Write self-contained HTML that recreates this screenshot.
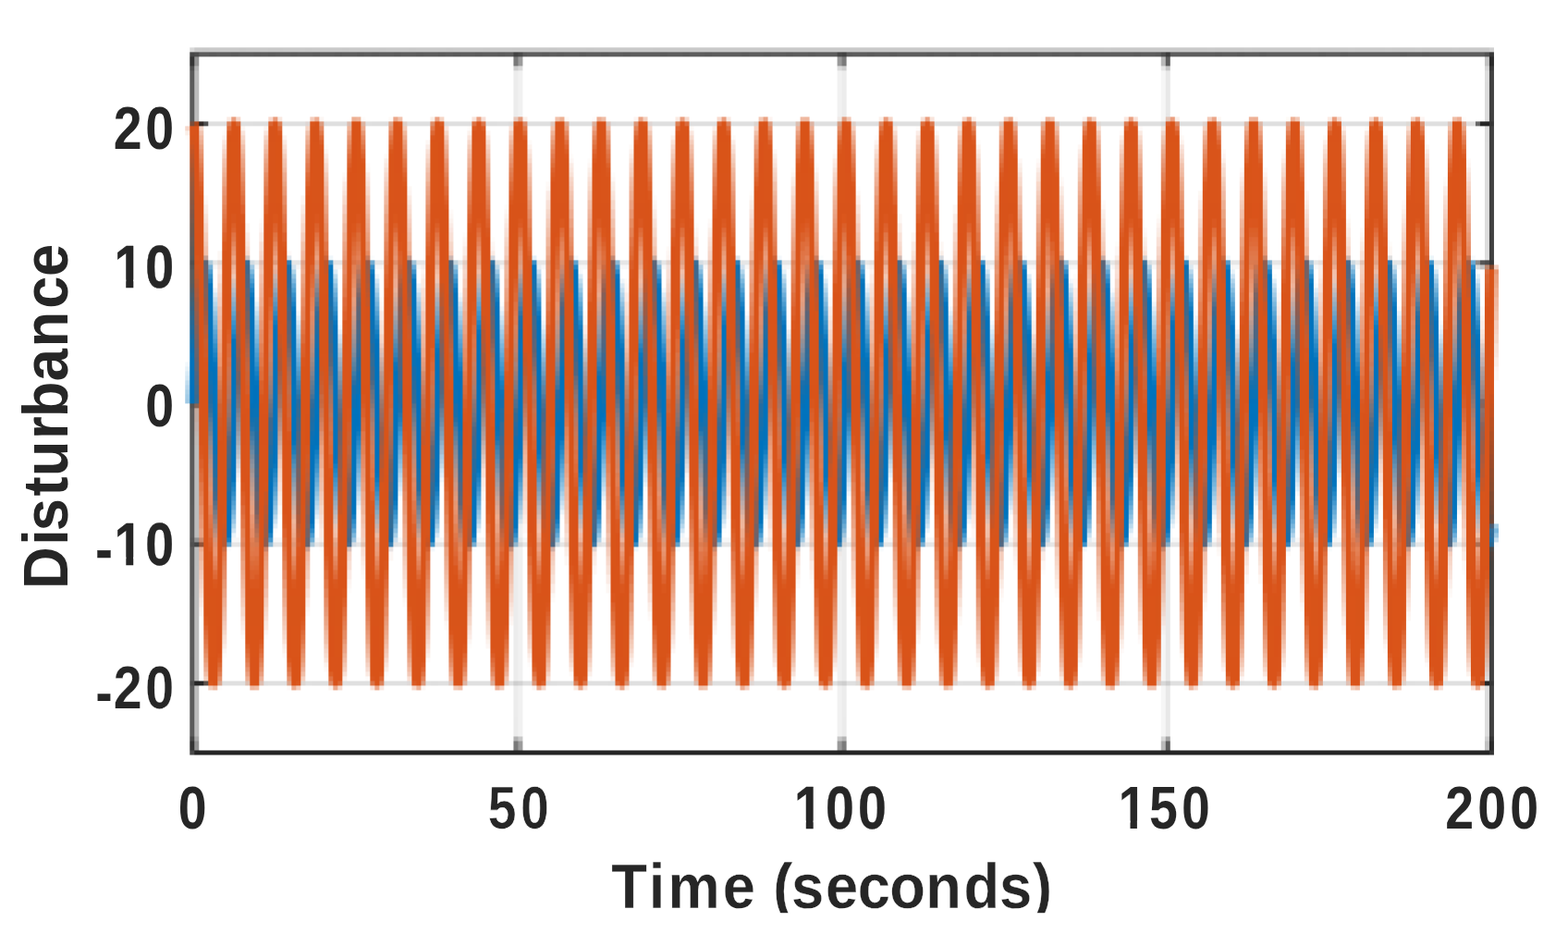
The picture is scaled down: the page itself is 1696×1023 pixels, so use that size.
<!DOCTYPE html>
<html lang="en"><head><meta charset="utf-8"><title>Disturbance vs Time</title>
<style>
html,body{margin:0;padding:0;background:#fff;}
body{width:1696px;height:1023px;overflow:hidden;position:relative;}
svg{position:absolute;left:0;top:0;display:block;}
text{font-family:"Liberation Sans",Arial,Helvetica,sans-serif;font-weight:bold;fill:#262626;stroke:#fff;stroke-linejoin:round;white-space:pre;}
.tk{font-size:64.5px;stroke-width:0px;}
.xl{font-size:68px;stroke-width:.3px;}
.yl{font-size:68px;stroke-width:0px;}
#axes rect,#grid rect{fill:#262626;}
#s1 path{fill:#0073BD;}
#s2 path{fill:#D9541A;}
</style></head><body>
<svg width="1696" height="1023" viewBox="0 0 1696 1023">
<rect x="0" y="0" width="1696" height="1023" fill="#ffffff"/>
<defs>
<linearGradient id="gx" gradientUnits="userSpaceOnUse" x1="0" y1="0" x2="1696" y2="0"><stop offset="0" stop-color="#000" stop-opacity=".162"/><stop offset="1" stop-color="#000" stop-opacity=".993"/></linearGradient>
<linearGradient id="gy" gradientUnits="userSpaceOnUse" x1="0" y1="0" x2="0" y2="1023"><stop offset="0" stop-color="#000" stop-opacity=".356"/><stop offset="1" stop-color="#000" stop-opacity=".4788"/></linearGradient>
<mask id="mx" maskUnits="userSpaceOnUse" maskContentUnits="userSpaceOnUse" x="0" y="0" width="1696" height="1023" style="mask-type:alpha"><rect x="0" y="0" width="1696" height="1023" fill="url(#gx)"/></mask>
<mask id="my" maskUnits="userSpaceOnUse" maskContentUnits="userSpaceOnUse" x="0" y="0" width="1696" height="1023" style="mask-type:alpha"><rect x="0" y="0" width="1696" height="1023" fill="url(#gy)"/></mask>
<g id="plot" transform="translate(0 1) scale(5)">
<rect x="36" y="6" width="294" height="160" fill="#fff"/>
<g id="grid">
<rect x="41" y="11" width="1" height="1" fill-opacity=".082"/>
<rect x="42" y="11" width="1" height="1" fill-opacity=".03"/>
<rect x="41" y="12" width="1" height="150" fill-opacity=".109"/>
<rect x="42" y="12" width="1" height="150" fill-opacity=".041"/>
<rect x="41" y="162" width="1" height="1" fill-opacity=".055"/>
<rect x="42" y="162" width="1" height="1" fill-opacity=".02"/>
<rect x="111" y="11" width="1" height="1" fill-opacity=".066"/>
<rect x="112" y="11" width="1" height="1" fill-opacity=".047"/>
<rect x="111" y="12" width="1" height="150" fill-opacity=".087"/>
<rect x="112" y="12" width="1" height="150" fill-opacity=".063"/>
<rect x="111" y="162" width="1" height="1" fill-opacity=".044"/>
<rect x="112" y="162" width="1" height="1" fill-opacity=".031"/>
<rect x="181" y="11" width="1" height="1" fill-opacity=".049"/>
<rect x="182" y="11" width="1" height="1" fill-opacity=".064"/>
<rect x="181" y="12" width="1" height="150" fill-opacity=".065"/>
<rect x="182" y="12" width="1" height="150" fill-opacity=".085"/>
<rect x="181" y="162" width="1" height="1" fill-opacity=".033"/>
<rect x="182" y="162" width="1" height="1" fill-opacity=".042"/>
<rect x="251" y="11" width="1" height="1" fill-opacity=".032"/>
<rect x="252" y="11" width="1" height="1" fill-opacity=".08"/>
<rect x="251" y="12" width="1" height="150" fill-opacity=".043"/>
<rect x="252" y="12" width="1" height="150" fill-opacity=".107"/>
<rect x="251" y="162" width="1" height="1" fill-opacity=".022"/>
<rect x="252" y="162" width="1" height="1" fill-opacity=".053"/>
<rect x="321" y="11" width="1" height="1" fill-opacity=".016"/>
<rect x="322" y="11" width="1" height="1" fill-opacity=".097"/>
<rect x="321" y="12" width="1" height="150" fill-opacity=".021"/>
<rect x="322" y="12" width="1" height="150" fill-opacity=".129"/>
<rect x="321" y="162" width="1" height="1" fill-opacity=".01"/>
<rect x="322" y="162" width="1" height="1" fill-opacity=".065"/>
<rect x="41" y="147" width="1" height="1" fill-opacity=".034"/>
<rect x="42" y="147" width="280" height="1" fill-opacity=".15"/>
<rect x="322" y="147" width="1" height="1" fill-opacity=".054"/>
<rect x="41" y="116" width="1" height="1" fill-opacity=".009"/>
<rect x="42" y="116" width="280" height="1" fill-opacity=".037"/>
<rect x="322" y="116" width="1" height="1" fill-opacity=".014"/>
<rect x="41" y="117" width="1" height="1" fill-opacity=".026"/>
<rect x="42" y="117" width="280" height="1" fill-opacity=".112"/>
<rect x="322" y="117" width="1" height="1" fill-opacity=".041"/>
<rect x="41" y="86" width="1" height="2" fill-opacity=".017"/>
<rect x="42" y="86" width="280" height="2" fill-opacity=".075"/>
<rect x="322" y="86" width="1" height="2" fill-opacity=".027"/>
<rect x="41" y="56" width="1" height="1" fill-opacity=".026"/>
<rect x="42" y="56" width="280" height="1" fill-opacity=".112"/>
<rect x="322" y="56" width="1" height="1" fill-opacity=".041"/>
<rect x="41" y="57" width="1" height="1" fill-opacity=".009"/>
<rect x="42" y="57" width="280" height="1" fill-opacity=".037"/>
<rect x="322" y="57" width="1" height="1" fill-opacity=".014"/>
<rect x="41" y="26" width="1" height="1" fill-opacity=".034"/>
<rect x="42" y="26" width="280" height="1" fill-opacity=".15"/>
<rect x="322" y="26" width="1" height="1" fill-opacity=".054"/>
</g>
<g id="axes">
<rect x="41" y="11" width="1" height="1" fill-opacity=".182"/>
<rect x="42" y="11" width="1" height="1" fill-opacity=".068"/>
<rect x="41" y="12" width="1" height="150" fill-opacity=".73"/>
<rect x="42" y="12" width="1" height="150" fill-opacity=".27"/>
<rect x="321" y="11" width="1" height="1" fill-opacity=".035"/>
<rect x="322" y="11" width="1" height="1" fill-opacity=".215"/>
<rect x="321" y="12" width="1" height="150" fill-opacity=".14"/>
<rect x="322" y="12" width="1" height="150" fill-opacity=".86"/>
<rect x="41" y="10" width="1" height="1" fill-opacity=".182"/>
<rect x="42" y="10" width="280" height="1" fill-opacity=".25"/>
<rect x="322" y="10" width="1" height="1" fill-opacity=".215"/>
<rect x="41" y="11" width="1" height="1" fill-opacity=".547"/>
<rect x="42" y="11" width="280" height="1" fill-opacity=".75"/>
<rect x="322" y="11" width="1" height="1" fill-opacity=".645"/>
<rect x="41" y="162" width="1" height="1" fill-opacity=".73"/>
<rect x="42" y="162" width="280" height="1"/>
<rect x="322" y="162" width="1" height="1" fill-opacity=".86"/>
<rect x="41" y="11" width="1" height="1" fill-opacity=".547"/>
<rect x="42" y="11" width="1" height="1" fill-opacity=".203"/>
<rect x="41" y="12" width="1" height="2" fill-opacity=".73"/>
<rect x="42" y="12" width="1" height="2" fill-opacity=".27"/>
<rect x="41" y="14" width="1" height="1" fill-opacity=".182"/>
<rect x="42" y="14" width="1" height="1" fill-opacity=".068"/>
<rect x="41" y="159" width="1" height="1" fill-opacity=".365"/>
<rect x="42" y="159" width="1" height="1" fill-opacity=".135"/>
<rect x="41" y="160" width="1" height="2" fill-opacity=".73"/>
<rect x="42" y="160" width="1" height="2" fill-opacity=".27"/>
<rect x="41" y="162" width="1" height="1" fill-opacity=".365"/>
<rect x="42" y="162" width="1" height="1" fill-opacity=".135"/>
<rect x="111" y="11" width="1" height="1" fill-opacity=".437"/>
<rect x="112" y="11" width="1" height="1" fill-opacity=".313"/>
<rect x="111" y="12" width="1" height="2" fill-opacity=".582"/>
<rect x="112" y="12" width="1" height="2" fill-opacity=".418"/>
<rect x="111" y="14" width="1" height="1" fill-opacity=".146"/>
<rect x="112" y="14" width="1" height="1" fill-opacity=".104"/>
<rect x="111" y="159" width="1" height="1" fill-opacity=".291"/>
<rect x="112" y="159" width="1" height="1" fill-opacity=".209"/>
<rect x="111" y="160" width="1" height="2" fill-opacity=".582"/>
<rect x="112" y="160" width="1" height="2" fill-opacity=".418"/>
<rect x="111" y="162" width="1" height="1" fill-opacity=".291"/>
<rect x="112" y="162" width="1" height="1" fill-opacity=".209"/>
<rect x="181" y="11" width="1" height="1" fill-opacity=".326"/>
<rect x="182" y="11" width="1" height="1" fill-opacity=".424"/>
<rect x="181" y="12" width="1" height="2" fill-opacity=".435"/>
<rect x="182" y="12" width="1" height="2" fill-opacity=".565"/>
<rect x="181" y="14" width="1" height="1" fill-opacity=".109"/>
<rect x="182" y="14" width="1" height="1" fill-opacity=".141"/>
<rect x="181" y="159" width="1" height="1" fill-opacity=".217"/>
<rect x="182" y="159" width="1" height="1" fill-opacity=".283"/>
<rect x="181" y="160" width="1" height="2" fill-opacity=".435"/>
<rect x="182" y="160" width="1" height="2" fill-opacity=".565"/>
<rect x="181" y="162" width="1" height="1" fill-opacity=".217"/>
<rect x="182" y="162" width="1" height="1" fill-opacity=".283"/>
<rect x="251" y="11" width="1" height="1" fill-opacity=".216"/>
<rect x="252" y="11" width="1" height="1" fill-opacity=".534"/>
<rect x="251" y="12" width="1" height="2" fill-opacity=".287"/>
<rect x="252" y="12" width="1" height="2" fill-opacity=".713"/>
<rect x="251" y="14" width="1" height="1" fill-opacity=".072"/>
<rect x="252" y="14" width="1" height="1" fill-opacity=".178"/>
<rect x="251" y="159" width="1" height="1" fill-opacity=".144"/>
<rect x="252" y="159" width="1" height="1" fill-opacity=".356"/>
<rect x="251" y="160" width="1" height="2" fill-opacity=".287"/>
<rect x="252" y="160" width="1" height="2" fill-opacity=".713"/>
<rect x="251" y="162" width="1" height="1" fill-opacity=".144"/>
<rect x="252" y="162" width="1" height="1" fill-opacity=".356"/>
<rect x="321" y="11" width="1" height="1" fill-opacity=".105"/>
<rect x="322" y="11" width="1" height="1" fill-opacity=".645"/>
<rect x="321" y="12" width="1" height="2" fill-opacity=".14"/>
<rect x="322" y="12" width="1" height="2" fill-opacity=".86"/>
<rect x="321" y="14" width="1" height="1" fill-opacity=".035"/>
<rect x="322" y="14" width="1" height="1" fill-opacity=".215"/>
<rect x="321" y="159" width="1" height="1" fill-opacity=".07"/>
<rect x="322" y="159" width="1" height="1" fill-opacity=".43"/>
<rect x="321" y="160" width="1" height="2" fill-opacity=".14"/>
<rect x="322" y="160" width="1" height="2" fill-opacity=".86"/>
<rect x="321" y="162" width="1" height="1" fill-opacity=".07"/>
<rect x="322" y="162" width="1" height="1" fill-opacity=".43"/>
<rect x="41" y="147" width="1" height="1" fill-opacity=".23"/>
<rect x="42" y="147" width="2" height="1"/>
<rect x="44" y="147" width="1" height="1" fill-opacity=".77"/>
<rect x="319" y="147" width="1" height="1" fill-opacity=".64"/>
<rect x="320" y="147" width="2" height="1"/>
<rect x="322" y="147" width="1" height="1" fill-opacity=".36"/>
<rect x="41" y="116" width="1" height="1" fill-opacity=".057"/>
<rect x="42" y="116" width="2" height="1" fill-opacity=".25"/>
<rect x="44" y="116" width="1" height="1" fill-opacity=".193"/>
<rect x="41" y="117" width="1" height="1" fill-opacity=".172"/>
<rect x="42" y="117" width="2" height="1" fill-opacity=".75"/>
<rect x="44" y="117" width="1" height="1" fill-opacity=".578"/>
<rect x="319" y="116" width="1" height="1" fill-opacity=".16"/>
<rect x="320" y="116" width="2" height="1" fill-opacity=".25"/>
<rect x="322" y="116" width="1" height="1" fill-opacity=".09"/>
<rect x="319" y="117" width="1" height="1" fill-opacity=".48"/>
<rect x="320" y="117" width="2" height="1" fill-opacity=".75"/>
<rect x="322" y="117" width="1" height="1" fill-opacity=".27"/>
<rect x="41" y="86" width="1" height="2" fill-opacity=".115"/>
<rect x="42" y="86" width="2" height="2" fill-opacity=".5"/>
<rect x="44" y="86" width="1" height="2" fill-opacity=".385"/>
<rect x="319" y="86" width="1" height="2" fill-opacity=".32"/>
<rect x="320" y="86" width="2" height="2" fill-opacity=".5"/>
<rect x="322" y="86" width="1" height="2" fill-opacity=".18"/>
<rect x="41" y="56" width="1" height="1" fill-opacity=".172"/>
<rect x="42" y="56" width="2" height="1" fill-opacity=".75"/>
<rect x="44" y="56" width="1" height="1" fill-opacity=".578"/>
<rect x="41" y="57" width="1" height="1" fill-opacity=".057"/>
<rect x="42" y="57" width="2" height="1" fill-opacity=".25"/>
<rect x="44" y="57" width="1" height="1" fill-opacity=".193"/>
<rect x="319" y="56" width="1" height="1" fill-opacity=".48"/>
<rect x="320" y="56" width="2" height="1" fill-opacity=".75"/>
<rect x="322" y="56" width="1" height="1" fill-opacity=".27"/>
<rect x="319" y="57" width="1" height="1" fill-opacity=".16"/>
<rect x="320" y="57" width="2" height="1" fill-opacity=".25"/>
<rect x="322" y="57" width="1" height="1" fill-opacity=".09"/>
<rect x="41" y="26" width="1" height="1" fill-opacity=".23"/>
<rect x="42" y="26" width="2" height="1"/>
<rect x="44" y="26" width="1" height="1" fill-opacity=".77"/>
<rect x="319" y="26" width="1" height="1" fill-opacity=".64"/>
<rect x="320" y="26" width="2" height="1"/>
<rect x="322" y="26" width="1" height="1" fill-opacity=".36"/>
</g>
<g id="s1">
<path fill-opacity=".016" d="m49 118h1v1h-1zm7-36h1v1h-1zm2-12h1v1h-1zm1 44h1v1h-1zm1-15h1v1h-1zm3 13h1v1h-1zm4-45h1v1h-1zm5-10h1v1h-1zm0 57h1v1h-1zm4-50h1v1h-1zm1 46h1v1h-1zm3-55h1v1h-1zm0 47h1v1h-1zm2-29h1v1h-1zm3 44h1v1h-1zm1-10h1v1h-1zm7-32h1v1h-1zm1 41h1v1h-1zm1-12h1v1h-1zm7 14h1v1h-1zm1-3h1v1h-1zm5-50h1v1h-1zm4 48h1v1h-1zm1-16h1v1h-1zm2 0h1v1h-1zm1 16h1v1h-1zm1-45h1v1h-1zm4 43h1v1h-1zm12-7h1v1h-1zm1 12h1v1h-1zm1-41h1v1h-1zm2 2h1v1h-1zm5 30h1v1h-1zm10-43h1v1h-1zm3 6h1v1h-1zm1-13h1v1h-1zm0 57h1v1h-1zm1-15h1v1h-1zm2-4h1v1h-1zm1 17h1v1h-1zm5 0h1v1h-1zm1-17h1v1h-1zm2 4h1v1h-1zm1-42h1v1h-1zm0 57h1v1h-1zm1-44h1v1h-1zm7-15h1v1h-1zm6 52h1v1h-1zm5-30h1v1h-1zm2-2h1v1h-1zm1 41h1v1h-1zm6-35h1v1h-1zm7-25h1v1h-1zm0 55h1v1h-1zm4-43h1v1h-1zm1 45h1v1h-1zm4 0h1v1h-1zm4-48h1v1h-1zm2 28h1v1h-1zm3-35h1v1h-1zm0 57h1v1h-1zm13-55h1v1h-1zm5 57h1v1h-1zm1-38h1v1h-1zm2-6h1v1h-1zm0 45h1v1h-1zm2-16h1v1h-1zm3 8h1v1h-1zm1-46h1v1h-1zm1 19h1v1h-1zm3-26h1v1h-1zm5 10h1v1h-1zm4 45h1v1h-1zm3-13h1v1h-1zm7-8h1v1h-1zm2-36h1v1h-1zm5 6h1v1h-1zm4 45h1v1h-1zm5-47h1v1h-1zm0 57h1v1h-1zm5-53h1v1h-1zm3 8h1v1h-1zm2 29h1v1h-1zm3-44h1v1h-1zm17 45h1v1h-1zm1-43h1v1h-1zm0 57h1v1h-1zm1-43h1v1h-1zm3 45h1v1h-1z"/>
<path fill-opacity=".031" d="m49 74h1v1h-1zm1-15h1v1h-1zm4 50h1v1h-1zm1-45h1v1h-1zm9 3h1v1h-1zm4 45h1v1h-1zm1-17h1v1h-1zm2 3h1v1h-1zm2-28h1v1h-1zm16 35h1v1h-1zm2-28h1v1h-1zm7 31h1v1h-1zm1 9h1v1h-1zm1-36h1v1h-1zm2-9h1v1h-1zm1-14h1v1h-1zm4-2h1v1h-1zm14 0h1v1h-1zm1 37h1v1h-1zm2 7h1v1h-1zm1-42h1v1h-1zm4 5h1v1h-1zm0 54h1v1h-1zm1-9h1v1h-1zm1-19h1v1h-1zm8 16h1v1h-1zm5-26h1v1h-1zm2 39h1v1h-1zm2-16h1v1h-1zm5-19h1v1h-1zm8-16h1v1h-1zm3 0h1v1h-1zm9-3h1v1h-1zm2 27h1v1h-1zm2 11h1v1h-1zm4-23h1v1h-1zm5 26h1v1h-1zm4 13h1v1h-1zm5-10h1v1h-1zm1-45h1v1h-1zm0 54h1v1h-1zm4-59h1v1h-1zm1 42h1v1h-1zm11-3h1v1h-1zm6-41h1v1h-1zm3-1h1v1h-1zm2 17h1v1h-1zm3 45h1v1h-1zm1-9h1v1h-1zm3-4h1v1h-1zm1 12h1v1h-1zm3-39h1v1h-1zm2 28h1v1h-1zm3 2h1v1h-1zm1-45h1v1h-1zm12 8h1v1h-1zm2 28h1v1h-1zm2-3h1v1h-1zm1 17h1v1h-1zm9 2h1v1h-1zm4-50h1v1h-1zm1 45h1v1h-1zm4-50h1v1h-1zm1 15h1v1h-1zm8-13h1v1h-1zm3 14h1v1h-1zm0 43h1v1h-1zm2-15h1v1h-1zm12 8h1v1h-1zm1-45h1v1h-1zm3 2h1v1h-1zm2 28h1v1h-1zm3-39h1v1h-1zm0 56h1v1h-1zm1-44h1v1h-1zm3-4h1v1h-1zm1-9h1v1h-1zm3-1h1v1h-1z"/>
<path fill-opacity=".047" d="m40 78h1v1h-1zm1-17h1v1h-1zm4 45h1v1h-1zm2-27h1v1h-1zm4 23h1v1h-1zm5-19h1v1h-1zm2-12h1v1h-1zm4 23h1v1h-1zm16-3h1v1h-1zm3 24h1v1h-1zm1-41h1v1h-1zm2 6h1v1h-1zm1-18h1v1h-1zm8 14h1v1h-1zm0 42h1v1h-1zm1-58h1v1h-1zm5 3h1v1h-1zm5 37h1v1h-1zm7-31h1v1h-1zm1-12h1v1h-1zm1 39h1v1h-1zm2 0h1v1h-1zm5-30h1v1h-1zm4-11h1v1h-1zm2 17h1v1h-1zm7 31h1v1h-1zm4-25h1v1h-1zm6-16h1v1h-1zm3 12h1v1h-1zm11 24h1v1h-1zm9-4h1v1h-1zm2-39h1v1h-1zm0 43h1v1h-1zm6 11h1v1h-1zm4-50h1v1h-1zm1 15h1v1h-1zm9 4h1v1h-1zm4 25h1v1h-1zm5-21h1v1h-1zm2-10h1v1h-1zm6-6h1v1h-1zm5 30h1v1h-1zm3-39h1v1h-1zm1 12h1v1h-1zm5 23h1v1h-1zm2 8h1v1h-1zm5-37h1v1h-1zm5-3h1v1h-1zm1 16h1v1h-1zm2 42h1v1h-1zm7-38h1v1h-1zm3 35h1v1h-1zm6-31h1v1h-1zm11-17h1v1h-1zm2 27h1v1h-1zm4-23h1v1h-1zm5 19h1v1h-1zm2 12h1v1h-1zm4-23h1v1h-1zm2 27h1v1h-1zm3-1h1v1h-1zm2-27h1v1h-1zm8 39h1v1h-1zm1-35h1v1h-1zm3-24h1v1h-1zm1 41h1v1h-1zm11-2h1v1h-1zm6 13h1v1h-1zm1-18h1v1h-1zm4-19h1v1h-1zm2 38h1v1h-1z"/>
<path fill-opacity=".062" d="m46 62h1v1h-1zm14 36h1v1h-1zm7-30h1v1h-1zm4-13h1v1h-1zm5 10h1v1h-1zm1-9h1v1h-1zm0 53h1v1h-1zm3-8h1v1h-1zm1-42h1v1h-1zm9 57h1v1h-1zm1-38h1v1h-1zm4 25h1v1h-1zm12 7h1v1h-1zm1-44h1v1h-1zm8-9h1v1h-1zm1 12h1v1h-1zm5 23h1v1h-1zm12-32h1v1h-1zm1 16h1v1h-1zm2 42h1v1h-1zm1-57h1v1h-1zm4 45h1v1h-1zm2-26h1v1h-1zm3-21h1v1h-1zm0 56h1v1h-1zm4-59h1v1h-1zm0 53h1v1h-1zm4-38h1v1h-1zm4 23h1v1h-1zm11-23h1v1h-1zm5 19h1v1h-1zm3 25h1v1h-1zm4-53h1v1h-1zm1 44h1v1h-1zm4-45h1v1h-1zm3 15h1v1h-1zm18-7h1v1h-1zm1-12h1v1h-1zm3 39h1v1h-1zm5-30h1v1h-1zm1 44h1v1h-1zm12-7h1v1h-1zm5 13h1v1h-1zm8-42h1v1h-1zm2 27h1v1h-1zm3-45h1v1h-1zm1 9h1v1h-1zm9 3h1v1h-1zm4 43h1v1h-1zm3-56h1v1h-1zm0 43h1v1h-1zm5 19h1v1h-1zm6-42h1v1h-1zm16 33h1v1h-1zm4-36h1v1h-1zm1 42h1v1h-1zm21-14h1v1h-1z"/>
<path fill-opacity=".078" d="m49 75h1v1h-1zm1 40h1v1h-1zm4-59h1v1h-1zm1 61h1v1h-1zm8-6h1v1h-1zm6-17h1v1h-1zm2 3h1v1h-1zm1 16h1v1h-1zm1-42h1v1h-1zm3 46h1v1h-1zm8 1h1v1h-1zm2-12h1v1h-1zm3-2h1v1h-1zm1-43h1v1h-1zm8 46h1v1h-1zm2-25h1v1h-1zm2-9h1v1h-1zm14 39h1v1h-1zm5-2h1v1h-1zm3-11h1v1h-1zm1 15h1v1h-1zm13 2h1v1h-1zm10-15h1v1h-1zm4-36h1v1h-1zm0 52h1v1h-1zm1-33h1v1h-1zm7 27h1v1h-1zm1-43h1v1h-1zm3 0h1v1h-1zm1 43h1v1h-1zm8-46h1v1h-1zm0 52h1v1h-1zm1-61h1v1h-1zm3 45h1v1h-1zm4-21h1v1h-1zm0 38h1v1h-1zm10-58h1v1h-1zm9 54h1v1h-1zm1-15h1v1h-1zm2-7h1v1h-1zm1 18h1v1h-1zm5 2h1v1h-1zm3-57h1v1h-1zm11 18h1v1h-1zm4 34h1v1h-1zm7-29h1v1h-1zm1-17h1v1h-1zm1 43h1v1h-1zm3 2h1v1h-1zm5-47h1v1h-1zm4 50h1v1h-1zm5 4h1v1h-1zm1-16h1v1h-1zm2-3h1v1h-1zm15-38h1v1h-1zm4 59h1v1h-1zm4-53h1v1h-1zm6 17h1v1h-1zm2-3h1v1h-1zm1-16h1v1h-1zm5 4h1v1h-1zm12 5h1v1h-1zm1-12h1v1h-1zm0 55h1v1h-1zm1-17h1v1h-1zm2-40h1v1h-1zm0 41h1v1h-1zm2-26h1v1h-1zm5 21h1v1h-1z"/>
<path fill-opacity=".094" d="m40 79h1v1h-1zm7 1h1v1h-1zm4 21h1v1h-1zm4-36h1v1h-1zm1 19h1v1h-1zm3-26h1v1h-1zm3 35h1v1h-1zm2-25h1v1h-1zm14 22h1v1h-1zm25 24h1v1h-1zm1-15h1v1h-1zm22-26h1v1h-1zm2 45h1v1h-1zm2-11h1v1h-1zm9-3h1v1h-1zm7-29h1v1h-1zm10 38h1v1h-1zm23-38h1v1h-1zm7 29h1v1h-1zm1 12h1v1h-1zm8-9h1v1h-1zm1-43h1v1h-1zm3 9h1v1h-1zm11 22h1v1h-1zm4-25h1v1h-1zm8 44h1v1h-1zm10-37h1v1h-1zm17 40h1v1h-1zm3-46h1v1h-1zm11 22h1v1h-1zm3-35h1v1h-1zm5 50h1v1h-1zm1-19h1v1h-1zm2 12h1v1h-1zm4-21h1v1h-1zm0 38h1v1h-1zm11-16h1v1h-1zm5-19h1v1h-1zm6 9h1v1h-1zm1 18h1v1h-1zm1-43h1v1h-1zm12-1h1v1h-1z"/>
<path fill-opacity=".109" d="m45 105h1v1h-1zm9 3h1v1h-1zm4-36h1v1h-1zm1 41h1v1h-1zm1-16h1v1h-1zm8 14h1v1h-1zm12-11h1v1h-1zm2-25h1v1h-1zm2 6h1v1h-1zm1-18h1v1h-1zm6 16h1v1h-1zm2-2h1v1h-1zm6-13h1v1h-1zm7 27h1v1h-1zm5-21h1v1h-1zm1 42h1v1h-1zm1-17h1v1h-1zm2-40h1v1h-1zm0 40h1v1h-1zm2-25h1v1h-1zm3-3h1v1h-1zm2 24h1v1h-1zm7-27h1v1h-1zm4 38h1v1h-1zm2-25h1v1h-1zm2 2h1v1h-1zm7 2h1v1h-1zm9 4h1v1h-1zm3-27h1v1h-1zm1 39h1v1h-1zm2-4h1v1h-1zm7 0h1v1h-1zm2 4h1v1h-1zm1-39h1v1h-1zm0 55h1v1h-1zm1-41h1v1h-1zm4 36h1v1h-1zm1-19h1v1h-1zm13-10h1v1h-1zm2-2h1v1h-1zm2 25h1v1h-1zm5-19h1v1h-1zm6 8h1v1h-1zm2-24h1v1h-1zm3 3h1v1h-1zm4 25h1v1h-1zm1 17h1v1h-1zm6-21h1v1h-1zm2 8h1v1h-1zm4 19h1v1h-1zm15-55h1v1h-1zm1 18h1v1h-1zm2-6h1v1h-1zm2 25h1v1h-1zm5-15h1v1h-1zm6-30h1v1h-1zm1 2h1v1h-1zm0 54h1v1h-1zm4-43h1v1h-1zm4 29h1v1h-1zm2-25h1v1h-1zm3-7h1v1h-1zm6 11h1v1h-1zm4 29h1v1h-1zm3-1h1v1h-1zm1 12h1v1h-1zm8-60h1v1h-1zm4 17h1v1h-1zm2 25h1v1h-1zm17 11h1v1h-1zm3-10h1v1h-1zm1-40h1v1h-1zm1 15h1v1h-1zm2 44h1v1h-1z"/>
<path fill-opacity=".125" d="m41 62h1v1h-1zm8 14h1v1h-1zm13-21h1v1h-1zm5 14h1v1h-1zm1-12h1v1h-1zm1 36h1v1h-1zm2 3h1v1h-1zm1-38h1v1h-1zm3 60h1v1h-1zm1-52h1v1h-1zm2 23h1v1h-1zm17 13h1v1h-1zm5-19h1v1h-1zm2-9h1v1h-1zm6-7h1v1h-1zm16 31h1v1h-1zm18 7h1v1h-1zm1-42h1v1h-1zm5 37h1v1h-1zm3 8h1v1h-1zm4-36h1v1h-1zm4-17h1v1h-1zm18 45h1v1h-1zm4-19h1v1h-1zm1-18h1v1h-1zm1 42h1v1h-1zm4-43h1v1h-1zm8-6h1v1h-1zm6 42h1v1h-1zm16-31h1v1h-1zm0 50h1v1h-1zm5-58h1v1h-1zm1 15h1v1h-1zm2 9h1v1h-1zm1-19h1v1h-1zm4 38h1v1h-1zm4-23h1v1h-1zm2 24h1v1h-1zm13-37h1v1h-1zm4-8h1v1h-1zm1 38h1v1h-1zm2-3h1v1h-1zm2-24h1v1h-1zm8 44h1v1h-1zm9-53h1v1h-1zm9 2h1v1h-1zm1 18h1v1h-1zm2-3h1v1h-1zm1 38h1v1h-1zm4-8h1v1h-1zm8-52h1v1h-1zm7 39h1v1h-1zm2 1h1v1h-1zm1 17h1v1h-1zm1-41h1v1h-1zm3 46h1v1h-1zm2-27h1v1h-1zm3 24h1v1h-1z"/>
<path fill-opacity=".141" d="m40 80h1v1h-1zm6-17h1v1h-1zm0 53h1v1h-1zm1-35h1v1h-1zm3-21h1v1h-1zm1 40h1v1h-1zm5-15h1v1h-1zm6 7h1v1h-1zm11-20h1v1h-1zm4 36h1v1h-1zm9-3h1v1h-1zm3-2h1v1h-1zm1-41h1v1h-1zm3 16h1v1h-1zm1-17h1v1h-1zm4-5h1v1h-1zm0 50h1v1h-1zm5-47h1v1h-1zm1 39h1v1h-1zm3 11h1v1h-1zm1 8h1v1h-1zm7-23h1v1h-1zm5 23h1v1h-1zm5-58h1v1h-1zm1 15h1v1h-1zm4-18h1v1h-1zm4 59h1v1h-1zm4-53h1v1h-1zm8 14h1v1h-1zm6-10h1v1h-1zm5 30h1v1h-1zm3-39h1v1h-1zm1 12h1v1h-1zm3 0h1v1h-1zm1-12h1v1h-1zm8 9h1v1h-1zm5-6h1v1h-1zm1 16h1v1h-1zm12 39h1v1h-1zm9-56h1v1h-1zm10 35h1v1h-1zm8 15h1v1h-1zm1-19h1v1h-1zm8-34h1v1h-1zm0 50h1v1h-1zm4-45h1v1h-1zm1 17h1v1h-1zm7 27h1v1h-1zm9 3h1v1h-1zm4-36h1v1h-1zm10 38h1v1h-1zm1-18h1v1h-1zm6 26h1v1h-1zm3-30h1v1h-1zm6-7h1v1h-1zm1-18h1v1h-1zm10 38h1v1h-1zm4-36h1v1h-1zm1 19h1v1h-1zm6 7h1v1h-1zm5-21h1v1h-1zm1 41h1v1h-1zm8-44h1v1h-1z"/>
<path fill-opacity=".156" d="m55 66h1v1h-1zm3 7h1v1h-1zm5-16h1v1h-1zm0 53h1v1h-1zm1-41h1v1h-1zm18 7h1v1h-1zm2 6h1v1h-1zm10 33h1v1h-1zm12-25h1v1h-1zm5-19h1v1h-1zm2 23h1v1h-1zm8 15h1v1h-1zm9-3h1v1h-1zm4-45h1v1h-1zm1 17h1v1h-1zm2 2h1v1h-1zm2 23h1v1h-1zm4 13h1v1h-1zm4-56h1v1h-1zm12 32h1v1h-1zm6 18h1v1h-1zm1-18h1v1h-1zm2 4h1v1h-1zm4 22h1v1h-1zm10-2h1v1h-1zm4-13h1v1h-1zm2-23h1v1h-1zm3-19h1v1h-1zm1 40h1v1h-1zm3 5h1v1h-1zm2-22h1v1h-1zm2-10h1v1h-1zm4-19h1v1h-1zm1 54h1v1h-1zm1 8h1v1h-1zm9-46h1v1h-1zm7 27h1v1h-1zm10 17h1v1h-1zm4-53h1v1h-1zm6 20h1v1h-1zm3 32h1v1h-1zm18-57h1v1h-1zm5 16h1v1h-1zm4 34h1v1h-1zm3-7h1v1h-1zm5 16h1v1h-1zm1-12h1v1h-1zm17 9h1v1h-1zm1-16h1v1h-1zm4-29h1v1h-1zm0 49h1v1h-1zm11 1h1v1h-1zm7-43h1v1h-1z"/>
<path fill-opacity=".172" d="m40 81h1v1h-1zm5 23h1v1h-1zm2-22h1v1h-1zm2-5h1v1h-1zm5 30h1v1h-1zm2-21h1v1h-1zm4 10h1v1h-1zm2-5h1v1h-1zm7 1h1v1h-1zm2 3h1v1h-1zm7-7h1v1h-1zm2 11h1v1h-1zm1-39h1v1h-1zm0 54h1v1h-1zm4 2h1v1h-1zm6-36h1v1h-1zm4 21h1v1h-1zm5-17h1v1h-1zm2-9h1v1h-1zm4-20h1v1h-1zm10 56h1v1h-1zm1-40h1v1h-1zm3-3h1v1h-1zm2 22h1v1h-1zm2 7h1v1h-1zm4-13h1v1h-1zm1-19h1v1h-1zm4 36h1v1h-1zm9 3h1v1h-1zm2-22h1v1h-1zm3 32h1v1h-1zm1-15h1v1h-1zm7-26h1v1h-1zm5 37h1v1h-1zm10-37h1v1h-1zm4 34h1v1h-1zm1-19h1v1h-1zm2 11h1v1h-1zm4-17h1v1h-1zm2 22h1v1h-1zm7-26h1v1h-1zm6-13h1v1h-1zm5 32h1v1h-1zm2-7h1v1h-1zm2-22h1v1h-1zm3 3h1v1h-1zm1 40h1v1h-1zm3-17h1v1h-1zm4 24h1v1h-1zm7-43h1v1h-1zm2 9h1v1h-1zm5 17h1v1h-1zm4-21h1v1h-1zm6-16h1v1h-1zm3 12h1v1h-1zm1-16h1v1h-1zm1 39h1v1h-1zm2-44h1v1h-1zm0 33h1v1h-1zm6 24h1v1h-1zm1-17h1v1h-1zm2-3h1v1h-1zm2-22h1v1h-1zm3-1h1v1h-1zm2 22h1v1h-1zm2 5h1v1h-1zm5-30h1v1h-1zm6 11h1v1h-1zm2 5h1v1h-1zm5 21h1v1h-1zm2-22h1v1h-1zm2-3h1v1h-1zm1-17h1v1h-1zm4 45h1v1h-1zm2-21h1v1h-1zm2-11h1v1h-1zm1-15h1v1h-1zm4 50h1v1h-1zm6-16h1v1h-1zm2 1h1v1h-1zm1-36h1v1h-1zm6 31h1v1h-1zm2 9h1v1h-1z"/>
<path fill-opacity=".188" d="m51 99h1v1h-1zm2-12h1v1h-1zm11 30h1v1h-1zm3-47h1v1h-1zm1 40h1v1h-1zm4 2h1v1h-1zm1-39h1v1h-1zm3-6h1v1h-1zm8 16h1v1h-1zm1-19h1v1h-1zm1 40h1v1h-1zm3-2h1v1h-1zm4-23h1v1h-1zm6-14h1v1h-1zm5 32h1v1h-1zm4-29h1v1h-1zm4 43h1v1h-1zm3-18h1v1h-1zm10 20h1v1h-1zm1-38h1v1h-1zm17-11h1v1h-1zm3 13h1v1h-1zm5 30h1v1h-1zm5 5h1v1h-1zm1-17h1v1h-1zm4-25h1v1h-1zm8 42h1v1h-1zm9 2h1v1h-1zm1-37h1v1h-1zm21 36h1v1h-1zm10-20h1v1h-1zm3-35h1v1h-1zm0 53h1v1h-1zm4-43h1v1h-1zm2 21h1v1h-1zm7-24h1v1h-1zm6 14h1v1h-1zm4 23h1v1h-1zm4 14h1v1h-1zm1-33h1v1h-1zm8-16h1v1h-1zm3 6h1v1h-1zm5 37h1v1h-1zm15-23h1v1h-1zm12-24h1v1h-1zm5 37h1v1h-1zm11-10h1v1h-1zm5-19h1v1h-1zm6 1h1v1h-1zm4 36h1v1h-1z"/>
<path fill-opacity=".203" d="m41 63h1v1h-1zm9 51h1v1h-1zm3-59h1v1h-1zm6 57h1v1h-1zm18-5h1v1h-1zm5-30h1v1h-1zm16 28h1v1h-1zm5 8h1v1h-1zm3-24h1v1h-1zm1 19h1v1h-1zm4-36h1v1h-1zm1-14h1v1h-1zm1 35h1v1h-1zm6 25h1v1h-1zm9-33h1v1h-1zm7-6h1v1h-1zm2 2h1v1h-1zm2 21h1v1h-1zm3-46h1v1h-1zm8-1h1v1h-1zm0 32h1v1h-1zm2-20h1v1h-1zm7 24h1v1h-1zm5-21h1v1h-1zm2 21h1v1h-1zm2 4h1v1h-1zm5-28h1v1h-1zm2 20h1v1h-1zm7-23h1v1h-1zm4 38h1v1h-1zm1-39h1v1h-1zm1 18h1v1h-1zm2-2h1v1h-1zm2 21h1v1h-1zm5-15h1v1h-1zm2-10h1v1h-1zm15-3h1v1h-1zm4 36h1v1h-1zm3-11h1v1h-1zm1 16h1v1h-1zm5-8h1v1h-1zm12-49h1v1h-1zm0 48h1v1h-1zm9 3h1v1h-1zm12 11h1v1h-1zm1-1h1v1h-1zm1-8h1v1h-1zm4-50h1v1h-1zm0 53h1v1h-1zm1-38h1v1h-1zm7 25h1v1h-1zm1 15h1v1h-1zm16-59h1v1h-1zm2 11h1v1h-1zm5 30h1v1h-1zm3-39h1v1h-1zm1 12h1v1h-1zm8 42h1v1h-1zm4-43h1v1h-1zm5-8h1v1h-1zm1 16h1v1h-1z"/>
<path fill-opacity=".219" d="m45 103h1v1h-1zm1-39h1v1h-1zm4-3h1v1h-1zm5 6h1v1h-1zm3 7h1v1h-1zm1-15h1v1h-1zm1 36h1v1h-1zm3 14h1v1h-1zm1-39h1v1h-1zm2 48h1v1h-1zm3-27h1v1h-1zm11 7h1v1h-1zm6-42h1v1h-1zm5 25h1v1h-1zm3-19h1v1h-1zm3-7h1v1h-1zm3 30h1v1h-1zm16-27h1v1h-1zm5-1h1v1h-1zm0 51h1v1h-1zm1-19h1v1h-1zm8 16h1v1h-1zm3-5h1v1h-1zm5-37h1v1h-1zm6 20h1v1h-1zm19 35h1v1h-1zm1-1h1v1h-1zm6-43h1v1h-1zm2 13h1v1h-1zm9-4h1v1h-1zm2-27h1v1h-1zm11-1h1v1h-1zm1 50h1v1h-1zm8-16h1v1h-1zm1-32h1v1h-1zm0 51h1v1h-1zm1-39h1v1h-1zm4-11h1v1h-1zm3 35h1v1h-1zm19-31h1v1h-1zm4 53h1v1h-1zm8-38h1v1h-1zm2 21h1v1h-1zm13 19h1v1h-1zm3-47h1v1h-1zm4 25h1v1h-1zm6 11h1v1h-1zm4-45h1v1h-1zm1 17h1v1h-1zm3-14h1v1h-1zm1 39h1v1h-1zm16-28h1v1h-1zm11 17h1v1h-1zm9-4h1v1h-1zm2 9h1v1h-1zm1 16h1v1h-1zm4 3h1v1h-1z"/>
<path fill-opacity=".234" d="m40 82h1v1h-1zm5-26h1v1h-1zm2 27h1v1h-1zm2-5h1v1h-1zm4 8h1v1h-1zm1 20h1v1h-1zm8-16h1v1h-1zm5-19h1v1h-1zm0 46h1v1h-1zm4-23h1v1h-1zm2-20h1v1h-1zm2 14h1v1h-1zm3-1h1v1h-1zm6-3h1v1h-1zm5 17h1v1h-1zm1-38h1v1h-1zm0 52h1v1h-1zm3-35h1v1h-1zm2 20h1v1h-1zm7-24h1v1h-1zm1-16h1v1h-1zm1 36h1v1h-1zm2-8h1v1h-1zm1-31h1v1h-1zm1 12h1v1h-1zm7 23h1v1h-1zm2-20h1v1h-1zm3-3h1v1h-1zm4 27h1v1h-1zm2-20h1v1h-1zm3-10h1v1h-1zm5-4h1v1h-1zm4 53h1v1h-1zm4-12h1v1h-1zm4-25h1v1h-1zm2 20h1v1h-1zm7-24h1v1h-1zm1-15h1v1h-1zm1 35h1v1h-1zm3 15h1v1h-1zm1 8h1v1h-1zm4-8h1v1h-1zm1-19h1v1h-1zm2 4h1v1h-1zm1-35h1v1h-1zm5 47h1v1h-1zm3-8h1v1h-1zm1-37h1v1h-1zm1 17h1v1h-1zm4 25h1v1h-1zm5-21h1v1h-1zm8-16h1v1h-1zm1 20h1v1h-1zm2-10h1v1h-1zm2 20h1v1h-1zm7-24h1v1h-1zm2 20h1v1h-1zm7-23h1v1h-1zm1-12h1v1h-1zm1 31h1v1h-1zm3-28h1v1h-1zm1 16h1v1h-1zm2 9h1v1h-1zm1 31h1v1h-1zm4-16h1v1h-1zm2-20h1v1h-1zm2 1h1v1h-1zm1-18h1v1h-1zm1 38h1v1h-1zm5-17h1v1h-1zm6 3h1v1h-1zm5-13h1v1h-1zm2 20h1v1h-1zm2-3h1v1h-1zm2-20h1v1h-1zm5 19h1v1h-1zm6-3h1v1h-1zm1-20h1v1h-1zm2 19h1v1h-1zm6-3h1v1h-1zm2-27h1v1h-1zm3 46h1v1h-1zm2-20h1v1h-1zm2-3h1v1h-1zm2 20h1v1h-1zm2-14h1v1h-1zm1 20h1v1h-1zm2-19h1v1h-1zm6 3h1v1h-1zm1 19h1v1h-1zm3 10h1v1h-1zm1-46h1v1h-1zm1-14h1v1h-1zm0 52h1v1h-1zm3-17h1v1h-1zm2-20h1v1h-1z"/>
<path fill-opacity=".25" d="m51 98h1v1h-1zm17 11h1v1h-1zm4-50h1v1h-1zm0 52h1v1h-1zm4-43h1v1h-1zm1 38h1v1h-1zm4-45h1v1h-1zm1 17h1v1h-1zm3-13h1v1h-1zm1 38h1v1h-1zm13-37h1v1h-1zm0 50h1v1h-1zm11 2h1v1h-1zm1-45h1v1h-1zm2 19h1v1h-1zm3 18h1v1h-1zm6-22h1v1h-1zm3-28h1v1h-1zm3 26h1v1h-1zm7-6h1v1h-1zm2 2h1v1h-1zm4-27h1v1h-1zm3 29h1v1h-1zm3-23h1v1h-1zm3 25h1v1h-1zm1 20h1v1h-1zm8-16h1v1h-1zm2-19h1v1h-1zm3 0h1v1h-1zm11 15h1v1h-1zm12 29h1v1h-1zm3-35h1v1h-1zm1-18h1v1h-1zm9-2h1v1h-1zm7 58h1v1h-1zm2-8h1v1h-1zm3-18h1v1h-1zm2-19h1v1h-1zm7 23h1v1h-1zm5-30h1v1h-1zm12-11h1v1h-1zm1 48h1v1h-1zm1-38h1v1h-1zm4-4h1v1h-1zm5 7h1v1h-1zm4-9h1v1h-1zm0 52h1v1h-1zm4-2h1v1h-1zm10-34h1v1h-1zm7 23h1v1h-1zm14-36h1v1h-1zm0 52h1v1h-1zm7 4h1v1h-1zm2-6h1v1h-1zm1-17h1v1h-1zm17-38h1v1h-1zm0 50h1v1h-1zm5-30h1v1h-1z"/>
<path fill-opacity=".266" d="m41 64h1v1h-1zm1-8h1v1h-1zm16 19h1v1h-1zm2 19h1v1h-1zm4-23h1v1h-1zm5 19h1v1h-1zm9-4h1v1h-1zm2 11h1v1h-1zm1 16h1v1h-1zm10-31h1v1h-1zm7 22h1v1h-1zm2-18h1v1h-1zm7 21h1v1h-1zm5 3h1v1h-1zm13 2h1v1h-1zm4 4h1v1h-1zm4-17h1v1h-1zm1 15h1v1h-1zm5-13h1v1h-1zm4-36h1v1h-1zm9 3h1v1h-1zm2 50h1v1h-1zm2-7h1v1h-1zm13 0h1v1h-1zm3-23h1v1h-1zm1-20h1v1h-1zm8 16h1v1h-1zm1-19h1v1h-1zm4 36h1v1h-1zm5 13h1v1h-1zm1-15h1v1h-1zm2-15h1v1h-1zm2 32h1v1h-1zm4-4h1v1h-1zm3-24h1v1h-1zm10 22h1v1h-1zm5-3h1v1h-1zm9-3h1v1h-1zm6 14h1v1h-1zm1-36h1v1h-1zm8 36h1v1h-1zm1-40h1v1h-1zm1 35h1v1h-1zm1-16h1v1h-1zm2-11h1v1h-1zm1 20h1v1h-1zm3 12h1v1h-1zm5-28h1v1h-1zm9 4h1v1h-1zm11-15h1v1h-1zm4 23h1v1h-1zm4-38h1v1h-1zm0 51h1v1h-1zm9-48h1v1h-1zm3 9h1v1h-1zm1-16h1v1h-1zm5 10h1v1h-1zm3 47h1v1h-1zm2-26h1v1h-1zm7-22h1v1h-1zm2 18h1v1h-1zm2 9h1v1h-1z"/>
<path fill-opacity=".281" d="m40 83h1v1h-1zm4-28h1v1h-1zm1 47h1v1h-1zm1-37h1v1h-1zm1 19h1v1h-1zm2-5h1v1h-1zm6-11h1v1h-1zm2 50h1v1h-1zm2-7h1v1h-1zm3-22h1v1h-1zm1 19h1v1h-1zm5-50h1v1h-1zm3 35h1v1h-1zm23 21h1v1h-1zm1-15h1v1h-1zm7-22h1v1h-1zm15-4h1v1h-1zm3-3h1v1h-1zm1 37h1v1h-1zm3-12h1v1h-1zm6 9h1v1h-1zm6 14h1v1h-1zm2-54h1v1h-1zm9 49h1v1h-1zm1-16h1v1h-1zm7-22h1v1h-1zm15 0h1v1h-1zm7 22h1v1h-1zm1 16h1v1h-1zm5-11h1v1h-1zm2-47h1v1h-1zm1 1h1v1h-1zm1 8h1v1h-1zm2 54h1v1h-1zm6-14h1v1h-1zm3 14h1v1h-1zm3-23h1v1h-1zm3 12h1v1h-1zm1-37h1v1h-1zm3 3h1v1h-1zm0 44h1v1h-1zm15-40h1v1h-1zm2 9h1v1h-1zm5 13h1v1h-1zm1 15h1v1h-1zm23-21h1v1h-1zm3-35h1v1h-1zm1 14h1v1h-1zm3-1h1v1h-1zm1 37h1v1h-1zm1-19h1v1h-1zm6-1h1v1h-1zm2 17h1v1h-1zm7-21h1v1h-1zm1-19h1v1h-1zm3-10h1v1h-1zm1 1h1v1h-1zm0 45h1v1h-1zm2-18h1v1h-1zm1 35h1v1h-1zm1-38h1v1h-1zm6 36h1v1h-1zm1-29h1v1h-1zm6 1h1v1h-1zm9 4h1v1h-1zm1 18h1v1h-1z"/>
<path fill-opacity=".297" d="m50 113h1v1h-1zm1-16h1v1h-1zm2-12h1v1h-1zm1 20h1v1h-1zm6-12h1v1h-1zm7-21h1v1h-1zm6 3h1v1h-1zm2 14h1v1h-1zm7-10h1v1h-1zm2 6h1v1h-1zm2 17h1v1h-1zm2-47h1v1h-1zm1 1h1v1h-1zm0 44h1v1h-1zm1-36h1v1h-1zm1 19h1v1h-1zm2-2h1v1h-1zm1-18h1v1h-1zm3 20h1v1h-1zm4 35h1v1h-1zm2-6h1v1h-1zm1-17h1v1h-1zm2-8h1v1h-1zm2-17h1v1h-1zm5 21h1v1h-1zm2 0h1v1h-1zm7-4h1v1h-1zm4-10h1v1h-1zm2 10h1v1h-1zm1-20h1v1h-1zm6 14h1v1h-1zm2 2h1v1h-1zm2-27h1v1h-1zm3 46h1v1h-1zm2-17h1v1h-1zm2-6h1v1h-1zm4 6h1v1h-1zm1 20h1v1h-1zm6-12h1v1h-1zm2-4h1v1h-1zm1-31h1v1h-1zm1 14h1v1h-1zm4-14h1v1h-1zm0 50h1v1h-1zm1-19h1v1h-1zm2 4h1v1h-1zm4-4h1v1h-1zm2 16h1v1h-1zm5-26h1v1h-1zm2 6h1v1h-1zm7-2h1v1h-1zm2-2h1v1h-1zm6-14h1v1h-1zm1 20h1v1h-1zm2-10h1v1h-1zm4 10h1v1h-1zm7 4h1v1h-1zm2 0h1v1h-1zm2-17h1v1h-1zm3-4h1v1h-1zm2 17h1v1h-1zm2 8h1v1h-1zm1 17h1v1h-1zm9-49h1v1h-1zm1 18h1v1h-1zm3-17h1v1h-1zm1 36h1v1h-1zm5-15h1v1h-1zm2-6h1v1h-1zm5-22h1v1h-1zm1 12h1v1h-1zm3 6h1v1h-1zm14 36h1v1h-1zm1-35h1v1h-1zm3-8h1v1h-1zm4 29h1v1h-1zm15 1h1v1h-1zm2-14h1v1h-1zm1 20h1v1h-1zm6-10h1v1h-1zm3 13h1v1h-1zm4-34h1v1h-1zm1 36h1v1h-1zm4-50h1v1h-1zm1 15h1v1h-1zm2 16h1v1h-1zm7-12h1v1h-1z"/>
<path fill-opacity=".312" d="m46 115h1v1h-1zm1-30h1v1h-1zm1 33h1v1h-1zm1-38h1v1h-1zm1-18h1v1h-1zm8 14h1v1h-1zm1-16h1v1h-1zm4-2h1v1h-1zm1 14h1v1h-1zm4 36h1v1h-1zm1-19h1v1h-1zm2 3h1v1h-1zm5-23h1v1h-1zm1-12h1v1h-1zm0 48h1v1h-1zm1-20h1v1h-1zm2 11h1v1h-1zm5-30h1v1h-1zm7 52h1v1h-1zm6-15h1v1h-1zm1-36h1v1h-1zm1 20h1v1h-1zm11-13h1v1h-1zm0 43h1v1h-1zm1-58h1v1h-1zm4 50h1v1h-1zm17-11h1v1h-1zm1-35h1v1h-1zm5 37h1v1h-1zm4 15h1v1h-1zm2 3h1v1h-1zm2-56h1v1h-1zm13 46h1v1h-1zm4-36h1v1h-1zm14-10h1v1h-1zm8 38h1v1h-1zm5-37h1v1h-1zm1 35h1v1h-1zm2-15h1v1h-1zm15 26h1v1h-1zm4-50h1v1h-1zm9 2h1v1h-1zm1 17h1v1h-1zm2 9h1v1h-1zm1-20h1v1h-1zm1 36h1v1h-1zm7-20h1v1h-1zm2-27h1v1h-1zm3 46h1v1h-1zm1-36h1v1h-1zm5 30h1v1h-1zm2-11h1v1h-1zm7 7h1v1h-1zm2-3h1v1h-1zm6-31h1v1h-1zm3 35h1v1h-1zm1-33h1v1h-1zm9 2h1v1h-1zm0 51h1v1h-1zm1-33h1v1h-1zm3 35h1v1h-1zm6-31h1v1h-1zm2-3h1v1h-1zm9-4h1v1h-1zm6-6h1v1h-1zm5 19h1v1h-1zm7-20h1v1h-1zm1 36h1v1h-1zm1-20h1v1h-1zm2 9h1v1h-1zm1-34h1v1h-1zm0 51h1v1h-1z"/>
<path fill-opacity=".328" d="m40 84h1v1h-1zm1-19h1v1h-1zm4 36h1v1h-1zm8-17h1v1h-1zm2 32h1v1h-1zm7-28h1v1h-1zm10 22h1v1h-1zm9-48h1v1h-1zm12 20h1v1h-1zm2 16h1v1h-1zm7-20h1v1h-1zm1-17h1v1h-1zm4 45h1v1h-1zm5 3h1v1h-1zm4-50h1v1h-1zm1 15h1v1h-1zm7 20h1v1h-1zm1-33h1v1h-1zm5 42h1v1h-1zm2-48h1v1h-1zm11 11h1v1h-1zm5 30h1v1h-1zm3-39h1v1h-1zm1 12h1v1h-1zm3 7h1v1h-1zm1-16h1v1h-1zm13 0h1v1h-1zm1 16h1v1h-1zm3-7h1v1h-1zm1-12h1v1h-1zm3 39h1v1h-1zm2-16h1v1h-1zm3-14h1v1h-1zm0 49h1v1h-1zm18-54h1v1h-1zm1 33h1v1h-1zm4-23h1v1h-1zm3 3h1v1h-1zm1-15h1v1h-1zm1 31h1v1h-1zm3 19h1v1h-1zm3-18h1v1h-1zm2 15h1v1h-1zm1-20h1v1h-1zm10-31h1v1h-1zm3 27h1v1h-1zm9 4h1v1h-1zm3-24h1v1h-1zm4 43h1v1h-1zm5 5h1v1h-1zm4-2h1v1h-1zm4-36h1v1h-1zm2 16h1v1h-1zm6 1h1v1h-1zm1 27h1v1h-1zm8-31h1v1h-1zm2 16h1v1h-1zm3-1h1v1h-1zm1-35h1v1h-1zm4-2h1v1h-1zm3 20h1v1h-1zm2-15h1v1h-1zm1 20h1v1h-1zm3 23h1v1h-1zm3-24h1v1h-1zm9 4h1v1h-1z"/>
<path fill-opacity=".344" d="m46 66h1v1h-1zm5 30h1v1h-1zm3-39h1v1h-1zm0 47h1v1h-1zm1-35h1v1h-1zm8 38h1v1h-1zm4-34h1v1h-1zm5-13h1v1h-1zm1 16h1v1h-1zm2 14h1v1h-1zm4-35h1v1h-1zm5 31h1v1h-1zm1 29h1v1h-1zm5-1h1v1h-1zm7-32h1v1h-1zm7 12h1v1h-1zm2-8h1v1h-1zm9 4h1v1h-1zm5-19h1v1h-1zm1 35h1v1h-1zm5-28h1v1h-1zm11 6h1v1h-1zm5 17h1v1h-1zm4-21h1v1h-1zm6 36h1v1h-1zm4-6h1v1h-1zm1-18h1v1h-1zm2-4h1v1h-1zm7 0h1v1h-1zm2 4h1v1h-1zm1 18h1v1h-1zm4 6h1v1h-1zm10-15h1v1h-1zm4-36h1v1h-1zm1 19h1v1h-1zm7 19h1v1h-1zm2-15h1v1h-1zm2-10h1v1h-1zm1 33h1v1h-1zm4-5h1v1h-1zm26-8h1v1h-1zm5 16h1v1h-1zm1-15h1v1h-1zm4 16h1v1h-1zm18-42h1v1h-1zm4 34h1v1h-1zm8-38h1v1h-1zm1-12h1v1h-1zm0 47h1v1h-1zm2-49h1v1h-1zm6 11h1v1h-1zm9 47h1v1h-1zm1-16h1v1h-1zm16-23h1v1h-1zm6 1h1v1h-1zm2 16h1v1h-1zm10 22h1v1h-1z"/>
<path fill-opacity=".359" d="m40 85h1v1h-1zm7 1h1v1h-1zm2-5h1v1h-1zm9-4h1v1h-1zm2 15h1v1h-1zm9-4h1v1h-1zm2 3h1v1h-1zm5-21h1v1h-1zm0 46h1v1h-1zm4-21h1v1h-1zm1 17h1v1h-1zm1-32h1v1h-1zm4 21h1v1h-1zm3-2h1v1h-1zm2-15h1v1h-1zm8-16h1v1h-1zm1 20h1v1h-1zm2-9h1v1h-1zm6-8h1v1h-1zm3 4h1v1h-1zm2 15h1v1h-1zm6 2h1v1h-1zm3-6h1v1h-1zm3 25h1v1h-1zm3-23h1v1h-1zm1-20h1v1h-1zm4 29h1v1h-1zm2-15h1v1h-1zm3-17h1v1h-1zm1 34h1v1h-1zm2-19h1v1h-1zm3 6h1v1h-1zm6-2h1v1h-1zm1 20h1v1h-1zm10-31h1v1h-1zm3 0h1v1h-1zm1 34h1v1h-1zm7-17h1v1h-1zm2 14h1v1h-1zm2-49h1v1h-1zm5 31h1v1h-1zm5 13h1v1h-1zm1 15h1v1h-1zm3-32h1v1h-1zm2 15h1v1h-1zm2-15h1v1h-1zm2-14h1v1h-1zm5 25h1v1h-1zm2-7h1v1h-1zm9 4h1v1h-1zm2-15h1v1h-1zm2 17h1v1h-1zm1-21h1v1h-1zm4 23h1v1h-1zm2-15h1v1h-1zm2 9h1v1h-1zm6-24h1v1h-1zm3 20h1v1h-1zm4-4h1v1h-1zm1 21h1v1h-1zm4-21h1v1h-1zm1 32h1v1h-1zm1-17h1v1h-1zm2-11h1v1h-1zm2-14h1v1h-1zm0 46h1v1h-1zm3-40h1v1h-1zm1-16h1v1h-1zm1 31h1v1h-1zm2-3h1v1h-1zm7-1h1v1h-1zm2 5h1v1h-1zm2-15h1v1h-1zm7 19h1v1h-1zm2-15h1v1h-1zm2 5h1v1h-1zm7-1h1v1h-1zm2-3h1v1h-1zm5 21h1v1h-1zm4-25h1v1h-1zm1-17h1v1h-1zm1 32h1v1h-1zm3-35h1v1h-1zm0 48h1v1h-1zm1-34h1v1h-1zm4-13h1v1h-1zm0 49h1v1h-1zm1-19h1v1h-1zm2 1h1v1h-1zm1 19h1v1h-1zm5-4h1v1h-1zm1-20h1v1h-1zm2 9h1v1h-1zm2-15h1v1h-1z"/>
<path fill-opacity=".375" d="m40 86h1v1h-1zm4-7h1v1h-1zm1 21h1v1h-1zm5-37h1v1h-1zm3 20h1v1h-1zm6 27h1v1h-1zm3-23h1v1h-1zm2-14h1v1h-1zm4 34h1v1h-1zm7-16h1v1h-1zm2 13h1v1h-1zm7-17h1v1h-1zm1-20h1v1h-1zm5-2h1v1h-1zm3 18h1v1h-1zm1-19h1v1h-1zm0 49h1v1h-1zm1-16h1v1h-1zm3 5h1v1h-1zm5 9h1v1h-1zm12-22h1v1h-1zm2-14h1v1h-1zm4-17h1v1h-1zm2-3h1v1h-1zm1 38h1v1h-1zm10-29h1v1h-1zm0 49h1v1h-1zm4 1h1v1h-1zm9-2h1v1h-1zm1-17h1v1h-1zm4-25h1v1h-1zm3 7h1v1h-1zm0 40h1v1h-1zm2-26h1v1h-1zm3 16h1v1h-1zm10-30h1v1h-1zm3-7h1v1h-1zm4 25h1v1h-1zm1 17h1v1h-1zm1-31h1v1h-1zm9 4h1v1h-1zm3 28h1v1h-1zm13-55h1v1h-1zm4 17h1v1h-1zm2 14h1v1h-1zm9-4h1v1h-1zm1-30h1v1h-1zm2 56h1v1h-1zm4-43h1v1h-1zm1 34h1v1h-1zm3-46h1v1h-1zm2 27h1v1h-1zm3-18h1v1h-1zm5 2h1v1h-1zm1 20h1v1h-1zm7 17h1v1h-1zm4 13h1v1h-1zm8-23h1v1h-1zm1-21h1v1h-1zm5 37h1v1h-1zm3-20h1v1h-1zm6-27h1v1h-1zm5 37h1v1h-1zm3-1h1v1h-1zm8-17h1v1h-1zm9 4h1v1h-1zm14-15h1v1h-1zm3-16h1v1h-1z"/>
<path fill-opacity=".391" d="m41 66h1v1h-1zm9 46h1v1h-1zm1-17h1v1h-1zm4-25h1v1h-1zm3 47h1v1h-1zm1-56h1v1h-1zm8 13h1v1h-1zm1-15h1v1h-1zm2-4h1v1h-1zm3 22h1v1h-1zm24 4h1v1h-1zm7 12h1v1h-1zm2-8h1v1h-1zm1-27h1v1h-1zm0 47h1v1h-1zm5 3h1v1h-1zm1-19h1v1h-1zm1-34h1v1h-1zm2 53h1v1h-1zm4-36h1v1h-1zm6 7h1v1h-1zm2 10h1v1h-1zm2 13h1v1h-1zm3-46h1v1h-1zm2 27h1v1h-1zm2 2h1v1h-1zm6-18h1v1h-1zm3 14h1v1h-1zm1-18h1v1h-1zm3 20h1v1h-1zm9 4h1v1h-1zm7 0h1v1h-1zm1-32h1v1h-1zm1 36h1v1h-1zm10-28h1v1h-1zm4 4h1v1h-1zm1 33h1v1h-1zm8-36h1v1h-1zm4 38h1v1h-1zm2-13h1v1h-1zm2-10h1v1h-1zm6-7h1v1h-1zm4 36h1v1h-1zm2-53h1v1h-1zm7 50h1v1h-1zm3-12h1v1h-1zm1-31h1v1h-1zm8 35h1v1h-1zm1 16h1v1h-1zm5-15h1v1h-1zm16-21h1v1h-1zm1 32h1v1h-1zm2-54h1v1h-1zm2 4h1v1h-1zm0 48h1v1h-1zm1-33h1v1h-1zm6-19h1v1h-1zm2 6h1v1h-1zm5 42h1v1h-1zm4 9h1v1h-1zm9-46h1v1h-1zm0 48h1v1h-1zm5-18h1v1h-1zm3-39h1v1h-1zm1 12h1v1h-1zm12 6h1v1h-1zm3-20h1v1h-1zm2 5h1v1h-1zm1 16h1v1h-1zm2 16h1v1h-1zm6-30h1v1h-1zm0 49h1v1h-1zm4 4h1v1h-1z"/>
<path fill-opacity=".406" d="m46 67h1v1h-1zm8 36h1v1h-1zm4-25h1v1h-1zm2 13h1v1h-1zm3 15h1v1h-1zm6-19h1v1h-1zm3 22h1v1h-1zm9-46h1v1h-1zm1 18h1v1h-1zm7 17h1v1h-1zm2-13h1v1h-1zm8 30h1v1h-1zm1-26h1v1h-1zm3-27h1v1h-1zm5 10h1v1h-1zm11 21h1v1h-1zm2 12h1v1h-1zm1-20h1v1h-1zm7-16h1v1h-1zm1-12h1v1h-1zm9 41h1v1h-1zm2-19h1v1h-1zm1 21h1v1h-1zm2-13h1v1h-1zm16-28h1v1h-1zm1 15h1v1h-1zm4-15h1v1h-1zm7 32h1v1h-1zm9-4h1v1h-1zm6-21h1v1h-1zm3 17h1v1h-1zm5-26h1v1h-1zm1 12h1v1h-1zm7 16h1v1h-1zm1 20h1v1h-1zm8-16h1v1h-1zm1 19h1v1h-1zm1-32h1v1h-1zm3-4h1v1h-1zm1-14h1v1h-1zm8 57h1v1h-1zm17-34h1v1h-1zm1-18h1v1h-1zm1 31h1v1h-1zm11-7h1v1h-1zm6 19h1v1h-1zm3-15h1v1h-1zm2-13h1v1h-1zm3-8h1v1h-1zm4 25h1v1h-1zm5-28h1v1h-1zm9-3h1v1h-1zm4 38h1v1h-1zm4-23h1v1h-1zm1 31h1v1h-1zm1-18h1v1h-1zm9-4h1v1h-1zm7 28h1v1h-1zm2-32h1v1h-1zm4-4h1v1h-1z"/>
<path fill-opacity=".422" d="m44 78h1v1h-1zm1 21h1v1h-1zm2-12h1v1h-1zm2-5h1v1h-1zm4 0h1v1h-1zm9 4h1v1h-1zm2-12h1v1h-1zm7 16h1v1h-1zm4 2h1v1h-1zm1-21h1v1h-1zm4 23h1v1h-1zm4-6h1v1h-1zm2 12h1v1h-1zm4-34h1v1h-1zm3 18h1v1h-1zm2 12h1v1h-1zm3-39h1v1h-1zm0 44h1v1h-1zm1-32h1v1h-1zm3 11h1v1h-1zm4 4h1v1h-1zm5-8h1v1h-1zm1-16h1v1h-1zm3 28h1v1h-1zm2-12h1v1h-1zm7 16h1v1h-1zm1-30h1v1h-1zm4 53h1v1h-1zm4-19h1v1h-1zm5-30h1v1h-1zm8 16h1v1h-1zm2 12h1v1h-1zm3 9h1v1h-1zm4-25h1v1h-1zm1 31h1v1h-1zm1-19h1v1h-1zm6 5h1v1h-1zm1-21h1v1h-1zm1 32h1v1h-1zm1-20h1v1h-1zm2 4h1v1h-1zm1-29h1v1h-1zm0 48h1v1h-1zm1-31h1v1h-1zm4 25h1v1h-1zm3-9h1v1h-1zm2-12h1v1h-1zm7 16h1v1h-1zm2-12h1v1h-1zm4 10h1v1h-1zm2-15h1v1h-1zm2 34h1v1h-1zm4-53h1v1h-1zm0 48h1v1h-1zm1-18h1v1h-1zm7-16h1v1h-1zm2 12h1v1h-1zm3-28h1v1h-1zm3 33h1v1h-1zm1 23h1v1h-1zm2-32h1v1h-1zm4-4h1v1h-1zm2 9h1v1h-1zm1-20h1v1h-1zm1-12h1v1h-1zm0 44h1v1h-1zm3-5h1v1h-1zm2-12h1v1h-1zm2 1h1v1h-1zm4-6h1v1h-1zm1 21h1v1h-1zm1-32h1v1h-1zm1 20h1v1h-1zm6-5h1v1h-1zm2-12h1v1h-1zm5 19h1v1h-1zm6 5h1v1h-1zm1-21h1v1h-1zm2 12h1v1h-1zm6 5h1v1h-1zm7-9h1v1h-1zm2 5h1v1h-1zm1 27h1v1h-1zm1-15h1v1h-1zm2-22h1v1h-1zm1 21h1v1h-1zm2-12h1v1h-1zm2-3h1v1h-1zm4-2h1v1h-1zm9 4h1v1h-1zm1 20h1v1h-1zm1-32h1v1h-1zm4 34h1v1h-1zm3-18h1v1h-1zm1 19h1v1h-1zm3-15h1v1h-1zm1-21h1v1h-1zm1-14h1v1h-1zm0 46h1v1h-1zm3-11h1v1h-1z"/>
<path fill-opacity=".438" d="m46 114h1v1h-1zm5-20h1v1h-1zm8 15h1v1h-1zm1-19h1v1h-1zm3-31h1v1h-1zm3 37h1v1h-1zm1-21h1v1h-1zm1 31h1v1h-1zm4-45h1v1h-1zm1 17h1v1h-1zm4 25h1v1h-1zm4 8h1v1h-1zm1-29h1v1h-1zm3-14h1v1h-1zm9-3h1v1h-1zm3 15h1v1h-1zm6 30h1v1h-1zm1-18h1v1h-1zm4 24h1v1h-1zm5-28h1v1h-1zm3-28h1v1h-1zm3 34h1v1h-1zm1-21h1v1h-1zm0 43h1v1h-1zm2-32h1v1h-1zm3 26h1v1h-1zm1-30h1v1h-1zm2 10h1v1h-1zm2 11h1v1h-1zm5-17h1v1h-1zm2 2h1v1h-1zm7 2h1v1h-1zm6-6h1v1h-1zm2-11h1v1h-1zm4-10h1v1h-1zm3 25h1v1h-1zm1 20h1v1h-1zm13-35h1v1h-1zm8 17h1v1h-1zm2 11h1v1h-1zm7-15h1v1h-1zm5 17h1v1h-1zm4-21h1v1h-1zm6-7h1v1h-1zm4-13h1v1h-1zm3 28h1v1h-1zm6 16h1v1h-1zm3-12h1v1h-1zm10-27h1v1h-1zm4 1h1v1h-1zm1 31h1v1h-1zm8 14h1v1h-1zm4-8h1v1h-1zm4-25h1v1h-1zm1-17h1v1h-1zm5 14h1v1h-1zm4-16h1v1h-1zm4 50h1v1h-1zm22 3h1v1h-1zm1-17h1v1h-1zm4-25h1v1h-1zm0 45h1v1h-1zm4-53h1v1h-1zm8 14h1v1h-1zm6 1h1v1h-1z"/>
<path fill-opacity=".453" d="m41 67h1v1h-1zm9-3h1v1h-1zm4 38h1v1h-1zm1-31h1v1h-1zm3 8h1v1h-1zm11 7h1v1h-1zm11 7h1v1h-1zm5 21h1v1h-1zm4-17h1v1h-1zm1 16h1v1h-1zm1-27h1v1h-1zm9 4h1v1h-1zm7 14h1v1h-1zm1-31h1v1h-1zm8 34h1v1h-1zm5-3h1v1h-1zm13-39h1v1h-1zm0 47h1v1h-1zm5-15h1v1h-1zm2-19h1v1h-1zm1 21h1v1h-1zm1-31h1v1h-1zm0 46h1v1h-1zm4-3h1v1h-1zm14-36h1v1h-1zm11 17h1v1h-1zm6-28h1v1h-1zm0 47h1v1h-1zm4-43h1v1h-1zm0 46h1v1h-1zm9-49h1v1h-1zm0 47h1v1h-1zm1-17h1v1h-1zm2-15h1v1h-1zm9 4h1v1h-1zm2 32h1v1h-1zm4-9h1v1h-1zm5-30h1v1h-1zm3-4h1v1h-1zm5 37h1v1h-1zm12-24h1v1h-1zm1 27h1v1h-1zm8-31h1v1h-1zm2 11h1v1h-1zm2-11h1v1h-1zm1-24h1v1h-1zm6 31h1v1h-1zm2-3h1v1h-1zm1 20h1v1h-1zm8-16h1v1h-1zm2-11h1v1h-1zm3-8h1v1h-1zm1 31h1v1h-1zm3-46h1v1h-1zm0 38h1v1h-1zm1-30h1v1h-1zm1 19h1v1h-1zm8-16h1v1h-1zm12 13h1v1h-1zm0 37h1v1h-1zm2-26h1v1h-1zm8-31h1v1h-1zm1 27h1v1h-1zm9-4h1v1h-1zm3-20h1v1h-1zm1 18h1v1h-1z"/>
<path fill-opacity=".469" d="m46 68h1v1h-1zm1 20h1v1h-1zm2-5h1v1h-1zm1 28h1v1h-1zm3-30h1v1h-1zm9 4h1v1h-1zm1 20h1v1h-1zm8-16h1v1h-1zm1 19h1v1h-1zm5-50h1v1h-1zm9 41h1v1h-1zm8 13h1v1h-1zm8-31h1v1h-1zm9-4h1v1h-1zm1 30h1v1h-1zm17-37h1v1h-1zm4 25h1v1h-1zm5 18h1v1h-1zm9-49h1v1h-1zm16 32h1v1h-1zm1-21h1v1h-1zm6 4h1v1h-1zm4 23h1v1h-1zm11-26h1v1h-1zm1 21h1v1h-1zm1-30h1v1h-1zm0 46h1v1h-1zm9-43h1v1h-1zm5 21h1v1h-1zm3 13h1v1h-1zm6-17h1v1h-1zm3 20h1v1h-1zm3-13h1v1h-1zm6-31h1v1h-1zm1 18h1v1h-1zm2 9h1v1h-1zm6 22h1v1h-1zm1-27h1v1h-1zm6-7h1v1h-1zm1 21h1v1h-1zm1 15h1v1h-1zm9-42h1v1h-1zm4 36h1v1h-1zm9-3h1v1h-1zm1-20h1v1h-1zm6 7h1v1h-1zm6 19h1v1h-1zm3-23h1v1h-1zm1-20h1v1h-1zm6 19h1v1h-1zm2-3h1v1h-1zm1-19h1v1h-1zm4 36h1v1h-1zm8-17h1v1h-1zm2 32h1v1h-1zm7-28h1v1h-1zm9 4h1v1h-1zm1 18h1v1h-1z"/>
<path fill-opacity=".484" d="m44 77h1v1h-1zm1 21h1v1h-1zm6-5h1v1h-1zm8-31h1v1h-1zm1 27h1v1h-1zm4-14h1v1h-1zm2 22h1v1h-1zm1-21h1v1h-1zm2 9h1v1h-1zm4-6h1v1h-1zm2 14h1v1h-1zm1-21h1v1h-1zm1 30h1v1h-1zm4-38h1v1h-1zm1 19h1v1h-1zm2 6h1v1h-1zm6-22h1v1h-1zm1 20h1v1h-1zm2-2h1v1h-1zm2 10h1v1h-1zm2-16h1v1h-1zm1 21h1v1h-1zm1-30h1v1h-1zm3 47h1v1h-1zm1-54h1v1h-1zm1 28h1v1h-1zm2-8h1v1h-1zm7 4h1v1h-1zm2 0h1v1h-1zm2-10h1v1h-1zm2 18h1v1h-1zm1-21h1v1h-1zm2 9h1v1h-1zm2 8h1v1h-1zm2-10h1v1h-1zm2 10h1v1h-1zm2 9h1v1h-1zm5-15h1v1h-1zm2 2h1v1h-1zm1-20h1v1h-1zm3 10h1v1h-1zm3 12h1v1h-1zm2-6h1v1h-1zm2 10h1v1h-1zm2-12h1v1h-1zm1-23h1v1h-1zm0 44h1v1h-1zm1-30h1v1h-1zm3 7h1v1h-1zm1 29h1v1h-1zm1-19h1v1h-1zm2-4h1v1h-1zm1 20h1v1h-1zm5 0h1v1h-1zm1-20h1v1h-1zm2 4h1v1h-1zm1 19h1v1h-1zm3-15h1v1h-1zm1-21h1v1h-1zm1-14h1v1h-1zm3-2h1v1h-1zm0 37h1v1h-1zm2-10h1v1h-1zm2 6h1v1h-1zm2 9h1v1h-1zm5-11h1v1h-1zm2-2h1v1h-1zm9-4h1v1h-1zm0 36h1v1h-1zm4-34h1v1h-1zm2-9h1v1h-1zm3 3h1v1h-1zm4 10h1v1h-1zm7-4h1v1h-1zm2 8h1v1h-1zm5-21h1v1h-1zm1 30h1v1h-1zm3-5h1v1h-1zm6 1h1v1h-1zm3-39h1v1h-1zm1 12h1v1h-1zm1 20h1v1h-1zm3-25h1v1h-1zm4 38h1v1h-1zm4-23h1v1h-1zm6-3h1v1h-1zm2 20h1v1h-1zm1-21h1v1h-1zm4 14h1v1h-1zm1-27h1v1h-1zm4 53h1v1h-1zm4-22h1v1h-1zm6 5h1v1h-1zm2-22h1v1h-1zm1 21h1v1h-1zm1 16h1v1h-1zm5-19h1v1h-1zm2-14h1v1h-1zm6 29h1v1h-1zm1-19h1v1h-1zm3-31h1v1h-1zm0 45h1v1h-1zm1-30h1v1h-1zm2 24h1v1h-1zm1-21h1v1h-1zm1 29h1v1h-1zm1-20h1v1h-1zm3-25h1v1h-1zm0 46h1v1h-1zm1-29h1v1h-1zm2 16h1v1h-1zm1-21h1v1h-1zm1 30h1v1h-1zm5-21h1v1h-1z"/>
<path fill-opacity=".5" d="m47 89h1v1h-1zm7-31h1v1h-1zm1 14h1v1h-1zm0 43h1v1h-1zm3-35h1v1h-1zm1 28h1v1h-1zm9-48h1v1h-1zm0 45h1v1h-1zm12-49h1v1h-1zm0 36h1v1h-1zm5-23h1v1h-1zm1-12h1v1h-1zm2 18h1v1h-1zm1 21h1v1h-1zm5-30h1v1h-1zm13 37h1v1h-1zm4-25h1v1h-1zm10-19h1v1h-1zm4 4h1v1h-1zm0 46h1v1h-1zm17-52h1v1h-1zm0 41h1v1h-1zm1-29h1v1h-1zm13-7h1v1h-1zm5 14h1v1h-1zm2 21h1v1h-1zm6-35h1v1h-1zm4 53h1v1h-1zm19-21h1v1h-1zm2-15h1v1h-1zm1 21h1v1h-1zm5-37h1v1h-1zm0 46h1v1h-1zm4-50h1v1h-1zm9 2h1v1h-1zm1 17h1v1h-1zm4 25h1v1h-1zm7-12h1v1h-1zm6-25h1v1h-1zm3 21h1v1h-1zm1-20h1v1h-1zm8 16h1v1h-1zm2 9h1v1h-1zm2-11h1v1h-1zm7 7h1v1h-1zm2-3h1v1h-1zm1-25h1v1h-1zm6 24h1v1h-1zm3 24h1v1h-1zm1-28h1v1h-1zm3-8h1v1h-1zm1-14h1v1h-1zm0 43h1v1h-1zm5-17h1v1h-1zm9 4h1v1h-1zm2-3h1v1h-1zm6-14h1v1h-1zm3 10h1v1h-1zm22 10h1v1h-1z"/>
<path fill-opacity=".516" d="m41 68h1v1h-1zm5 1h1v1h-1zm3 15h1v1h-1zm1-19h1v1h-1zm3 15h1v1h-1zm1 21h1v1h-1zm8-17h1v1h-1zm2 32h1v1h-1zm7-28h1v1h-1zm1-26h1v1h-1zm4 53h1v1h-1zm5-5h1v1h-1zm3-20h1v1h-1zm2 8h1v1h-1zm7-12h1v1h-1zm9-4h1v1h-1zm1 27h1v1h-1zm4-50h1v1h-1zm1 15h1v1h-1zm2 25h1v1h-1zm2-38h1v1h-1zm4 0h1v1h-1zm0 45h1v1h-1zm5-3h1v1h-1zm3-13h1v1h-1zm5-19h1v1h-1zm4 23h1v1h-1zm1-28h1v1h-1zm5 30h1v1h-1zm9-4h1v1h-1zm4 23h1v1h-1zm8-55h1v1h-1zm4 16h1v1h-1zm1-16h1v1h-1zm5 20h1v1h-1zm9 4h1v1h-1zm3-15h1v1h-1zm1-12h1v1h-1zm2 18h1v1h-1zm1 21h1v1h-1zm5-30h1v1h-1zm5 5h1v1h-1zm5 19h1v1h-1zm3 13h1v1h-1zm5-42h1v1h-1zm0 45h1v1h-1zm1-20h1v1h-1zm6 9h1v1h-1zm1-21h1v1h-1zm1-15h1v1h-1zm1 23h1v1h-1zm3 27h1v1h-1zm1-27h1v1h-1zm9 4h1v1h-1zm6-9h1v1h-1zm1 21h1v1h-1zm2-8h1v1h-1zm3 20h1v1h-1zm9-48h1v1h-1zm4 43h1v1h-1zm4 11h1v1h-1zm8-23h1v1h-1zm6-28h1v1h-1zm3 24h1v1h-1zm6-21h1v1h-1zm4 43h1v1h-1zm3-32h1v1h-1zm1 21h1v1h-1zm5-37h1v1h-1zm3 20h1v1h-1zm9 4h1v1h-1zm14 27h1v1h-1z"/>
<path fill-opacity=".531" d="m44 76h1v1h-1zm1-19h1v1h-1zm0 40h1v1h-1zm1 16h1v1h-1zm17-53h1v1h-1zm0 44h1v1h-1zm1-28h1v1h-1zm8 31h1v1h-1zm3-13h1v1h-1zm1-21h1v1h-1zm19 21h1v1h-1zm2-16h1v1h-1zm1 21h1v1h-1zm1 15h1v1h-1zm5-24h1v1h-1zm2-8h1v1h-1zm6 24h1v1h-1zm3-20h1v1h-1zm2-8h1v1h-1zm9 4h1v1h-1zm8 29h1v1h-1zm3-23h1v1h-1zm1-20h1v1h-1zm8 16h1v1h-1zm1-19h1v1h-1zm0 45h1v1h-1zm4-9h1v1h-1zm4-21h1v1h-1zm2 8h1v1h-1zm2-4h1v1h-1zm2 32h1v1h-1zm3 0h1v1h-1zm2-32h1v1h-1zm2 4h1v1h-1zm6 13h1v1h-1zm3-9h1v1h-1zm1-27h1v1h-1zm0 45h1v1h-1zm9-42h1v1h-1zm1 20h1v1h-1zm3 23h1v1h-1zm16-12h1v1h-1zm1-21h1v1h-1zm5 28h1v1h-1zm13 8h1v1h-1zm1-15h1v1h-1zm2-26h1v1h-1zm1 21h1v1h-1zm5 18h1v1h-1zm14-39h1v1h-1zm0 42h1v1h-1zm4-8h1v1h-1zm7-10h1v1h-1zm1-21h1v1h-1zm1-16h1v1h-1zm0 44h1v1h-1zm17-35h1v1h-1zm0 44h1v1h-1zm1-56h1v1h-1zm0 40h1v1h-1zm2-22h1v1h-1zm1 21h1v1h-1zm5-30h1v1h-1zm14 9h1v1h-1zm11 20h1v1h-1zm1-21h1v1h-1zm1-15h1v1h-1zm0 43h1v1h-1zm4-38h1v1h-1zm0 45h1v1h-1z"/>
<path fill-opacity=".547" d="m47 90h1v1h-1zm2-5h1v1h-1zm1 25h1v1h-1zm1-18h1v1h-1zm4-19h1v1h-1zm3 8h1v1h-1zm2 7h1v1h-1zm2-5h1v1h-1zm4 15h1v1h-1zm1-21h1v1h-1zm0 39h1v1h-1zm2-32h1v1h-1zm2 3h1v1h-1zm2-7h1v1h-1zm4 21h1v1h-1zm3-10h1v1h-1zm1-26h1v1h-1zm1 19h1v1h-1zm3-14h1v1h-1zm3 4h1v1h-1zm1 21h1v1h-1zm1-27h1v1h-1zm0 44h1v1h-1zm1-24h1v1h-1zm8-17h1v1h-1zm8 31h1v1h-1zm4-23h1v1h-1zm2 7h1v1h-1zm6 10h1v1h-1zm1-21h1v1h-1zm2 7h1v1h-1zm6 10h1v1h-1zm1 22h1v1h-1zm1-15h1v1h-1zm5-13h1v1h-1zm4 9h1v1h-1zm2-19h1v1h-1zm1 21h1v1h-1zm1 16h1v1h-1zm1-23h1v1h-1zm6-10h1v1h-1zm2-7h1v1h-1zm4 34h1v1h-1zm4-3h1v1h-1zm1-27h1v1h-1zm4 27h1v1h-1zm4 3h1v1h-1zm3-13h1v1h-1zm1-21h1v1h-1zm8 17h1v1h-1zm1 23h1v1h-1zm1-16h1v1h-1zm7-11h1v1h-1zm2 7h1v1h-1zm2-15h1v1h-1zm1 21h1v1h-1zm1 15h1v1h-1zm3-32h1v1h-1zm2 7h1v1h-1zm2-7h1v1h-1zm2-7h1v1h-1zm7 11h1v1h-1zm2-7h1v1h-1zm4 23h1v1h-1zm3-46h1v1h-1zm0 34h1v1h-1zm1-26h1v1h-1zm1 19h1v1h-1zm2 9h1v1h-1zm1-21h1v1h-1zm5-4h1v1h-1zm3 21h1v1h-1zm1-20h1v1h-1zm1 27h1v1h-1zm4-25h1v1h-1zm3 14h1v1h-1zm0 33h1v1h-1zm1-52h1v1h-1zm1 26h1v1h-1zm2-11h1v1h-1zm1 21h1v1h-1zm4-21h1v1h-1zm2 7h1v1h-1zm2-3h1v1h-1zm2-7h1v1h-1zm0 39h1v1h-1zm5-33h1v1h-1zm2 5h1v1h-1zm2-7h1v1h-1zm4 19h1v1h-1zm3-8h1v1h-1zm2-7h1v1h-1zm2 5h1v1h-1zm7-1h1v1h-1zm2-3h1v1h-1zm2 7h1v1h-1zm3-35h1v1h-1zm1 14h1v1h-1zm3 10h1v1h-1zm1 26h1v1h-1zm1-19h1v1h-1zm2-7h1v1h-1zm1 21h1v1h-1zm3-4h1v1h-1zm1-21h1v1h-1zm1-17h1v1h-1zm0 44h1v1h-1zm1-20h1v1h-1zm2 1h1v1h-1zm1 20h1v1h-1zm1-27h1v1h-1zm7-23h1v1h-1zm0 34h1v1h-1zm2-7h1v1h-1z"/>
<path fill-opacity=".562" d="m42 57h1v1h-1zm11 22h1v1h-1zm1 21h1v1h-1zm5-37h1v1h-1zm0 44h1v1h-1zm9-3h1v1h-1zm16-13h1v1h-1zm1 22h1v1h-1zm1-16h1v1h-1zm7-10h1v1h-1zm1-20h1v1h-1zm0 44h1v1h-1zm8-28h1v1h-1zm1-19h1v1h-1zm3 17h1v1h-1zm2-6h1v1h-1zm2 25h1v1h-1zm5-15h1v1h-1zm2-6h1v1h-1zm4 23h1v1h-1zm3-13h1v1h-1zm1-25h1v1h-1zm5-6h1v1h-1zm2 14h1v1h-1zm1 21h1v1h-1zm5 19h1v1h-1zm5-42h1v1h-1zm5 21h1v1h-1zm7-10h1v1h-1zm2 6h1v1h-1zm6 11h1v1h-1zm1-21h1v1h-1zm6 4h1v1h-1zm7 10h1v1h-1zm2-6h1v1h-1zm3-15h1v1h-1zm3 4h1v1h-1zm1 21h1v1h-1zm1 17h1v1h-1zm1-23h1v1h-1zm7-31h1v1h-1zm1 14h1v1h-1zm4-8h1v1h-1zm0 44h1v1h-1zm9-3h1v1h-1zm1-20h1v1h-1zm6 11h1v1h-1zm1-21h1v1h-1zm14 36h1v1h-1zm1-24h1v1h-1zm6-11h1v1h-1zm1 21h1v1h-1zm1 16h1v1h-1zm1-22h1v1h-1zm16 13h1v1h-1zm9-41h1v1h-1zm3 31h1v1h-1zm1-21h1v1h-1zm5 37h1v1h-1zm8-53h1v1h-1zm8 21h1v1h-1zm1 21h1v1h-1zm18-37h1v1h-1z"/>
<path fill-opacity=".578" d="m41 69h1v1h-1zm3 6h1v1h-1zm1 21h1v1h-1zm1-26h1v1h-1zm4-4h1v1h-1zm1 25h1v1h-1zm13-14h1v1h-1zm4-16h1v1h-1zm5 20h1v1h-1zm2 14h1v1h-1zm1-21h1v1h-1zm1-15h1v1h-1zm18 34h1v1h-1zm2-16h1v1h-1zm1-19h1v1h-1zm0 40h1v1h-1zm5 10h1v1h-1zm1-19h1v1h-1zm9-4h1v1h-1zm3 20h1v1h-1zm9 3h1v1h-1zm1-25h1v1h-1zm2 10h1v1h-1zm1-21h1v1h-1zm5-5h1v1h-1zm1 20h1v1h-1zm2 2h1v1h-1zm9-4h1v1h-1zm0 32h1v1h-1zm5-17h1v1h-1zm5-37h1v1h-1zm3 20h1v1h-1zm7 0h1v1h-1zm2 4h1v1h-1zm1-24h1v1h-1zm5 37h1v1h-1zm16-13h1v1h-1zm1-20h1v1h-1zm8 16h1v1h-1zm5 19h1v1h-1zm3-2h1v1h-1zm1-21h1v1h-1zm5-17h1v1h-1zm8 27h1v1h-1zm6-31h1v1h-1zm0 40h1v1h-1zm3-5h1v1h-1zm14 16h1v1h-1zm4-50h1v1h-1zm1 15h1v1h-1zm8-13h1v1h-1zm3 37h1v1h-1zm1-21h1v1h-1zm1 26h1v1h-1zm4 4h1v1h-1zm9-41h1v1h-1zm5 30h1v1h-1zm2-22h1v1h-1zm1 21h1v1h-1zm1-26h1v1h-1zm0 43h1v1h-1zm9 2h1v1h-1zm4-50h1v1h-1zm4-4h1v1h-1zm1 16h1v1h-1zm11 20h1v1h-1zm1-21h1v1h-1zm0 40h1v1h-1z"/>
<path fill-opacity=".594" d="m49 117h1v1h-1zm11-30h1v1h-1zm3 16h1v1h-1zm3-4h1v1h-1zm1-21h1v1h-1zm2 5h1v1h-1zm3-20h1v1h-1zm0 43h1v1h-1zm5-6h1v1h-1zm4 9h1v1h-1zm1-24h1v1h-1zm7-28h1v1h-1zm0 37h1v1h-1zm2-5h1v1h-1zm8-17h1v1h-1zm9 43h1v1h-1zm4-53h1v1h-1zm0 43h1v1h-1zm7-8h1v1h-1zm1-21h1v1h-1zm2 5h1v1h-1zm2-25h1v1h-1zm6 42h1v1h-1zm8-29h1v1h-1zm1-12h1v1h-1zm5 34h1v1h-1zm3-25h1v1h-1zm0 43h1v1h-1zm3-30h1v1h-1zm1-20h1v1h-1zm1 15h1v1h-1zm13 29h1v1h-1zm7-8h1v1h-1zm1-21h1v1h-1zm5-8h1v1h-1zm3 25h1v1h-1zm2 5h1v1h-1zm3-39h1v1h-1zm1 12h1v1h-1zm16 12h1v1h-1zm1-21h1v1h-1zm1 16h1v1h-1zm7 9h1v1h-1zm1 20h1v1h-1zm4 10h1v1h-1zm5-7h1v1h-1zm4-36h1v1h-1zm3 0h1v1h-1zm7 22h1v1h-1zm7-9h1v1h-1zm2 5h1v1h-1zm7-9h1v1h-1zm1-18h1v1h-1zm0 43h1v1h-1zm3-23h1v1h-1zm2-5h1v1h-1zm7 9h1v1h-1zm2-5h1v1h-1zm7 9h1v1h-1zm5-21h1v1h-1zm9-3h1v1h-1zm0 43h1v1h-1zm1-18h1v1h-1zm9-4h1v1h-1zm3 14h1v1h-1zm4-23h1v1h-1zm0 37h1v1h-1zm2-32h1v1h-1zm4-4h1v1h-1zm4 21h1v1h-1zm4-36h1v1h-1zm1 19h1v1h-1z"/>
<path fill-opacity=".609" d="m47 91h1v1h-1zm2-5h1v1h-1zm4-8h1v1h-1zm1 21h1v1h-1zm1-25h1v1h-1zm0 40h1v1h-1zm3-32h1v1h-1zm4 0h1v1h-1zm6 21h1v1h-1zm3-17h1v1h-1zm9 4h1v1h-1zm1-24h1v1h-1zm3 26h1v1h-1zm1-21h1v1h-1zm1 25h1v1h-1zm2-23h1v1h-1zm2-4h1v1h-1zm3 19h1v1h-1zm2 4h1v1h-1zm7-8h1v1h-1zm4-4h1v1h-1zm1 21h1v1h-1zm1-25h1v1h-1zm2 25h1v1h-1zm1-21h1v1h-1zm4 4h1v1h-1zm1-22h1v1h-1zm1 18h1v1h-1zm0 36h1v1h-1zm3-1h1v1h-1zm1-55h1v1h-1zm3 28h1v1h-1zm9 4h1v1h-1zm1 18h1v1h-1zm5-16h1v1h-1zm2-19h1v1h-1zm1 21h1v1h-1zm1-25h1v1h-1zm3 15h1v1h-1zm2 4h1v1h-1zm7-8h1v1h-1zm1 24h1v1h-1zm1-20h1v1h-1zm3-25h1v1h-1zm0 42h1v1h-1zm1-25h1v1h-1zm2 21h1v1h-1zm1-21h1v1h-1zm1-17h1v1h-1zm1 21h1v1h-1zm2 4h1v1h-1zm1 20h1v1h-1zm1-24h1v1h-1zm4-23h1v1h-1zm3 31h1v1h-1zm1 19h1v1h-1zm1-23h1v1h-1zm6-13h1v1h-1zm1 21h1v1h-1zm2-4h1v1h-1zm3 20h1v1h-1zm1-18h1v1h-1zm2-15h1v1h-1zm1 21h1v1h-1zm6-10h1v1h-1zm4 27h1v1h-1zm3-35h1v1h-1zm0 36h1v1h-1zm1-54h1v1h-1zm1 22h1v1h-1zm4-4h1v1h-1zm2 17h1v1h-1zm1-21h1v1h-1zm1 25h1v1h-1zm4-36h1v1h-1zm1 19h1v1h-1zm2 9h1v1h-1zm6-25h1v1h-1zm1 20h1v1h-1zm2 1h1v1h-1zm1-20h1v1h-1zm1-12h1v1h-1zm2 18h1v1h-1zm1 21h1v1h-1zm1-25h1v1h-1zm1 21h1v1h-1zm3-26h1v1h-1zm3 13h1v1h-1zm1 21h1v1h-1zm3 2h1v1h-1zm3-16h1v1h-1zm9-4h1v1h-1zm6 13h1v1h-1zm1-21h1v1h-1zm0 40h1v1h-1zm1-15h1v1h-1zm5-13h1v1h-1zm2 5h1v1h-1zm7-1h1v1h-1zm2-3h1v1h-1zm4-10h1v1h-1zm1 21h1v1h-1zm1-25h1v1h-1zm3 10h1v1h-1zm1 24h1v1h-1zm3-26h1v1h-1zm4 19h1v1h-1zm2 4h1v1h-1zm3-19h1v1h-1zm1 20h1v1h-1zm8-16h1v1h-1zm1 19h1v1h-1z"/>
<path fill-opacity=".625" d="m41 70h1v1h-1zm3 4h1v1h-1zm1 21h1v1h-1zm1 17h1v1h-1zm4-3h1v1h-1zm1-19h1v1h-1zm3-31h1v1h-1zm5 47h1v1h-1zm1-20h1v1h-1zm3-25h1v1h-1zm1 17h1v1h-1zm9 4h1v1h-1zm2 14h1v1h-1zm1-21h1v1h-1zm6 11h1v1h-1zm8 25h1v1h-1zm4-43h1v1h-1zm0 42h1v1h-1zm3-34h1v1h-1zm1 21h1v1h-1zm5-32h1v1h-1zm1 23h1v1h-1zm3-28h1v1h-1zm4 56h1v1h-1zm2-32h1v1h-1zm3 20h1v1h-1zm5-3h1v1h-1zm5-17h1v1h-1zm2 10h1v1h-1zm1-21h1v1h-1zm3-2h1v1h-1zm3 17h1v1h-1zm2 2h1v1h-1zm7 2h1v1h-1zm6-14h1v1h-1zm1 21h1v1h-1zm1 15h1v1h-1zm7-32h1v1h-1zm14 32h1v1h-1zm1-15h1v1h-1zm7-7h1v1h-1zm1-21h1v1h-1zm8 17h1v1h-1zm6-15h1v1h-1zm3 11h1v1h-1zm1 23h1v1h-1zm3-27h1v1h-1zm1 21h1v1h-1zm5 3h1v1h-1zm3-20h1v1h-1zm6-24h1v1h-1zm3 28h1v1h-1zm5 25h1v1h-1zm1-16h1v1h-1zm3-5h1v1h-1zm1 18h1v1h-1zm4 1h1v1h-1zm14-36h1v1h-1zm8 28h1v1h-1zm1-24h1v1h-1zm2 20h1v1h-1zm1-21h1v1h-1zm1-17h1v1h-1zm4 3h1v1h-1zm5-5h1v1h-1zm4 50h1v1h-1zm4 3h1v1h-1zm1-17h1v1h-1zm2-22h1v1h-1zm1 21h1v1h-1zm1-24h1v1h-1zm5 21h1v1h-1zm9-4h1v1h-1zm4-10h1v1h-1zm0 38h1v1h-1zm4-53h1v1h-1zm5 19h1v1h-1zm2 16h1v1h-1zm1-21h1v1h-1z"/>
<path fill-opacity=".641" d="m46 71h1v1h-1zm4-4h1v1h-1zm9-3h1v1h-1zm4 38h1v1h-1zm3-2h1v1h-1zm1-21h1v1h-1zm2 3h1v1h-1zm7 32h1v1h-1zm13-21h1v1h-1zm2-3h1v1h-1zm8-17h1v1h-1zm0 40h1v1h-1zm4-6h1v1h-1zm9-3h1v1h-1zm7-6h1v1h-1zm1-21h1v1h-1zm5-12h1v1h-1zm0 42h1v1h-1zm4 6h1v1h-1zm1-16h1v1h-1zm4-29h1v1h-1zm4 43h1v1h-1zm4-16h1v1h-1zm1 17h1v1h-1zm9-37h1v1h-1zm4-11h1v1h-1zm12-8h1v1h-1zm4 40h1v1h-1zm1-21h1v1h-1zm9 37h1v1h-1zm1-17h1v1h-1zm4-25h1v1h-1zm0 41h1v1h-1zm4-43h1v1h-1zm3 8h1v1h-1zm6-11h1v1h-1zm5 12h1v1h-1zm2 24h1v1h-1zm19-28h1v1h-1zm3-2h1v1h-1zm5 19h1v1h-1zm2 3h1v1h-1zm3-35h1v1h-1zm4 28h1v1h-1zm2 3h1v1h-1zm7-7h1v1h-1zm2 3h1v1h-1zm2-3h1v1h-1zm6 20h1v1h-1zm3-16h1v1h-1zm1 20h1v1h-1zm1-23h1v1h-1zm7 7h1v1h-1zm1-23h1v1h-1zm1 20h1v1h-1zm3-16h1v1h-1zm8 46h1v1h-1zm9-33h1v1h-1zm5 17h1v1h-1zm4-21h1v1h-1zm2 3h1v1h-1zm3-20h1v1h-1zm5-3h1v1h-1zm0 40h1v1h-1zm3-12h1v1h-1zm2-3h1v1h-1z"/>
<path fill-opacity=".656" d="m47 92h1v1h-1zm2-5h1v1h-1zm6-12h1v1h-1zm3 8h1v1h-1zm4-2h1v1h-1zm9 4h1v1h-1zm1 20h1v1h-1zm5-6h1v1h-1zm3-10h1v1h-1zm1 19h1v1h-1zm4-36h1v1h-1zm0 40h1v1h-1zm1-54h1v1h-1zm2 14h1v1h-1zm14 13h1v1h-1zm9-4h1v1h-1zm1-18h1v1h-1zm3 20h1v1h-1zm9 4h1v1h-1zm9 4h1v1h-1zm5-21h1v1h-1zm1 23h1v1h-1zm2-19h1v1h-1zm6-7h1v1h-1zm7 36h1v1h-1zm6-1h1v1h-1zm1-23h1v1h-1zm3 0h1v1h-1zm1 23h1v1h-1zm4-38h1v1h-1zm9 3h1v1h-1zm12 50h1v1h-1zm2-26h1v1h-1zm3 6h1v1h-1zm1 16h1v1h-1zm5-26h1v1h-1zm9-4h1v1h-1zm3-20h1v1h-1zm0 41h1v1h-1zm1-23h1v1h-1zm4 19h1v1h-1zm4 7h1v1h-1zm1-22h1v1h-1zm2 9h1v1h-1zm7-5h1v1h-1zm8-17h1v1h-1zm0 40h1v1h-1zm4-4h1v1h-1zm3-30h1v1h-1zm1 21h1v1h-1zm1 15h1v1h-1zm2-11h1v1h-1zm2 2h1v1h-1zm10-24h1v1h-1zm2-25h1v1h-1zm13 36h1v1h-1zm6 19h1v1h-1zm1-20h1v1h-1zm2-3h1v1h-1zm1-20h1v1h-1zm0 41h1v1h-1zm4-50h1v1h-1zm1 15h1v1h-1zm4-9h1v1h-1zm3 15h1v1h-1zm4 21h1v1h-1zm2 2h1v1h-1zm3-19h1v1h-1zm10-18h1v1h-1z"/>
<path fill-opacity=".672" d="m44 73h1v1h-1zm1 21h1v1h-1zm6-5h1v1h-1zm2-12h1v1h-1zm1 21h1v1h-1zm6-13h1v1h-1zm4-6h1v1h-1zm0 36h1v1h-1zm4-53h1v1h-1zm0 40h1v1h-1zm1-21h1v1h-1zm3-17h1v1h-1zm1 19h1v1h-1zm2 14h1v1h-1zm1-21h1v1h-1zm5-9h1v1h-1zm1 20h1v1h-1zm2 6h1v1h-1zm2 2h1v1h-1zm4-25h1v1h-1zm1 21h1v1h-1zm2-2h1v1h-1zm1-20h1v1h-1zm1 22h1v1h-1zm2-16h1v1h-1zm1 21h1v1h-1zm6-9h1v1h-1zm2-8h1v1h-1zm1 21h1v1h-1zm1-23h1v1h-1zm2 25h1v1h-1zm3-19h1v1h-1zm3-20h1v1h-1zm1 18h1v1h-1zm4 19h1v1h-1zm5-15h1v1h-1zm2 10h1v1h-1zm1-21h1v1h-1zm3-4h1v1h-1zm3 19h1v1h-1zm2 2h1v1h-1zm5-33h1v1h-1zm1 14h1v1h-1zm1 21h1v1h-1zm2-6h1v1h-1zm1 21h1v1h-1zm1-19h1v1h-1zm2-12h1v1h-1zm1 21h1v1h-1zm4-15h1v1h-1zm1 22h1v1h-1zm1-20h1v1h-1zm2-4h1v1h-1zm4 19h1v1h-1zm3-19h1v1h-1zm2 4h1v1h-1zm1 20h1v1h-1zm1-22h1v1h-1zm4 15h1v1h-1zm3-9h1v1h-1zm1 19h1v1h-1zm1-21h1v1h-1zm2 6h1v1h-1zm1-21h1v1h-1zm1-14h1v1h-1zm2 14h1v1h-1zm1 21h1v1h-1zm2-2h1v1h-1zm2-2h1v1h-1zm6-15h1v1h-1zm3 11h1v1h-1zm4-6h1v1h-1zm1 21h1v1h-1zm4-19h1v1h-1zm1 22h1v1h-1zm3-20h1v1h-1zm4 15h1v1h-1zm1-21h1v1h-1zm4 10h1v1h-1zm1-21h1v1h-1zm5 30h1v1h-1zm3-39h1v1h-1zm0 34h1v1h-1zm1-22h1v1h-1zm4 1h1v1h-1zm1 22h1v1h-1zm2-18h1v1h-1zm1 21h1v1h-1zm2-2h1v1h-1zm3-26h1v1h-1zm5 9h1v1h-1zm3 7h1v1h-1zm1-19h1v1h-1zm4-2h1v1h-1zm0 40h1v1h-1zm1-22h1v1h-1zm2 20h1v1h-1zm1-21h1v1h-1zm0 36h1v1h-1zm4-30h1v1h-1zm4 11h1v1h-1zm1-21h1v1h-1zm1 23h1v1h-1zm3-9h1v1h-1zm6 5h1v1h-1zm3-1h1v1h-1zm6-3h1v1h-1zm2-14h1v1h-1zm1 21h1v1h-1zm1 16h1v1h-1zm4-7h1v1h-1zm1-20h1v1h-1zm3-25h1v1h-1zm1 17h1v1h-1zm8 26h1v1h-1zm1-22h1v1h-1zm2 16h1v1h-1zm1-21h1v1h-1zm5 30h1v1h-1zm1-21h1v1h-1zm2 27h1v1h-1z"/>
<path fill-opacity=".688" d="m41 71h1v1h-1zm4-13h1v1h-1zm1 14h1v1h-1zm1 21h1v1h-1zm2-5h1v1h-1zm1 20h1v1h-1zm8-24h1v1h-1zm1 21h1v1h-1zm4-4h1v1h-1zm3 0h1v1h-1zm1-21h1v1h-1zm4-24h1v1h-1zm0 28h1v1h-1zm6-24h1v1h-1zm3 28h1v1h-1zm9 4h1v1h-1zm4 25h1v1h-1zm6-43h1v1h-1zm4-8h1v1h-1zm13 37h1v1h-1zm3-4h1v1h-1zm1-21h1v1h-1zm1-17h1v1h-1zm4 45h1v1h-1zm5-47h1v1h-1zm0 37h1v1h-1zm3-39h1v1h-1zm1 12h1v1h-1zm0 40h1v1h-1zm8-15h1v1h-1zm10-18h1v1h-1zm8-14h1v1h-1zm1 53h1v1h-1zm3 0h1v1h-1zm1-53h1v1h-1zm7 35h1v1h-1zm11-3h1v1h-1zm8-25h1v1h-1zm0 40h1v1h-1zm3-34h1v1h-1zm1-16h1v1h-1zm5 47h1v1h-1zm4-45h1v1h-1zm1 17h1v1h-1zm2 24h1v1h-1zm2-39h1v1h-1zm16 32h1v1h-1zm1-21h1v1h-1zm3-4h1v1h-1zm5 21h1v1h-1zm1 19h1v1h-1zm8-23h1v1h-1zm2 1h1v1h-1zm3-28h1v1h-1zm4 56h1v1h-1zm2-32h1v1h-1zm2-3h1v1h-1zm6 20h1v1h-1zm1-21h1v1h-1zm3 25h1v1h-1zm1-21h1v1h-1zm8 24h1v1h-1zm1-20h1v1h-1zm3-16h1v1h-1zm1-14h1v1h-1zm2 14h1v1h-1zm2-1h1v1h-1zm1 21h1v1h-1zm2-3h1v1h-1zm9-4h1v1h-1zm9-4h1v1h-1zm2 1h1v1h-1zm2 1h1v1h-1zm6 16h1v1h-1zm3-12h1v1h-1z"/>
<path fill-opacity=".703" d="m46 111h1v1h-1zm4-43h1v1h-1zm5 8h1v1h-1zm4-11h1v1h-1zm3 15h1v1h-1zm1-18h1v1h-1zm4 53h1v1h-1zm10-17h1v1h-1zm9-4h1v1h-1zm2-23h1v1h-1zm2 39h1v1h-1zm3-20h1v1h-1zm1 19h1v1h-1zm4-50h1v1h-1zm4 27h1v1h-1zm1 20h1v1h-1zm4-45h1v1h-1zm1 17h1v1h-1zm3 4h1v1h-1zm1 21h1v1h-1zm3-21h1v1h-1zm9 4h1v1h-1zm1-20h1v1h-1zm8 24h1v1h-1zm5-19h1v1h-1zm0 39h1v1h-1zm1-18h1v1h-1zm2-19h1v1h-1zm7 15h1v1h-1zm3-28h1v1h-1zm4 56h1v1h-1zm6-36h1v1h-1zm3 0h1v1h-1zm1 21h1v1h-1zm5-17h1v1h-1zm3-8h1v1h-1zm1-16h1v1h-1zm5 28h1v1h-1zm7 4h1v1h-1zm1-21h1v1h-1zm5 19h1v1h-1zm3 6h1v1h-1zm5-30h1v1h-1zm1 20h1v1h-1zm9-4h1v1h-1zm3 21h1v1h-1zm1-21h1v1h-1zm3 32h1v1h-1zm1-53h1v1h-1zm5 25h1v1h-1zm4-27h1v1h-1zm4 50h1v1h-1zm1-19h1v1h-1zm8-17h1v1h-1zm7 4h1v1h-1zm1 21h1v1h-1zm5 6h1v1h-1zm9-42h1v1h-1zm4 3h1v1h-1zm4 48h1v1h-1zm5-45h1v1h-1zm3 25h1v1h-1zm1 18h1v1h-1zm14-36h1v1h-1zm7 4h1v1h-1zm1 21h1v1h-1zm3 2h1v1h-1zm2-39h1v1h-1zm8 51h1v1h-1z"/>
<path fill-opacity=".719" d="m53 76h1v1h-1zm1-16h1v1h-1zm0 37h1v1h-1zm1 16h1v1h-1zm9-33h1v1h-1zm8 24h1v1h-1zm9 3h1v1h-1zm3-13h1v1h-1zm1-21h1v1h-1zm5-2h1v1h-1zm5 19h1v1h-1zm4 22h1v1h-1zm5-26h1v1h-1zm2-8h1v1h-1zm1 21h1v1h-1zm1 15h1v1h-1zm2-11h1v1h-1zm3-21h1v1h-1zm4 0h1v1h-1zm3 32h1v1h-1zm6-28h1v1h-1zm9 4h1v1h-1zm2 2h1v1h-1zm6-19h1v1h-1zm0 38h1v1h-1zm3-23h1v1h-1zm1-20h1v1h-1zm8 16h1v1h-1zm1-19h1v1h-1zm1 19h1v1h-1zm2-4h1v1h-1zm1 21h1v1h-1zm3 0h1v1h-1zm3-21h1v1h-1zm2 4h1v1h-1zm1-19h1v1h-1zm8 23h1v1h-1zm1-20h1v1h-1zm4 43h1v1h-1zm3-40h1v1h-1zm2 39h1v1h-1zm1-18h1v1h-1zm20-10h1v1h-1zm8 17h1v1h-1zm1-21h1v1h-1zm1 21h1v1h-1zm3-13h1v1h-1zm1 20h1v1h-1zm4 6h1v1h-1zm4-22h1v1h-1zm5-19h1v1h-1zm3 2h1v1h-1zm1 21h1v1h-1zm5 13h1v1h-1zm14 8h1v1h-1zm11-18h1v1h-1zm1-21h1v1h-1zm1-16h1v1h-1zm0 37h1v1h-1zm12-39h1v1h-1zm5 11h1v1h-1zm3 6h1v1h-1zm1 21h1v1h-1zm5-30h1v1h-1zm9 36h1v1h-1zm3-46h1v1h-1zm1 8h1v1h-1zm0 39h1v1h-1zm5-42h1v1h-1zm4 6h1v1h-1z"/>
<path fill-opacity=".734" d="m41 72h1v1h-1zm1-14h1v1h-1zm2 14h1v1h-1zm1 21h1v1h-1zm1-20h1v1h-1zm1 21h1v1h-1zm2-5h1v1h-1zm2-1h1v1h-1zm7-3h1v1h-1zm0 31h1v1h-1zm2-32h1v1h-1zm3 16h1v1h-1zm4-19h1v1h-1zm1 20h1v1h-1zm1-21h1v1h-1zm2 3h1v1h-1zm1-18h1v1h-1zm1 19h1v1h-1zm2 14h1v1h-1zm1-21h1v1h-1zm4 10h1v1h-1zm1-19h1v1h-1zm1 20h1v1h-1zm3 23h1v1h-1zm4-20h1v1h-1zm2 1h1v1h-1zm3-22h1v1h-1zm3 4h1v1h-1zm1 21h1v1h-1zm1-20h1v1h-1zm12 8h1v1h-1zm1-19h1v1h-1zm4 38h1v1h-1zm4-23h1v1h-1zm1 20h1v1h-1zm7-3h1v1h-1zm1-21h1v1h-1zm1 20h1v1h-1zm3-6h1v1h-1zm9 4h1v1h-1zm5 14h1v1h-1zm3-31h1v1h-1zm1 21h1v1h-1zm1-20h1v1h-1zm0 36h1v1h-1zm4-9h1v1h-1zm13 0h1v1h-1zm3-6h1v1h-1zm1-21h1v1h-1zm0 36h1v1h-1zm1-16h1v1h-1zm4 10h1v1h-1zm3-13h1v1h-1zm1-21h1v1h-1zm1 20h1v1h-1zm3-35h1v1h-1zm4 32h1v1h-1zm2-1h1v1h-1zm2-15h1v1h-1zm2 1h1v1h-1zm3 11h1v1h-1zm2-1h1v1h-1zm2-7h1v1h-1zm1 21h1v1h-1zm1-20h1v1h-1zm0 35h1v1h-1zm2-11h1v1h-1zm2-1h1v1h-1zm3-46h1v1h-1zm0 26h1v1h-1zm1-18h1v1h-1zm1 19h1v1h-1zm8-16h1v1h-1zm1 20h1v1h-1zm2 9h1v1h-1zm2-1h1v1h-1zm4-25h1v1h-1zm3 22h1v1h-1zm0 25h1v1h-1zm2-26h1v1h-1zm7-3h1v1h-1zm1-20h1v1h-1zm1 19h1v1h-1zm4-10h1v1h-1zm3 7h1v1h-1zm1-19h1v1h-1zm1 18h1v1h-1zm2-3h1v1h-1zm1 21h1v1h-1zm1-20h1v1h-1zm2 20h1v1h-1zm1-21h1v1h-1zm1 20h1v1h-1zm1-21h1v1h-1zm2 5h1v1h-1zm2 1h1v1h-1zm7 3h1v1h-1zm2 1h1v1h-1zm4 4h1v1h-1zm2-22h1v1h-1zm1 21h1v1h-1zm1-20h1v1h-1zm0 38h1v1h-1zm1-17h1v1h-1zm2-3h1v1h-1zm1 18h1v1h-1zm1-19h1v1h-1zm7-3h1v1h-1zm1 19h1v1h-1zm1-20h1v1h-1zm4-6h1v1h-1zm3 3h1v1h-1zm2-1h1v1h-1zm2 1h1v1h-1zm2 1h1v1h-1zm2 16h1v1h-1zm1-21h1v1h-1zm1 20h1v1h-1zm3-12h1v1h-1zm1 20h1v1h-1zm1-19h1v1h-1z"/>
<path fill-opacity=".75" d="m50 107h1v1h-1zm5-30h1v1h-1zm2 27h1v1h-1zm2 0h1v1h-1zm3-25h1v1h-1zm4 23h1v1h-1zm2-39h1v1h-1zm8 50h1v1h-1zm1-16h1v1h-1zm9-4h1v1h-1zm2-23h1v1h-1zm5 21h1v1h-1zm9-4h1v1h-1zm1-20h1v1h-1zm5 12h1v1h-1zm4 23h1v1h-1zm3-21h1v1h-1zm1-17h1v1h-1zm3 36h1v1h-1zm5-15h1v1h-1zm1-18h1v1h-1zm0 38h1v1h-1zm4 7h1v1h-1zm3-43h1v1h-1zm2 1h1v1h-1zm0 38h1v1h-1zm4-36h1v1h-1zm1-14h1v1h-1zm0 33h1v1h-1zm2-19h1v1h-1zm7 15h1v1h-1zm7-2h1v1h-1zm2-2h1v1h-1zm4-2h1v1h-1zm3 0h1v1h-1zm6 4h1v1h-1zm7 2h1v1h-1zm2 2h1v1h-1zm7 2h1v1h-1zm1-19h1v1h-1zm4-2h1v1h-1zm0 38h1v1h-1zm4-13h1v1h-1zm1 17h1v1h-1zm4-7h1v1h-1zm9-41h1v1h-1zm1 17h1v1h-1zm7-2h1v1h-1zm9-4h1v1h-1zm6 16h1v1h-1zm8-17h1v1h-1zm0 37h1v1h-1zm7-35h1v1h-1zm1 21h1v1h-1zm1 16h1v1h-1zm8-50h1v1h-1zm9 41h1v1h-1zm5-8h1v1h-1zm2-27h1v1h-1zm1-12h1v1h-1zm1 50h1v1h-1zm3-13h1v1h-1zm1-21h1v1h-1zm14 3h1v1h-1zm7 2h1v1h-1zm1-16h1v1h-1zm0 37h1v1h-1zm1 15h1v1h-1zm3 1h1v1h-1z"/>
<path fill-opacity=".766" d="m50 69h1v1h-1zm3 6h1v1h-1zm1 21h1v1h-1zm5-30h1v1h-1zm5 15h1v1h-1zm8 22h1v1h-1zm1-18h1v1h-1zm4-24h1v1h-1zm7 34h1v1h-1zm1-21h1v1h-1zm1-15h1v1h-1zm3-1h1v1h-1zm1 14h1v1h-1zm0 37h1v1h-1zm4-1h1v1h-1zm1-19h1v1h-1zm8 16h1v1h-1zm1-20h1v1h-1zm2-8h1v1h-1zm1 21h1v1h-1zm6-17h1v1h-1zm2-25h1v1h-1zm2 27h1v1h-1zm4-21h1v1h-1zm5 25h1v1h-1zm9 4h1v1h-1zm2 2h1v1h-1zm0 24h1v1h-1zm9-28h1v1h-1zm8 15h1v1h-1zm5-25h1v1h-1zm1-16h1v1h-1zm0 37h1v1h-1zm3 2h1v1h-1zm2-39h1v1h-1zm0 37h1v1h-1zm1-21h1v1h-1zm2 4h1v1h-1zm9-26h1v1h-1zm11 36h1v1h-1zm2-2h1v1h-1zm9-4h1v1h-1zm1-20h1v1h-1zm4-5h1v1h-1zm4 21h1v1h-1zm0 32h1v1h-1zm4-34h1v1h-1zm1 21h1v1h-1zm3-2h1v1h-1zm2-2h1v1h-1zm3-13h1v1h-1zm1 20h1v1h-1zm7-36h1v1h-1zm1 20h1v1h-1zm1 19h1v1h-1zm4 1h1v1h-1zm1-51h1v1h-1zm2 14h1v1h-1zm1-13h1v1h-1zm0 34h1v1h-1zm9-32h1v1h-1zm1 17h1v1h-1zm2 26h1v1h-1zm2-1h1v1h-1zm13-37h1v1h-1zm3 32h1v1h-1zm1-21h1v1h-1zm5-8h1v1h-1zm4 41h1v1h-1zm1-18h1v1h-1zm8-22h1v1h-1zm3 4h1v1h-1zm1-14h1v1h-1zm0 35h1v1h-1zm1 17h1v1h-1zm9-32h1v1h-1zm2 23h1v1h-1zm2-39h1v1h-1zm0 37h1v1h-1z"/>
<path fill-opacity=".781" d="m45 92h1v1h-1zm1 18h1v1h-1zm5-23h1v1h-1zm9-4h1v1h-1zm3-20h1v1h-1zm5 37h1v1h-1zm1-21h1v1h-1zm6 20h1v1h-1zm1-21h1v1h-1zm4-21h1v1h-1zm1 49h1v1h-1zm1-17h1v1h-1zm9 4h1v1h-1zm6-20h1v1h-1zm1 21h1v1h-1zm9-32h1v1h-1zm3 42h1v1h-1zm7 11h1v1h-1zm4-17h1v1h-1zm7-1h1v1h-1zm1-21h1v1h-1zm1-16h1v1h-1zm8 49h1v1h-1zm4-50h1v1h-1zm1 15h1v1h-1zm4-5h1v1h-1zm3 6h1v1h-1zm1-14h1v1h-1zm0 35h1v1h-1zm5-30h1v1h-1zm0 37h1v1h-1zm13-37h1v1h-1zm5 30h1v1h-1zm4-27h1v1h-1zm3 26h1v1h-1zm1-21h1v1h-1zm1-15h1v1h-1zm2 11h1v1h-1zm2 39h1v1h-1zm8-49h1v1h-1zm1 16h1v1h-1zm7 1h1v1h-1zm1 21h1v1h-1zm14-36h1v1h-1zm9 32h1v1h-1zm4-23h1v1h-1zm4 1h1v1h-1zm1 18h1v1h-1zm7-1h1v1h-1zm1 17h1v1h-1zm1-20h1v1h-1zm7-1h1v1h-1zm5 15h1v1h-1zm1-18h1v1h-1zm2 20h1v1h-1zm1-21h1v1h-1zm1-18h1v1h-1zm3 20h1v1h-1zm9 4h1v1h-1zm9 4h1v1h-1zm6-3h1v1h-1zm7 28h1v1h-1zm1-49h1v1h-1zm1 17h1v1h-1zm7-1h1v1h-1zm2-3h1v1h-1zm3-15h1v1h-1zm0 37h1v1h-1zm1-18h1v1h-1zm2 16h1v1h-1zm1-21h1v1h-1zm5-11h1v1h-1zm1 20h1v1h-1z"/>
<path fill-opacity=".797" d="m41 73h1v1h-1zm3-2h1v1h-1zm1-12h1v1h-1zm1 15h1v1h-1zm3 16h1v1h-1zm6-12h1v1h-1zm3 8h1v1h-1zm1 17h1v1h-1zm3-25h1v1h-1zm1 21h1v1h-1zm1 15h1v1h-1zm2-11h1v1h-1zm1-21h1v1h-1zm4 0h1v1h-1zm1-16h1v1h-1zm5 30h1v1h-1zm3-10h1v1h-1zm1-17h1v1h-1zm3 27h1v1h-1zm2-4h1v1h-1zm3-2h1v1h-1zm4 2h1v1h-1zm1-21h1v1h-1zm1 17h1v1h-1zm3-28h1v1h-1zm1 16h1v1h-1zm3 12h1v1h-1zm1-20h1v1h-1zm5 12h1v1h-1zm3 4h1v1h-1zm0 31h1v1h-1zm1-50h1v1h-1zm3 15h1v1h-1zm1 21h1v1h-1zm1-17h1v1h-1zm2 17h1v1h-1zm1-21h1v1h-1zm4 4h1v1h-1zm6 10h1v1h-1zm3-6h1v1h-1zm1-17h1v1h-1zm4 2h1v1h-1zm1 17h1v1h-1zm2-19h1v1h-1zm1 21h1v1h-1zm1 18h1v1h-1zm3-20h1v1h-1zm1 16h1v1h-1zm1-20h1v1h-1zm4-8h1v1h-1zm3 8h1v1h-1zm2-4h1v1h-1zm4 0h1v1h-1zm3 0h1v1h-1zm4 0h1v1h-1zm1 21h1v1h-1zm1-17h1v1h-1zm2 13h1v1h-1zm1-21h1v1h-1zm1-17h1v1h-1zm3 25h1v1h-1zm1 20h1v1h-1zm1-16h1v1h-1zm3 20h1v1h-1zm1-18h1v1h-1zm3-2h1v1h-1zm1-17h1v1h-1zm1 21h1v1h-1zm3-23h1v1h-1zm1 17h1v1h-1zm2-15h1v1h-1zm1 21h1v1h-1zm4 22h1v1h-1zm2-32h1v1h-1zm4-4h1v1h-1zm2 24h1v1h-1zm2-3h1v1h-1zm1-21h1v1h-1zm3-15h1v1h-1zm1 19h1v1h-1zm0 31h1v1h-1zm3-35h1v1h-1zm5-12h1v1h-1zm1 20h1v1h-1zm2 9h1v1h-1zm1-21h1v1h-1zm4 12h1v1h-1zm2 4h1v1h-1zm2 1h1v1h-1zm5-1h1v1h-1zm1-17h1v1h-1zm4-6h1v1h-1zm3 6h1v1h-1zm1 21h1v1h-1zm5-30h1v1h-1zm1 16h1v1h-1zm2-3h1v1h-1zm5 35h1v1h-1zm1-15h1v1h-1zm4 4h1v1h-1zm1-17h1v1h-1zm3 26h1v1h-1zm1-17h1v1h-1zm5-5h1v1h-1zm2 5h1v1h-1zm1-21h1v1h-1zm1-15h1v1h-1zm2 11h1v1h-1zm2 3h1v1h-1zm0 36h1v1h-1zm1-15h1v1h-1zm2-3h1v1h-1zm1 16h1v1h-1zm5-30h1v1h-1zm3 10h1v1h-1zm1 17h1v1h-1zm3-27h1v1h-1zm1 21h1v1h-1zm8-17h1v1h-1zm5 32h1v1h-1zm1-16h1v1h-1zm3-12h1v1h-1zm1 20h1v1h-1z"/>
<path fill-opacity=".812" d="m45 91h1v1h-1zm5-21h1v1h-1zm0 36h1v1h-1zm1-20h1v1h-1zm2-12h1v1h-1zm1-13h1v1h-1zm0 34h1v1h-1zm1 17h1v1h-1zm5-30h1v1h-1zm4 0h1v1h-1zm4-18h1v1h-1zm5 22h1v1h-1zm9 4h1v1h-1zm3-15h1v1h-1zm0 35h1v1h-1zm3-41h1v1h-1zm11 42h1v1h-1zm3 5h1v1h-1zm2-32h1v1h-1zm2-8h1v1h-1zm1 21h1v1h-1zm5 4h1v1h-1zm1-21h1v1h-1zm3-15h1v1h-1zm9 3h1v1h-1zm0 36h1v1h-1zm1-16h1v1h-1zm8 19h1v1h-1zm1-15h1v1h-1zm2 2h1v1h-1zm22-16h1v1h-1zm1 21h1v1h-1zm1 15h1v1h-1zm3 0h1v1h-1zm1-15h1v1h-1zm1-21h1v1h-1zm7 34h1v1h-1zm17-20h1v1h-1zm1 15h1v1h-1zm8-19h1v1h-1zm1-20h1v1h-1zm0 36h1v1h-1zm8-20h1v1h-1zm1-19h1v1h-1zm3 15h1v1h-1zm1 21h1v1h-1zm3 0h1v1h-1zm1 12h1v1h-1zm1-16h1v1h-1zm3-13h1v1h-1zm5 27h1v1h-1zm1-51h1v1h-1zm0 33h1v1h-1zm13 17h1v1h-1zm9-31h1v1h-1zm4 23h1v1h-1zm3-46h1v1h-1zm1 8h1v1h-1zm4 18h1v1h-1zm8 17h1v1h-1zm1-21h1v1h-1zm1-17h1v1h-1zm3 25h1v1h-1zm1-16h1v1h-1zm0 36h1v1h-1zm5-15h1v1h-1zm3-1h1v1h-1zm6-3h1v1h-1zm2-14h1v1h-1zm1 21h1v1h-1zm10-13h1v1h-1zm2 23h1v1h-1zm7-19h1v1h-1zm4-23h1v1h-1z"/>
<path fill-opacity=".828" d="m59 67h1v1h-1zm8 16h1v1h-1zm0 31h1v1h-1zm1-15h1v1h-1zm1-21h1v1h-1zm3 24h1v1h-1zm3-2h1v1h-1zm1-21h1v1h-1zm0 33h1v1h-1zm13-23h1v1h-1zm1-16h1v1h-1zm0 35h1v1h-1zm1-14h1v1h-1zm3 13h1v1h-1zm3-35h1v1h-1zm1 21h1v1h-1zm5 11h1v1h-1zm5 9h1v1h-1zm12 0h1v1h-1zm1-16h1v1h-1zm7 1h1v1h-1zm1-21h1v1h-1zm0 34h1v1h-1zm14-36h1v1h-1zm4-5h1v1h-1zm3 4h1v1h-1zm1 21h1v1h-1zm1 17h1v1h-1zm8-48h1v1h-1zm3 39h1v1h-1zm2-39h1v1h-1zm9 31h1v1h-1zm4-25h1v1h-1zm3 26h1v1h-1zm0 21h1v1h-1zm1-42h1v1h-1zm3-6h1v1h-1zm11 8h1v1h-1zm0 34h1v1h-1zm7-35h1v1h-1zm1 21h1v1h-1zm1-16h1v1h-1zm0 32h1v1h-1zm17-9h1v1h-1zm8-46h1v1h-1zm1 49h1v1h-1zm3-13h1v1h-1zm1-21h1v1h-1zm0 35h1v1h-1zm1-19h1v1h-1zm2-18h1v1h-1zm5 19h1v1h-1zm1 15h1v1h-1zm1-20h1v1h-1zm7 1h1v1h-1zm2-5h1v1h-1zm3 18h1v1h-1zm1-16h1v1h-1zm0 31h1v1h-1zm7-32h1v1h-1zm1-15h1v1h-1zm1 20h1v1h-1zm9 4h1v1h-1zm2 26h1v1h-1zm10-46h1v1h-1zm8 17h1v1h-1zm2-5h1v1h-1zm3-20h1v1h-1zm4 21h1v1h-1zm1 16h1v1h-1zm1-21h1v1h-1zm3 22h1v1h-1zm4-21h1v1h-1zm4 4h1v1h-1zm2 5h1v1h-1z"/>
<path fill-opacity=".844" d="m41 74h1v1h-1zm3-4h1v1h-1zm2 5h1v1h-1zm3 16h1v1h-1zm9-4h1v1h-1zm4-10h1v1h-1zm1-13h1v1h-1zm0 34h1v1h-1zm8-17h1v1h-1zm6-19h1v1h-1zm0 33h1v1h-1zm3-10h1v1h-1zm1-15h1v1h-1zm0 35h1v1h-1zm3 12h1v1h-1zm10-45h1v1h-1zm5 5h1v1h-1zm3 12h1v1h-1zm9-4h1v1h-1zm9-4h1v1h-1zm1-18h1v1h-1zm3 20h1v1h-1zm6 10h1v1h-1zm3-35h1v1h-1zm0 29h1v1h-1zm5 21h1v1h-1zm1-19h1v1h-1zm3 2h1v1h-1zm10-12h1v1h-1zm4-12h1v1h-1zm0 35h1v1h-1zm3-46h1v1h-1zm2 27h1v1h-1zm8-16h1v1h-1zm0 35h1v1h-1zm1-15h1v1h-1zm2 13h1v1h-1zm1-21h1v1h-1zm10 12h1v1h-1zm9-4h1v1h-1zm3 6h1v1h-1zm6-10h1v1h-1zm3-20h1v1h-1zm5 37h1v1h-1zm5-15h1v1h-1zm9 4h1v1h-1zm2 9h1v1h-1zm1-21h1v1h-1zm5-5h1v1h-1zm1 21h1v1h-1zm17 19h1v1h-1zm7-34h1v1h-1zm4 25h1v1h-1zm2-5h1v1h-1zm16-2h1v1h-1zm1 13h1v1h-1zm4-50h1v1h-1zm1 15h1v1h-1zm1 21h1v1h-1zm2-3h1v1h-1zm5-31h1v1h-1zm1 50h1v1h-1zm4-43h1v1h-1zm0 35h1v1h-1zm3-27h1v1h-1zm6-11h1v1h-1zm3 15h1v1h-1zm1-14h1v1h-1zm3 35h1v1h-1zm2-5h1v1h-1zm3-39h1v1h-1zm1 12h1v1h-1zm0 35h1v1h-1z"/>
<path fill-opacity=".859" d="m42 59h1v1h-1zm3 31h1v1h-1zm1 19h1v1h-1zm4-38h1v1h-1zm1 14h1v1h-1zm2-12h1v1h-1zm1 21h1v1h-1zm1-15h1v1h-1zm4 23h1v1h-1zm1-21h1v1h-1zm2-25h1v1h-1zm2 27h1v1h-1zm2 21h1v1h-1zm6-37h1v1h-1zm1 20h1v1h-1zm6-19h1v1h-1zm3 23h1v1h-1zm2 6h1v1h-1zm1-21h1v1h-1zm1 15h1v1h-1zm7 2h1v1h-1zm2-6h1v1h-1zm3 5h1v1h-1zm5-23h1v1h-1zm1 14h1v1h-1zm2-8h1v1h-1zm1-12h1v1h-1zm0 33h1v1h-1zm1-15h1v1h-1zm4-15h1v1h-1zm0 34h1v1h-1zm1-21h1v1h-1zm2 0h1v1h-1zm1 21h1v1h-1zm1-15h1v1h-1zm2 17h1v1h-1zm6 1h1v1h-1zm1-14h1v1h-1zm6-21h1v1h-1zm2 4h1v1h-1zm1 21h1v1h-1zm2 2h1v1h-1zm1-21h1v1h-1zm3-4h1v1h-1zm5 21h1v1h-1zm1 14h1v1h-1zm1-20h1v1h-1zm7 2h1v1h-1zm2-6h1v1h-1zm2-4h1v1h-1zm1 21h1v1h-1zm4-15h1v1h-1zm1 15h1v1h-1zm3-17h1v1h-1zm8-13h1v1h-1zm1 17h1v1h-1zm1 20h1v1h-1zm1-14h1v1h-1zm3 18h1v1h-1zm4-50h1v1h-1zm0 30h1v1h-1zm1-15h1v1h-1zm0 34h1v1h-1zm1-13h1v1h-1zm2-2h1v1h-1zm1-21h1v1h-1zm3 0h1v1h-1zm2 6h1v1h-1zm3 11h1v1h-1zm1 14h1v1h-1zm8-18h1v1h-1zm2-6h1v1h-1zm2 0h1v1h-1zm1-13h1v1h-1zm0 34h1v1h-1zm4-19h1v1h-1zm1-18h1v1h-1zm0 33h1v1h-1zm3-39h1v1h-1zm0 26h1v1h-1zm1-14h1v1h-1zm5 23h1v1h-1zm2-24h1v1h-1zm1 19h1v1h-1zm6 1h1v1h-1zm3-28h1v1h-1zm0 31h1v1h-1zm1-15h1v1h-1zm4-6h1v1h-1zm3 4h1v1h-1zm1-12h1v1h-1zm0 33h1v1h-1zm1-15h1v1h-1zm3 7h1v1h-1zm0 28h1v1h-1zm1-48h1v1h-1zm5 17h1v1h-1zm3-1h1v1h-1zm1-19h1v1h-1zm4 38h1v1h-1zm3-2h1v1h-1zm1-21h1v1h-1zm1 15h1v1h-1zm2-26h1v1h-1zm1 17h1v1h-1zm1-14h1v1h-1zm4 4h1v1h-1zm1 15h1v1h-1zm2-21h1v1h-1zm1 20h1v1h-1zm5 17h1v1h-1zm1-20h1v1h-1zm2-14h1v1h-1zm1 21h1v1h-1zm1-15h1v1h-1zm5 4h1v1h-1zm3 15h1v1h-1zm1-15h1v1h-1zm0 31h1v1h-1zm9-27h1v1h-1zm3-5h1v1h-1zm6 9h1v1h-1z"/>
<path fill-opacity=".875" d="m49 92h1v1h-1zm1 13h1v1h-1zm7 0h1v1h-1zm1-17h1v1h-1zm9-4h1v1h-1zm1-19h1v1h-1zm0 33h1v1h-1zm1-21h1v1h-1zm3 24h1v1h-1zm3 0h1v1h-1zm1-21h1v1h-1zm4 4h1v1h-1zm6-24h1v1h-1zm2 8h1v1h-1zm1 20h1v1h-1zm1-14h1v1h-1zm1 21h1v1h-1zm8 15h1v1h-1zm4-7h1v1h-1zm7 2h1v1h-1zm6-39h1v1h-1zm4 16h1v1h-1zm1 14h1v1h-1zm3-39h1v1h-1zm1 12h1v1h-1zm3 30h1v1h-1zm1-21h1v1h-1zm1-17h1v1h-1zm4 45h1v1h-1zm5-47h1v1h-1zm3 31h1v1h-1zm1-14h1v1h-1zm0 33h1v1h-1zm7-36h1v1h-1zm1-11h1v1h-1zm0 32h1v1h-1zm3 11h1v1h-1zm1 10h1v1h-1zm8-11h1v1h-1zm11-42h1v1h-1zm0 32h1v1h-1zm4-23h1v1h-1zm3 26h1v1h-1zm1-21h1v1h-1zm1 14h1v1h-1zm8 16h1v1h-1zm1-20h1v1h-1zm3-25h1v1h-1zm5 8h1v1h-1zm3 6h1v1h-1zm1 21h1v1h-1zm1-14h1v1h-1zm2 23h1v1h-1zm7-19h1v1h-1zm2 16h1v1h-1zm10 8h1v1h-1zm8-15h1v1h-1zm1-21h1v1h-1zm3-4h1v1h-1zm5 21h1v1h-1zm0 25h1v1h-1zm2-32h1v1h-1zm6 21h1v1h-1zm2-4h1v1h-1zm1-21h1v1h-1zm2-3h1v1h-1zm1-12h1v1h-1zm0 33h1v1h-1zm8-17h1v1h-1zm1-13h1v1h-1zm1 20h1v1h-1zm8 17h1v1h-1zm1-13h1v1h-1zm8 16h1v1h-1zm3-15h1v1h-1zm1-21h1v1h-1zm7 33h1v1h-1zm1-16h1v1h-1zm9-4h1v1h-1zm0 29h1v1h-1zm1-15h1v1h-1zm1-21h1v1h-1zm3 22h1v1h-1zm8-17h1v1h-1zm4 34h1v1h-1z"/>
<path fill-opacity=".891" d="m41 75h1v1h-1zm4-15h1v1h-1zm1 16h1v1h-1zm8-14h1v1h-1zm1 49h1v1h-1zm3 4h1v1h-1zm1-47h1v1h-1zm3 8h1v1h-1zm2 37h1v1h-1zm7-33h1v1h-1zm6 14h1v1h-1zm4 10h1v1h-1zm4 5h1v1h-1zm4-50h1v1h-1zm1 48h1v1h-1zm3-13h1v1h-1zm1-21h1v1h-1zm0 33h1v1h-1zm3-35h1v1h-1zm1-10h1v1h-1zm1 17h1v1h-1zm3 12h1v1h-1zm9-4h1v1h-1zm6 28h1v1h-1zm7-32h1v1h-1zm4 35h1v1h-1zm1-7h1v1h-1zm1-18h1v1h-1zm3-6h1v1h-1zm6 2h1v1h-1zm3-28h1v1h-1zm4 56h1v1h-1zm1-45h1v1h-1zm1 13h1v1h-1zm4-4h1v1h-1zm4 21h1v1h-1zm4-36h1v1h-1zm1 19h1v1h-1zm3 0h1v1h-1zm5 17h1v1h-1zm1-13h1v1h-1zm3-8h1v1h-1zm10-20h1v1h-1zm2 8h1v1h-1zm1 20h1v1h-1zm9 4h1v1h-1zm1 18h1v1h-1zm5-28h1v1h-1zm7 32h1v1h-1zm1-48h1v1h-1zm0 33h1v1h-1zm1-21h1v1h-1zm12 25h1v1h-1zm1-13h1v1h-1zm2 9h1v1h-1zm0 18h1v1h-1zm1-39h1v1h-1zm1-17h1v1h-1zm4 12h1v1h-1zm0 33h1v1h-1zm1-12h1v1h-1zm3 13h1v1h-1zm1-48h1v1h-1zm4 50h1v1h-1zm4-5h1v1h-1zm4-10h1v1h-1zm13 19h1v1h-1zm1-16h1v1h-1zm8 14h1v1h-1zm1-49h1v1h-1zm7 35h1v1h-1zm6-22h1v1h-1zm1 21h1v1h-1zm12-27h1v1h-1zm3-13h1v1h-1zm1 8h1v1h-1zm3 41h1v1h-1zm5-26h1v1h-1zm4 23h1v1h-1zm1 10h1v1h-1zm1-49h1v1h-1zm0 32h1v1h-1zm4-25h1v1h-1z"/>
<path fill-opacity=".906" d="m44 69h1v1h-1zm5 47h1v1h-1zm5-23h1v1h-1zm1-13h1v1h-1zm4 21h1v1h-1zm4-36h1v1h-1zm0 32h1v1h-1zm1-13h1v1h-1zm17-13h1v1h-1zm3 27h1v1h-1zm2-8h1v1h-1zm9-4h1v1h-1zm9-4h1v1h-1zm4 0h1v1h-1zm0 30h1v1h-1zm3 2h1v1h-1zm1-15h1v1h-1zm3-21h1v1h-1zm1 21h1v1h-1zm1-13h1v1h-1zm2 17h1v1h-1zm7-13h1v1h-1zm8-17h1v1h-1zm1 21h1v1h-1zm11-2h1v1h-1zm1 12h1v1h-1zm5 7h1v1h-1zm3-23h1v1h-1zm1-20h1v1h-1zm1 12h1v1h-1zm7 33h1v1h-1zm1-48h1v1h-1zm3 15h1v1h-1zm1-12h1v1h-1zm3 33h1v1h-1zm1 10h1v1h-1zm4-27h1v1h-1zm2 8h1v1h-1zm8-17h1v1h-1zm1 21h1v1h-1zm6-25h1v1h-1zm5 19h1v1h-1zm4-34h1v1h-1zm5 30h1v1h-1zm6 28h1v1h-1zm3-32h1v1h-1zm0 30h1v1h-1zm4-30h1v1h-1zm9 4h1v1h-1zm9 4h1v1h-1zm1-13h1v1h-1zm4-6h1v1h-1zm3 2h1v1h-1zm13 31h1v1h-1zm6-3h1v1h-1zm5-8h1v1h-1zm3-35h1v1h-1zm5 18h1v1h-1zm1-16h1v1h-1zm2 8h1v1h-1zm11 11h1v1h-1zm4 23h1v1h-1zm3-27h1v1h-1zm1 21h1v1h-1zm1-13h1v1h-1zm4-17h1v1h-1zm4 1h1v1h-1zm9 36h1v1h-1z"/>
<path fill-opacity=".922" d="m45 89h1v1h-1zm1 19h1v1h-1zm3-15h1v1h-1zm1-21h1v1h-1zm0 32h1v1h-1zm1-20h1v1h-1zm2-12h1v1h-1zm5 17h1v1h-1zm2-9h1v1h-1zm6 25h1v1h-1zm1-20h1v1h-1zm1 12h1v1h-1zm3-18h1v1h-1zm1-11h1v1h-1zm0 32h1v1h-1zm1-12h1v1h-1zm3-7h1v1h-1zm0 30h1v1h-1zm4-28h1v1h-1zm2 9h1v1h-1zm3-15h1v1h-1zm4 10h1v1h-1zm1-12h1v1h-1zm1 21h1v1h-1zm7-5h1v1h-1zm5-21h1v1h-1zm3-14h1v1h-1zm0 18h1v1h-1zm1 21h1v1h-1zm4-8h1v1h-1zm1-20h1v1h-1zm1 11h1v1h-1zm7 5h1v1h-1zm0 29h1v1h-1zm1-48h1v1h-1zm0 31h1v1h-1zm3-14h1v1h-1zm1-11h1v1h-1zm0 32h1v1h-1zm3-2h1v1h-1zm1-21h1v1h-1zm1 12h1v1h-1zm3-6h1v1h-1zm4 11h1v1h-1zm1-21h1v1h-1zm0 32h1v1h-1zm3-38h1v1h-1zm1 20h1v1h-1zm1-12h1v1h-1zm8 16h1v1h-1zm1-12h1v1h-1zm7-5h1v1h-1zm1 21h1v1h-1zm1 16h1v1h-1zm4-16h1v1h-1zm9-4h1v1h-1zm3-35h1v1h-1zm1 46h1v1h-1zm3-6h1v1h-1zm1-21h1v1h-1zm1 12h1v1h-1zm4 18h1v1h-1zm3-13h1v1h-1zm1-21h1v1h-1zm1 12h1v1h-1zm4-6h1v1h-1zm4 23h1v1h-1zm1-21h1v1h-1zm2-7h1v1h-1zm1-10h1v1h-1zm0 31h1v1h-1zm1-12h1v1h-1zm0 29h1v1h-1zm7-34h1v1h-1zm1-11h1v1h-1zm0 32h1v1h-1zm1-12h1v1h-1zm2 16h1v1h-1zm2-8h1v1h-1zm4-25h1v1h-1zm1 21h1v1h-1zm4 0h1v1h-1zm7 5h1v1h-1zm1-21h1v1h-1zm1 12h1v1h-1zm7 5h1v1h-1zm2-9h1v1h-1zm3-20h1v1h-1zm1 18h1v1h-1zm0 30h1v1h-1zm3-23h1v1h-1zm1-20h1v1h-1zm0 32h1v1h-1zm1-21h1v1h-1zm2-3h1v1h-1zm1 21h1v1h-1zm1-12h1v1h-1zm3-1h1v1h-1zm1-19h1v1h-1zm3-8h1v1h-1zm0 23h1v1h-1zm2 9h1v1h-1zm2 12h1v1h-1zm0 16h1v1h-1zm1-37h1v1h-1zm4 4h1v1h-1zm1-12h1v1h-1zm1 21h1v1h-1zm3 15h1v1h-1zm1-19h1v1h-1zm3-1h1v1h-1zm4 6h1v1h-1zm1-21h1v1h-1zm0 32h1v1h-1zm1-20h1v1h-1zm2-14h1v1h-1zm1 21h1v1h-1zm1 18h1v1h-1zm3-20h1v1h-1zm2-9h1v1h-1zm7 5h1v1h-1zm1 12h1v1h-1zm1-21h1v1h-1zm2 1h1v1h-1zm1 21h1v1h-1zm1-12h1v1h-1zm3-5h1v1h-1zm4 0h1v1h-1zm2 9h1v1h-1z"/>
<path fill-opacity=".938" d="m41 76h1v1h-1zm0 10h1v1h-1zm5-9h1v1h-1zm13-8h1v1h-1zm3 6h1v1h-1zm1 21h1v1h-1zm4 17h1v1h-1zm8-11h1v1h-1zm2-39h1v1h-1zm0 30h1v1h-1zm3-35h1v1h-1zm6 31h1v1h-1zm7 6h1v1h-1zm1-21h1v1h-1zm3-4h1v1h-1zm2 9h1v1h-1zm3 12h1v1h-1zm1 11h1v1h-1zm4-38h1v1h-1zm1 19h1v1h-1zm7-6h1v1h-1zm1-10h1v1h-1zm1 20h1v1h-1zm17 18h1v1h-1zm5-18h1v1h-1zm4 21h1v1h-1zm4-36h1v1h-1zm1 11h1v1h-1zm2-11h1v1h-1zm1-9h1v1h-1zm4 26h1v1h-1zm1 11h1v1h-1zm1-21h1v1h-1zm4 6h1v1h-1zm2 20h1v1h-1zm1-20h1v1h-1zm5 15h1v1h-1zm1-11h1v1h-1zm2 28h1v1h-1zm1-36h1v1h-1zm4 2h1v1h-1zm1-11h1v1h-1zm1 21h1v1h-1zm3 15h1v1h-1zm4-21h1v1h-1zm5 18h1v1h-1zm4-14h1v1h-1zm5-21h1v1h-1zm9 28h1v1h-1zm1-21h1v1h-1zm8-13h1v1h-1zm4 38h1v1h-1zm3-2h1v1h-1zm1-21h1v1h-1zm4-20h1v1h-1zm1 15h1v1h-1zm1 21h1v1h-1zm6-26h1v1h-1zm1 20h1v1h-1zm8-33h1v1h-1zm1 37h1v1h-1zm9-27h1v1h-1zm1 47h1v1h-1zm4-17h1v1h-1zm4-27h1v1h-1zm9 35h1v1h-1zm3-6h1v1h-1zm6-22h1v1h-1zm0 31h1v1h-1zm8-45h1v1h-1zm4 53h1v1h-1zm6-3h1v1h-1zm9 2h1v1h-1zm2-11h1v1h-1zm2-9h1v1h-1z"/>
<path fill-opacity=".953" d="m42 60h1v1h-1zm2 8h1v1h-1zm7 15h1v1h-1zm3-20h1v1h-1zm0 29h1v1h-1zm1-11h1v1h-1zm9 4h1v1h-1zm4-19h1v1h-1zm5 23h1v1h-1zm2 28h1v1h-1zm6-45h1v1h-1zm0 31h1v1h-1zm4 5h1v1h-1zm1-47h1v1h-1zm4 45h1v1h-1zm4-1h1v1h-1zm1-46h1v1h-1zm0 26h1v1h-1zm4 24h1v1h-1zm5-28h1v1h-1zm12 17h1v1h-1zm10-7h1v1h-1zm4-29h1v1h-1zm4 12h1v1h-1zm1 21h1v1h-1zm11-2h1v1h-1zm4-37h1v1h-1zm6 13h1v1h-1zm4-3h1v1h-1zm8-9h1v1h-1zm0 22h1v1h-1zm1-10h1v1h-1zm3 33h1v1h-1zm2-39h1v1h-1zm13 13h1v1h-1zm1 21h1v1h-1zm6-27h1v1h-1zm1-8h1v1h-1zm4 29h1v1h-1zm0 24h1v1h-1zm9-28h1v1h-1zm1-20h1v1h-1zm8 16h1v1h-1zm1 11h1v1h-1zm3-13h1v1h-1zm5 28h1v1h-1zm4-24h1v1h-1zm1 20h1v1h-1zm4 1h1v1h-1zm4-45h1v1h-1zm1 17h1v1h-1zm0 30h1v1h-1zm4-5h1v1h-1zm3-31h1v1h-1zm13 33h1v1h-1zm10-24h1v1h-1zm0 29h1v1h-1zm1-18h1v1h-1zm8-15h1v1h-1zm1 11h1v1h-1zm3-28h1v1h-1zm4 56h1v1h-1zm5-25h1v1h-1zm1-11h1v1h-1zm4-10h1v1h-1zm0 31h1v1h-1zm3-27h1v1h-1zm1-9h1v1h-1zm0 30h1v1h-1zm1-11h1v1h-1zm9 4h1v1h-1zm4-24h1v1h-1zm4 7h1v1h-1z"/>
<path fill-opacity=".969" d="m45 88h1v1h-1zm8-32h1v1h-1zm0 15h1v1h-1zm2 39h1v1h-1zm2-4h1v1h-1zm2-6h1v1h-1zm1-21h1v1h-1zm3-13h1v1h-1zm8-9h1v1h-1zm1 12h1v1h-1zm4 13h1v1h-1zm3-15h1v1h-1zm3 26h1v1h-1zm2 6h1v1h-1zm1-21h1v1h-1zm3-11h1v1h-1zm5 49h1v1h-1zm5-54h1v1h-1zm0 28h1v1h-1zm4 25h1v1h-1zm1-44h1v1h-1zm3 2h1v1h-1zm1 21h1v1h-1zm3 12h1v1h-1zm2-8h1v1h-1zm1-21h1v1h-1zm6 27h1v1h-1zm10 5h1v1h-1zm3-42h1v1h-1zm1-8h1v1h-1zm4 38h1v1h-1zm1-21h1v1h-1zm1-16h1v1h-1zm3 1h1v1h-1zm5 42h1v1h-1zm12-28h1v1h-1zm1 21h1v1h-1zm5-30h1v1h-1zm0 30h1v1h-1zm8 14h1v1h-1zm3-43h1v1h-1zm2 36h1v1h-1zm5-42h1v1h-1zm2 6h1v1h-1zm1-7h1v1h-1zm4 35h1v1h-1zm0 21h1v1h-1zm1-42h1v1h-1zm1-15h1v1h-1zm4 21h1v1h-1zm0 29h1v1h-1zm4-8h1v1h-1zm5-17h1v1h-1zm2 22h1v1h-1zm5-29h1v1h-1zm1 21h1v1h-1zm3 19h1v1h-1zm6-46h1v1h-1zm5-9h1v1h-1zm0 28h1v1h-1zm2-23h1v1h-1zm7 19h1v1h-1zm7 7h1v1h-1zm1-21h1v1h-1zm1 10h1v1h-1zm4 0h1v1h-1zm2 24h1v1h-1zm1-17h1v1h-1zm0 25h1v1h-1zm6-28h1v1h-1zm3-1h1v1h-1zm4-6h1v1h-1zm1 21h1v1h-1zm1-10h1v1h-1zm2 12h1v1h-1zm2-39h1v1h-1zm2 4h1v1h-1zm1 16h1v1h-1zm8-16h1v1h-1zm1 20h1v1h-1zm6-3h1v1h-1zm2-28h1v1h-1zm7 24h1v1h-1zm7 7h1v1h-1zm0 26h1v1h-1zm1-46h1v1h-1zm4 1h1v1h-1zm3 49h1v1h-1zm1-34h1v1h-1zm0 28h1v1h-1zm4-53h1v1h-1zm1 44h1v1h-1zm1-10h1v1h-1z"/>
<path fill-opacity=".984" d="m41 77h1v1h-1zm1 9h1v1h-1zm3-25h1v1h-1zm0 26h1v1h-1zm1-9h1v1h-1zm0 29h1v1h-1zm3-13h1v1h-1zm1-21h1v1h-1zm0 30h1v1h-1zm1-21h1v1h-1zm3 9h1v1h-1zm1-9h1v1h-1zm3 8h1v1h-1zm0 24h1v1h-1zm1-44h1v1h-1zm3 4h1v1h-1zm1 21h1v1h-1zm1-9h1v1h-1zm0 26h1v1h-1zm2-6h1v1h-1zm1-20h1v1h-1zm1-19h1v1h-1zm0 29h1v1h-1zm3-18h1v1h-1zm1 21h1v1h-1zm1-9h1v1h-1zm2 13h1v1h-1zm1 7h1v1h-1zm1-46h1v1h-1zm0 28h1v1h-1zm3-10h1v1h-1zm1-9h1v1h-1zm0 29h1v1h-1zm1-8h1v1h-1zm2 6h1v1h-1zm1-21h1v1h-1zm1 9h1v1h-1zm3-28h1v1h-1zm0 26h1v1h-1zm1-10h1v1h-1zm1 21h1v1h-1zm2-1h1v1h-1zm1-21h1v1h-1zm0 29h1v1h-1zm1-20h1v1h-1zm2-28h1v1h-1zm0 13h1v1h-1zm2 11h1v1h-1zm3 12h1v1h-1zm1 9h1v1h-1zm1-21h1v1h-1zm3-15h1v1h-1zm0 28h1v1h-1zm1-9h1v1h-1zm0 27h1v1h-1zm3-23h1v1h-1zm1-20h1v1h-1zm0 29h1v1h-1zm1-21h1v1h-1zm2 0h1v1h-1zm1-8h1v1h-1zm0 29h1v1h-1zm1-9h1v1h-1zm0 25h1v1h-1zm2 4h1v1h-1zm1-33h1v1h-1zm0 27h1v1h-1zm1-46h1v1h-1zm0 29h1v1h-1zm3-14h1v1h-1zm1-9h1v1h-1zm0 30h1v1h-1zm1-9h1v1h-1zm2 9h1v1h-1zm1-21h1v1h-1zm1 10h1v1h-1zm3-6h1v1h-1zm1-9h1v1h-1zm0 29h1v1h-1zm1-8h1v1h-1zm3-19h1v1h-1zm0 29h1v1h-1zm1-20h1v1h-1zm2-18h1v1h-1zm1 20h1v1h-1zm1-10h1v1h-1zm0 29h1v1h-1zm3-13h1v1h-1zm1-21h1v1h-1zm1 9h1v1h-1zm2-11h1v1h-1zm1 21h1v1h-1zm1-10h1v1h-1zm0 28h1v1h-1zm2-4h1v1h-1zm1-16h1v1h-1zm0 24h1v1h-1zm1-15h1v1h-1zm1-21h1v1h-1zm4 8h1v1h-1zm0 26h1v1h-1zm2-6h1v1h-1zm1-20h1v1h-1zm0 26h1v1h-1zm1-17h1v1h-1zm3-17h1v1h-1zm1 21h1v1h-1zm1-9h1v1h-1zm2 13h1v1h-1zm1-21h1v1h-1zm1 10h1v1h-1zm3-10h1v1h-1zm1-9h1v1h-1zm1 21h1v1h-1zm2 5h1v1h-1zm1-21h1v1h-1zm0 29h1v1h-1zm1-19h1v1h-1zm3-2h1v1h-1zm1-9h1v1h-1zm0 29h1v1h-1zm3-10h1v1h-1zm1 8h1v1h-1zm1-20h1v1h-1zm2-28h1v1h-1zm1 34h1v1h-1zm1-9h1v1h-1zm2 25h1v1h-1zm1-14h1v1h-1zm1-21h1v1h-1zm1 9h1v1h-1zm2-7h1v1h-1zm1-8h1v1h-1zm0 29h1v1h-1zm1 17h1v1h-1zm3-23h1v1h-1zm0 25h1v1h-1zm1-45h1v1h-1zm0 29h1v1h-1zm1-21h1v1h-1zm2-19h1v1h-1zm1 11h1v1h-1zm1 20h1v1h-1zm2 16h1v1h-1zm1-20h1v1h-1zm0 27h1v1h-1zm1-46h1v1h-1zm0 28h1v1h-1zm3-35h1v1h-1zm0 22h1v1h-1zm1 21h1v1h-1zm1-9h1v1h-1zm2 9h1v1h-1zm1-21h1v1h-1zm1 9h1v1h-1zm3-5h1v1h-1zm1-9h1v1h-1zm1 21h1v1h-1zm2 1h1v1h-1zm1-21h1v1h-1zm1-16h1v1h-1zm0 25h1v1h-1zm2-17h1v1h-1zm1 20h1v1h-1zm1-9h1v1h-1zm4-6h1v1h-1zm0 29h1v1h-1zm3-31h1v1h-1zm1-7h1v1h-1zm0 28h1v1h-1zm1-9h1v1h-1zm0 27h1v1h-1zm3-20h1v1h-1zm1-21h1v1h-1zm0 30h1v1h-1zm1-21h1v1h-1zm2-3h1v1h-1zm1-8h1v1h-1zm0 29h1v1h-1zm3 21h1v1h-1zm1-31h1v1h-1zm0 26h1v1h-1zm1-46h1v1h-1zm0 29h1v1h-1zm4-25h1v1h-1zm4 12h1v1h-1zm1 9h1v1h-1zm3-9h1v1h-1zm1-9h1v1h-1zm0 30h1v1h-1zm1-9h1v1h-1zm2 5h1v1h-1zm1-21h1v1h-1zm0 29h1v1h-1zm1-46h1v1h-1zm0 26h1v1h-1zm3-1h1v1h-1zm1-9h1v1h-1zm0 29h1v1h-1zm3-11h1v1h-1zm1-21h1v1h-1zm0 30h1v1h-1zm1-21h1v1h-1zm2-13h1v1h-1zm1-7h1v1h-1zm0 27h1v1h-1zm1-9h1v1h-1zm0 28h1v1h-1zm2-3h1v1h-1zm1-15h1v1h-1zm1-20h1v1h-1zm0 29h1v1h-1zm3-27h1v1h-1zm1 21h1v1h-1zm1-9h1v1h-1zm2 21h1v1h-1zm2-9h1v1h-1zm1-21h1v1h-1zm2-19h1v1h-1zm0 20h1v1h-1zm1 21h1v1h-1zm1-9h1v1h-1zm2 15h1v1h-1zm2-11h1v1h-1zm3-12h1v1h-1zm1-9h1v1h-1zm1 21h1v1h-1z"/>
<path d="m41 78h1v8h-1zm1-17h1v25h-1zm2-5h1v12h-1zm1 6h1v25h-1zm1 17h1v28h-1zm2 32h1v7h-1zm1-16h1v21h-1zm1-21h1v29h-1zm1-12h1v20h-1zm2-5h1v14h-1zm1 7h1v27h-1zm1 19h1v27h-1zm2 24h1v11h-1zm1-16h1v23h-1zm1-20h1v29h-1zm1-2h1v10h-1zm2-12h1v17h-1zm1 10h1v28h-1zm1 20h1v25h-1zm2 20h1v11h-1zm1-20h1v26h-1zm1-19h1v28h-1zm2-12h1v5h-1zm1 2h1v20h-1zm1 12h1v29h-1zm1 21h1v23h-1zm2 13h1v13h-1zm1-21h1v27h-1zm1-18h1v27h-1zm2-9h1v11h-1zm1 3h1v23h-1zm1 15h1v28h-1zm1 21h1v11h-1zm2 6h1v16h-1zm1-21h1v28h-1zm1-18h1v26h-1zm2-6h1v11h-1zm1 5h1v25h-1zm1 16h1v29h-1zm1 21h1v1h-1zm1 16h1v4h-1zm1-17h1v19h-1zm1-21h1v28h-1zm1-16h1v24h-1zm2-3h1v12h-1zm1 6h1v27h-1zm1 18h1v28h-1zm2 26h1v11h-1zm1-14h1v22h-1zm1-21h1v29h-1zm1-6h1v14h-1zm2-9h1v16h-1zm1 9h1v27h-1zm1 19h1v26h-1zm2 22h1v11h-1zm1-18h1v25h-1zm1-20h1v28h-1zm1 5h1v2h-1zm1-18h1v2h-1zm1 1h1v19h-1zm1 12h1v28h-1zm1 20h1v24h-1zm2 16h1v12h-1zm1-20h1v26h-1zm1-19h1v28h-1zm2-10h1v9h-1zm1 2h1v22h-1zm1 14h1v29h-1zm1 21h1v17h-1zm2 9h1v15h-1zm1-21h1v28h-1zm1-18h1v27h-1zm2-7h1v11h-1zm1 4h1v24h-1zm1 16h1v28h-1zm1 21h1v5h-1zm1 20h1v1h-1zm1-19h1v19h-1zm1-20h1v28h-1zm1-17h1v25h-1zm2-5h1v12h-1zm1 6h1v26h-1zm1 17h1v28h-1zm2 31h1v8h-1zm1-15h1v21h-1zm1-21h1v29h-1zm1-11h1v19h-1zm2-6h1v14h-1zm1 7h1v28h-1zm1 19h1v27h-1zm2 24h1v11h-1zm1-16h1v23h-1zm1-21h1v29h-1zm1 0h1v8h-1zm2-13h1v18h-1zm1 10h1v29h-1zm1 20h1v25h-1zm2 20h1v11h-1zm1-20h1v25h-1zm1-20h1v28h-1zm2-11h1v6h-1zm1 2h1v20h-1zm1 12h1v29h-1zm1 21h1v22h-1zm2 13h1v13h-1zm1-21h1v27h-1zm1-19h1v28h-1zm2-8h1v11h-1zm1 3h1v23h-1zm1 15h1v29h-1zm1 21h1v10h-1zm2 5h1v17h-1zm1-21h1v28h-1zm1-17h1v26h-1zm2-6h1v11h-1zm1 5h1v25h-1zm1 17h1v28h-1zm2 36h1v4h-1zm1-17h1v19h-1zm1-22h1v29h-1zm1-15h1v24h-1zm2-3h1v13h-1zm1 6h1v27h-1zm1 19h1v27h-1zm2 25h1v11h-1zm1-14h1v22h-1zm1-21h1v29h-1zm1-5h1v13h-1zm2-10h1v16h-1zm1 9h1v28h-1zm1 19h1v26h-1zm2 22h1v11h-1zm1-18h1v24h-1zm1-20h1v28h-1zm1 5h1v2h-1zm1-18h1v3h-1zm1 2h1v19h-1zm1 11h1v29h-1zm1 20h1v25h-1zm2 16h1v12h-1zm1-20h1v26h-1zm1-19h1v27h-1zm2-10h1v10h-1zm1 3h1v21h-1zm1 13h1v29h-1zm1 21h1v16h-1zm2 9h1v15h-1zm1-21h1v28h-1zm1-18h1v26h-1zm2-7h1v11h-1zm1 4h1v24h-1zm1 16h1v29h-1zm1 21h1v4h-1zm1 20h1v1h-1zm1-19h1v19h-1zm1-21h1v29h-1zm1-16h1v24h-1zm2-5h1v12h-1zm1 6h1v26h-1zm1 18h1v28h-1zm2 30h1v8h-1zm1-16h1v22h-1zm1-20h1v28h-1zm1-11h1v19h-1zm2-6h1v14h-1zm1 8h1v27h-1zm1 19h1v26h-1zm2 23h1v11h-1zm1-16h1v23h-1zm1-21h1v29h-1zm1 1h1v7h-1zm2-14h1v18h-1zm1 11h1v28h-1zm1 19h1v26h-1zm2 19h1v11h-1zm1-19h1v25h-1zm1-20h1v28h-1zm2-11h1v7h-1zm1 2h1v21h-1zm1 13h1v29h-1zm1 20h1v21h-1zm2 12h1v14h-1zm1-20h1v27h-1zm1-19h1v27h-1zm2-8h1v11h-1zm1 3h1v23h-1zm1 15h1v29h-1zm1 21h1v10h-1zm2 5h1v17h-1zm1-21h1v28h-1zm1-17h1v25h-1zm2-6h1v11h-1zm1 5h1v25h-1zm1 17h1v28h-1zm2 35h1v5h-1zm1-17h1v20h-1zm1-21h1v29h-1zm1-15h1v23h-1zm2-3h1v13h-1zm1 7h1v26h-1zm1 18h1v27h-1zm2 25h1v11h-1zm1-15h1v23h-1zm1-20h1v28h-1zm1-5h1v13h-1zm2-10h1v16h-1zm1 9h1v28h-1zm1 20h1v26h-1zm2 21h1v11h-1zm1-19h1v25h-1zm1-20h1v29h-1zm1 7h1v1h-1zm1-19h1v3h-1zm1 2h1v19h-1zm1 11h1v29h-1zm1 21h1v24h-1zm2 15h1v12h-1zm1-21h1v27h-1zm1-19h1v28h-1zm2-9h1v11h-1zm1 3h1v22h-1zm1 14h1v29h-1zm1 21h1v14h-1zm2 20h1v3h-1z"/>
</g>
<g id="s2">
<path fill-opacity=".016" d="m40 29h1v1h-1zm2 67h1v1h-1zm5 52h1v1h-1zm1-120h1v1h-1zm0 113h1v1h-1zm6-54h1v1h-1zm2-40h1v1h-1zm1 90h1v1h-1zm2-68h1v1h-1zm1 42h1v1h-1zm3-16h1v1h-1zm1-16h1v1h-1zm5 39h1v1h-1zm1-87h1v1h-1zm3 40h1v1h-1zm2 56h1v1h-1zm3-102h1v1h-1zm1 121h1v1h-1zm1-78h1v1h-1zm3 77h1v1h-1zm2-65h1v1h-1zm5 18h1v1h-1zm4-26h1v1h-1zm2-46h1v1h-1zm3 64h1v1h-1zm1-40h1v1h-1zm1-23h1v1h-1zm0 112h1v1h-1zm5-88h1v1h-1zm0 97h1v1h-1zm3-104h1v1h-1zm1-18h1v1h-1zm1 73h1v1h-1zm1-26h1v1h-1zm1 42h1v1h-1zm1 28h1v1h-1zm2-44h1v1h-1zm2 48h1v1h-1zm2-56h1v1h-1zm1-10h1v1h-1zm2-48h1v1h-1zm4 1h1v1h-1zm0 112h1v1h-1zm1-121h1v1h-1zm4 12h1v1h-1zm1 35h1v1h-1zm4 45h1v1h-1zm4-75h1v1h-1zm1 38h1v1h-1zm1 14h1v1h-1zm1 54h1v1h-1zm1-120h1v1h-1zm1 82h1v1h-1zm1-42h1v1h-1zm2 70h1v1h-1zm1-90h1v1h-1zm2 38h1v1h-1zm9-8h1v1h-1zm1-37h1v1h-1zm1 91h1v1h-1zm8-96h1v1h-1zm2 51h1v1h-1zm2 38h1v1h-1zm1-90h1v1h-1zm2 70h1v1h-1zm1-42h1v1h-1zm1-31h1v1h-1zm0 113h1v1h-1zm1-25h1v1h-1zm1-41h1v1h-1zm1 14h1v1h-1zm1 38h1v1h-1zm1-91h1v1h-1zm4-11h1v1h-1zm1 84h1v1h-1zm2-12h1v1h-1zm1-75h1v1h-1zm0 110h1v1h-1zm5-109h1v1h-1zm1 79h1v1h-1zm3 34h1v1h-1zm1 8h1v1h-1zm6-74h1v1h-1zm2-44h1v1h-1zm1 28h1v1h-1zm1 42h1v1h-1zm2-62h1v1h-1zm0 109h1v1h-1zm1-18h1v1h-1zm7-63h1v1h-1zm2-41h1v1h-1zm0 98h1v1h-1zm4 24h1v1h-1zm1-74h1v1h-1zm2-14h1v1h-1zm8 34h1v1h-1zm1-41h1v1h-1zm0 96h1v1h-1zm3-81h1v1h-1zm1 38h1v1h-1zm4-20h1v1h-1zm1-39h1v1h-1zm5 96h1v1h-1zm1-87h1v1h-1zm5 39h1v1h-1zm4-32h1v1h-1zm1 42h1v1h-1zm4-18h1v1h-1zm1 0h1v1h-1zm4 18h1v1h-1zm1-42h1v1h-1zm4 32h1v1h-1zm3-17h1v1h-1zm2-22h1v1h-1zm1 87h1v1h-1zm5-96h1v1h-1zm1 39h1v1h-1zm4 20h1v1h-1zm1-38h1v1h-1zm3-15h1v1h-1zm0 96h1v1h-1zm1-55h1v1h-1zm10-20h1v1h-1zm5-48h1v1h-1zm0 98h1v1h-1zm2-57h1v1h-1z"/>
<path fill-opacity=".031" d="m44 42h1v1h-1zm2 53h1v1h-1zm6 42h1v1h-1zm3-50h1v1h-1zm3 16h1v1h-1zm3 38h1v1h-1zm1-87h1v1h-1zm0 94h1v1h-1zm4-16h1v1h-1zm1-37h1v1h-1zm3 49h1v1h-1zm1-83h1v1h-1zm1 42h1v1h-1zm2-66h1v1h-1zm4 87h1v1h-1zm1-89h1v1h-1zm2 71h1v1h-1zm1-42h1v1h-1zm1-31h1v1h-1zm1-8h1v1h-1zm2 67h1v1h-1zm1 38h1v1h-1zm1 17h1v1h-1zm1-71h1v1h-1zm3 66h1v1h-1zm3-42h1v1h-1zm1 35h1v1h-1zm1-90h1v1h-1zm17-15h1v1h-1zm1 28h1v1h-1zm2 17h1v1h-1zm1-36h1v1h-1zm1 90h1v1h-1zm3-104h1v1h-1zm1 120h1v1h-1zm1-80h1v1h-1zm1 42h1v1h-1zm1-40h1v1h-1zm3 16h1v1h-1zm5 19h1v1h-1zm1-42h1v1h-1zm1-29h1v1h-1zm2 44h1v1h-1zm2 58h1v1h-1zm4-80h1v1h-1zm4 51h1v1h-1zm1-77h1v1h-1zm2 61h1v1h-1zm2-41h1v1h-1zm2 55h1v1h-1zm3-73h1v1h-1zm1 119h1v1h-1zm1-52h1v1h-1zm5-19h1v1h-1zm2 67h1v1h-1zm5-18h1v1h-1zm2-41h1v1h-1zm2 61h1v1h-1zm1-77h1v1h-1zm11-13h1v1h-1zm1 86h1v1h-1zm2-71h1v1h-1zm9-5h1v1h-1zm1 42h1v1h-1zm4-26h1v1h-1zm2-56h1v1h-1zm0 108h1v1h-1zm1-36h1v1h-1zm3 45h1v1h-1zm3-69h1v1h-1zm3 16h1v1h-1zm2-65h1v1h-1zm0 97h1v1h-1zm3-14h1v1h-1zm2-74h1v1h-1zm2 48h1v1h-1zm2 46h1v1h-1zm1-90h1v1h-1zm2 63h1v1h-1zm2 42h1v1h-1zm1-27h1v1h-1zm2-19h1v1h-1zm2-54h1v1h-1zm1 38h1v1h-1zm3-53h1v1h-1zm0 112h1v1h-1zm1-31h1v1h-1zm3-82h1v1h-1zm0 111h1v1h-1zm1-89h1v1h-1zm1 40h1v1h-1zm3 47h1v1h-1zm2-66h1v1h-1zm1 42h1v1h-1zm1-83h1v1h-1zm1 119h1v1h-1zm4-17h1v1h-1zm2-53h1v1h-1zm1 41h1v1h-1zm1-87h1v1h-1zm3 38h1v1h-1zm1-34h1v1h-1zm5 0h1v1h-1zm4-4h1v1h-1zm1-7h1v1h-1zm0 94h1v1h-1zm1-41h1v1h-1zm2 53h1v1h-1zm3-34h1v1h-1zm1 51h1v1h-1zm1-119h1v1h-1zm1 83h1v1h-1zm3 24h1v1h-1zm3-47h1v1h-1zm1-40h1v1h-1zm1-22h1v1h-1zm0 111h1v1h-1zm3-29h1v1h-1zm1-81h1v1h-1zm0 112h1v1h-1zm3-59h1v1h-1zm1-38h1v1h-1zm2 54h1v1h-1zm2 19h1v1h-1zm1 27h1v1h-1zm1-84h1v1h-1zm1 42h1v1h-1zm2-63h1v1h-1zm1 90h1v1h-1zm2-46h1v1h-1zm2-48h1v1h-1zm5 88h1v1h-1z"/>
<path fill-opacity=".047" d="m41 53h1v2h-1zm1 41h1v2h-1zm1 38h1v1h-1zm1-89h1v1h-1zm1 37h1v2h-1zm1 16h1v1h-1zm1-42h1v2h-1zm1 86h1v1h-1zm1-31h1v2h-1zm1-42h1v2h-1zm1 35h1v2h-1zm1-75h1v1h-1zm1 21h1v2h-1zm1 40h1v2h-1zm1 0h1v2h-1zm1-40h1v1h-1zm1 88h1v1h-1zm1-35h1v2h-1zm1-34h1v2h-1zm1 42h1v2h-1zm2-54h1v1h-1zm1 41h1v2h-1zm1-16h1v2h-1zm1-38h1v2h-1zm1 89h1v1h-1zm1-37h1v1h-1zm1-19h1v2h-1zm1-50h1v1h-1zm0 91h1v2h-1zm1-84h1v1h-1zm1 30h1v1h-1zm1 42h1v1h-1zm1-32h1v2h-1zm2 54h1v1h-1zm1-40h1v2h-1zm1-3h1v2h-1zm1 40h1v1h-1zm1-87h1v1h-1zm1 33h1v2h-1zm1 38h1v1h-1zm1-42h1v1h-1zm2 54h1v2h-1zm1-41h1v2h-1zm1 12h1v2h-1zm1 39h1v1h-1zm1-89h1v1h-1zm1 37h1v2h-1zm1 22h1v2h-1zm1-42h1v2h-1zm0 91h1v1h-1zm1-118h1v1h-1zm1 82h1v2h-1zm1-42h1v2h-1zm1 28h1v2h-1zm1 36h1v1h-1zm1-88h1v1h-1zm1 38h1v3h-1zm1 7h1v2h-1zm1-40h1v1h-1zm1 87h1v1h-1zm1-33h1v2h-1zm1-40h1v1h-1zm1 41h1v2h-1zm1 33h1v1h-1zm1-87h1v1h-1zm1 40h1v2h-1zm1-9h1v2h-1zm1-38h1v1h-1zm1 89h1v1h-1zm1-37h1v2h-1zm1-26h1v2h-1zm1 42h1v2h-1zm2-54h1v1h-1zm0 89h1v1h-1zm1-48h1v2h-1zm1-24h1v1h-1zm1-36h1v1h-1zm1 88h1v1h-1zm1-39h1v2h-1zm1-10h1v2h-1zm1 41h1v2h-1zm1-86h1v1h-1zm1 32h1v1h-1zm1 42h1v1h-1zm1-40h1v2h-1zm1-33h1v1h-1zm1 87h1v2h-1zm1-41h1v2h-1zm1 6h1v2h-1zm1 39h1v2h-1zm1-88h1v1h-1zm1 35h1v2h-1zm1 30h1v1h-1zm1-42h1v1h-1zm1 82h1v1h-1zm1-28h1v2h-1zm1-41h1v1h-1zm1 21h1v2h-1zm1 37h1v1h-1zm1-89h1v1h-1zm1 38h1v2h-1zm1 14h1v2h-1zm1-41h1v1h-1zm1 86h1v1h-1zm1-32h1v2h-1zm1-42h1v2h-1zm1 36h1v2h-1zm1 35h1v1h-1zm1-88h1v1h-1zm1 40h1v2h-1zm1-2h1v2h-1zm1-39h1v1h-1zm1 88h1v1h-1zm1-35h1v1h-1zm1-33h1v2h-1zm1 42h1v2h-1zm1 31h1v1h-1zm1-86h1v2h-1zm1 42h1v2h-1zm1-18h1v2h-1zm1-37h1v1h-1zm1 89h1v1h-1zm1-38h1v2h-1zm1-17h1v1h-1zm1 41h1v2h-1zm1-85h1v1h-1zm1 30h1v2h-1zm1 42h1v2h-1zm1-33h1v2h-1zm1-34h1v1h-1zm1 88h1v1h-1zm1-40h1v2h-1zm1-2h1v2h-1zm1 41h1v1h-1zm1-88h1v1h-1zm1 34h1v2h-1zm1 36h1v2h-1zm1-42h1v2h-1zm1-31h1v1h-1zm1-8h1v1h-1zm0 93h1v2h-1zm1-41h1v2h-1zm1 14h1v2h-1zm1 39h1v1h-1zm1-89h1v1h-1zm0 106h1v1h-1zm1-70h1v2h-1zm1 21h1v2h-1zm1-41h1v1h-1zm0 91h1v1h-1zm2-37h1v2h-1zm1-42h1v2h-1zm1 30h1v2h-1zm1 36h1v1h-1zm1-89h1v2h-1zm1 39h1v2h-1zm1 5h1v2h-1zm1-40h1v2h-1zm1 88h1v1h-1zm1-34h1v2h-1zm1-39h1v1h-1zm1 42h1v1h-1zm1-79h1v1h-1zm0 111h1v1h-1zm1-87h1v2h-1zm1 41h1v2h-1zm1-10h1v2h-1zm1-39h1v2h-1zm1 89h1v1h-1zm1-37h1v2h-1zm1-24h1v2h-1zm1 42h1v2h-1zm2-55h1v2h-1zm1 42h1v2h-1zm1-26h1v2h-1zm1-36h1v1h-1zm1 89h1v1h-1zm1-40h1v2h-1zm1-8h1v2h-1zm1 41h1v1h-1zm1-87h1v1h-1zm0 111h1v1h-1zm1-79h1v2h-1zm2 1h1v2h-1zm2 54h1v2h-1zm1-40h1v1h-1zm1 7h1v2h-1zm1 39h1v1h-1zm1-88h1v1h-1zm1 35h1v2h-1zm1 28h1v2h-1zm1-42h1v2h-1zm1-29h1v1h-1zm1 84h1v1h-1zm1-42h1v2h-1zm1 22h1v2h-1zm1-69h1v1h-1zm0 107h1v1h-1zm1-89h1v1h-1zm1 38h1v2h-1zm1 12h1v2h-1zm1-41h1v2h-1zm2 54h1v2h-1zm1-42h1v2h-1zm1 38h1v2h-1zm1 34h1v1h-1zm1-87h1v1h-1zm1 40h1v2h-1zm1-4h1v2h-1zm1-39h1v1h-1zm1 88h1v1h-1zm1-35h1v2h-1zm1-31h1v1h-1zm1 42h1v1h-1zm1 30h1v1h-1zm1-85h1v2h-1zm1 41h1v2h-1zm1-19h1v2h-1zm1-37h1v1h-1zm0 106h1v1h-1zm1-17h1v1h-1zm1-38h1v2h-1zm1-16h1v2h-1zm1-51h1v1h-1zm0 93h1v1h-1zm2-55h1v2h-1zm1 42h1v2h-1zm1-34h1v2h-1zm1 75h1v1h-1zm1-22h1v2h-1zm1-40h1v2h-1zm1 0h1v2h-1zm1 40h1v2h-1zm1 22h1v1h-1zm1-76h1v2h-1zm1 35h1v2h-1zm1-42h1v2h-1zm1 81h1v1h-1zm1-26h1v1h-1zm1-42h1v2h-1zm1 16h1v2h-1zm1 38h1v1h-1zm1-89h1v1h-1zm0 106h1v1h-1zm1-69h1v2h-1zm1 20h1v1h-1zm1-42h1v2h-1zm1 85h1v1h-1zm1-30h1v1h-1zm1-42h1v2h-1zm1 31h1v2h-1zm1 35h1v1h-1zm1-88h1v1h-1zm1 39h1v2h-1zm1 4h1v2h-1zm1-40h1v1h-1zm2 53h1v2h-1zm1-38h1v2h-1zm1 42h1v2h-1zm2-54h1v2h-1zm1 41h1v2h-1zm1-12h1v2h-1zm1-38h1v1h-1zm1-18h1v1h-1zm0 107h1v1h-1zm1-38h1v2h-1zm1-22h1v2h-1zm1 42h1v1h-1zm1-84h1v1h-1zm1 29h1v2h-1zm1 42h1v2h-1zm1-28h1v2h-1zm1-35h1v1h-1zm1 88h1v1h-1zm1-39h1v2h-1zm1-7h1v1h-1zm1 40h1v2h-1zm2-54h1v2h-1zm1 41h1v1h-1zm1-42h1v2h-1zm2 55h1v1h-1zm1-41h1v2h-1z"/>
<path fill-opacity=".062" d="m43 26h1v1h-1zm0 105h1v1h-1zm3-34h1v1h-1zm2-68h1v1h-1zm2 37h1v1h-1zm1 35h1v1h-1zm1 35h1v1h-1zm4-87h1v1h-1zm1-22h1v1h-1zm4 2h1v1h-1zm1 27h1v1h-1zm4-30h1v1h-1zm1 67h1v1h-1zm4-30h1v1h-1zm1 42h1v1h-1zm2-67h1v1h-1zm1 87h1v1h-1zm1-40h1v1h-1zm1-3h1v1h-1zm4 26h1v1h-1zm1-42h1v1h-1zm6-25h1v1h-1zm12 11h1v1h-1zm2 52h1v1h-1zm3-76h1v1h-1zm1 25h1v1h-1zm1 41h1v1h-1zm1-9h1v1h-1zm2 48h1v1h-1zm4 9h1v1h-1zm3-65h1v1h-1zm7-10h1v1h-1zm1 42h1v1h-1zm9-5h1v1h-1zm1-42h1v1h-1zm2-37h1v1h-1zm1 48h1v1h-1zm1 21h1v1h-1zm1-68h1v1h-1zm1 18h1v1h-1zm3 11h1v1h-1zm6-5h1v1h-1zm5 50h1v1h-1zm7 47h1v1h-1zm3-72h1v1h-1zm1-50h1v1h-1zm5 121h1v1h-1zm4-23h1v1h-1zm9 6h1v1h-1zm2-50h1v1h-1zm2-21h1v1h-1zm1-28h1v1h-1zm6 57h1v1h-1zm1 5h1v1h-1zm4-28h1v1h-1zm1 42h1v1h-1zm11 42h1v1h-1zm4-21h1v1h-1zm2-48h1v1h-1zm6-44h1v1h-1zm0 110h1v1h-1zm2-65h1v1h-1zm1 7h1v1h-1zm5 61h1v1h-1zm2-34h1v1h-1zm3 18h1v1h-1zm16-64h1v1h-1zm1 42h1v1h-1zm3-11h1v1h-1zm1-19h1v1h-1zm1-38h1v1h-1zm4 75h1v1h-1zm1-84h1v1h-1zm0 111h1v1h-1zm4-107h1v1h-1zm5 0h1v1h-1zm1 35h1v1h-1zm3-39h1v1h-1zm1 84h1v1h-1zm4-75h1v1h-1zm2 57h1v1h-1zm3 11h1v1h-1zm1-42h1v1h-1zm7 69h1v1h-1zm4 2h1v1h-1zm5-7h1v1h-1zm2-60h1v1h-1zm1-47h1v1h-1zm0 89h1v1h-1zm2 34h1v1h-1zm5-61h1v1h-1zm1-7h1v1h-1zm2-45h1v1h-1zm4 110h1v1h-1zm2-66h1v1h-1z"/>
<path fill-opacity=".078" d="m42 93h1v1h-1zm3-11h1v1h-1zm4 26h1v1h-1zm5-18h1v1h-1zm7 50h1v1h-1zm4 7h1v1h-1zm3-73h1v1h-1zm2 69h1v1h-1zm1 5h1v1h-1zm3-2h1v1h-1zm4-24h1v1h-1zm7-45h1v1h-1zm6-18h1v1h-1zm6-12h1v1h-1zm2 46h1v1h-1zm2-65h1v1h-1zm2 36h1v1h-1zm1 41h1v1h-1zm1 33h1v1h-1zm4-92h1v1h-1zm5-15h1v1h-1zm1 29h1v1h-1zm1 42h1v1h-1zm5-24h1v1h-1zm9 8h1v1h-1zm3-11h1v1h-1zm3-43h1v1h-1zm9-3h1v1h-1zm2 36h1v1h-1zm7 70h1v1h-1zm2-68h1v1h-1zm1 42h1v1h-1zm2-52h1v1h-1zm2 24h1v1h-1zm2-55h1v1h-1zm0 104h1v1h-1zm1-38h1v1h-1zm4-28h1v1h-1zm1 42h1v1h-1zm1-33h1v1h-1zm2 51h1v1h-1zm1-40h1v1h-1zm7 60h1v1h-1zm7-44h1v1h-1zm2 41h1v1h-1zm4-7h1v1h-1zm5 3h1v1h-1zm1-34h1v1h-1zm5-8h1v1h-1zm5-24h1v1h-1zm1 42h1v1h-1zm1-82h1v1h-1zm0 111h1v1h-1zm4-102h1v1h-1zm4 80h1v1h-1zm2-52h1v1h-1zm13-43h1v1h-1zm1 47h1v1h-1zm7 67h1v1h-1zm7-51h1v1h-1zm1-40h1v1h-1zm2 51h1v1h-1zm3-69h1v1h-1zm28 50h1v1h-1zm6 19h1v1h-1zm2-51h1v1h-1zm3 3h1v1h-1zm9-6h1v1h-1zm14 100h1v1h-1zm3-77h1v1h-1zm2 52h1v1h-1z"/>
<path fill-opacity=".094" d="m40 28h1v1h-1zm1 24h1v1h-1zm3-8h1v1h-1zm0 103h1v1h-1zm3-91h1v1h-1zm6-6h1v1h-1zm6 16h1v1h-1zm1 42h1v1h-1zm3-10h1v1h-1zm1-16h1v1h-1zm2 48h1v1h-1zm7-56h1v1h-1zm7-3h1v1h-1zm3-37h1v1h-1zm0 110h1v1h-1zm1-26h1v1h-1zm3 10h1v1h-1zm3-27h1v1h-1zm2 40h1v1h-1zm1-116h1v1h-1zm0 86h1v1h-1zm1-42h1v1h-1zm17 27h1v1h-1zm2-71h1v1h-1zm0 87h1v1h-1zm7-24h1v1h-1zm2 31h1v1h-1zm5-83h1v1h-1zm0 109h1v1h-1zm1-24h1v1h-1zm4-82h1v1h-1zm3 109h1v1h-1zm5-17h1v1h-1zm1 16h1v1h-1zm1-64h1v1h-1zm1 14h1v1h-1zm2 42h1v1h-1zm1-32h1v1h-1zm3 29h1v1h-1zm2-45h1v1h-1zm1-2h1v1h-1zm1-40h1v1h-1zm1-22h1v1h-1zm4 113h1v1h-1zm4-97h1v1h-1zm4 73h1v1h-1zm1-83h1v1h-1zm1 115h1v1h-1zm3-110h1v1h-1zm5-1h1v1h-1zm6 39h1v1h-1zm1 14h1v1h-1zm2-48h1v1h-1zm5-17h1v1h-1zm2 73h1v1h-1zm11-44h1v1h-1zm4 78h1v1h-1zm3-107h1v1h-1zm2 36h1v1h-1zm1 42h1v1h-1zm7-68h1v1h-1zm2 74h1v1h-1zm1-40h1v1h-1zm5 57h1v1h-1zm2-50h1v1h-1zm3 66h1v1h-1zm5-97h1v1h-1zm2 51h1v1h-1zm2-67h1v1h-1zm3 73h1v1h-1zm2-51h1v1h-1zm4-24h1v1h-1zm3-2h1v1h-1zm6 1h1v1h-1zm0 103h1v1h-1zm1-38h1v1h-1zm4-26h1v1h-1zm0 83h1v1h-1zm1-41h1v1h-1zm4-24h1v1h-1zm1 0h1v1h-1zm4 24h1v1h-1zm1-42h1v1h-1zm0 83h1v1h-1zm4-57h1v1h-1zm1-65h1v1h-1zm0 103h1v1h-1zm4-71h1v1h-1zm1-28h1v1h-1zm6 58h1v1h-1zm4 14h1v1h-1zm5-6h1v1h-1zm7 46h1v1h-1zm3-66h1v1h-1zm2 50h1v1h-1zm5-57h1v1h-1zm1 40h1v1h-1z"/>
<path fill-opacity=".109" d="m41 51h1v1h-1zm1 40h1v2h-1zm1 39h1v1h-1zm1-85h1v1h-1zm1 38h1v2h-1zm1 15h1v2h-1zm1-41h1v1h-1zm1 82h1v1h-1zm1-33h1v2h-1zm1-42h1v2h-1zm1 35h1v2h-1zm1 36h1v1h-1zm1-84h1v1h-1zm1 40h1v2h-1zm1-1h1v2h-1zm1-40h1v2h-1zm1 85h1v1h-1zm1-36h1v2h-1zm1-34h1v1h-1zm1 42h1v1h-1zm1 32h1v1h-1zm1-82h1v2h-1zm1 42h1v1h-1zm1-16h1v1h-1zm1-39h1v1h-1zm1 85h1v1h-1zm1-38h1v2h-1zm1-19h1v2h-1zm1 42h1v2h-1zm1-81h1v1h-1zm1 31h1v2h-1zm1 42h1v2h-1zm1-31h1v2h-1zm1-36h1v1h-1zm1 84h1v2h-1zm1-40h1v2h-1zm1-3h1v2h-1zm1 41h1v1h-1zm1-84h1v1h-1zm1 35h1v2h-1zm1 37h1v1h-1zm1-42h1v2h-1zm2 50h1v1h-1zm1-42h1v2h-1zm1 13h1v2h-1zm1 39h1v1h-1zm1-85h1v1h-1zm1 37h1v2h-1zm1 23h1v1h-1zm1-42h1v2h-1zm1-29h1v1h-1zm1 79h1v1h-1zm1-42h1v1h-1zm1 28h1v2h-1zm1 37h1v1h-1zm1-85h1v1h-1zm1 39h1v2h-1zm1 7h1v2h-1zm1-41h1v2h-1zm1 84h1v1h-1zm1-35h1v2h-1zm2 1h1v2h-1zm2-49h1v2h-1zm1 41h1v2h-1zm1-9h1v2h-1zm1-39h1v1h-1zm1 85h1v1h-1zm1-38h1v2h-1zm1-25h1v2h-1zm1 42h1v1h-1zm1 30h1v1h-1zm1-80h1v2h-1zm1 42h1v2h-1zm1-25h1v2h-1zm1-37h1v1h-1zm1 85h1v2h-1zm1-40h1v2h-1zm1-10h1v2h-1zm1 42h1v1h-1zm1-83h1v1h-1zm0 109h1v1h-1zm1-76h1v2h-1zm2 2h1v2h-1zm2 50h1v1h-1zm1-41h1v2h-1zm1 5h1v2h-1zm1 40h1v2h-1zm1-84h1v1h-1zm0 106h1v1h-1zm1-70h1v2h-1zm1 29h1v2h-1zm1-42h1v2h-1zm1 79h1v1h-1zm1-29h1v2h-1zm1-42h1v2h-1zm1 21h1v2h-1zm1 38h1v1h-1zm1-85h1v1h-1zm1 39h1v2h-1zm1 14h1v1h-1zm1-42h1v2h-1zm2 50h1v1h-1zm1-42h1v1h-1zm1 36h1v2h-1zm1 35h1v1h-1zm1-84h1v2h-1zm1 41h1v1h-1zm1-2h1v2h-1zm1-40h1v1h-1zm1 84h1v1h-1zm1-36h1v2h-1zm1-33h1v2h-1zm1 42h1v2h-1zm1-77h1v1h-1zm1 28h1v1h-1zm1 41h1v2h-1zm1-17h1v2h-1zm1-38h1v1h-1zm1 85h1v1h-1zm1-39h1v2h-1zm1-17h1v2h-1zm1 42h1v1h-1zm1 28h1v1h-1zm1-78h1v2h-1zm1 42h1v2h-1zm1-33h1v2h-1zm1-35h1v1h-1zm1 84h1v1h-1zm1-41h1v2h-1zm1-1h1v2h-1zm1 40h1v2h-1zm1-83h1v1h-1zm1 34h1v2h-1zm1 36h1v2h-1zm1-42h1v2h-1zm1-32h1v1h-1zm1 82h1v2h-1zm1-42h1v2h-1zm1 15h1v1h-1zm1 39h1v1h-1zm1-85h1v1h-1zm1 37h1v2h-1zm1 21h1v2h-1zm1-42h1v2h-1zm2 50h1v2h-1zm1-42h1v2h-1zm1 29h1v2h-1zm1 37h1v1h-1zm1-85h1v2h-1zm1 40h1v2h-1zm1 5h1v2h-1zm1-41h1v2h-1zm1-24h1v1h-1zm0 108h1v1h-1zm1-35h1v2h-1zm2 3h1v2h-1zm1 34h1v1h-1zm1-83h1v1h-1zm1 41h1v2h-1zm1-11h1v2h-1zm1-39h1v2h-1zm1 85h1v1h-1zm1-37h1v2h-1zm1-25h1v2h-1zm1 43h1v1h-1zm2-50h1v1h-1zm1 42h1v1h-1zm1-27h1v2h-1zm1-36h1v1h-1zm1 85h1v1h-1zm1-40h1v2h-1zm1-9h1v2h-1zm1 42h1v1h-1zm2-50h1v2h-1zm1 41h1v1h-1zm1-40h1v2h-1zm1-34h1v1h-1zm1 83h1v2h-1zm1-41h1v2h-1zm1 7h1v2h-1zm1 40h1v1h-1zm1-85h1v1h-1zm1 37h1v1h-1zm1 27h1v2h-1zm1-42h1v2h-1zm1-30h1v1h-1zm1 80h1v2h-1zm1-42h1v2h-1zm1 23h1v2h-1zm1 38h1v1h-1zm1-85h1v1h-1zm0 101h1v1h-1zm1-63h1v2h-1zm1 13h1v2h-1zm1-42h1v2h-1zm1 83h1v1h-1zm1-33h1v2h-1zm1-41h1v1h-1zm1 37h1v1h-1zm1 35h1v1h-1zm1-84h1v1h-1zm1 40h1v2h-1zm1-3h1v2h-1zm1-40h1v1h-1zm1 85h1v1h-1zm1-37h1v2h-1zm1-31h1v2h-1zm1 42h1v2h-1zm1 32h1v1h-1zm1-82h1v2h-1zm1 42h1v2h-1zm1-19h1v2h-1zm1-38h1v1h-1zm1 85h1v1h-1zm1-39h1v2h-1zm1-15h1v2h-1zm1 41h1v2h-1zm1-81h1v1h-1zm1 32h1v1h-1zm1 42h1v1h-1zm1-35h1v2h-1zm1-35h1v1h-1zm1 84h1v2h-1zm1-40h1v1h-1zm1-1h1v2h-1zm1 41h1v2h-1zm1-84h1v1h-1zm1 35h1v2h-1zm1 35h1v1h-1zm1-42h1v1h-1zm1-32h1v1h-1zm1 81h1v2h-1zm1-41h1v2h-1zm1 15h1v2h-1zm1 39h1v1h-1zm1-85h1v1h-1zm1 38h1v2h-1zm1 19h1v2h-1zm1-41h1v1h-1zm1 81h1v1h-1zm1-32h1v2h-1zm1-42h1v2h-1zm1 31h1v2h-1zm1-70h1v1h-1zm0 107h1v1h-1zm1-85h1v1h-1zm1 40h1v2h-1zm1 3h1v2h-1zm1-40h1v1h-1zm1 84h1v1h-1zm1-35h1v1h-1zm1-37h1v1h-1zm1 41h1v2h-1zm1-76h1v1h-1zm0 109h1v1h-1zm1-83h1v2h-1zm1 42h1v2h-1zm1-13h1v2h-1zm1-38h1v1h-1zm1 85h1v1h-1zm1-38h1v2h-1zm1-23h1v2h-1zm1 42h1v2h-1zm1-80h1v1h-1zm1 30h1v2h-1zm1 42h1v2h-1zm1-27h1v2h-1zm1-37h1v1h-1zm1 85h1v1h-1zm1-40h1v2h-1zm1-7h1v2h-1zm1 41h1v2h-1zm1-83h1v1h-1zm1 34h1v1h-1zm1 40h1v1h-1zm1-41h1v2h-1zm2 50h1v1h-1zm1-42h1v2h-1z"/>
<path fill-opacity=".125" d="m43 129h1v1h-1zm4-71h1v1h-1zm2-33h1v1h-1zm6 67h1v1h-1zm2 42h1v1h-1zm1-36h1v1h-1zm1-34h1v1h-1zm1 42h1v1h-1zm1-76h1v1h-1zm2 70h1v1h-1zm1-16h1v1h-1zm1-39h1v1h-1zm14 100h1v1h-1zm2-35h1v1h-1zm1 38h1v1h-1zm1-113h1v1h-1zm1 81h1v1h-1zm3-90h1v1h-1zm2 55h1v1h-1zm1 22h1v1h-1zm3 6h1v1h-1zm1-42h1v1h-1zm1 28h1v1h-1zm1 37h1v1h-1zm2-43h1v1h-1zm5-26h1v1h-1zm2 74h1v1h-1zm7-69h1v1h-1zm6-26h1v1h-1zm6 106h1v1h-1zm2-76h1v1h-1zm1-35h1v1h-1zm2 41h1v1h-1zm7-45h1v1h-1zm5 13h1v1h-1zm2 53h1v1h-1zm3-74h1v1h-1zm0 80h1v1h-1zm1-42h1v1h-1zm4 30h1v1h-1zm6-68h1v1h-1zm2 34h1v1h-1zm7 55h1v1h-1zm6 8h1v1h-1zm2-42h1v1h-1zm3-6h1v1h-1zm2 74h1v1h-1zm4-60h1v1h-1zm1-62h1v1h-1zm0 101h1v1h-1zm5-96h1v1h-1zm0 109h1v1h-1zm4-113h1v1h-1zm9 2h1v1h-1zm1 27h1v1h-1zm3 91h1v1h-1zm2-54h1v1h-1zm2 18h1v1h-1zm1-79h1v1h-1zm1 31h1v1h-1zm1 42h1v1h-1zm1-26h1v1h-1zm2 46h1v1h-1zm1-40h1v1h-1zm2 33h1v1h-1zm1-82h1v1h-1zm9 5h1v1h-1zm0 105h1v1h-1zm1-68h1v1h-1zm9 8h1v1h-1zm5-23h1v1h-1zm1 37h1v1h-1zm1-72h1v1h-1zm2 66h1v1h-1zm2-44h1v1h-1zm1 83h1v1h-1zm8-89h1v1h-1zm3 29h1v1h-1zm2 70h1v1h-1zm1-76h1v1h-1zm1 42h1v1h-1zm4-28h1v1h-1zm5 28h1v1h-1zm1-42h1v1h-1zm1 76h1v1h-1zm2-70h1v1h-1zm3-29h1v1h-1zm5-19h1v1h-1zm3 108h1v1h-1zm1-83h1v1h-1zm2 44h1v1h-1zm1-41h1v1h-1zm1-25h1v1h-1zm1 72h1v1h-1zm1-37h1v1h-1zm1-38h1v1h-1zm4 61h1v1h-1zm1 61h1v1h-1zm9-106h1v1h-1zm0 105h1v1h-1zm6-75h1v1h-1zm2 77h1v1h-1zm2-30h1v1h-1z"/>
<path fill-opacity=".141" d="m46 100h1v1h-1zm2-70h1v1h-1zm4 104h1v1h-1zm1-82h1v1h-1zm7-27h1v1h-1zm7 65h1v1h-1zm2 23h1v1h-1zm5-73h1v1h-1zm3 39h1v1h-1zm1 41h1v1h-1zm1-82h1v1h-1zm1 110h1v1h-1zm6-61h1v1h-1zm2-44h1v1h-1zm4 97h1v1h-1zm4-113h1v1h-1zm1 22h1v1h-1zm4 87h1v1h-1zm4-107h1v1h-1zm2 68h1v1h-1zm2-49h1v1h-1zm1 83h1v1h-1zm3-21h1v1h-1zm1-78h1v1h-1zm3 48h1v1h-1zm5 37h1v1h-1zm1-81h1v1h-1zm1 34h1v1h-1zm2 78h1v1h-1zm2-29h1v1h-1zm9-7h1v1h-1zm1-42h1v1h-1zm1 21h1v1h-1zm6 47h1v1h-1zm3-39h1v1h-1zm1-71h1v1h-1zm6 69h1v1h-1zm3 42h1v1h-1zm2-38h1v1h-1zm3 27h1v1h-1zm2-56h1v1h-1zm2-38h1v1h-1zm9 111h1v1h-1zm1 3h1v1h-1zm1-38h1v1h-1zm1-42h1v1h-1zm1-33h1v1h-1zm0 108h1v1h-1zm6-61h1v1h-1zm4 26h1v1h-1zm1-42h1v1h-1zm5 29h1v1h-1zm6 42h1v1h-1zm3-50h1v1h-1zm6 54h1v1h-1zm9 3h1v1h-1zm1 4h1v1h-1zm2 0h1v1h-1zm3-71h1v1h-1zm1 7h1v1h-1zm4 22h1v1h-1zm1-42h1v1h-1zm4 28h1v1h-1zm1 38h1v1h-1zm6-105h1v1h-1zm0 79h1v1h-1zm3 31h1v1h-1zm1-82h1v1h-1zm9 7h1v1h-1zm11 15h1v1h-1zm1-36h1v1h-1zm5 0h1v1h-1zm11 63h1v1h-1zm1-42h1v1h-1zm10 75h1v1h-1zm3-31h1v1h-1zm5-57h1v1h-1zm1 83h1v1h-1zm1-38h1v1h-1zm4-28h1v1h-1zm1 42h1v1h-1zm4-22h1v1h-1zm1-7h1v1h-1zm3 71h1v1h-1zm3-4h1v1h-1z"/>
<path fill-opacity=".156" d="m41 50h1v1h-1zm3-4h1v1h-1zm1 39h1v1h-1zm3 53h1v1h-1zm2-75h1v1h-1zm1 35h1v1h-1zm1-70h1v1h-1zm5 0h1v1h-1zm11 43h1v1h-1zm2-37h1v1h-1zm0 108h1v1h-1zm1-76h1v1h-1zm1 42h1v1h-1zm4-26h1v1h-1zm6-13h1v1h-1zm1 74h1v1h-1zm2-69h1v1h-1zm2 52h1v1h-1zm10 21h1v1h-1zm2-51h1v1h-1zm2-67h1v1h-1zm1-4h1v1h-1zm0 76h1v1h-1zm6-13h1v1h-1zm1 59h1v1h-1zm1-120h1v1h-1zm9-1h1v1h-1zm6 84h1v2h-1zm5-27h1v1h-1zm2-42h1v1h-1zm2 66h1v1h-1zm11-77h1v1h-1zm8 21h1v1h-1zm1 82h1v1h-1zm8-88h1v1h-1zm2 44h1v1h-1zm6-13h1v1h-1zm3 5h1v1h-1zm8 34h1v1h-1zm6-12h1v1h-1zm1-42h1v1h-1zm5 71h1v1h-1zm2-42h1v1h-1zm2-36h1v1h-1zm3 8h1v2h-1zm1-37h1v1h-1zm0 78h1v1h-1zm3-5h1v1h-1zm11-56h1v1h-1zm0 104h1v1h-1zm3-70h1v1h-1zm3-5h1v1h-1zm3-34h1v1h-1zm0 107h1v1h-1zm1-26h1v1h-1zm3 6h1v1h-1zm5-91h1v1h-1zm0 108h1v1h-1zm1-30h1v1h-1zm1-42h1v1h-1zm3-22h1v1h-1zm3 10h1v1h-1zm8 34h1v1h-1zm3 5h1v1h-1zm1-31h1v1h-1zm1 42h1v1h-1zm1-76h1v1h-1zm0 108h1v1h-1zm2-37h1v1h-1zm1-19h1v1h-1zm10 62h1v1h-1zm1-24h1v1h-1zm3 0h1v1h-1zm1 24h1v1h-1zm1-70h1v1h-1zm7 52h1v1h-1zm2-44h1v1h-1zm3-52h1v1h-1zm1 76h1v1h-1zm1-42h1v1h-1zm1 31h1v1h-1zm11-39h1v1h-1zm6 12h1v1h-1zm1 42h1v1h-1zm1-78h1v1h-1zm0 108h1v1h-1zm5-17h1v1h-1zm3-6h1v1h-1zm1-81h1v1h-1zm0 107h1v1h-1zm3-73h1v1h-1zm3 5h1v1h-1z"/>
<path fill-opacity=".172" d="m41 49h1v1h-1zm1 40h1v2h-1zm1 39h1v1h-1zm1-81h1v1h-1zm1 39h1v1h-1zm1 15h1v2h-1zm1-42h1v2h-1zm2 45h1v2h-1zm1-42h1v1h-1zm1 34h1v2h-1zm1 37h1v1h-1zm1-80h1v1h-1zm1 40h1v2h-1zm1 0h1v2h-1zm1-41h1v2h-1zm1 81h1v1h-1zm1-37h1v2h-1zm1-34h1v2h-1zm1 42h1v2h-1zm1 34h1v1h-1zm1-79h1v2h-1zm1 42h1v2h-1zm1-16h1v2h-1zm1-39h1v1h-1zm1 81h1v2h-1zm1-39h1v2h-1zm1-18h1v1h-1zm1 42h1v1h-1zm2-45h1v2h-1zm1 42h1v1h-1zm1-32h1v2h-1zm1-36h1v1h-1zm1 80h1v2h-1zm1-41h1v2h-1zm1-3h1v2h-1zm1 42h1v1h-1zm1-80h1v1h-1zm1 35h1v2h-1zm2-4h1v2h-1zm1-34h1v1h-1zm1 78h1v2h-1zm1-41h1v1h-1zm1 12h1v2h-1zm1 40h1v1h-1zm1-81h1v1h-1zm1 38h1v2h-1zm1 22h1v2h-1zm1-42h1v2h-1zm1-30h1v1h-1zm1 75h1v2h-1zm1-42h1v2h-1zm1 28h1v2h-1zm1 38h1v1h-1zm1-81h1v1h-1zm1 40h1v2h-1zm1 7h1v1h-1zm1-42h1v2h-1zm1 80h1v1h-1zm1-36h1v2h-1zm1-37h1v1h-1zm1-37h1v1h-1zm0 76h1v2h-1zm1 35h1v1h-1zm1-80h1v2h-1zm1 42h1v2h-1zm1-9h1v2h-1zm1-40h1v1h-1zm1 81h1v1h-1zm1-38h1v2h-1zm1-26h1v2h-1zm1 42h1v2h-1zm1 32h1v1h-1zm1-77h1v2h-1zm1 42h1v2h-1zm1-24h1v2h-1zm1-38h1v1h-1zm0 103h1v1h-1zm1-22h1v2h-1zm1-40h1v2h-1zm1-10h1v2h-1zm1 42h1v1h-1zm1-79h1v1h-1zm1 34h1v2h-1zm2 2h1v2h-1zm1-35h1v1h-1zm0 106h1v1h-1zm1-26h1v1h-1zm1-42h1v2h-1zm1 5h1v2h-1zm1 41h1v2h-1zm1-80h1v1h-1zm1 36h1v2h-1zm0 70h1v1h-1zm1-40h1v1h-1zm1-43h1v2h-1zm1-31h1v1h-1zm0 107h1v1h-1zm1-30h1v1h-1zm1-43h1v2h-1zm1 21h1v2h-1zm1 39h1v2h-1zm1-81h1v1h-1zm1 39h1v2h-1zm1 14h1v2h-1zm1-42h1v2h-1zm1 79h1v1h-1zm1-34h1v2h-1zm2-6h1v2h-1zm1 37h1v1h-1zm1-81h1v2h-1zm1 41h1v2h-1zm1-2h1v2h-1zm1-40h1v1h-1zm1 80h1v1h-1zm1-37h1v2h-1zm1-32h1v2h-1zm1 42h1v2h-1zm1-74h1v1h-1zm0 107h1v1h-1zm1-78h1v2h-1zm1 42h1v2h-1zm1-18h1v2h-1zm1-38h1v1h-1zm1 81h1v1h-1zm1-40h1v2h-1zm1-17h1v2h-1zm1 42h1v2h-1zm1-77h1v1h-1zm0 107h1v1h-1zm1-75h1v2h-1zm1 42h1v2h-1zm1-32h1v2h-1zm0 71h1v1h-1zm1-108h1v1h-1zm0 105h1v1h-1zm1-24h1v1h-1zm1-41h1v1h-1zm1-2h1v2h-1zm1 41h1v2h-1zm1-80h1v1h-1zm1 36h1v2h-1zm2-6h1v2h-1zm2 45h1v1h-1zm1-42h1v2h-1zm1 14h1v2h-1zm1 40h1v1h-1zm1-82h1v2h-1zm1 39h1v2h-1zm1 21h1v1h-1zm1-42h1v1h-1zm1 77h1v1h-1zm1-33h1v2h-1zm1-42h1v2h-1zm1 30h1v2h-1zm1 37h1v1h-1zm1-81h1v2h-1zm1 41h1v2h-1zm1 5h1v2h-1zm1-41h1v1h-1zm1 80h1v1h-1zm1-110h1v1h-1zm0 74h1v2h-1zm2 3h1v1h-1zm1 34h1v1h-1zm1-79h1v2h-1zm1 42h1v1h-1zm1-11h1v2h-1zm1-40h1v2h-1zm1 81h1v2h-1zm1-38h1v2h-1zm1-24h1v2h-1zm1 42h1v2h-1zm1-76h1v1h-1zm1 31h1v2h-1zm1 42h1v2h-1zm1-26h1v2h-1zm1-37h1v1h-1zm1-17h1v1h-1zm0 98h1v1h-1zm1-41h1v2h-1zm1-9h1v2h-1zm1 42h1v2h-1zm1-79h1v1h-1zm1 35h1v1h-1zm2 0h1v2h-1zm1-34h1v1h-1zm1 79h1v1h-1zm1-42h1v2h-1zm1 7h1v2h-1zm1 41h1v1h-1zm1-81h1v1h-1zm1 37h1v2h-1zm1 28h1v2h-1zm1-42h1v2h-1zm2 45h1v1h-1zm1-42h1v1h-1zm1 22h1v2h-1zm1 39h1v1h-1zm1-81h1v1h-1zm1 39h1v2h-1zm1 12h1v2h-1zm1-41h1v1h-1zm1-28h1v1h-1zm0 107h1v1h-1zm1-35h1v2h-1zm2-4h1v2h-1zm1 36h1v1h-1zm1-80h1v2h-1zm1 41h1v2h-1zm1-3h1v2h-1zm1-41h1v1h-1zm1 81h1v1h-1zm1-37h1v1h-1zm1-31h1v1h-1zm1 42h1v1h-1zm2-45h1v2h-1zm1 42h1v2h-1zm1-19h1v2h-1zm1-39h1v1h-1zm1 81h1v2h-1zm1-39h1v2h-1zm1-16h1v2h-1zm1 42h1v2h-1zm1-78h1v1h-1zm1 33h1v2h-1zm1 42h1v2h-1zm1-34h1v2h-1zm0 72h1v1h-1zm1-108h1v1h-1zm1 80h1v1h-1zm1-41h1v2h-1zm1 0h1v2h-1zm1 41h1v1h-1zm1-80h1v1h-1zm1 36h1v2h-1zm0 72h1v1h-1zm1-38h1v2h-1zm1-42h1v2h-1zm1-33h1v1h-1zm1 78h1v2h-1zm1-42h1v2h-1zm1 16h1v2h-1zm1 39h1v1h-1zm1-81h1v1h-1zm1 39h1v2h-1zm1 19h1v2h-1zm1-42h1v2h-1zm1 78h1v1h-1zm1-33h1v1h-1zm1-42h1v1h-1zm1 30h1v2h-1zm1 38h1v1h-1zm1-81h1v1h-1zm1 40h1v2h-1zm1 4h1v2h-1zm1-41h1v2h-1zm1 80h1v1h-1zm1-36h1v2h-1zm1-36h1v1h-1zm1 40h1v2h-1zm1-72h1v1h-1zm0 107h1v1h-1zm1-79h1v1h-1zm1 41h1v2h-1zm1-12h1v2h-1zm1-39h1v1h-1zm1 81h1v1h-1zm1-39h1v2h-1zm1-22h1v1h-1zm1 42h1v1h-1zm2-45h1v2h-1zm1 42h1v2h-1zm1-28h1v2h-1zm1-37h1v1h-1zm1-16h1v1h-1zm0 97h1v1h-1zm1-41h1v2h-1zm1-7h1v2h-1zm1 42h1v1h-1zm2-45h1v2h-1zm2 0h1v1h-1zm2 44h1v2h-1zm1-42h1v2h-1z"/>
<path fill-opacity=".188" d="m42 88h1v1h-1zm3-1h1v1h-1zm3-56h1v1h-1zm0 106h1v1h-1zm1-34h1v1h-1zm5-8h1v1h-1zm7-64h1v1h-1zm4 16h1v1h-1zm3 22h1v1h-1zm1 42h1v1h-1zm3-1h1v1h-1zm1-31h1v1h-1zm1 66h1v1h-1zm4-27h1v1h-1zm7-46h1v1h-1zm3 74h1v1h-1zm4-7h1v1h-1zm5-88h1v1h-1zm2 47h1v1h-1zm10-48h1v1h-1zm2 41h1v1h-1zm3-58h1v1h-1zm2 74h1v1h-1zm2-63h1v1h-1zm3 29h1v1h-1zm1 42h1v1h-1zm1 28h1v1h-1zm5-26h1v1h-1zm5-37h1v1h-1zm1 29h1v1h-1zm1-42h1v1h-1zm2 43h1v1h-1zm4-62h1v1h-1zm1 40h1v1h-1zm12-60h1v1h-1zm7 58h1v1h-1zm7-17h1v1h-1zm3-28h1v1h-1zm1 79h1v1h-1zm1-41h1v1h-1zm3-39h1v1h-1zm4-4h1v1h-1zm1 77h1v1h-1zm3 12h1v1h-1zm3-20h1v1h-1zm1-42h1v1h-1zm1-31h1v1h-1zm3 61h1v1h-1zm2 54h1v1h-1zm3-91h1v1h-1zm1-27h1v1h-1zm3 72h1v1h-1zm1-71h1v1h-1zm2 70h1v1h-1zm3-73h1v1h-1zm4 113h1v1h-1zm5-17h1v1h-1zm5-50h1v1h-1zm1 38h1v1h-1zm13-44h1v1h-1zm5 34h1v1h-1zm1-42h1v1h-1zm3 3h1v1h-1zm1-37h1v1h-1zm5 27h1v1h-1zm2 42h1v1h-1zm1-31h1v1h-1zm1 42h1v1h-1zm5-59h1v1h-1zm2 40h1v1h-1zm3 56h1v1h-1zm13 0h1v1h-1zm3-56h1v1h-1zm7 19h1v1h-1zm1-42h1v1h-1zm3-11h1v1h-1zm1 41h1v1h-1zm8-34h1v1h-1zm6 8h1v1h-1zm1 42h1v1h-1zm4 39h1v1h-1zm6-110h1v1h-1zm2 73h1v1h-1zm1-38h1v1h-1z"/>
<path fill-opacity=".203" d="m41 48h1v1h-1zm2 79h1v1h-1zm10-73h1v1h-1zm2 41h1v1h-1zm2 37h1v1h-1zm5-71h1v1h-1zm1 42h1v1h-1zm1-16h1v1h-1zm6-52h1v1h-1zm0 106h1v1h-1zm3 7h1v1h-1zm6-4h1v1h-1zm1-68h1v1h-1zm1 35h1v1h-1zm7-66h1v1h-1zm1 39h1v1h-1zm1 22h1v1h-1zm1-42h1v1h-1zm4 28h1v1h-1zm1 38h1v1h-1zm8-30h1v1h-1zm1-70h1v1h-1zm0 105h1v1h-1zm10-70h1v1h-1zm5 18h1v1h-1zm7-44h1v1h-1zm2 36h1v1h-1zm2-49h1v1h-1zm13 34h1v1h-1zm3 2h1v1h-1zm2 71h1v1h-1zm2-37h1v1h-1zm1-2h1v1h-1zm1-41h1v1h-1zm3 9h1v1h-1zm1 42h1v1h-1zm6 22h1v1h-1zm6-15h1v1h-1zm9 0h1v1h-1zm2 31h1v1h-1zm2-71h1v1h-1zm1 14h1v1h-1zm15 49h1v1h-1zm1-36h1v1h-1zm9-8h1v1h-1zm1-24h1v1h-1zm5 82h1v1h-1zm6-5h1v1h-1zm3-69h1v1h-1zm2 42h1v1h-1zm3-90h1v1h-1zm0 96h1v1h-1zm1-79h1v1h-1zm1 38h1v1h-1zm0 67h1v1h-1zm3-114h1v1h-1zm0 106h1v1h-1zm1-31h1v1h-1zm3-82h1v1h-1zm0 101h1v1h-1zm1-79h1v1h-1zm1 40h1v1h-1zm3 47h1v1h-1zm3-39h1v1h-1zm1-68h1v1h-1zm4 118h1v1h-1zm1-119h1v1h-1zm0 103h1v1h-1zm4-99h1v1h-1zm0 106h1v1h-1zm8-26h1v1h-1zm6 7h1v1h-1zm1-41h1v1h-1zm1 0h1v1h-1zm1 41h1v1h-1zm4-49h1v1h-1zm1-34h1v1h-1zm1 76h1v1h-1zm4-66h1v1h-1zm4-14h1v1h-1zm0 106h1v1h-1zm4-110h1v1h-1zm0 103h1v1h-1zm5-102h1v1h-1zm1 68h1v1h-1zm3 39h1v1h-1zm2-35h1v1h-1zm1-12h1v1h-1zm1-40h1v1h-1zm1-22h1v1h-1zm0 101h1v1h-1zm4-94h1v1h-1zm0 106h1v1h-1zm3-59h1v1h-1zm1-38h1v1h-1zm1 79h1v1h-1zm3-6h1v1h-1zm2-42h1v1h-1zm3 69h1v1h-1z"/>
<path fill-opacity=".219" d="m44 48h1v1h-1zm7-23h1v1h-1zm5 29h1v1h-1zm2-29h1v1h-1zm0 70h1v1h-1zm2 8h1v1h-1zm1 34h1v1h-1zm6-50h1v1h-1zm7-45h1v1h-1zm1 78h1v1h-1zm2-44h1v1h-1zm2-36h1v1h-1zm2 72h1v1h-1zm2-75h1v1h-1zm0 105h1v1h-1zm3-58h1v1h-1zm1 40h1v1h-1zm2 24h1v1h-1zm3-115h1v1h-1zm1 73h1v1h-1zm1-42h1v1h-1zm4 28h1v1h-1zm2-35h1v1h-1zm3 4h1v1h-1zm3-3h1v1h-1zm4 71h1v1h-1zm2-64h1v1h-1zm7 58h1v1h-1zm7-48h1v1h-1zm5 46h1v1h-1zm1 24h1v1h-1zm8-118h1v1h-1zm3 75h1v1h-1zm2-71h1v1h-1zm1 71h1v1h-1zm1-41h1v1h-1zm1-36h1v1h-1zm0 71h1v1h-1zm1-67h1v1h-1zm1 26h1v1h-1zm5-30h1v1h-1zm3 7h1v1h-1zm1 30h1v1h-1zm1 42h1v1h-1zm2-57h1v1h-1zm4 64h1v1h-1zm1 30h1v1h-1zm7-64h1v1h-1zm1 41h1v1h-1zm1 26h1v1h-1zm1-67h1v1h-1zm1 35h1v1h-1zm1-41h1v1h-1zm6 75h1v1h-1zm1-61h1v1h-1zm7-57h1v1h-1zm1 24h1v1h-1zm11 38h1v1h-1zm5 18h1v1h-1zm2-42h1v1h-1zm1 42h1v1h-1zm1-26h1v1h-1zm1-38h1v1h-1zm2 38h1v1h-1zm2 33h1v1h-1zm1-77h1v1h-1zm2 74h1v1h-1zm2 31h1v1h-1zm2-69h1v1h-1zm1 7h1v1h-1zm9 8h1v1h-1zm8-28h1v1h-1zm4 36h1v1h-1zm10 51h1v1h-1zm2-23h1v1h-1zm2-55h1v1h-1zm2-34h1v1h-1zm1 34h1v1h-1zm3-29h1v1h-1zm11 29h1v1h-1zm2 55h1v1h-1zm8-100h1v1h-1zm2 122h1v1h-1zm2-50h1v1h-1zm3-72h1v1h-1zm1 36h1v1h-1zm8 28h1v1h-1zm10-15h1v1h-1zm2 69h1v1h-1zm2-31h1v1h-1zm3 3h1v1h-1z"/>
<path fill-opacity=".234" d="m40 27h1v1h-1zm1 20h1v1h-1zm1 39h1v2h-1zm1-59h1v1h-1zm0 99h1v1h-1zm1-77h1v1h-1zm1 39h1v2h-1zm1 15h1v2h-1zm1-42h1v2h-1zm1 75h1v1h-1zm1-35h1v2h-1zm1-40h1v1h-1zm1 33h1v2h-1zm1-65h1v1h-1zm0 102h1v2h-1zm1-76h1v2h-1zm0 92h1v1h-1zm1-51h1v2h-1zm1 0h1v2h-1zm1-41h1v1h-1zm0 92h1v1h-1zm1-16h1v1h-1zm1-38h1v2h-1zm2 9h1v1h-1zm1-70h1v1h-1zm1 30h1v2h-1zm1 42h1v2h-1zm1-16h1v2h-1zm1-40h1v2h-1zm1 77h1v2h-1zm1-39h1v1h-1zm1-19h1v2h-1zm1 42h1v2h-1zm1-73h1v1h-1zm1 33h1v2h-1zm1 42h1v2h-1zm1-31h1v2h-1zm1-37h1v1h-1zm1 76h1v1h-1zm1-41h1v2h-1zm1-3h1v1h-1zm1 41h1v2h-1zm1-75h1v1h-1zm1 36h1v2h-1zm2-5h1v2h-1zm2 40h1v2h-1zm1-42h1v2h-1zm1 12h1v2h-1zm1 41h1v1h-1zm1-77h1v1h-1zm1 39h1v2h-1zm1 22h1v2h-1zm1-42h1v2h-1zm1 73h1v1h-1zm1-33h1v1h-1zm1-42h1v1h-1zm1 27h1v2h-1zm1-62h1v1h-1zm0 101h1v1h-1zm1-77h1v1h-1zm1 41h1v2h-1zm1 6h1v2h-1zm1-41h1v1h-1zm1-28h1v1h-1zm0 104h1v1h-1zm1-37h1v2h-1zm2 1h1v2h-1zm1 36h1v1h-1zm1-75h1v1h-1zm1 41h1v2h-1zm1-9h1v2h-1zm1-40h1v1h-1zm1 77h1v1h-1zm1-39h1v2h-1zm1-25h1v1h-1zm1 42h1v2h-1zm1-72h1v1h-1zm0 105h1v1h-1zm1-73h1v2h-1zm1 42h1v2h-1zm1-25h1v2h-1zm0 65h1v1h-1zm1-103h1v1h-1zm1 77h1v1h-1zm1-41h1v2h-1zm1-10h1v2h-1zm1 42h1v2h-1zm1-75h1v1h-1zm1 35h1v2h-1zm2 3h1v2h-1zm1-36h1v1h-1zm0 103h1v1h-1zm1-28h1v2h-1zm1-42h1v2h-1zm1 6h1v2h-1zm1 41h1v1h-1zm1-77h1v2h-1zm1 38h1v2h-1zm1 29h1v2h-1zm1-42h1v2h-1zm1-33h1v1h-1zm0 105h1v1h-1zm1-32h1v2h-1zm1-42h1v2h-1zm1 21h1v2h-1zm1 39h1v2h-1zm1-77h1v2h-1zm1 40h1v2h-1zm1 14h1v2h-1zm1-42h1v1h-1zm1 75h1v1h-1zm1-36h1v2h-1zm2-5h1v1h-1zm1 37h1v1h-1zm1-76h1v1h-1zm1 41h1v2h-1zm1-2h1v2h-1zm1-41h1v1h-1zm0 93h1v1h-1zm1-16h1v1h-1zm1-38h1v2h-1zm1-32h1v1h-1zm1 41h1v2h-1zm1 35h1v1h-1zm1-74h1v1h-1zm1 42h1v1h-1zm1-18h1v2h-1zm1-39h1v1h-1zm1 77h1v1h-1zm1-40h1v2h-1zm1-17h1v2h-1zm1 42h1v1h-1zm1-74h1v1h-1zm1 34h1v2h-1zm1 42h1v1h-1zm1-33h1v2h-1zm1-37h1v1h-1zm1-16h1v1h-1zm0 92h1v2h-1zm1-41h1v2h-1zm1-2h1v2h-1zm1 42h1v1h-1zm1-76h1v1h-1zm1 37h1v2h-1zm2-6h1v1h-1zm1-35h1v1h-1zm1 74h1v2h-1zm1-42h1v2h-1zm1 14h1v2h-1zm1 41h1v1h-1zm1-78h1v2h-1zm1 40h1v1h-1zm0 62h1v1h-1zm1-42h1v2h-1zm1-42h1v2h-1zm1-31h1v1h-1zm0 105h1v1h-1zm1-34h1v2h-1zm1-42h1v2h-1zm1 29h1v2h-1zm1 38h1v2h-1zm1-76h1v1h-1zm1 40h1v2h-1zm1 5h1v2h-1zm1-41h1v2h-1zm1 76h1v1h-1zm1-37h1v2h-1zm2 3h1v2h-1zm1 36h1v1h-1zm1-76h1v2h-1zm1 42h1v2h-1zm1-10h1v2h-1zm1-41h1v2h-1zm1 78h1v1h-1zm1-40h1v2h-1zm1-24h1v2h-1zm1 43h1v1h-1zm1-73h1v1h-1zm0 105h1v1h-1zm1-72h1v1h-1zm1 42h1v1h-1zm1-26h1v2h-1zm1-38h1v1h-1zm1 76h1v2h-1zm1-41h1v2h-1zm1-8h1v2h-1zm1 42h1v1h-1zm1-75h1v1h-1zm1 35h1v2h-1zm2 1h1v2h-1zm1-36h1v1h-1zm1 76h1v1h-1zm1-42h1v1h-1zm1 7h1v1h-1zm1 41h1v1h-1zm1-77h1v1h-1zm0 101h1v1h-1zm1-63h1v2h-1zm1 27h1v2h-1zm1-42h1v2h-1zm1-32h1v1h-1zm1 72h1v2h-1zm1-42h1v2h-1zm1 22h1v2h-1zm1 40h1v1h-1zm1-77h1v1h-1zm1 40h1v2h-1zm1 12h1v2h-1zm1-42h1v2h-1zm1-29h1v1h-1zm0 104h1v1h-1zm1-35h1v2h-1zm2-5h1v2h-1zm1 38h1v1h-1zm1-77h1v2h-1zm1 42h1v2h-1zm1-4h1v2h-1zm1-41h1v2h-1zm1 77h1v1h-1zm1-38h1v2h-1zm1-31h1v2h-1zm1 42h1v2h-1zm1 34h1v1h-1zm1-74h1v2h-1zm1 42h1v2h-1zm1-19h1v2h-1zm1-39h1v1h-1zm0 99h1v1h-1zm1-22h1v1h-1zm1-40h1v2h-1zm1-16h1v2h-1zm1 43h1v1h-1zm1-74h1v1h-1zm0 104h1v1h-1zm1-70h1v2h-1zm2 7h1v2h-1zm1-36h1v1h-1zm0 102h1v1h-1zm1-26h1v1h-1zm1-42h1v2h-1zm1 0h1v2h-1zm1 42h1v1h-1zm1-77h1v2h-1zm0 103h1v1h-1zm1-66h1v2h-1zm2-7h1v2h-1zm1-34h1v1h-1zm0 104h1v1h-1zm1-30h1v1h-1zm1-42h1v1h-1zm1 15h1v2h-1zm1 40h1v1h-1zm1-77h1v1h-1zm0 99h1v1h-1zm1-60h1v2h-1zm1 19h1v2h-1zm1-42h1v2h-1zm1 74h1v1h-1zm1-34h1v2h-1zm1-42h1v2h-1zm1 31h1v2h-1zm1 38h1v1h-1zm1-77h1v2h-1zm1 41h1v2h-1zm1 4h1v2h-1zm1-42h1v2h-1zm1 77h1v1h-1zm1-38h1v2h-1zm2 5h1v2h-1zm1-69h1v1h-1zm0 104h1v1h-1zm1-75h1v2h-1zm1 42h1v2h-1zm1-12h1v2h-1zm1-40h1v1h-1zm1 77h1v1h-1zm1-40h1v2h-1zm1-22h1v2h-1zm1 42h1v2h-1zm1-72h1v1h-1zm1 32h1v2h-1zm1 42h1v2h-1zm1-27h1v2h-1zm1-38h1v1h-1zm0 101h1v1h-1zm1-24h1v1h-1zm1-41h1v2h-1zm1-7h1v1h-1zm1 41h1v2h-1zm1-75h1v1h-1zm1 36h1v2h-1zm2-1h1v2h-1zm2 40h1v1h-1zm1-42h1v2h-1z"/>
<path fill-opacity=".25" d="m43 125h1v1h-1zm3-20h1v1h-1zm2-73h1v1h-1zm9-3h1v1h-1zm2 32h1v1h-1zm1 40h1v1h-1zm1 35h1v1h-1zm5-109h1v1h-1zm1 58h1v1h-1zm3 55h1v1h-1zm5-114h1v1h-1zm1 51h1v1h-1zm1-3h1v1h-1zm6-36h1v1h-1zm10 66h1v1h-1zm1-42h1v1h-1zm1-37h1v1h-1zm2 28h1v1h-1zm3 6h1v1h-1zm1 74h1v1h-1zm5-73h1v1h-1zm1 42h1v1h-1zm1-9h1v1h-1zm1-41h1v1h-1zm2-27h1v1h-1zm1 38h1v1h-1zm5 22h1v1h-1zm1-39h1v1h-1zm5 96h1v1h-1zm2-30h1v1h-1zm14-26h1v1h-1zm3 62h1v1h-1zm2-86h1v1h-1zm4 32h1v1h-1zm5-39h1v1h-1zm1 75h1v1h-1zm1-38h1v1h-1zm4-28h1v1h-1zm1 42h1v1h-1zm2 40h1v1h-1zm1-22h1v1h-1zm1-40h1v1h-1zm7 60h1v1h-1zm8-71h1v1h-1zm5 50h1v1h-1zm2-36h1v1h-1zm6-62h1v1h-1zm3 70h1v1h-1zm1 5h1v1h-1zm2-70h1v1h-1zm2 31h1v1h-1zm2-30h1v1h-1zm5 96h1v1h-1zm1-102h1v1h-1zm2 81h1v1h-1zm2-38h1v1h-1zm1 42h1v1h-1zm11-70h1v1h-1zm1 74h1v1h-1zm1-42h1v1h-1zm1 7h1v1h-1zm1 41h1v1h-1zm5 19h1v1h-1zm10-40h1v1h-1zm3 33h1v1h-1zm6-107h1v1h-1zm3 8h1v1h-1zm3 55h1v1h-1zm1-40h1v1h-1zm4 62h1v1h-1zm3 2h1v1h-1zm1-32h1v1h-1zm2 37h1v1h-1zm3 0h1v1h-1zm2-37h1v1h-1zm4 30h1v1h-1zm1-42h1v1h-1zm3-20h1v1h-1zm1 40h1v1h-1zm3-55h1v1h-1zm9 99h1v1h-1zm3-33h1v1h-1zm5-48h1v1h-1zm5 88h1v1h-1zm5-19h1v1h-1zm1-41h1v1h-1zm1-7h1v1h-1z"/>
<path fill-opacity=".266" d="m41 46h1v1h-1zm1 39h1v1h-1zm3 5h1v1h-1zm2-27h1v1h-1zm4 30h1v1h-1zm5-37h1v1h-1zm8 92h1v1h-1zm1-2h1v1h-1zm3-80h1v1h-1zm3 5h1v1h-1zm4 47h1v1h-1zm4 25h1v1h-1zm3-69h1v1h-1zm2 37h1v1h-1zm3 11h1v1h-1zm1-75h1v1h-1zm4-13h1v1h-1zm4 94h1v1h-1zm3-27h1v1h-1zm3-5h1v1h-1zm3-65h1v1h-1zm5-3h1v1h-1zm3 77h1v1h-1zm1 33h1v1h-1zm4 7h1v1h-1zm1-24h1v1h-1zm4-82h1v1h-1zm1 36h1v1h-1zm6 3h1v1h-1zm3 5h1v1h-1zm3-47h1v1h-1zm2 29h1v1h-1zm7-33h1v1h-1zm0 103h1v1h-1zm5-78h1v1h-1zm0 90h1v1h-1zm4-118h1v1h-1zm4 107h1v1h-1zm3-47h1v1h-1zm0 59h1v1h-1zm2-121h1v1h-1zm2 40h1v1h-1zm1 42h1v1h-1zm1-72h1v1h-1zm3 44h1v1h-1zm1-38h1v1h-1zm2 33h1v1h-1zm2 40h1v1h-1zm1-74h1v1h-1zm4-4h1v1h-1zm0 103h1v1h-1zm9-4h1v1h-1zm1-34h1v1h-1zm1-42h1v1h-1zm3-7h1v1h-1zm7 44h1v1h-1zm1 36h1v1h-1zm1-73h1v1h-1zm1 42h1v1h-1zm7-68h1v1h-1zm4 110h1v1h-1zm3-74h1v1h-1zm1 42h1v1h-1zm1 29h1v1h-1zm1-66h1v1h-1zm8-31h1v1h-1zm2 66h1v1h-1zm1-42h1v1h-1zm5 57h1v1h-1zm1-75h1v1h-1zm8-21h1v1h-1zm3 66h1v1h-1zm3-5h1v1h-1zm4-26h1v1h-1zm1 42h1v1h-1zm18 5h1v1h-1zm5-29h1v1h-1zm3 65h1v1h-1zm1-41h1v1h-1zm1-42h1v1h-1zm4 26h1v1h-1zm3 5h1v1h-1zm3-66h1v1h-1zm14 39h1v1h-1zm1 42h1v1h-1zm2-66h1v1h-1zm5-5h1v1h-1zm3 36h1v1h-1zm1 66h1v1h-1zm1-29h1v1h-1zm1-56h1v1h-1zm0 14h1v1h-1z"/>
<path fill-opacity=".281" d="m44 50h1v1h-1zm0 96h1v1h-1zm1 2h1v1h-1zm3-13h1v1h-1zm1-35h1v1h-1zm1-40h1v1h-1zm4 38h1v1h-1zm3 32h1v1h-1zm2-70h1v1h-1zm5 30h1v1h-1zm5 18h1v1h-1zm4-26h1v1h-1zm1 62h1v1h-1zm6-65h1v1h-1zm3 62h1v1h-1zm2-72h1v1h-1zm7 68h1v1h-1zm11-77h1v1h-1zm1 37h1v1h-1zm6 30h1v1h-1zm1-39h1v1h-1zm9-8h1v1h-1zm1-10h1v1h-1zm1 42h1v1h-1zm3 1h1v1h-1zm2-72h1v1h-1zm4 78h1v1h-1zm3-7h1v1h-1zm1-42h1v1h-1zm1 69h1v1h-1zm1-32h1v1h-1zm2-82h1v1h-1zm3 66h1v1h-1zm5-31h1v1h-1zm2 71h1v1h-1zm2-32h1v1h-1zm1-2h1v1h-1zm4-37h1v1h-1zm2-27h1v1h-1zm4 16h1v1h-1zm5 91h1v1h-1zm1-68h1v1h-1zm1 41h1v1h-1zm3 4h1v1h-1zm6-4h1v1h-1zm3-3h1v1h-1zm2-28h1v1h-1zm4 26h1v1h-1zm1-42h1v1h-1zm4 24h1v1h-1zm6 42h1v1h-1zm1-37h1v1h-1zm1-35h1v1h-1zm5 88h1v1h-1zm1-96h1v1h-1zm1-24h1v1h-1zm1 59h1v1h-1zm14 26h1v1h-1zm1-36h1v1h-1zm7 7h1v1h-1zm5-20h1v1h-1zm1-39h1v1h-1zm4 79h1v1h-1zm1-42h1v1h-1zm1-30h1v1h-1zm2 28h1v1h-1zm3-2h1v1h-1zm0 89h1v1h-1zm3-92h1v1h-1zm1-26h1v1h-1zm0 100h1v1h-1zm2-69h1v1h-1zm1 42h1v1h-1zm6-75h1v1h-1zm0 96h1v1h-1zm1-40h1v1h-1zm5 30h1v1h-1zm3-87h1v1h-1zm1 49h1v1h-1zm1 0h1v1h-1zm1-49h1v1h-1zm3 87h1v1h-1zm6-86h1v1h-1zm0 96h1v1h-1zm6-21h1v1h-1zm3-73h1v1h-1zm0 100h1v1h-1zm2 19h1v1h-1zm2-90h1v1h-1zm0 89h1v1h-1zm3-87h1v1h-1zm4 44h1v1h-1zm1-12h1v1h-1zm0 56h1v1h-1zm2-22h1v1h-1zm1-101h1v1h-1zm1 39h1v1h-1zm1 42h1v1h-1zm4-22h1v1h-1zm6 58h1v1h-1zm1-65h1v1h-1zm1 36h1v1h-1z"/>
<path fill-opacity=".297" d="m41 45h1v1h-1zm1 38h1v2h-1zm1 41h1v1h-1zm1-73h1v1h-1zm1 40h1v2h-1zm1 15h1v2h-1zm1-42h1v2h-1zm1-31h1v1h-1zm1 66h1v1h-1zm2-8h1v2h-1zm1-61h1v1h-1zm0 100h1v1h-1zm1-73h1v2h-1zm1 42h1v2h-1zm1-1h1v2h-1zm1-41h1v1h-1zm1 72h1v1h-1zm1-38h1v2h-1zm2 8h1v2h-1zm1-66h1v1h-1zm0 102h1v1h-1zm1-71h1v2h-1zm1 42h1v2h-1zm1-15h1v2h-1zm1-41h1v2h-1zm1 73h1v2h-1zm1-98h1v1h-1zm0 58h1v2h-1zm1-19h1v2h-1zm1 43h1v1h-1zm1-70h1v1h-1zm0 102h1v1h-1zm1-67h1v2h-1zm1 41h1v1h-1zm1-30h1v2h-1zm1-39h1v2h-1zm1 73h1v1h-1zm1-42h1v2h-1zm1-3h1v2h-1zm1 42h1v2h-1zm1-72h1v1h-1zm1 38h1v2h-1zm1 33h1v1h-1zm1-38h1v2h-1zm1-36h1v1h-1zm1 70h1v2h-1zm1-42h1v2h-1zm1 13h1v2h-1zm1 41h1v1h-1zm1-73h1v1h-1zm1 39h1v2h-1zm1 22h1v2h-1zm1-42h1v2h-1zm2 35h1v2h-1zm1-42h1v2h-1zm1 28h1v2h-1zm1 39h1v1h-1zm1-73h1v2h-1zm1 41h1v2h-1zm1 7h1v2h-1zm1-42h1v2h-1zm1-29h1v1h-1zm0 101h1v1h-1zm1-38h1v2h-1zm2 1h1v2h-1zm1 38h1v1h-1zm1-72h1v2h-1zm1 42h1v2h-1zm1-9h1v2h-1zm0 54h1v1h-1zm1-95h1v2h-1zm1 73h1v1h-1zm1-40h1v2h-1zm1-25h1v2h-1zm1 42h1v2h-1zm1-68h1v1h-1zm0 102h1v1h-1zm1-69h1v2h-1zm1 42h1v2h-1zm1-24h1v2h-1zm1-39h1v1h-1zm1 73h1v1h-1zm1-42h1v2h-1zm1-9h1v1h-1zm1 42h1v1h-1zm1-71h1v1h-1zm0 101h1v1h-1zm1-65h1v2h-1zm2 2h1v2h-1zm1-36h1v1h-1zm0 100h1v1h-1zm1-29h1v2h-1zm1-42h1v2h-1zm1 5h1v2h-1zm1 42h1v1h-1zm1-73h1v2h-1zm0 99h1v1h-1zm1-60h1v2h-1zm1 29h1v1h-1zm1-42h1v1h-1zm1-34h1v1h-1zm1 68h1v2h-1zm1-42h1v2h-1zm1 21h1v2h-1zm1 40h1v2h-1zm1-73h1v2h-1zm0 95h1v1h-1zm1-54h1v2h-1zm1 13h1v2h-1zm1-42h1v2h-1zm1 71h1v1h-1zm1-36h1v2h-1zm2-6h1v2h-1zm1-62h1v1h-1zm0 100h1v1h-1zm1-72h1v2h-1zm1 42h1v1h-1zm1-2h1v2h-1zm1-42h1v2h-1zm1 73h1v1h-1zm1-39h1v2h-1zm2 10h1v2h-1zm1 35h1v1h-1zm1-70h1v2h-1zm1 42h1v2h-1zm1-17h1v2h-1zm1-40h1v1h-1zm1 73h1v1h-1zm1-41h1v2h-1zm1-17h1v2h-1zm1 42h1v2h-1zm1-69h1v1h-1zm1 35h1v1h-1zm2 9h1v2h-1zm1-38h1v1h-1zm1 72h1v1h-1zm1-42h1v2h-1zm1-1h1v2h-1zm1-47h1v1h-1zm0 89h1v1h-1zm1-72h1v1h-1zm0 100h1v1h-1zm1-63h1v2h-1zm2-6h1v2h-1zm1-35h1v1h-1zm1 70h1v1h-1zm1-42h1v2h-1zm1 13h1v2h-1zm1-53h1v1h-1zm0 94h1v2h-1zm1-73h1v2h-1zm1 40h1v2h-1zm1 21h1v1h-1zm1-42h1v1h-1zm1-33h1v1h-1zm0 102h1v1h-1zm1-35h1v2h-1zm1-41h1v1h-1zm1 28h1v2h-1zm1-59h1v1h-1zm0 99h1v1h-1zm1-73h1v1h-1zm1 41h1v2h-1zm1 5h1v2h-1zm1-42h1v2h-1zm0 88h1v1h-1zm1-16h1v1h-1zm1-38h1v2h-1zm2 3h1v2h-1zm1-64h1v1h-1zm0 101h1v1h-1zm1-71h1v1h-1zm1 42h1v2h-1zm1-11h1v2h-1zm1-40h1v1h-1zm1 73h1v1h-1zm1-40h1v1h-1zm1-24h1v2h-1zm1 42h1v2h-1zm1-68h1v1h-1zm0 102h1v1h-1zm1-69h1v2h-1zm1 42h1v2h-1zm1-26h1v2h-1zm1-39h1v2h-1zm1 73h1v2h-1zm1-41h1v2h-1zm1-9h1v2h-1zm1 42h1v2h-1zm1-71h1v1h-1zm1 37h1v2h-1zm2 1h1v1h-1zm1-37h1v1h-1zm0 101h1v1h-1zm1-30h1v2h-1zm1-42h1v2h-1zm1 7h1v2h-1zm1 41h1v2h-1zm1-72h1v1h-1zm1 39h1v2h-1zm1 27h1v2h-1zm1-42h1v2h-1zm1-34h1v1h-1zm0 102h1v1h-1zm1-33h1v2h-1zm1-42h1v1h-1zm1 22h1v2h-1zm1 40h1v1h-1zm1-73h1v1h-1zm1 40h1v2h-1zm0 56h1v1h-1zm1-43h1v1h-1zm1-42h1v1h-1zm1 71h1v1h-1zm1-37h1v2h-1zm2-4h1v2h-1zm1 38h1v1h-1zm1-72h1v1h-1zm1 41h1v2h-1zm1-3h1v2h-1zm1-41h1v1h-1zm1 72h1v1h-1zm1-39h1v2h-1zm2 11h1v2h-1zm1-66h1v1h-1zm0 102h1v1h-1zm1-70h1v2h-1zm1 42h1v2h-1zm1-19h1v2h-1zm1-40h1v1h-1zm1 73h1v1h-1zm1-41h1v2h-1zm1-15h1v2h-1zm1 42h1v2h-1zm1-70h1v1h-1zm0 102h1v1h-1zm1-67h1v2h-1zm2 8h1v2h-1zm1-38h1v1h-1zm1 72h1v2h-1zm1-41h1v1h-1zm1-1h1v2h-1zm1 42h1v2h-1zm1-72h1v1h-1zm1 38h1v2h-1zm2-8h1v2h-1zm1-35h1v1h-1zm0 102h1v1h-1zm1-32h1v2h-1zm1-42h1v2h-1zm1 15h1v2h-1zm1 41h1v1h-1zm1-73h1v1h-1zm1 40h1v2h-1zm1 19h1v2h-1zm1-42h1v2h-1zm1-32h1v1h-1zm0 102h1v1h-1zm1-36h1v2h-1zm1-40h1v1h-1zm1 29h1v2h-1zm1 39h1v1h-1zm1-73h1v2h-1zm1 42h1v2h-1zm1 3h1v2h-1zm1-41h1v1h-1zm1 72h1v1h-1zm1-38h1v2h-1zm2 4h1v2h-1zm1-65h1v1h-1zm0 102h1v1h-1zm1-72h1v2h-1zm1 43h1v1h-1zm1-12h1v1h-1zm1-41h1v1h-1zm1 73h1v1h-1zm1-40h1v2h-1zm1-22h1v1h-1zm1 42h1v1h-1zm1-69h1v1h-1zm0 102h1v1h-1zm1-68h1v2h-1zm1 42h1v2h-1zm1-27h1v2h-1zm1-39h1v1h-1zm1 72h1v2h-1zm1-41h1v2h-1zm1-7h1v2h-1zm1 42h1v2h-1zm1-71h1v1h-1zm1 37h1v1h-1zm2-1h1v2h-1zm2 34h1v2h-1zm1-42h1v2h-1z"/>
<path fill-opacity=".312" d="m41 26h1v1h-1zm2 97h1v1h-1zm5 11h1v1h-1zm1-36h1v1h-1zm1-39h1v1h-1zm2 70h1v1h-1zm4-71h1v1h-1zm1-28h1v1h-1zm1 60h1v1h-1zm1-31h1v1h-1zm10 47h1v1h-1zm6 10h1v1h-1zm3-90h1v1h-1zm1 17h1v1h-1zm7 36h1v1h-1zm1-52h1v1h-1zm0 93h1v1h-1zm1 25h1v1h-1zm1-56h1v1h-1zm3-54h1v1h-1zm0 101h1v1h-1zm3-49h1v1h-1zm1-58h1v1h-1zm2 119h1v1h-1zm2-1h1v1h-1zm5-115h1v1h-1zm0 100h1v1h-1zm13-84h1v1h-1zm1 71h1v1h-1zm2-51h1v1h-1zm1 42h1v1h-1zm3 4h1v1h-1zm4-44h1v1h-1zm2 47h1v1h-1zm4-45h1v1h-1zm1 66h1v1h-1zm9-105h1v1h-1zm6 68h1v1h-1zm3 27h1v1h-1zm3-29h1v1h-1zm1-65h1v1h-1zm5 88h1v1h-1zm5-48h1v1h-1zm6-2h1v1h-1zm1 42h1v1h-1zm2-32h1v1h-1zm3 58h1v1h-1zm2-74h1v1h-1zm5 44h1v1h-1zm1-42h1v1h-1zm5 59h1v1h-1zm1-71h1v1h-1zm1 92h1v1h-1zm3-117h1v1h-1zm2 28h1v1h-1zm3 4h1v1h-1zm4 62h1v1h-1zm1-40h1v1h-1zm6 2h1v1h-1zm3-10h1v1h-1zm3-36h1v1h-1zm0 100h1v1h-1zm3-62h1v1h-1zm6 65h1v1h-1zm5-40h1v1h-1zm1-42h1v1h-1zm1 22h1v1h-1zm1-56h1v1h-1zm1 25h1v1h-1zm0 93h1v1h-1zm1-52h1v1h-1zm1 12h1v1h-1zm2 27h1v1h-1zm3-41h1v1h-1zm2-32h1v1h-1zm12-10h1v1h-1zm9-6h1v1h-1zm0 99h1v1h-1zm2-70h1v1h-1zm3-29h1v1h-1zm0 99h1v1h-1zm9-93h1v1h-1zm12 10h1v1h-1zm1 70h1v1h-1zm1-38h1v1h-1zm3 41h1v1h-1zm2-27h1v1h-1zm1-12h1v1h-1zm1-41h1v1h-1zm0 93h1v1h-1zm1-118h1v1h-1zm2 34h1v1h-1zm1 42h1v1h-1zm5 40h1v1h-1zm6-65h1v1h-1z"/>
<path fill-opacity=".328" d="m41 44h1v1h-1zm3 8h1v1h-1zm11 48h1v1h-1zm5-2h1v1h-1zm1 36h1v1h-1zm1-68h1v1h-1zm1 42h1v1h-1zm4-26h1v1h-1zm3-44h1v1h-1zm7 33h1v1h-1zm1 42h1v1h-1zm1 29h1v1h-1zm4-102h1v1h-1zm0 100h1v1h-1zm5-91h1v1h-1zm2 62h1v1h-1zm1-42h1v1h-1zm2 32h1v1h-1zm3 25h1v1h-1zm2-29h1v1h-1zm3 34h1v1h-1zm13-95h1v1h-1zm1 34h1v1h-1zm1 42h1v1h-1zm1-24h1v1h-1zm9-8h1v1h-1zm2 32h1v1h-1zm6 2h1v1h-1zm5-31h1v1h-1zm1-55h1v1h-1zm3 79h1v1h-1zm3-10h1v1h-1zm2-6h1v1h-1zm4 57h1v1h-1zm2-118h1v1h-1zm1 59h1v1h-1zm7-38h1v1h-1zm2-26h1v1h-1zm3 114h1v1h-1zm4-94h1v1h-1zm0 98h1v1h-1zm1-28h1v1h-1zm7-39h1v1h-1zm2 32h1v1h-1zm2-83h1v1h-1zm2 120h1v1h-1zm1-55h1v1h-1zm3-55h1v1h-1zm2 24h1v1h-1zm4 39h1v1h-1zm2-37h1v1h-1zm8 34h1v1h-1zm1-41h1v1h-1zm0 92h1v1h-1zm3-85h1v1h-1zm1 42h1v1h-1zm1 34h1v1h-1zm4 7h1v1h-1zm9-102h1v1h-1zm3 34h1v1h-1zm2-29h1v1h-1zm4-10h1v1h-1zm4 87h1v1h-1zm4-60h1v1h-1zm5-33h1v1h-1zm0 99h1v1h-1zm2-28h1v1h-1zm2-45h1v1h-1zm5 78h1v1h-1zm4 10h1v1h-1zm2-120h1v1h-1zm1 40h1v1h-1zm1 42h1v1h-1zm1-68h1v1h-1zm1 36h1v1h-1zm1 39h1v1h-1zm1-31h1v1h-1zm7 0h1v1h-1zm1 31h1v1h-1zm1-39h1v1h-1zm1-36h1v1h-1zm3-14h1v1h-1zm1 96h1v1h-1zm1 24h1v1h-1zm4-10h1v1h-1zm5-78h1v1h-1zm2 45h1v1h-1zm2-71h1v1h-1zm3 65h1v1h-1zm2-32h1v1h-1zm4 60h1v1h-1zm1-40h1v1h-1zm3-47h1v1h-1zm4 10h1v1h-1zm2 29h1v1h-1zm7 65h1v1h-1z"/>
<path fill-opacity=".344" d="m42 82h1v1h-1zm1-54h1v1h-1zm2 65h1v1h-1zm1 15h1v1h-1zm5-18h1v1h-1zm2-31h1v1h-1zm8-25h1v1h-1zm5 88h1v1h-1zm6-8h1v1h-1zm2 29h1v1h-1zm2-69h1v1h-1zm5 40h1v1h-1zm1-37h1v1h-1zm12-18h1v1h-1zm8 34h1v1h-1zm1-34h1v1h-1zm3 4h1v1h-1zm1 42h1v1h-1zm1-9h1v1h-1zm1-41h1v1h-1zm0 91h1v1h-1zm1-117h1v1h-1zm0 96h1v1h-1zm2-65h1v1h-1zm1 42h1v1h-1zm6-75h1v1h-1zm4 14h1v1h-1zm1 37h1v1h-1zm4-52h1v1h-1zm2 49h1v1h-1zm3 11h1v1h-1zm8-33h1v1h-1zm3 12h1v1h-1zm1 68h1v1h-1zm2-74h1v1h-1zm2 70h1v1h-1zm4-71h1v1h-1zm3 1h1v1h-1zm3 8h1v1h-1zm1 42h1v1h-1zm1-17h1v1h-1zm3-11h1v1h-1zm1-17h1v1h-1zm1 42h1v1h-1zm3 8h1v1h-1zm1-30h1v1h-1zm6-40h1v1h-1zm2 70h1v1h-1zm7-64h1v1h-1zm5 50h1v1h-1zm6 3h1v1h-1zm6 29h1v1h-1zm10-61h1v1h-1zm1 42h1v1h-1zm3 5h1v1h-1zm6-4h1v1h-1zm2 27h1v1h-1zm1-30h1v1h-1zm1-42h1v1h-1zm16-36h1v1h-1zm1 63h1v1h-1zm1-37h1v1h-1zm4 89h1v1h-1zm1-49h1v1h-1zm0 49h1v1h-1zm2-118h1v1h-1zm0 97h1v1h-1zm1-39h1v1h-1zm1-29h1v1h-1zm5 32h1v1h-1zm2 30h1v1h-1zm4 18h1v1h-1zm8-25h1v1h-1zm5 25h1v1h-1zm1-32h1v1h-1zm1-42h1v1h-1zm1 15h1v1h-1zm3 11h1v1h-1zm5-32h1v1h-1zm1 29h1v1h-1zm1 39h1v1h-1zm2-28h1v1h-1zm5-40h1v1h-1zm2-26h1v1h-1zm9 104h1v1h-1zm7-68h1v1h-1zm1 42h1v1h-1zm1-69h1v1h-1zm0 99h1v1h-1zm2-27h1v1h-1z"/>
<path fill-opacity=".359" d="m41 43h1v1h-1zm1 38h1v1h-1zm1 41h1v1h-1zm1-69h1v1h-1zm1 41h1v2h-1zm1 15h1v1h-1zm1-43h1v2h-1zm1-32h1v1h-1zm0 99h1v1h-1zm1-37h1v2h-1zm2-8h1v2h-1zm1 40h1v1h-1zm1-68h1v1h-1zm1 41h1v2h-1zm1 0h1v2h-1zm1-42h1v2h-1zm1 68h1v2h-1zm1-39h1v2h-1zm2 8h1v2h-1zm1 37h1v1h-1zm1-66h1v2h-1zm1 42h1v2h-1zm1-16h1v2h-1zm1-41h1v2h-1zm1-24h1v1h-1zm0 93h1v1h-1zm1-41h1v2h-1zm1-18h1v2h-1zm1 42h1v2h-1zm1-65h1v1h-1zm0 99h1v1h-1zm1-64h1v2h-1zm2 11h1v2h-1zm1-39h1v2h-1zm1 68h1v2h-1zm1-42h1v2h-1zm1-3h1v2h-1zm1 42h1v2h-1zm1-67h1v1h-1zm1 38h1v2h-1zm2-4h1v1h-1zm1-37h1v1h-1zm1 66h1v2h-1zm1-42h1v2h-1zm1-40h1v1h-1zm0 52h1v2h-1zm1 41h1v2h-1zm1-68h1v1h-1zm1 40h1v2h-1zm1 22h1v1h-1zm1-42h1v2h-1zm1-34h1v1h-1zm0 99h1v1h-1zm1-36h1v2h-1zm2-14h1v2h-1zm1 40h1v1h-1zm1-69h1v2h-1zm1 42h1v2h-1zm1 6h1v2h-1zm0 44h1v1h-1zm1-86h1v2h-1zm1-30h1v1h-1zm0 98h1v1h-1zm1-38h1v1h-1zm2 1h1v2h-1zm1-60h1v1h-1zm0 98h1v1h-1zm1-67h1v1h-1zm0 83h1v1h-1zm1-41h1v1h-1zm1-9h1v2h-1zm1-41h1v1h-1zm1 68h1v1h-1zm1-40h1v2h-1zm1-25h1v1h-1zm1 42h1v1h-1zm1-64h1v1h-1zm0 99h1v1h-1zm1-65h1v2h-1zm1 42h1v2h-1zm1-24h1v2h-1zm1-40h1v1h-1zm0 95h1v1h-1zm1-27h1v2h-1zm1-41h1v2h-1zm1-10h1v2h-1zm1 42h1v2h-1zm1-66h1v1h-1zm0 98h1v1h-1zm1-61h1v2h-1zm2 2h1v2h-1zm1-38h1v1h-1zm0 98h1v1h-1zm1-31h1v2h-1zm1-42h1v2h-1zm1 6h1v1h-1zm1 41h1v2h-1zm1-68h1v2h-1zm1 40h1v1h-1zm2-14h1v2h-1zm1-35h1v1h-1zm0 99h1v1h-1zm1-34h1v2h-1zm1-42h1v2h-1zm1 20h1v2h-1zm1 41h1v2h-1zm1-68h1v1h-1zm1 40h1v2h-1zm1 14h1v2h-1zm1-42h1v1h-1zm1-32h1v1h-1zm0 98h1v1h-1zm1-37h1v2h-1zm1-37h1v1h-1zm1 31h1v2h-1zm1-58h1v1h-1zm0 97h1v1h-1zm1-68h1v2h-1zm1 42h1v2h-1zm0 46h1v1h-1zm1-48h1v2h-1zm1-41h1v1h-1zm1 68h1v1h-1zm1-40h1v2h-1zm2 10h1v2h-1zm1-62h1v1h-1zm0 99h1v1h-1zm1-66h1v1h-1zm1 42h1v1h-1zm1-17h1v1h-1zm1-41h1v1h-1zm0 93h1v1h-1zm1-25h1v2h-1zm1-41h1v2h-1zm1-16h1v1h-1zm1 42h1v1h-1zm1-66h1v1h-1zm0 99h1v1h-1zm1-63h1v2h-1zm2 10h1v2h-1zm1-39h1v1h-1zm1 68h1v1h-1zm1-42h1v2h-1zm1-2h1v2h-1zm1 42h1v2h-1zm1-67h1v1h-1zm0 97h1v1h-1zm1-59h1v2h-1zm2-6h1v2h-1zm1-37h1v1h-1zm0 99h1v1h-1zm1-33h1v2h-1zm1-42h1v2h-1zm1 14h1v2h-1zm1 41h1v2h-1zm1-68h1v1h-1zm1 40h1v2h-1zm1 20h1v2h-1zm1-42h1v2h-1zm1-33h1v1h-1zm0 99h1v1h-1zm1-36h1v1h-1zm2-13h1v2h-1zm1 39h1v2h-1zm1-68h1v2h-1zm1 42h1v2h-1zm1 5h1v1h-1zm0 44h1v1h-1zm1-86h1v1h-1zm1-30h1v1h-1zm0 97h1v2h-1zm1-38h1v2h-1zm2 3h1v2h-1zm1-61h1v1h-1zm0 98h1v1h-1zm1-67h1v2h-1zm1 42h1v2h-1zm1-10h1v2h-1zm1-41h1v1h-1zm1 68h1v2h-1zm1-40h1v2h-1zm1-23h1v1h-1zm1 41h1v2h-1zm1-64h1v1h-1zm0 99h1v1h-1zm1-64h1v2h-1zm1 42h1v1h-1zm1-26h1v2h-1zm1-40h1v2h-1zm1 69h1v1h-1zm1-92h1v1h-1zm0 50h1v2h-1zm1-8h1v2h-1zm1 42h1v2h-1zm1-67h1v1h-1zm1 37h1v2h-1zm2 1h1v2h-1zm1-37h1v1h-1zm1-17h1v1h-1zm0 84h1v1h-1zm1-43h1v2h-1zm1 7h1v2h-1zm1 42h1v2h-1zm1-68h1v1h-1zm1 39h1v2h-1zm1 27h1v1h-1zm1-42h1v2h-1zm1-34h1v1h-1zm0 99h1v1h-1zm1-35h1v2h-1zm1-42h1v2h-1zm1 22h1v2h-1zm1 41h1v1h-1zm1-69h1v2h-1zm1 41h1v2h-1zm1 12h1v2h-1zm1-42h1v2h-1zm1 67h1v1h-1zm1-38h1v2h-1zm2-4h1v2h-1zm1 39h1v1h-1zm1-68h1v2h-1zm1 42h1v2h-1zm1-3h1v1h-1zm1-42h1v1h-1zm1 68h1v1h-1zm1-39h1v1h-1zm1-29h1v1h-1zm1 40h1v2h-1zm1-63h1v1h-1zm0 99h1v1h-1zm1-66h1v2h-1zm1 42h1v2h-1zm1-18h1v2h-1zm1-41h1v2h-1zm1 69h1v1h-1zm1-41h1v2h-1zm1-16h1v2h-1zm1 42h1v2h-1zm1-65h1v1h-1zm1 36h1v2h-1zm2 8h1v2h-1zm1-39h1v1h-1zm0 97h1v1h-1zm1-29h1v2h-1zm1-42h1v2h-1zm1 0h1v2h-1zm1 42h1v1h-1zm1-68h1v1h-1zm0 97h1v1h-1zm1-58h1v2h-1zm2-8h1v2h-1zm1-36h1v1h-1zm1 65h1v2h-1zm1-41h1v1h-1zm1 14h1v2h-1zm1 42h1v1h-1zm1-69h1v2h-1zm1 41h1v2h-1zm1 18h1v2h-1zm1-42h1v2h-1zm1-33h1v1h-1zm0 99h1v1h-1zm1-36h1v2h-1zm2-12h1v2h-1zm1-56h1v1h-1zm0 96h1v1h-1zm1-68h1v1h-1zm1 42h1v1h-1zm1 3h1v2h-1zm0 45h1v1h-1zm1-87h1v2h-1zm1 68h1v1h-1zm1-39h1v2h-1zm2 4h1v2h-1zm1 38h1v1h-1zm1-67h1v2h-1zm1 42h1v2h-1zm1-12h1v2h-1zm1-41h1v2h-1zm1 69h1v1h-1zm1-41h1v2h-1zm1-22h1v2h-1zm1 42h1v2h-1zm1-64h1v1h-1zm1 34h1v2h-1zm1 42h1v1h-1zm1-27h1v2h-1zm1-39h1v1h-1zm1 68h1v2h-1zm1-42h1v2h-1zm1-7h1v2h-1zm1-41h1v1h-1zm0 83h1v2h-1zm1-66h1v1h-1zm1 37h1v2h-1zm2-1h1v2h-1zm2 30h1v2h-1zm1-42h1v2h-1z"/>
<path fill-opacity=".375" d="m42 80h1v1h-1zm1 41h1v1h-1zm1-67h1v1h-1zm2 56h1v1h-1zm6-79h1v1h-1zm0 96h1v1h-1zm1-66h1v1h-1zm2 87h1v1h-1zm2-117h1v1h-1zm4 4h1v1h-1zm4 110h1v1h-1zm6-69h1v1h-1zm1 39h1v1h-1zm1-28h1v1h-1zm6-42h1v1h-1zm2 70h1v1h-1zm1-36h1v1h-1zm1 60h1v1h-1zm5-88h1v1h-1zm2 62h1v1h-1zm7 33h1v1h-1zm5-55h1v1h-1zm1-33h1v1h-1zm1 34h1v1h-1zm1 38h1v1h-1zm2-23h1v1h-1zm4-24h1v1h-1zm2 17h1v1h-1zm5-50h1v1h-1zm2-25h1v1h-1zm7 19h1v1h-1zm3 29h1v1h-1zm2 70h1v1h-1zm1-55h1v1h-1zm9 8h1v1h-1zm2-29h1v1h-1zm12-9h1v1h-1zm2 75h1v1h-1zm1-64h1v1h-1zm1 42h1v1h-1zm1-17h1v1h-1zm1-41h1v1h-1zm1-25h1v1h-1zm2 34h1v1h-1zm1 42h1v1h-1zm1-64h1v1h-1zm5 73h1v1h-1zm1-42h1v1h-1zm5 44h1v1h-1zm2-74h1v1h-1zm9 93h1v1h-1zm1-36h1v1h-1zm2-13h1v1h-1zm1-55h1v1h-1zm3 75h1v1h-1zm1-42h1v1h-1zm2 27h1v1h-1zm2 3h1v1h-1zm5-37h1v1h-1zm1-27h1v1h-1zm2 30h1v1h-1zm4 56h1v1h-1zm3-88h1v1h-1zm2 39h1v1h-1zm1-40h1v1h-1zm1 17h1v1h-1zm0 97h1v1h-1zm1-59h1v1h-1zm1 34h1v1h-1zm3-6h1v1h-1zm2-84h1v1h-1zm5 49h1v1h-1zm5-45h1v1h-1zm5 5h1v1h-1zm2 24h1v1h-1zm5 43h1v1h-1zm1-42h1v1h-1zm2 27h1v1h-1zm8 33h1v1h-1zm1-41h1v1h-1zm3 60h1v1h-1zm4-92h1v1h-1zm3 24h1v1h-1zm2-24h1v1h-1zm6 17h1v1h-1zm2 56h1v1h-1zm7-61h1v1h-1zm3 1h1v1h-1zm1 42h1v1h-1zm5-43h1v1h-1zm2-24h1v1h-1zm9 102h1v1h-1zm1-62h1v1h-1zm4-47h1v1h-1zm6 88h1v1h-1zm1-34h1v1h-1zm1 59h1v1h-1z"/>
<path fill-opacity=".391" d="m44 145h1v1h-1zm2 3h1v1h-1zm1-80h1v1h-1zm1-33h1v1h-1zm0 97h1v1h-1zm1-37h1v1h-1zm5 8h1v1h-1zm10-8h1v1h-1zm4-34h1v1h-1zm1 42h1v1h-1zm1 34h1v1h-1zm9 4h1v1h-1zm1-57h1v1h-1zm4 22h1v1h-1zm1-42h1v1h-1zm1 12h1v1h-1zm2 68h1v1h-1zm1-52h1v1h-1zm5-34h1v1h-1zm1 26h1v1h-1zm1-54h1v1h-1zm0 94h1v1h-1zm1-66h1v1h-1zm2 48h1v1h-1zm1-42h1v1h-1zm1 65h1v1h-1zm5-64h1v1h-1zm3-8h1v1h-1zm1 66h1v1h-1zm2-65h1v1h-1zm2 77h1v1h-1zm6-60h1v1h-1zm10-50h1v1h-1zm5 50h1v1h-1zm1-36h1v1h-1zm1 63h1v1h-1zm1-42h1v1h-1zm3-5h1v1h-1zm0 90h1v1h-1zm9-83h1v1h-1zm2 40h1v1h-1zm1-42h1v1h-1zm1-29h1v1h-1zm0 95h1v1h-1zm14-49h1v1h-1zm1 38h1v1h-1zm2 27h1v1h-1zm12-65h1v1h-1zm11 69h1v1h-1zm9 1h1v1h-1zm1-39h1v1h-1zm4-26h1v1h-1zm3-44h1v1h-1zm3 52h1v1h-1zm2 26h1v1h-1zm3-8h1v1h-1zm4-26h1v1h-1zm1 58h1v1h-1zm4-113h1v1h-1zm1 22h1v1h-1zm0 94h1v1h-1zm1-54h1v1h-1zm1 26h1v1h-1zm2 21h1v1h-1zm4-14h1v1h-1zm2-25h1v1h-1zm2 50h1v1h-1zm1-16h1v1h-1zm3-42h1v1h-1zm1-57h1v1h-1zm0 96h1v1h-1zm8-31h1v1h-1zm1-61h1v1h-1zm1 34h1v1h-1zm1 42h1v1h-1zm3-84h1v1h-1zm9 84h1v1h-1zm1-42h1v1h-1zm2 42h1v1h-1zm5 26h1v1h-1zm4-110h1v1h-1zm3 84h1v1h-1zm1-42h1v1h-1zm1-34h1v1h-1zm1 61h1v1h-1zm8-65h1v1h-1zm0 96h1v1h-1zm4 3h1v1h-1zm1 16h1v1h-1zm2-50h1v1h-1zm2-68h1v1h-1zm0 93h1v1h-1zm3-21h1v1h-1zm3 14h1v1h-1zm1-26h1v1h-1zm1-40h1v1h-1zm0 94h1v1h-1zm2-118h1v1h-1zm3 115h1v1h-1zm1-58h1v1h-1zm3-25h1v1h-1zm1 51h1v1h-1zm1-42h1v1h-1z"/>
<path fill-opacity=".406" d="m41 42h1v1h-1zm9 16h1v1h-1zm4 90h1v1h-1zm1-45h1v1h-1zm1-42h1v1h-1zm2 26h1v1h-1zm1-30h1v2h-1zm1 38h1v1h-1zm1 37h1v1h-1zm4-78h1v1h-1zm1 66h1v1h-1zm1-41h1v1h-1zm3-39h1v1h-1zm4 102h1v1h-1zm9-100h1v1h-1zm9-5h1v1h-1zm0 97h1v1h-1zm6-34h1v1h-1zm3-67h1v1h-1zm14 40h1v1h-1zm2 18h1v1h-1zm4-26h1v1h-1zm1-39h1v1h-1zm0 81h1v1h-1zm1-64h1v1h-1zm0 96h1v1h-1zm2-24h1v2h-1zm1-32h1v1h-1zm1 57h1v1h-1zm2-73h1v1h-1zm2-40h1v1h-1zm3 88h1v2h-1zm2 21h1v1h-1zm4-107h1v1h-1zm0 92h1v1h-1zm3 27h1v1h-1zm1-1h1v1h-1zm2-53h1v1h-1zm2-6h1v1h-1zm1-56h1v1h-1zm2 72h1v1h-1zm4-18h1v1h-1zm2 10h1v1h-1zm14-49h1v1h-1zm2-22h1v1h-1zm1 44h1v1h-1zm1 42h1v1h-1zm1-65h1v1h-1zm0 95h1v1h-1zm1-56h1v1h-1zm3 53h1v1h-1zm1-33h1v1h-1zm1-42h1v1h-1zm2-35h1v1h-1zm0 90h1v1h-1zm1-66h1v1h-1zm0 92h1v1h-1zm1-51h1v1h-1zm1 20h1v1h-1zm1-42h1v1h-1zm3-14h1v2h-1zm9 0h1v2h-1zm2-23h1v1h-1zm1 32h1v1h-1zm1 82h1v1h-1zm1-50h1v1h-1zm10-48h1v1h-1zm0 93h1v1h-1zm2-69h1v1h-1zm7-30h1v1h-1zm4 71h1v1h-1zm6-14h1v1h-1zm1-42h1v1h-1zm1 22h1v1h-1zm4 28h1v1h-1zm1-42h1v1h-1zm10 58h1v1h-1zm4 8h1v1h-1zm9-92h1v1h-1zm1 37h1v1h-1zm1 37h1v2h-1zm1-29h1v1h-1zm8 29h1v1h-1zm1-37h1v1h-1zm1-37h1v1h-1zm9 92h1v1h-1zm4-8h1v1h-1zm4-62h1v1h-1zm2 26h1v1h-1zm2 4h1v1h-1zm3 16h1v1h-1zm0 39h1v1h-1zm4-67h1v1h-1zm1-22h1v1h-1zm7 56h1v1h-1zm4-71h1v1h-1z"/>
<path fill-opacity=".422" d="m41 41h1v1h-1zm1 37h1v2h-1zm1-49h1v1h-1zm0 90h1v2h-1zm1-64h1v2h-1zm1 41h1v2h-1zm1 15h1v2h-1zm1-42h1v2h-1zm0 78h1v1h-1zm1-16h1v1h-1zm1-38h1v2h-1zm1-36h1v1h-1zm1 29h1v2h-1zm1-54h1v1h-1zm0 94h1v1h-1zm1-64h1v2h-1zm1 42h1v2h-1zm1 0h1v1h-1zm1-42h1v1h-1zm1-30h1v1h-1zm0 93h1v2h-1zm1-40h1v2h-1zm2 9h1v1h-1zm1-58h1v1h-1zm0 95h1v1h-1zm1-62h1v2h-1zm1 42h1v2h-1zm1-15h1v2h-1zm1-41h1v1h-1zm1 64h1v1h-1zm1-42h1v2h-1zm1-17h1v1h-1zm1 41h1v2h-1zm1-60h1v1h-1zm0 95h1v1h-1zm1-59h1v2h-1zm2 11h1v2h-1zm1-40h1v2h-1zm1 64h1v2h-1zm1-42h1v2h-1zm1-3h1v2h-1zm1 42h1v2h-1zm1-63h1v1h-1zm1 39h1v2h-1zm2-5h1v2h-1zm1-37h1v1h-1zm0 95h1v1h-1zm1-112h1v1h-1zm0 78h1v2h-1zm1-42h1v2h-1zm1 12h1v2h-1zm1-46h1v1h-1zm0 88h1v2h-1zm1-64h1v2h-1zm1 41h1v2h-1zm1 21h1v2h-1zm1-42h1v2h-1zm1-34h1v1h-1zm0 95h1v1h-1zm1-36h1v2h-1zm1-40h1v1h-1zm1 25h1v2h-1zm1 41h1v1h-1zm1-64h1v1h-1zm1 42h1v1h-1zm1 6h1v2h-1zm1-42h1v2h-1zm1 63h1v1h-1zm1-39h1v2h-1zm2 1h1v2h-1zm1-56h1v1h-1zm0 95h1v1h-1zm1-63h1v2h-1zm1 42h1v2h-1zm1-9h1v2h-1zm1-41h1v1h-1zm1-28h1v1h-1zm0 92h1v1h-1zm1-41h1v2h-1zm2 17h1v2h-1zm1-60h1v1h-1zm0 96h1v1h-1zm1-60h1v1h-1zm1 41h1v1h-1zm1-23h1v1h-1zm1-41h1v2h-1zm0 92h1v1h-1zm1-28h1v2h-1zm1-42h1v2h-1zm1-9h1v1h-1zm1 41h1v2h-1zm1-61h1v1h-1zm1 37h1v2h-1zm2 3h1v2h-1zm1-39h1v1h-1zm1 63h1v2h-1zm1-42h1v1h-1zm1 5h1v2h-1zm1 42h1v2h-1zm1-64h1v2h-1zm0 93h1v1h-1zm1-53h1v2h-1zm2-13h1v2h-1zm1-36h1v1h-1zm1 60h1v2h-1zm1-41h1v1h-1zm1 20h1v2h-1zm1 41h1v1h-1zm1-64h1v1h-1zm1 41h1v2h-1zm1 13h1v2h-1zm1-42h1v2h-1zm1-33h1v1h-1zm0 95h1v2h-1zm1-38h1v2h-1zm2-6h1v2h-1zm1 40h1v2h-1zm1-63h1v1h-1zm1 42h1v2h-1zm1-2h1v2h-1zm1-42h1v2h-1zm1 64h1v1h-1zm1-41h1v2h-1zm2 10h1v2h-1zm1-58h1v1h-1zm0 96h1v1h-1zm1-62h1v2h-1zm1 42h1v2h-1zm1-17h1v2h-1zm1-41h1v2h-1zm1 64h1v2h-1zm1-41h1v2h-1zm1-17h1v2h-1zm1 42h1v2h-1zm1-61h1v1h-1zm0 96h1v1h-1zm1-59h1v2h-1zm2 9h1v2h-1zm1-39h1v1h-1zm1 63h1v2h-1zm1-42h1v2h-1zm1-44h1v1h-1zm0 42h1v2h-1zm1 43h1v1h-1zm1-63h1v1h-1zm1 39h1v2h-1zm2-7h1v2h-1zm1-37h1v1h-1zm1 62h1v1h-1zm1-42h1v1h-1zm1 13h1v2h-1zm1 42h1v1h-1zm1-64h1v1h-1zm1 41h1v1h-1zm1 20h1v1h-1zm1-42h1v2h-1zm1-35h1v1h-1zm0 96h1v1h-1zm1-37h1v2h-1zm2-13h1v2h-1zm1-52h1v1h-1zm0 92h1v2h-1zm1-64h1v2h-1zm1 42h1v2h-1zm1 5h1v2h-1zm1-42h1v2h-1zm1-31h1v1h-1zm0 94h1v2h-1zm1-39h1v2h-1zm2 3h1v2h-1zm1 38h1v2h-1zm1-62h1v2h-1zm1 42h1v2h-1zm1-10h1v1h-1zm1-42h1v2h-1zm1 64h1v2h-1zm1-41h1v2h-1zm1-23h1v2h-1zm1 42h1v2h-1zm1-60h1v1h-1zm0 96h1v1h-1zm1-61h1v2h-1zm2 17h1v2h-1zm1-40h1v1h-1zm1 63h1v2h-1zm1-42h1v2h-1zm1-8h1v2h-1zm1 42h1v2h-1zm1-62h1v1h-1zm0 95h1v1h-1zm1-57h1v2h-1zm2 1h1v2h-1zm1-38h1v1h-1zm1 62h1v2h-1zm1-42h1v2h-1zm1 7h1v2h-1zm1 42h1v1h-1zm1-64h1v1h-1zm1 40h1v2h-1zm2-15h1v2h-1zm1-36h1v1h-1zm0 96h1v1h-1zm1-35h1v1h-1zm1-42h1v1h-1zm1 21h1v2h-1zm1 41h1v2h-1zm1-64h1v2h-1zm0 89h1v1h-1zm1-47h1v2h-1zm1 12h1v1h-1zm1-42h1v1h-1zm1-33h1v1h-1zm0 95h1v1h-1zm1-38h1v2h-1zm2-5h1v2h-1zm1 40h1v1h-1zm1-64h1v2h-1zm1 42h1v2h-1zm1-3h1v2h-1zm1-42h1v2h-1zm0 86h1v1h-1zm1-115h1v1h-1zm0 93h1v1h-1zm1-40h1v2h-1zm2 11h1v2h-1zm1-58h1v1h-1zm0 95h1v1h-1zm1-61h1v2h-1zm1 42h1v1h-1zm0 35h1v1h-1zm1-54h1v2h-1zm1-41h1v2h-1zm0 91h1v1h-1zm1-27h1v2h-1zm1-41h1v2h-1zm1-15h1v2h-1zm1 42h1v2h-1zm1-61h1v1h-1zm0 95h1v1h-1zm1-58h1v2h-1zm2 8h1v1h-1zm1-40h1v1h-1zm0 94h1v1h-1zm1-31h1v2h-1zm1-42h1v2h-1zm1 0h1v2h-1zm1 42h1v2h-1zm1-63h1v1h-1zm0 94h1v1h-1zm1-55h1v2h-1zm1 30h1v1h-1zm1-37h1v2h-1zm1-37h1v1h-1zm0 95h1v1h-1zm1-34h1v2h-1zm1-42h1v2h-1zm1 15h1v2h-1zm1 41h1v2h-1zm1-64h1v2h-1zm0 91h1v1h-1zm1-50h1v2h-1zm1 19h1v1h-1zm1-42h1v2h-1zm1-34h1v1h-1zm0 95h1v1h-1zm1-37h1v2h-1zm2-11h1v2h-1zm1-53h1v1h-1zm0 93h1v1h-1zm1-64h1v2h-1zm0 86h1v1h-1zm1-44h1v2h-1zm1 3h1v2h-1zm1-41h1v1h-1zm1 63h1v1h-1zm1-40h1v2h-1zm2 5h1v1h-1zm1-57h1v1h-1zm0 95h1v1h-1zm1-63h1v2h-1zm1 43h1v1h-1zm1-12h1v2h-1zm1-42h1v2h-1zm0 89h1v1h-1zm1-24h1v1h-1zm1-42h1v2h-1zm1-21h1v1h-1zm1 41h1v2h-1zm1-60h1v1h-1zm0 96h1v1h-1zm1-60h1v2h-1zm2 15h1v2h-1zm1-40h1v1h-1zm1 64h1v1h-1zm1-42h1v2h-1zm1-7h1v2h-1zm1 42h1v2h-1zm1-62h1v1h-1zm1 38h1v2h-1zm2-1h1v2h-1zm1 57h1v1h-1zm1-33h1v2h-1zm1-42h1v2h-1z"/>
<path fill-opacity=".438" d="m48 36h1v1h-1zm4 89h1v1h-1zm3-20h1v1h-1zm1-42h1v1h-1zm4 30h1v1h-1zm2-22h1v1h-1zm0 76h1v1h-1zm4-118h1v1h-1zm2 30h1v1h-1zm7-32h1v1h-1zm2-2h1v1h-1zm0 41h1v1h-1zm2 74h1v1h-1zm11 8h1v1h-1zm1-74h1v1h-1zm2 22h1v1h-1zm4-36h1v1h-1zm1 42h1v1h-1zm5-45h1v1h-1zm6 2h1v1h-1zm5-20h1v1h-1zm1 36h1v1h-1zm1 41h1v1h-1zm1-23h1v1h-1zm4-30h1v1h-1zm2 75h1v1h-1zm1-55h1v1h-1zm3-37h1v1h-1zm2 19h1v1h-1zm7 70h1v1h-1zm2-77h1v1h-1zm1 20h1v1h-1zm2-21h1v1h-1zm9 7h1v1h-1zm3 82h1v1h-1zm1-22h1v1h-1zm8 20h1v1h-1zm7-28h1v1h-1zm2 25h1v1h-1zm4-32h1v1h-1zm4-28h1v1h-1zm1 56h1v1h-1zm1-111h1v1h-1zm0 77h1v1h-1zm3 13h1v1h-1zm2-21h1v1h-1zm16-60h1v1h-1zm3 65h1v1h-1zm1 45h1v1h-1zm1-115h1v1h-1zm3 68h1v1h-1zm1 36h1v1h-1zm13 5h1v1h-1zm3-68h1v1h-1zm1 42h1v1h-1zm1-62h1v1h-1zm2 65h1v1h-1zm2-76h1v1h-1zm1 59h1v1h-1zm6 12h1v1h-1zm1-42h1v1h-1zm2 22h1v1h-1zm1-34h1v1h-1zm2-24h1v1h-1zm11 81h1v1h-1zm1-18h1v1h-1zm9-8h1v1h-1zm1-40h1v1h-1zm5 0h1v1h-1zm1 40h1v1h-1zm9 8h1v1h-1zm1 18h1v1h-1zm5-31h1v1h-1zm5-18h1v1h-1zm1-32h1v1h-1zm2 24h1v1h-1zm1 34h1v1h-1zm2-22h1v1h-1zm1 42h1v1h-1zm3 9h1v1h-1zm4-80h1v1h-1zm2 76h1v1h-1zm2-65h1v1h-1zm1 62h1v1h-1zm4 26h1v1h-1z"/>
<path fill-opacity=".453" d="m42 77h1v1h-1zm3 21h1v1h-1zm6-13h1v1h-1zm5 61h1v1h-1zm7-33h1v1h-1zm2-57h1v1h-1zm0 88h1v1h-1zm1-26h1v1h-1zm5-39h1v1h-1zm3 62h1v1h-1zm1-30h1v1h-1zm1-42h1v1h-1zm2 39h1v1h-1zm1-61h1v1h-1zm3 35h1v1h-1zm6 61h1v1h-1zm8-112h1v1h-1zm0 91h1v1h-1zm5-88h1v1h-1zm1 54h1v1h-1zm2 1h1v1h-1zm1 39h1v1h-1zm2 20h1v1h-1zm1-47h1v1h-1zm1 44h1v1h-1zm1-24h1v1h-1zm1-41h1v1h-1zm1-23h1v1h-1zm1 40h1v1h-1zm6-69h1v1h-1zm9 79h1v1h-1zm2-37h1v1h-1zm1 42h1v1h-1zm2-21h1v1h-1zm7 28h1v1h-1zm3-7h1v1h-1zm1-42h1v1h-1zm1-34h1v1h-1zm2 21h1v1h-1zm2-24h1v1h-1zm5-1h1v1h-1zm2 25h1v1h-1zm2-20h1v1h-1zm0 94h1v1h-1zm1-59h1v1h-1zm2 25h1v1h-1zm2-68h1v1h-1zm1 47h1v1h-1zm3-34h1v1h-1zm0 94h1v1h-1zm3-47h1v1h-1zm1-40h1v1h-1zm1-22h1v1h-1zm6 89h1v1h-1zm2-73h1v1h-1zm2 18h1v1h-1zm3-7h1v1h-1zm2 61h1v1h-1zm2-77h1v1h-1zm0 94h1v1h-1zm1-37h1v1h-1zm2-13h1v1h-1zm2-21h1v1h-1zm1 42h1v1h-1zm6-13h1v1h-1zm11-14h1v1h-1zm1 40h1v1h-1zm2-64h1v1h-1zm5-7h1v1h-1zm2 71h1v1h-1zm4-91h1v1h-1zm0 39h1v1h-1zm3 78h1v1h-1zm6-85h1v1h-1zm2-27h1v1h-1zm1 28h1v1h-1zm2 90h1v1h-1zm2-19h1v1h-1zm4-3h1v1h-1zm1-61h1v1h-1zm1 42h1v1h-1zm4-24h1v1h-1zm1-26h1v1h-1zm9 3h1v1h-1zm1-34h1v1h-1zm0 76h1v1h-1zm7-77h1v1h-1zm8 1h1v1h-1zm0 76h1v1h-1zm2-27h1v1h-1zm8-18h1v1h-1zm2 66h1v1h-1zm3-16h1v1h-1zm2 19h1v1h-1zm4 3h1v1h-1zm4-71h1v1h-1zm1-28h1v1h-1zm2 27h1v1h-1zm4 91h1v1h-1zm2-6h1v1h-1zm2-71h1v1h-1zm1-7h1v1h-1zm1 42h1v1h-1zm3 10h1v1h-1zm1-32h1v1h-1z"/>
<path fill-opacity=".469" d="m41 40h1v1h-1zm3 104h1v1h-1zm3-73h1v1h-1zm1 59h1v1h-1zm1-38h1v1h-1zm4-28h1v1h-1zm0 82h1v1h-1zm1-40h1v1h-1zm9 42h1v1h-1zm1-50h1v1h-1zm8 18h1v2h-1zm1-26h1v1h-1zm3-65h1v1h-1zm4 62h1v1h-1zm1 29h1v2h-1zm2-72h1v1h-1zm0 93h1v1h-1zm4-22h1v1h-1zm3 1h1v1h-1zm5-35h1v1h-1zm6 46h1v1h-1zm4-92h1v1h-1zm1 33h1v1h-1zm1 42h1v1h-1zm5-54h1v1h-1zm2 77h1v1h-1zm5-19h1v1h-1zm1-42h1v1h-1zm1-47h1v1h-1zm6 114h1v1h-1zm9-98h1v1h-1zm1 58h1v1h-1zm3-69h1v1h-1zm2 69h1v1h-1zm5-43h1v1h-1zm2 69h1v1h-1zm7-69h1v1h-1zm3 91h1v1h-1zm1 1h1v1h-1zm3-31h1v1h-1zm2-58h1v1h-1zm1 42h1v1h-1zm2-21h1v1h-1zm4 30h1v1h-1zm1-42h1v1h-1zm3-20h1v1h-1zm0 92h1v1h-1zm7-66h1v1h-1zm2 69h1v1h-1zm11-35h1v1h-1zm1-42h1v1h-1zm1-32h1v1h-1zm1 53h1v1h-1zm7-28h1v1h-1zm1 61h1v1h-1zm1-41h1v1h-1zm3-39h1v1h-1zm2 77h1v1h-1zm2 25h1v1h-1zm1-114h1v1h-1zm2 35h1v1h-1zm2 75h1v1h-1zm1-54h1v1h-1zm1 33h1v1h-1zm1-32h1v1h-1zm1-39h1v1h-1zm1 60h1v1h-1zm5-14h1v1h-1zm2-15h1v1h-1zm1 57h1v1h-1zm16-30h1v1h-1zm1-42h1v1h-1zm1-30h1v1h-1zm0 91h1v1h-1zm2-67h1v1h-1zm1 38h1v1h-1zm2-21h1v1h-1zm0 74h1v1h-1zm3-92h1v1h-1zm1-26h1v1h-1zm1 46h1v1h-1zm3 61h1v1h-1zm5-109h1v1h-1zm2-2h1v1h-1zm0 42h1v1h-1zm1-40h1v1h-1zm7-2h1v1h-1zm0 35h1v1h-1zm2-31h1v1h-1zm1 26h1v1h-1zm2 93h1v1h-1zm1-75h1v1h-1zm0 74h1v1h-1zm2-53h1v1h-1zm1-38h1v1h-1zm2-24h1v1h-1zm1 30h1v1h-1zm1 42h1v1h-1zm16 30h1v1h-1zm1-57h1v1h-1zm2 15h1v1h-1zm6-46h1v1h-1zm1 39h1v1h-1zm1 32h1v1h-1zm2 21h1v1h-1zm1-81h1v1h-1z"/>
<path fill-opacity=".484" d="m42 75h1v2h-1zm1-45h1v1h-1zm0 87h1v2h-1zm1-60h1v2h-1zm1 42h1v2h-1zm1 14h1v2h-1zm1-41h1v1h-1zm1-35h1v1h-1zm0 92h1v1h-1zm1-39h1v2h-1zm2-7h1v2h-1zm1-50h1v1h-1zm0 91h1v1h-1zm1-59h1v1h-1zm1 42h1v1h-1zm1-1h1v2h-1zm1-42h1v2h-1zm1-31h1v1h-1zm0 90h1v2h-1zm1-40h1v2h-1zm2 8h1v2h-1zm1-54h1v1h-1zm0 93h1v1h-1zm1-58h1v2h-1zm1 42h1v1h-1zm1-15h1v1h-1zm1-42h1v2h-1zm1 59h1v2h-1zm1-41h1v2h-1zm1-50h1v1h-1zm0 32h1v2h-1zm1-31h1v1h-1zm0 73h1v2h-1zm1-57h1v1h-1zm0 93h1v1h-1zm1-55h1v2h-1zm2 11h1v2h-1zm1-41h1v2h-1zm1 59h1v2h-1zm1-42h1v2h-1zm1-3h1v2h-1zm1 42h1v2h-1zm1-58h1v1h-1zm0 91h1v1h-1zm1-51h1v2h-1zm2-5h1v2h-1zm1-38h1v1h-1zm1 57h1v2h-1zm1-42h1v2h-1zm1 12h1v2h-1zm1 42h1v1h-1zm1-60h1v2h-1zm1 41h1v2h-1zm2-20h1v2h-1zm1-36h1v1h-1zm0 93h1v1h-1zm1-38h1v2h-1zm1-38h1v1h-1zm1 23h1v2h-1zm1 42h1v1h-1zm1-60h1v2h-1zm0 84h1v1h-1zm1-42h1v2h-1zm1 6h1v2h-1zm1-42h1v2h-1zm1-32h1v1h-1zm0 91h1v1h-1zm1-40h1v2h-1zm1-30h1v1h-1zm1 31h1v2h-1zm1 40h1v1h-1zm1-58h1v1h-1zm1 42h1v1h-1zm1-9h1v2h-1zm1-42h1v2h-1zm1-29h1v1h-1zm0 89h1v1h-1zm1-42h1v2h-1zm2 17h1v2h-1zm1-55h1v1h-1zm0 92h1v1h-1zm1-56h1v2h-1zm1 72h1v1h-1zm1-54h1v2h-1zm1-41h1v2h-1zm0 89h1v1h-1zm1-29h1v1h-1zm1-42h1v1h-1zm1-10h1v2h-1zm1 42h1v2h-1zm1-58h1v2h-1zm0 92h1v1h-1zm1-53h1v2h-1zm2 2h1v2h-1zm1-39h1v1h-1zm1 58h1v2h-1zm1-80h1v1h-1zm0 38h1v2h-1zm1 5h1v2h-1zm1 42h1v2h-1zm1-59h1v2h-1zm0 90h1v1h-1zm1-49h1v2h-1zm2-14h1v2h-1zm1-36h1v1h-1zm0 92h1v1h-1zm1-36h1v1h-1zm1-42h1v2h-1zm1 20h1v2h-1zm1 41h1v2h-1zm1-59h1v2h-1zm0 86h1v1h-1zm1-44h1v2h-1zm1 13h1v1h-1zm1-42h1v2h-1zm1-34h1v1h-1zm0 92h1v1h-1zm1-39h1v2h-1zm2-6h1v2h-1zm1 40h1v1h-1zm1-59h1v2h-1zm0 81h1v1h-1zm1-39h1v2h-1zm1-2h1v2h-1zm1-42h1v2h-1zm1 60h1v1h-1zm1-41h1v2h-1zm2 10h1v2h-1zm1-54h1v1h-1zm0 92h1v1h-1zm1-57h1v2h-1zm1 41h1v2h-1zm1-16h1v2h-1zm1-42h1v2h-1zm1 60h1v1h-1zm1-42h1v2h-1zm1-16h1v1h-1zm1-32h1v1h-1zm0 74h1v1h-1zm1-57h1v1h-1zm0 92h1v1h-1zm1-54h1v1h-1zm2 9h1v2h-1zm1-40h1v1h-1zm1 59h1v1h-1zm1-42h1v1h-1zm1-2h1v2h-1zm1-38h1v1h-1zm0 80h1v2h-1zm1-58h1v1h-1zm1 39h1v2h-1zm1 29h1v1h-1zm1-35h1v2h-1zm1-38h1v1h-1zm0 92h1v1h-1zm1-35h1v2h-1zm1-42h1v2h-1zm1 13h1v2h-1zm1-43h1v1h-1zm0 85h1v2h-1zm1-59h1v2h-1zm1 41h1v2h-1zm1 20h1v1h-1zm0 32h1v1h-1zm1-74h1v2h-1zm0 73h1v1h-1zm1-108h1v1h-1zm0 92h1v1h-1zm1-38h1v2h-1zm2-13h1v2h-1zm1-48h1v1h-1zm0 89h1v2h-1zm1-59h1v2h-1zm1 42h1v2h-1zm1 5h1v1h-1zm1-42h1v2h-1zm1 58h1v2h-1zm1-40h1v2h-1zm2 3h1v2h-1zm1-52h1v1h-1zm0 91h1v2h-1zm1-58h1v2h-1zm1 42h1v2h-1zm1-10h1v2h-1zm1-41h1v1h-1zm1 59h1v1h-1zm1-41h1v1h-1zm2 18h1v2h-1zm1-55h1v1h-1zm0 92h1v1h-1zm1-56h1v2h-1zm2 16h1v2h-1zm1-40h1v1h-1zm1 59h1v2h-1zm1-42h1v2h-1zm1-8h1v1h-1zm1 42h1v2h-1zm1-58h1v1h-1zm1 39h1v2h-1zm2 1h1v2h-1zm1-39h1v1h-1zm0 91h1v1h-1zm1-33h1v1h-1zm1-43h1v2h-1zm1 7h1v2h-1zm1-41h1v1h-1zm0 83h1v2h-1zm1-59h1v2h-1zm1 41h1v2h-1zm1 24h1v1h-1zm1-39h1v2h-1zm1-37h1v1h-1zm0 92h1v1h-1zm1-36h1v2h-1zm2-20h1v2h-1zm1 41h1v2h-1zm1-59h1v1h-1zm1 41h1v2h-1zm1 12h1v2h-1zm1-42h1v2h-1zm1-34h1v1h-1zm0 92h1v1h-1zm1-39h1v2h-1zm1-33h1v1h-1zm1 29h1v2h-1zm1-51h1v1h-1zm0 91h1v1h-1zm1-59h1v2h-1zm1 42h1v2h-1zm1-3h1v2h-1zm1-42h1v1h-1zm1 59h1v1h-1zm1-41h1v2h-1zm2 11h1v2h-1zm1-54h1v1h-1zm0 92h1v2h-1zm1-56h1v1h-1zm1 41h1v2h-1zm1-18h1v2h-1zm1-41h1v1h-1zm1 59h1v2h-1zm1-42h1v2h-1zm1-14h1v1h-1zm1 41h1v2h-1zm1-57h1v2h-1zm1 38h1v2h-1zm2 8h1v2h-1zm1-40h1v2h-1zm0 91h1v1h-1zm1-32h1v2h-1zm1-42h1v2h-1zm1 0h1v1h-1zm1 42h1v2h-1zm1-59h1v2h-1zm0 91h1v1h-1zm1-51h1v2h-1zm2-8h1v2h-1zm1-38h1v2h-1zm0 93h1v1h-1zm1-36h1v2h-1zm1-41h1v1h-1zm1 14h1v2h-1zm1 42h1v2h-1zm1-59h1v1h-1zm0 87h1v1h-1zm1-46h1v2h-1zm1 18h1v2h-1zm1-41h1v1h-1zm1-36h1v1h-1zm0 93h1v1h-1zm1-38h1v1h-1zm2-12h1v2h-1zm1 41h1v1h-1zm1-59h1v1h-1zm1 42h1v1h-1zm1 3h1v2h-1zm1-42h1v2h-1zm1-32h1v1h-1zm0 91h1v1h-1zm1-40h1v2h-1zm1-29h1v1h-1zm1 33h1v2h-1zm1-53h1v1h-1zm0 92h1v1h-1zm1-58h1v2h-1zm1 42h1v2h-1zm1-12h1v2h-1zm1-41h1v1h-1zm1 59h1v2h-1zm1-41h1v2h-1zm2 20h1v2h-1zm1-56h1v1h-1zm0 92h1v1h-1zm1-55h1v2h-1zm1 39h1v1h-1zm1-24h1v2h-1zm1-41h1v2h-1zm1 59h1v2h-1zm1-42h1v2h-1zm1-44h1v1h-1zm0 37h1v2h-1zm1 42h1v2h-1zm1-57h1v1h-1zm0 91h1v1h-1zm1-52h1v1h-1zm2-1h1v2h-1zm2 19h1v2h-1zm1-42h1v2h-1z"/>
<path fill-opacity=".5" d="m41 39h1v1h-1zm6 34h1v1h-1zm3-17h1v1h-1zm2 67h1v1h-1zm1-57h1v1h-1zm1 42h1v1h-1zm4-26h1v1h-1zm3-44h1v1h-1zm0 91h1v1h-1zm2-14h1v1h-1zm1-15h1v1h-1zm2-70h1v1h-1zm3 68h1v1h-1zm1-55h1v1h-1zm2 105h1v1h-1zm6-121h1v1h-1zm1 22h1v1h-1zm2 99h1v1h-1zm2-12h1v1h-1zm3-65h1v1h-1zm1-42h1v1h-1zm0 84h1v1h-1zm2-16h1v1h-1zm1 20h1v1h-1zm2 14h1v1h-1zm4-99h1v1h-1zm0 88h1v1h-1zm4-51h1v1h-1zm5-33h1v1h-1zm1 34h1v1h-1zm1 42h1v1h-1zm3 7h1v1h-1zm6-2h1v1h-1zm3-5h1v1h-1zm1-42h1v1h-1zm5 78h1v1h-1zm1-60h1v1h-1zm1-40h1v1h-1zm0 90h1v1h-1zm7 10h1v1h-1zm1-68h1v1h-1zm2 17h1v1h-1zm6 17h1v1h-1zm2 14h1v1h-1zm1-39h1v1h-1zm3-55h1v1h-1zm5-1h1v1h-1zm0 89h1v1h-1zm3-31h1v1h-1zm9 8h1v1h-1zm2-17h1v1h-1zm1 35h1v1h-1zm0 31h1v1h-1zm2-8h1v1h-1zm1-32h1v1h-1zm1-42h1v1h-1zm3 73h1v1h-1zm1-49h1v1h-1zm1 58h1v1h-1zm9-31h1v1h-1zm7 28h1v1h-1zm2-35h1v1h-1zm11-79h1v1h-1zm1 46h1v1h-1zm5 71h1v1h-1zm1-53h1v1h-1zm1-41h1v1h-1zm4 49h1v1h-1zm1 34h1v1h-1zm5-33h1v1h-1zm4 37h1v1h-1zm2 7h1v1h-1zm4-92h1v1h-1zm3 4h1v1h-1zm0 84h1v1h-1zm1-42h1v1h-1zm6-18h1v1h-1zm1 40h1v1h-1zm1 22h1v1h-1zm3-82h1v1h-1zm6 11h1v1h-1zm3 68h1v1h-1zm3-85h1v1h-1zm2 77h1v1h-1zm2 13h1v1h-1zm5-83h1v1h-1zm4 83h1v1h-1zm2-13h1v1h-1zm2-77h1v1h-1zm6 17h1v1h-1zm1-36h1v1h-1zm0 91h1v1h-1zm1-38h1v1h-1zm4-28h1v1h-1zm1 42h1v1h-1zm2 40h1v1h-1zm2-62h1v1h-1zm6 18h1v1h-1zm1-42h1v1h-1zm0 84h1v1h-1zm3-88h1v1h-1zm1 40h1v1h-1zm5 45h1v1h-1zm1-113h1v1h-1zm5 59h1v1h-1zm1 61h1v1h-1z"/>
<path fill-opacity=".516" d="m43 116h1v1h-1zm3-1h1v1h-1zm2-77h1v1h-1zm11 18h1v1h-1zm1 34h1v1h-1zm7-16h1v1h-1zm3 60h1v1h-1zm4 6h1v1h-1zm10-39h1v1h-1zm1-76h1v1h-1zm0 34h1v1h-1zm3 83h1v1h-1zm3 5h1v1h-1zm1-107h1v1h-1zm6 65h1v1h-1zm1 6h1v1h-1zm2 14h1v1h-1zm4 1h1v1h-1zm9-85h1v1h-1zm1 37h1v1h-1zm2 18h1v1h-1zm5 6h1v1h-1zm3 15h1v1h-1zm6-89h1v1h-1zm3 89h1v1h-1zm2 16h1v1h-1zm1-107h1v1h-1zm2 49h1v1h-1zm9 8h1v1h-1zm2-16h1v1h-1zm1 42h1v1h-1zm1-2h1v1h-1zm1-42h1v1h-1zm2 16h1v1h-1zm5 35h1v1h-1zm2 27h1v1h-1zm1-113h1v1h-1zm0 85h1v1h-1zm2-58h1v1h-1zm6-6h1v1h-1zm3 13h1v1h-1zm5 20h1v1h-1zm1-39h1v1h-1zm6 53h1v1h-1zm2-22h1v1h-1zm3-20h1v1h-1zm6 90h1v1h-1zm1-111h1v1h-1zm2 21h1v1h-1zm3 15h1v1h-1zm1 42h1v1h-1zm1-10h1v1h-1zm1-42h1v1h-1zm0 83h1v1h-1zm1-26h1v1h-1zm2-62h1v1h-1zm1 39h1v1h-1zm6 16h1v1h-1zm1-42h1v1h-1zm1-44h1v1h-1zm0 36h1v1h-1zm2-14h1v1h-1zm2 101h1v1h-1zm11-106h1v1h-1zm1 54h1v1h-1zm2-20h1v1h-1zm1-45h1v1h-1zm5 6h1v1h-1zm8 108h1v1h-1zm1-112h1v1h-1zm0 88h1v1h-1zm4-82h1v1h-1zm4 18h1v1h-1zm6 26h1v1h-1zm2 8h1v1h-1zm2 16h1v1h-1zm1-42h1v1h-1zm2 42h1v1h-1zm2-16h1v1h-1zm2-8h1v1h-1zm6-26h1v1h-1zm7 23h1v1h-1zm1-47h1v1h-1zm0 88h1v1h-1zm1 24h1v1h-1zm4-21h1v1h-1zm3-36h1v1h-1zm1-51h1v1h-1zm5-6h1v1h-1zm1 45h1v1h-1zm3-34h1v1h-1zm13 95h1v1h-1zm1-34h1v1h-1zm1-42h1v1h-1z"/>
<path fill-opacity=".531" d="m42 74h1v1h-1zm2-15h1v1h-1zm0 84h1v1h-1zm1-42h1v1h-1zm3 27h1v1h-1zm2-73h1v1h-1zm1 27h1v1h-1zm1-48h1v1h-1zm3 74h1v1h-1zm1-42h1v1h-1zm1-32h1v1h-1zm0 88h1v1h-1zm2-67h1v1h-1zm3 19h1v1h-1zm3 69h1v1h-1zm3-87h1v1h-1zm6-4h1v1h-1zm1-24h1v1h-1zm1 38h1v1h-1zm1-3h1v1h-1zm5 22h1v1h-1zm6-29h1v1h-1zm3 21h1v1h-1zm2 16h1v1h-1zm1-38h1v1h-1zm3 8h1v1h-1zm3 83h1v1h-1zm2-61h1v1h-1zm6 19h1v1h-1zm1-42h1v1h-1zm0 82h1v1h-1zm1-112h1v1h-1zm3 62h1v1h-1zm2 53h1v1h-1zm1-29h1v1h-1zm2-63h1v1h-1zm1-26h1v1h-1zm2 31h1v1h-1zm3 26h1v1h-1zm1 32h1v1h-1zm3-91h1v1h-1zm0 77h1v1h-1zm1-42h1v1h-1zm3-9h1v1h-1zm1 41h1v1h-1zm1 24h1v1h-1zm6-87h1v1h-1zm1 29h1v1h-1zm8 63h1v1h-1zm4 22h1v1h-1zm5-106h1v1h-1zm0 90h1v1h-1zm4-71h1v1h-1zm2 15h1v1h-1zm3-29h1v1h-1zm0 90h1v1h-1zm3-42h1v1h-1zm5 14h1v1h-1zm1-56h1v1h-1zm4 85h1v1h-1zm1-35h1v1h-1zm1-75h1v1h-1zm3 117h1v1h-1zm4-102h1v1h-1zm0 90h1v1h-1zm2-75h1v1h-1zm1 24h1v1h-1zm1 41h1v1h-1zm2-14h1v1h-1zm5-51h1v1h-1zm1 32h1v1h-1zm8-32h1v1h-1zm2 77h1v1h-1zm1-53h1v1h-1zm3 62h1v1h-1zm9-93h1v1h-1zm0 89h1v1h-1zm3-69h1v1h-1zm1 42h1v1h-1zm7-55h1v1h-1zm2 62h1v1h-1zm4-45h1v1h-1zm1 55h1v1h-1zm1-39h1v1h-1zm3-53h1v1h-1zm1 33h1v1h-1zm5 12h1v1h-1zm5 37h1v1h-1zm1-18h1v1h-1zm2-69h1v1h-1zm0 84h1v1h-1zm2-89h1v1h-1zm4 92h1v2h-1zm2 22h1v1h-1zm5 0h1v1h-1zm2-22h1v2h-1zm5-45h1v1h-1zm1 42h1v1h-1zm2-15h1v1h-1zm1 18h1v1h-1zm10-49h1v1h-1zm1-33h1v1h-1zm4 92h1v1h-1zm1-55h1v1h-1zm6-17h1v1h-1zm1-29h1v1h-1zm7 42h1v1h-1zm3-20h1v1h-1zm0 89h1v1h-1z"/>
<path fill-opacity=".547" d="m41 38h1v1h-1zm1 35h1v1h-1zm1-42h1v1h-1zm0 83h1v2h-1zm1-54h1v1h-1zm1 42h1v1h-1zm1 14h1v1h-1zm1-42h1v2h-1zm1-35h1v1h-1zm0 88h1v1h-1zm1-39h1v2h-1zm2-8h1v2h-1zm1 41h1v2h-1zm1-54h1v2h-1zm1 42h1v2h-1zm1 0h1v1h-1zm1-42h1v1h-1zm1 54h1v1h-1zm1-41h1v2h-1zm2 8h1v2h-1zm1-49h1v1h-1zm0 88h1v2h-1zm1-52h1v2h-1zm1 41h1v2h-1zm1-15h1v2h-1zm1-42h1v2h-1zm1 55h1v2h-1zm1-42h1v2h-1zm1-17h1v1h-1zm1 41h1v2h-1zm1-52h1v1h-1zm0 89h1v1h-1zm1-51h1v2h-1zm2 11h1v2h-1zm1-40h1v1h-1zm0 86h1v1h-1zm1-32h1v2h-1zm1-42h1v1h-1zm1-3h1v1h-1zm1 42h1v2h-1zm1-54h1v1h-1zm0 88h1v1h-1zm1-48h1v2h-1zm2-4h1v1h-1zm1-40h1v2h-1zm0 89h1v1h-1zm1-36h1v2h-1zm1-41h1v1h-1zm1 11h1v2h-1zm1 42h1v2h-1zm1-54h1v1h-1zm1 41h1v2h-1zm2-20h1v2h-1zm1-37h1v1h-1zm0 89h1v1h-1zm1-39h1v2h-1zm2-14h1v2h-1zm1-44h1v1h-1zm0 85h1v2h-1zm1-54h1v1h-1zm1 42h1v2h-1zm1 6h1v2h-1zm1-42h1v2h-1zm1-34h1v1h-1zm0 88h1v1h-1zm1-41h1v2h-1zm1-28h1v1h-1zm1 30h1v2h-1zm1-48h1v1h-1zm0 88h1v1h-1zm1-54h1v2h-1zm1 42h1v2h-1zm1-8h1v1h-1zm1-42h1v1h-1zm1 54h1v2h-1zm1-41h1v2h-1zm2 16h1v2h-1zm1-50h1v1h-1zm0 89h1v1h-1zm1-52h1v2h-1zm2 18h1v2h-1zm1-41h1v1h-1zm0 85h1v1h-1zm1-31h1v2h-1zm1-42h1v2h-1zm1-9h1v1h-1zm1 41h1v2h-1zm1-53h1v2h-1zm0 89h1v1h-1zm1-49h1v2h-1zm2 2h1v2h-1zm1-40h1v2h-1zm0 88h1v1h-1zm1-34h1v1h-1zm1-42h1v1h-1zm1 5h1v2h-1zm1 42h1v2h-1zm1-54h1v1h-1zm0 86h1v1h-1zm1-45h1v1h-1zm2-14h1v2h-1zm1-38h1v2h-1zm0 89h1v1h-1zm1-37h1v2h-1zm1-70h1v1h-1zm1 48h1v2h-1zm1 42h1v2h-1zm1-54h1v1h-1zm0 82h1v1h-1zm1-41h1v2h-1zm1 13h1v2h-1zm1-42h1v2h-1zm1-35h1v1h-1zm0 89h1v1h-1zm1-40h1v2h-1zm2-6h1v2h-1zm1-46h1v1h-1zm0 87h1v1h-1zm1-54h1v2h-1zm1 42h1v2h-1zm1-2h1v2h-1zm1-42h1v2h-1zm1-32h1v1h-1zm0 86h1v2h-1zm1-41h1v2h-1zm1-24h1v1h-1zm1 34h1v2h-1zm1 39h1v1h-1zm1-53h1v2h-1zm1 42h1v1h-1zm1-17h1v2h-1zm1-41h1v1h-1zm1 54h1v2h-1zm1-42h1v2h-1zm1-46h1v1h-1zm0 31h1v1h-1zm1 41h1v2h-1zm1-52h1v1h-1zm1 38h1v2h-1zm1 35h1v1h-1zm1-25h1v2h-1zm1-41h1v1h-1zm0 87h1v1h-1zm1-33h1v2h-1zm1-42h1v2h-1zm1-1h1v1h-1zm1 42h1v1h-1zm1-54h1v1h-1zm0 87h1v1h-1zm1-47h1v2h-1zm2-6h1v2h-1zm1-39h1v1h-1zm1 52h1v2h-1zm1-41h1v2h-1zm1 13h1v2h-1zm1-40h1v1h-1zm0 82h1v2h-1zm1-55h1v2h-1zm1 42h1v2h-1zm2-22h1v2h-1zm1-36h1v1h-1zm0 88h1v1h-1zm1-38h1v2h-1zm2-13h1v1h-1zm1-45h1v1h-1zm0 86h1v1h-1zm1-55h1v2h-1zm1 43h1v1h-1zm1 4h1v2h-1zm1-42h1v2h-1zm1-33h1v1h-1zm0 87h1v2h-1zm1-40h1v2h-1zm2 2h1v2h-1zm1-48h1v1h-1zm0 88h1v2h-1zm1-53h1v2h-1zm1 42h1v1h-1zm1-10h1v2h-1zm1-42h1v2h-1zm1-30h1v1h-1zm0 85h1v1h-1zm1-42h1v2h-1zm2 18h1v2h-1zm1-51h1v1h-1zm0 89h1v1h-1zm1-51h1v1h-1zm0 67h1v1h-1zm2-51h1v2h-1zm1-41h1v2h-1zm1-26h1v1h-1zm0 80h1v2h-1zm1-42h1v2h-1zm1-8h1v2h-1zm1 42h1v2h-1zm1-53h1v1h-1zm0 88h1v1h-1zm1-49h1v2h-1zm2 1h1v2h-1zm1-39h1v1h-1zm1-22h1v1h-1zm0 75h1v2h-1zm1-42h1v2h-1zm1 7h1v1h-1zm1 42h1v1h-1zm1-55h1v2h-1zm0 86h1v1h-1zm1-45h1v2h-1zm1 23h1v1h-1zm1-38h1v2h-1zm1-37h1v1h-1zm0 89h1v1h-1zm1-106h1v1h-1zm0 68h1v2h-1zm1-69h1v1h-1zm1 49h1v2h-1zm1 42h1v1h-1zm1-55h1v2h-1zm1 42h1v2h-1zm1 11h1v2h-1zm1-41h1v2h-1zm1-35h1v1h-1zm0 88h1v1h-1zm1-40h1v2h-1zm1-31h1v1h-1zm1 27h1v2h-1zm1 41h1v1h-1zm1-54h1v1h-1zm1 41h1v2h-1zm1-3h1v2h-1zm1-42h1v2h-1zm1 55h1v1h-1zm1-42h1v2h-1zm2 12h1v2h-1zm1-50h1v1h-1zm0 89h1v1h-1zm1-53h1v2h-1zm1 42h1v1h-1zm1-18h1v2h-1zm1-42h1v2h-1zm0 84h1v1h-1zm1-29h1v1h-1zm1-42h1v2h-1zm1-15h1v2h-1zm1 42h1v2h-1zm1-53h1v2h-1zm0 89h1v1h-1zm1-50h1v2h-1zm2 8h1v2h-1zm1-41h1v2h-1zm1 54h1v2h-1zm1-42h1v2h-1zm1 0h1v2h-1zm1 42h1v2h-1zm1-54h1v2h-1zm1 41h1v2h-1zm2-8h1v2h-1zm1-39h1v2h-1zm0 89h1v1h-1zm1-36h1v2h-1zm1-42h1v2h-1zm1 15h1v1h-1zm1-41h1v1h-1zm0 83h1v1h-1zm1-55h1v2h-1zm0 84h1v1h-1zm1-42h1v2h-1zm1 18h1v1h-1zm1-42h1v2h-1zm1-36h1v1h-1zm0 89h1v1h-1zm1-39h1v2h-1zm1-35h1v1h-1zm1 23h1v2h-1zm1 42h1v1h-1zm1-55h1v2h-1zm1 42h1v2h-1zm1 3h1v2h-1zm1-41h1v1h-1zm1 54h1v1h-1zm1-41h1v2h-1zm1-27h1v1h-1zm1 31h1v2h-1zm1-48h1v1h-1zm0 88h1v1h-1zm1-53h1v1h-1zm1 41h1v2h-1zm1-11h1v2h-1zm1-42h1v2h-1zm1 55h1v2h-1zm1-42h1v2h-1zm1-49h1v1h-1zm1 69h1v2h-1zm1-51h1v1h-1zm0 89h1v1h-1zm1-52h1v2h-1zm1 38h1v1h-1zm1-23h1v2h-1zm1-41h1v2h-1zm0 86h1v1h-1zm1-31h1v2h-1zm1-42h1v1h-1zm1-7h1v2h-1zm1-33h1v1h-1zm0 75h1v2h-1zm1-53h1v1h-1zm1 39h1v2h-1zm2-1h1v2h-1zm1 49h1v1h-1zm1-35h1v2h-1zm1-42h1v2h-1z"/>
<path fill-opacity=".562" d="m42 72h1v1h-1zm2-11h1v1h-1zm1 42h1v1h-1zm1 14h1v1h-1zm3-30h1v1h-1zm1-62h1v1h-1zm2 10h1v1h-1zm1 110h1v1h-1zm2-35h1v1h-1zm1-42h1v1h-1zm0 77h1v1h-1zm10-114h1v1h-1zm4 14h1v1h-1zm1 39h1v1h-1zm2 11h1v1h-1zm3-31h1v1h-1zm3-13h1v1h-1zm2 67h1v1h-1zm1-31h1v1h-1zm3-30h1v1h-1zm5 61h1v1h-1zm4-93h1v1h-1zm3 40h1v1h-1zm0 79h1v1h-1zm6-119h1v1h-1zm1 59h1v1h-1zm2 62h1v1h-1zm2-40h1v1h-1zm1-42h1v1h-1zm2 11h1v1h-1zm1-50h1v1h-1zm0 30h1v1h-1zm2 75h1v1h-1zm7-72h1v1h-1zm7 44h1v1h-1zm5-6h1v1h-1zm11-21h1v1h-1zm1 51h1v1h-1zm2-101h1v1h-1zm0 30h1v1h-1zm9-30h1v1h-1zm2 15h1v1h-1zm2 78h1v1h-1zm1-16h1v1h-1zm1-42h1v1h-1zm0 82h1v1h-1zm3-87h1v1h-1zm2 78h1v1h-1zm4-80h1v1h-1zm1-25h1v1h-1zm2 34h1v1h-1zm1 42h1v1h-1zm3 14h1v1h-1zm2 16h1v1h-1zm10-44h1v1h-1zm1-65h1v1h-1zm1 52h1v1h-1zm3 31h1v1h-1zm4-26h1v1h-1zm1-57h1v1h-1zm2 13h1v1h-1zm2 77h1v1h-1zm3 1h1v1h-1zm2-91h1v1h-1zm1 1h1v1h-1zm1 17h1v1h-1zm1 38h1v1h-1zm1 37h1v1h-1zm6-91h1v1h-1zm1 22h1v1h-1zm1 40h1v1h-1zm1 29h1v1h-1zm2 18h1v1h-1zm3-70h1v1h-1zm1 42h1v1h-1zm4-26h1v1h-1zm0 65h1v1h-1zm1-16h1v1h-1zm11-106h1v1h-1zm2 97h1v1h-1zm1-52h1v1h-1zm4-36h1v1h-1zm0 85h1v1h-1zm2-94h1v1h-1zm0 30h1v1h-1zm2 73h1v1h-1zm5-16h1v1h-1zm1-42h1v1h-1zm2 27h1v1h-1zm5 41h1v1h-1zm4-110h1v1h-1zm1 110h1v1h-1zm5-41h1v1h-1zm2-27h1v1h-1zm1 42h1v1h-1zm7-87h1v1h-1zm2 9h1v1h-1zm0 85h1v1h-1zm3-7h1v1h-1zm1-42h1v1h-1zm1 52h1v1h-1zm2-97h1v1h-1zm3 49h1v1h-1zm3 69h1v1h-1zm1-111h1v1h-1zm4 99h1v1h-1zm1-49h1v1h-1zm4-53h1v1h-1zm1 37h1v1h-1zm3 70h1v1h-1zm2-18h1v1h-1zm1-29h1v1h-1z"/>
<path fill-opacity=".578" d="m41 37h1v1h-1zm6 39h1v1h-1zm10-41h1v1h-1zm0 85h1v1h-1zm1-41h1v1h-1zm1-54h1v1h-1zm5 78h1v1h-1zm1-42h1v1h-1zm7 57h1v1h-1zm2-64h1v1h-1zm1 52h1v1h-1zm2-45h1v1h-1zm1 42h1v1h-1zm1 34h1v1h-1zm1-45h1v1h-1zm3 42h1v1h-1zm4-104h1v1h-1zm1 28h1v1h-1zm0 83h1v1h-1zm4-99h1v1h-1zm0 87h1v1h-1zm3-53h1v1h-1zm6-39h1v1h-1zm0 86h1v1h-1zm4 1h1v1h-1zm8-98h1v1h-1zm5 31h1v1h-1zm4-30h1v1h-1zm1 108h1v1h-1zm6-75h1v1h-1zm1 5h1v1h-1zm1-36h1v1h-1zm0 78h1v1h-1zm1-52h1v1h-1zm3 28h1v1h-1zm2 11h1v1h-1zm1-39h1v1h-1zm3 7h1v1h-1zm1 42h1v1h-1zm3-65h1v1h-1zm1 47h1v1h-1zm3 35h1v1h-1zm1 24h1v1h-1zm9-68h1v1h-1zm4-46h1v1h-1zm3 65h1v1h-1zm2-11h1v1h-1zm5-22h1v1h-1zm3-11h1v1h-1zm4-5h1v1h-1zm2 9h1v1h-1zm1 13h1v1h-1zm1 42h1v1h-1zm3 7h1v1h-1zm6 0h1v1h-1zm1-52h1v1h-1zm0 78h1v1h-1zm3-73h1v1h-1zm6 75h1v1h-1zm5-72h1v1h-1zm6 24h1v1h-1zm1 42h1v1h-1zm8-50h1v1h-1zm2 11h1v1h-1zm3-72h1v1h-1zm2 68h1v1h-1zm3-53h1v1h-1zm4-12h1v1h-1zm0 83h1v1h-1zm1 28h1v1h-1zm2-27h1v1h-1zm5-35h1v1h-1zm1-45h1v1h-1zm2 76h1v1h-1zm1-3h1v1h-1zm5-20h1v1h-1zm2-11h1v1h-1zm8 55h1v1h-1zm5-105h1v1h-1zm16 50h1v1h-1zm1 50h1v1h-1zm1-39h1v1h-1zm8-53h1v1h-1zm1 45h1v1h-1zm3 44h1v1h-1zm2-9h1v1h-1zm3-1h1v1h-1zm5 32h1v1h-1zm2-50h1v1h-1zm2 11h1v1h-1zm3-7h1v1h-1zm2-11h1v1h-1z"/>
<path fill-opacity=".594" d="m44 142h1v1h-1zm4-16h1v1h-1zm4-6h1v1h-1zm1-51h1v1h-1zm8-29h1v1h-1zm2 78h1v1h-1zm2 24h1v1h-1zm1-29h1v1h-1zm1-42h1v1h-1zm2 24h1v1h-1zm1 37h1v1h-1zm2-13h1v1h-1zm9 0h1v1h-1zm3-21h1v1h-1zm2-30h1v1h-1zm1 42h1v1h-1zm2-10h1v1h-1zm1 19h1v1h-1zm3-93h1v1h-1zm1 28h1v1h-1zm6 18h1v1h-1zm3-18h1v1h-1zm2-16h1v1h-1zm1 35h1v1h-1zm4-40h1v1h-1zm0 83h1v1h-1zm2-62h1v1h-1zm2-11h1v1h-1zm3 56h1v1h-1zm1 41h1v1h-1zm1-110h1v1h-1zm0 79h1v1h-1zm1-42h1v1h-1zm6 24h1v1h-1zm1 45h1v1h-1zm5 3h1v1h-1zm3 8h1v1h-1zm3-93h1v1h-1zm2-22h1v1h-1zm0 82h1v1h-1zm3 3h1v1h-1zm4-63h1v1h-1zm1 26h1v1h-1zm1-44h1v1h-1zm6 42h1v1h-1zm1-24h1v1h-1zm1 34h1v1h-1zm1 39h1v1h-1zm9-81h1v1h-1zm2 73h1v1h-1zm2 19h1v1h-1zm1-33h1v1h-1zm3-77h1v1h-1zm1 109h1v1h-1zm1-44h1v1h-1zm1 26h1v1h-1zm7-60h1v1h-1zm0 82h1v1h-1zm1-40h1v1h-1zm1 18h1v1h-1zm1-40h1v1h-1zm5-45h1v1h-1zm3 79h1v1h-1zm10 30h1v1h-1zm5-13h1v1h-1zm2-11h1v1h-1zm6-19h1v1h-1zm1 35h1v1h-1zm2-16h1v1h-1zm2-69h1v1h-1zm2 9h1v1h-1zm3-3h1v1h-1zm2 63h1v1h-1zm3-26h1v1h-1zm1-39h1v1h-1zm1 19h1v1h-1zm2-10h1v1h-1zm1 42h1v1h-1zm2 41h1v1h-1zm1-107h1v1h-1zm0 86h1v1h-1zm1-40h1v1h-1zm1-31h1v1h-1zm6 13h1v1h-1zm3-13h1v1h-1zm2-13h1v1h-1zm5-10h1v1h-1zm2 24h1v1h-1zm3 31h1v1h-1zm2 8h1v1h-1zm1-41h1v1h-1zm2 9h1v1h-1zm1 0h1v1h-1zm2-9h1v1h-1zm1 41h1v1h-1zm2-8h1v1h-1zm1 47h1v1h-1zm4-102h1v1h-1zm5 10h1v1h-1zm2 13h1v1h-1zm3 13h1v1h-1zm0 77h1v1h-1zm1-35h1v1h-1zm5-55h1v1h-1zm1 31h1v1h-1zm1-46h1v1h-1zm1 107h1v1h-1zm2-41h1v1h-1zm1-42h1v1h-1zm2 10h1v1h-1zm1-19h1v1h-1zm1 39h1v1h-1zm1-49h1v1h-1zm2 75h1v1h-1zm2-63h1v1h-1zm3 3h1v1h-1zm2-9h1v1h-1zm2 69h1v1h-1zm2 16h1v1h-1zm1-35h1v1h-1z"/>
<path fill-opacity=".609" d="m42 70h1v2h-1zm1-38h1v1h-1zm0 80h1v2h-1zm1-50h1v2h-1zm1 42h1v2h-1zm1 14h1v2h-1zm1-41h1v2h-1zm1-37h1v1h-1zm0 85h1v1h-1zm1-40h1v2h-1zm1-31h1v1h-1zm1 24h1v2h-1zm1-42h1v1h-1zm0 83h1v1h-1zm1-49h1v1h-1zm1 41h1v2h-1zm1 0h1v2h-1zm1-42h1v2h-1zm1-33h1v1h-1zm0 83h1v1h-1zm1-42h1v2h-1zm1-23h1v1h-1zm1 32h1v2h-1zm1-45h1v1h-1zm0 84h1v2h-1zm1-48h1v2h-1zm1 42h1v1h-1zm1-15h1v2h-1zm1-42h1v1h-1zm1-30h1v1h-1zm0 80h1v1h-1zm1-42h1v1h-1zm1-16h1v1h-1zm1 39h1v2h-1zm1-47h1v1h-1zm0 85h1v1h-1zm1-46h1v2h-1zm0 62h1v1h-1zm2-51h1v2h-1zm1-41h1v1h-1zm0 83h1v1h-1zm1-109h1v1h-1zm0 75h1v2h-1zm1-42h1v2h-1zm1-3h1v2h-1zm1-31h1v1h-1zm0 73h1v2h-1zm1-49h1v2h-1zm0 84h1v1h-1zm1-43h1v2h-1zm2-5h1v2h-1zm1-40h1v2h-1zm0 85h1v1h-1zm1-106h1v1h-1zm0 70h1v1h-1zm1-42h1v2h-1zm1 12h1v1h-1zm1 42h1v1h-1zm1-50h1v2h-1zm1 42h1v2h-1zm2-21h1v2h-1zm1-37h1v1h-1zm0 85h1v1h-1zm1-39h1v2h-1zm2-15h1v2h-1zm1-40h1v1h-1zm0 82h1v2h-1zm1-50h1v2h-1zm1 42h1v2h-1zm1 6h1v2h-1zm1-41h1v1h-1zm1-35h1v1h-1zm0 84h1v1h-1zm1-41h1v2h-1zm2 1h1v2h-1zm1 41h1v1h-1zm1-49h1v2h-1zm1 41h1v2h-1zm1-8h1v2h-1zm1-42h1v2h-1zm0 78h1v1h-1zm1-28h1v1h-1zm1-42h1v2h-1zm2 17h1v2h-1zm1-46h1v1h-1zm0 85h1v1h-1zm1-48h1v2h-1zm1 38h1v1h-1zm1-19h1v1h-1zm1-42h1v2h-1zm1 50h1v1h-1zm1-42h1v1h-1zm1-10h1v2h-1zm1 42h1v2h-1zm1-49h1v2h-1zm0 85h1v1h-1zm1-45h1v2h-1zm1 30h1v1h-1zm1-27h1v2h-1zm1-41h1v2h-1zm1 49h1v2h-1zm1-42h1v2h-1zm1 5h1v2h-1zm1 42h1v2h-1zm1-49h1v1h-1zm1 41h1v2h-1zm1 22h1v1h-1zm1-35h1v2h-1zm1-39h1v2h-1zm0 85h1v2h-1zm1-38h1v2h-1zm2-21h1v2h-1zm1 42h1v1h-1zm1-50h1v2h-1zm0 79h1v1h-1zm1-37h1v2h-1zm1 13h1v1h-1zm1-42h1v2h-1zm0 70h1v1h-1zm1-106h1v1h-1zm0 85h1v1h-1zm1-41h1v2h-1zm2-6h1v2h-1zm1 42h1v1h-1zm1-50h1v2h-1zm1 42h1v2h-1zm1-2h1v2h-1zm1-42h1v2h-1zm1-33h1v1h-1zm0 83h1v2h-1zm1-42h1v2h-1zm2 10h1v2h-1zm1-45h1v1h-1zm0 85h1v1h-1zm1-48h1v2h-1zm2 25h1v2h-1zm1-42h1v2h-1zm1 50h1v2h-1zm1-42h1v2h-1zm1-15h1v1h-1zm1 40h1v2h-1zm1-47h1v1h-1zm0 85h1v1h-1zm1-46h1v2h-1zm2 9h1v2h-1zm1-41h1v2h-1zm1 50h1v1h-1zm1-43h1v2h-1zm1-1h1v2h-1zm1 42h1v2h-1zm1-49h1v1h-1zm1 41h1v2h-1zm2-7h1v2h-1zm1-39h1v1h-1zm0 85h1v1h-1zm1-37h1v2h-1zm1-41h1v1h-1zm1 12h1v2h-1zm1-36h1v1h-1zm0 79h1v1h-1zm1-50h1v1h-1zm1 42h1v1h-1zm2-22h1v2h-1zm1-38h1v1h-1zm0 85h1v2h-1zm1-101h1v1h-1zm0 62h1v2h-1zm1-34h1v1h-1zm1 21h1v2h-1zm1 42h1v1h-1zm1-50h1v2h-1zm1 42h1v2h-1zm1 5h1v1h-1zm1-42h1v2h-1zm1-35h1v1h-1zm0 84h1v2h-1zm1-41h1v2h-1zm1-26h1v1h-1zm1 29h1v2h-1zm1-44h1v1h-1zm0 84h1v2h-1zm1-49h1v2h-1zm1 42h1v2h-1zm1-10h1v2h-1zm1-42h1v2h-1zm1-31h1v1h-1zm0 81h1v2h-1zm1-42h1v2h-1zm1-18h1v1h-1zm1 37h1v2h-1zm1-47h1v1h-1zm0 85h1v1h-1zm1-47h1v2h-1zm2 17h1v2h-1zm1-42h1v2h-1zm0 82h1v1h-1zm1-32h1v2h-1zm1-42h1v2h-1zm1-8h1v2h-1zm1 41h1v2h-1zm1-48h1v1h-1zm1 40h1v2h-1zm2 1h1v2h-1zm1-40h1v1h-1zm0 84h1v1h-1zm1-36h1v2h-1zm1-41h1v1h-1zm1 6h1v2h-1zm1 42h1v2h-1zm1-49h1v1h-1zm0 82h1v1h-1zm1-41h1v2h-1zm2-15h1v2h-1zm1-38h1v1h-1zm0 85h1v1h-1zm1-39h1v2h-1zm2-19h1v1h-1zm1 41h1v2h-1zm1-49h1v1h-1zm1 42h1v1h-1zm1 11h1v1h-1zm1-42h1v2h-1zm1 49h1v1h-1zm1-40h1v1h-1zm2-5h1v2h-1zm1-42h1v1h-1zm0 83h1v2h-1zm1-49h1v2h-1zm0 74h1v1h-1zm1-32h1v2h-1zm1-3h1v2h-1zm1-42h1v1h-1zm0 76h1v1h-1zm1-109h1v1h-1zm0 82h1v2h-1zm1-41h1v2h-1zm2 11h1v2h-1zm1-45h1v1h-1zm0 85h1v1h-1zm1-48h1v2h-1zm2 23h1v2h-1zm1-42h1v2h-1zm0 81h1v1h-1zm1-31h1v2h-1zm1-42h1v2h-1zm1-14h1v1h-1zm1 41h1v2h-1zm1-48h1v2h-1zm0 85h1v1h-1zm1-45h1v2h-1zm2 8h1v1h-1zm1-41h1v1h-1zm0 83h1v1h-1zm1-34h1v2h-1zm1-42h1v1h-1zm1 0h1v1h-1zm1 42h1v2h-1zm1-49h1v1h-1zm0 83h1v1h-1zm1-42h1v1h-1zm2-8h1v2h-1zm1-40h1v2h-1zm0 85h1v1h-1zm1-37h1v2h-1zm1-41h1v2h-1zm1 14h1v2h-1zm1 42h1v2h-1zm1-50h1v2h-1zm0 81h1v1h-1zm1-39h1v2h-1zm2-23h1v2h-1zm1-37h1v1h-1zm0 85h1v1h-1zm1-40h1v2h-1zm2-11h1v2h-1zm1-41h1v1h-1zm0 82h1v2h-1zm1-49h1v1h-1zm1 42h1v1h-1zm1 3h1v2h-1zm1-42h1v2h-1zm0 74h1v1h-1zm1-108h1v1h-1zm0 83h1v2h-1zm1-41h1v2h-1zm2 4h1v2h-1zm1 41h1v1h-1zm1-49h1v2h-1zm1 42h1v1h-1zm1-11h1v1h-1zm1-42h1v1h-1zm1 50h1v1h-1zm1-42h1v1h-1zm2 19h1v2h-1zm1-46h1v1h-1zm0 85h1v1h-1zm1-47h1v2h-1zm2 15h1v2h-1zm1-41h1v1h-1zm0 82h1v1h-1zm1-33h1v2h-1zm1-42h1v2h-1zm1-6h1v1h-1zm1 41h1v2h-1zm1-48h1v1h-1zm0 84h1v1h-1zm1-44h1v2h-1zm2-1h1v2h-1zm2 9h1v1h-1zm1-41h1v1h-1z"/>
<path fill-opacity=".625" d="m41 36h1v1h-1zm7 5h1v1h-1zm3 36h1v1h-1zm2-6h1v1h-1zm4 47h1v1h-1zm3-33h1v1h-1zm5-22h1v1h-1zm1 48h1v1h-1zm1-42h1v1h-1zm3-22h1v1h-1zm4 9h1v1h-1zm10 40h1v1h-1zm2-30h1v1h-1zm1-35h1v1h-1zm0 77h1v1h-1zm1 32h1v1h-1zm3-58h1v1h-1zm2 6h1v1h-1zm7-14h1v1h-1zm1 47h1v1h-1zm4-82h1v1h-1zm0 83h1v1h-1zm5-88h1v1h-1zm4 94h1v1h-1zm1-45h1v1h-1zm2 18h1v1h-1zm2 6h1v1h-1zm1-42h1v1h-1zm2 32h1v1h-1zm5 38h1v1h-1zm5-78h1v1h-1zm0 81h1v1h-1zm8-26h1v1h-1zm5 12h1v1h-1zm4-5h1v1h-1zm4 25h1v1h-1zm7-25h1v1h-1zm2 22h1v1h-1zm5-10h1v1h-1zm1 16h1v1h-1zm3-10h1v1h-1zm1-108h1v1h-1zm0 74h1v1h-1zm4-49h1v1h-1zm0 82h1v1h-1zm3-47h1v1h-1zm2-62h1v1h-1zm1 27h1v1h-1zm2 55h1v1h-1zm1-48h1v1h-1zm1 42h1v1h-1zm3-60h1v1h-1zm4-8h1v1h-1zm0 81h1v1h-1zm4 29h1v1h-1zm4-63h1v1h-1zm2-6h1v1h-1zm7 14h1v1h-1zm1-45h1v1h-1zm5-15h1v1h-1zm4 21h1v1h-1zm0 83h1v1h-1zm6-77h1v1h-1zm10 14h1v1h-1zm1-38h1v1h-1zm1 32h1v1h-1zm0 77h1v1h-1zm1-35h1v1h-1zm1 11h1v1h-1zm2-78h1v1h-1zm1 43h1v1h-1zm7-14h1v1h-1zm2 6h1v1h-1zm2-49h1v1h-1zm1 100h1v1h-1zm2-7h1v1h-1zm9 0h1v1h-1zm1-23h1v1h-1zm2 6h1v1h-1zm3 0h1v1h-1zm2-6h1v1h-1zm1 23h1v1h-1zm9 0h1v1h-1zm2 7h1v1h-1zm3-51h1v1h-1zm2-6h1v1h-1zm1 42h1v1h-1zm7-71h1v1h-1zm2 78h1v1h-1zm1-11h1v1h-1zm1-42h1v1h-1zm0 77h1v1h-1zm1-109h1v1h-1zm0 80h1v1h-1zm1-42h1v1h-1zm10-14h1v1h-1zm6 77h1v1h-1zm1-36h1v1h-1z"/>
<path fill-opacity=".641" d="m43 111h1v1h-1zm4 35h1v1h-1zm5-28h1v1h-1zm1 26h1v1h-1zm1-31h1v1h-1zm2 31h1v1h-1zm6-65h1v1h-1zm0 67h1v1h-1zm3-5h1v1h-1zm6-54h1v1h-1zm11 3h1v1h-1zm10 37h1v1h-1zm4-12h1v1h-1zm1 28h1v1h-1zm1-33h1v1h-1zm1 6h1v1h-1zm1 29h1v1h-1zm2-65h1v1h-1zm2 1h1v1h-1zm3 36h1v1h-1zm3-3h1v1h-1zm3-25h1v1h-1zm5 50h1v1h-1zm6-48h1v1h-1zm4-63h1v1h-1zm0 71h1v1h-1zm5 0h1v1h-1zm6-29h1v1h-1zm1-37h1v1h-1zm3 86h1v1h-1zm6-82h1v1h-1zm1 35h1v1h-1zm2 40h1v1h-1zm1-42h1v1h-1zm1-34h1v1h-1zm0 81h1v1h-1zm4-75h1v1h-1zm0 83h1v1h-1zm5-93h1v1h-1zm0 78h1v1h-1zm1-42h1v1h-1zm3-20h1v1h-1zm3 49h1v1h-1zm5 4h1v1h-1zm5-52h1v1h-1zm0 83h1v1h-1zm1-37h1v1h-1zm4 45h1v1h-1zm5-53h1v1h-1zm2-13h1v1h-1zm4 41h1v1h-1zm2-77h1v1h-1zm0 82h1v1h-1zm7-12h1v1h-1zm1-42h1v1h-1zm6 18h1v1h-1zm4 22h1v1h-1zm1-42h1v1h-1zm4 28h1v1h-1zm3-40h1v1h-1zm4-22h1v1h-1zm1 28h1v1h-1zm4 71h1v1h-1zm8-52h1v1h-1zm1 46h1v1h-1zm16-19h1v1h-1zm1-42h1v1h-1zm4-35h1v1h-1zm5 28h1v1h-1zm1-26h1v1h-1zm1 31h1v1h-1zm1 0h1v1h-1zm1-31h1v1h-1zm1 26h1v1h-1zm3 92h1v1h-1zm2-120h1v1h-1zm0 67h1v1h-1zm5 10h1v1h-1zm4-78h1v1h-1zm12 97h1v1h-1zm1-46h1v1h-1zm8 52h1v1h-1zm4-71h1v1h-1zm1-28h1v1h-1zm4 22h1v1h-1zm3 40h1v1h-1z"/>
<path fill-opacity=".656" d="m42 69h1v1h-1zm1-36h1v1h-1zm1 31h1v1h-1zm0 77h1v1h-1zm1-35h1v1h-1zm3 18h1v1h-1zm1-40h1v1h-1zm1-31h1v1h-1zm2-16h1v1h-1zm3 76h1v1h-1zm1-42h1v1h-1zm2 5h1v1h-1zm1-23h1v1h-1zm9 0h1v1h-1zm2 77h1v1h-1zm3-32h1v1h-1zm1 39h1v1h-1zm1-34h1v1h-1zm1-42h1v1h-1zm2 39h1v1h-1zm1 35h1v1h-1zm1-40h1v1h-1zm3-45h1v1h-1zm2 4h1v1h-1zm7-10h1v1h-1zm2 9h1v1h-1zm1 20h1v1h-1zm1-38h1v1h-1zm1 33h1v1h-1zm6-15h1v1h-1zm5 56h1v1h-1zm1-42h1v1h-1zm2 5h1v1h-1zm1-19h1v1h-1zm2-8h1v1h-1zm2 75h1v1h-1zm3-89h1v1h-1zm4 20h1v1h-1zm0 82h1v1h-1zm2-13h1v1h-1zm2-67h1v1h-1zm4-23h1v1h-1zm3 90h1v1h-1zm3-29h1v1h-1zm1-38h1v1h-1zm6 25h1v1h-1zm1-37h1v1h-1zm2 12h1v1h-1zm4 61h1v1h-1zm5-61h1v1h-1zm1-27h1v1h-1zm2 54h1v1h-1zm0 66h1v1h-1zm1-26h1v1h-1zm1-15h1v1h-1zm4-52h1v1h-1zm1 40h1v1h-1zm2-5h1v1h-1zm1 32h1v1h-1zm5-61h1v1h-1zm17-6h1v1h-1zm3 90h1v1h-1zm5-64h1v1h-1zm1-26h1v1h-1zm2-13h1v1h-1zm2 78h1v1h-1zm2 24h1v1h-1zm1-108h1v1h-1zm0 79h1v1h-1zm2-60h1v1h-1zm4 67h1v1h-1zm2-61h1v1h-1zm3-3h1v1h-1zm5 37h1v1h-1zm1 41h1v1h-1zm1-106h1v1h-1zm0 70h1v1h-1zm2-35h1v1h-1zm1 42h1v1h-1zm1 33h1v1h-1zm1-38h1v1h-1zm1 20h1v1h-1zm1-35h1v1h-1zm1-39h1v1h-1zm2 7h1v1h-1zm9 0h1v1h-1zm2 66h1v1h-1zm1-46h1v1h-1zm4-37h1v1h-1zm2 17h1v1h-1zm1 33h1v1h-1zm1-43h1v1h-1zm2 77h1v1h-1zm3-88h1v1h-1zm0 77h1v1h-1zm1-42h1v1h-1zm1-14h1v1h-1zm1 41h1v1h-1zm1 37h1v1h-1zm1 16h1v1h-1zm1-27h1v1h-1zm2 16h1v1h-1zm5 0h1v1h-1zm2-16h1v1h-1zm5-53h1v1h-1zm1-35h1v1h-1zm0 77h1v1h-1zm1-47h1v1h-1zm0 78h1v1h-1zm2-20h1v1h-1zm2-77h1v1h-1zm1 43h1v1h-1zm1-33h1v1h-1zm6 20h1v1h-1zm3-20h1v1h-1zm9 0h1v1h-1zm2-7h1v1h-1zm1 39h1v1h-1zm1 35h1v1h-1zm1-20h1v1h-1zm1 38h1v1h-1zm2-75h1v1h-1zm2-35h1v1h-1zm0 70h1v1h-1zm1 36h1v1h-1zm1-41h1v1h-1z"/>
<path fill-opacity=".672" d="m41 35h1v1h-1zm1 33h1v1h-1zm1 41h1v2h-1zm1-44h1v1h-1zm1 42h1v1h-1zm1 13h1v1h-1zm1-41h1v2h-1zm1-37h1v1h-1zm0 81h1v1h-1zm1-41h1v2h-1zm2-7h1v2h-1zm1 42h1v1h-1zm1-45h1v2h-1zm1 42h1v2h-1zm1 0h1v1h-1zm1-42h1v2h-1zm1-35h1v1h-1zm0 79h1v2h-1zm1-41h1v1h-1zm2 8h1v2h-1zm1-41h1v2h-1zm0 81h1v2h-1zm1-43h1v2h-1zm2 26h1v2h-1zm1-42h1v2h-1zm1-31h1v1h-1zm0 76h1v2h-1zm1-42h1v2h-1zm2 24h1v2h-1zm1-43h1v1h-1zm0 81h1v1h-1zm1-41h1v2h-1zm1 32h1v1h-1zm1-21h1v2h-1zm1-42h1v2h-1zm0 79h1v1h-1zm1-106h1v1h-1zm0 72h1v1h-1zm1-42h1v1h-1zm1-3h1v2h-1zm1 42h1v1h-1zm1-45h1v2h-1zm1 42h1v2h-1zm1 24h1v1h-1zm1-29h1v2h-1zm1-40h1v1h-1zm0 80h1v2h-1zm1-37h1v2h-1zm1-41h1v1h-1zm1 11h1v2h-1zm1 42h1v2h-1zm1-45h1v2h-1zm0 78h1v1h-1zm1-36h1v2h-1zm1 17h1v1h-1zm1-37h1v2h-1zm1-38h1v1h-1zm0 81h1v1h-1zm1-40h1v2h-1zm2-14h1v1h-1zm1 42h1v1h-1zm1-45h1v1h-1zm1 42h1v2h-1zm1 6h1v1h-1zm1-42h1v2h-1zm1-36h1v1h-1zm0 80h1v2h-1zm1-41h1v2h-1zm2 1h1v2h-1zm1-39h1v1h-1zm0 80h1v2h-1zm1-44h1v2h-1zm0 69h1v1h-1zm1-27h1v1h-1zm1-8h1v1h-1zm1-42h1v1h-1zm0 74h1v1h-1zm1-107h1v1h-1zm0 77h1v2h-1zm1-42h1v2h-1zm2 17h1v2h-1zm1-41h1v1h-1zm0 81h1v1h-1zm1-43h1v2h-1zm2 18h1v2h-1zm1-42h1v2h-1zm1 45h1v2h-1zm1-42h1v2h-1zm1-9h1v2h-1zm1 41h1v2h-1zm1-43h1v1h-1zm0 80h1v1h-1zm1-40h1v2h-1zm2 2h1v2h-1zm1-40h1v1h-1zm0 80h1v1h-1zm1-37h1v2h-1zm1-41h1v2h-1zm1 5h1v2h-1zm1 42h1v2h-1zm1-45h1v2h-1zm0 79h1v1h-1zm1-37h1v2h-1zm2-14h1v2h-1zm1-39h1v2h-1zm0 81h1v2h-1zm1-39h1v2h-1zm2-21h1v2h-1zm1 42h1v2h-1zm1-45h1v2h-1zm0 76h1v1h-1zm1-34h1v2h-1zm1 13h1v1h-1zm1-41h1v2h-1zm1-37h1v1h-1zm0 80h1v2h-1zm1-40h1v2h-1zm2-6h1v2h-1zm1-38h1v1h-1zm0 79h1v2h-1zm1-44h1v2h-1zm0 71h1v1h-1zm1-29h1v1h-1zm1-2h1v2h-1zm1-42h1v2h-1zm1-34h1v1h-1zm0 79h1v1h-1zm1-42h1v2h-1zm2 10h1v2h-1zm1-41h1v1h-1zm0 81h1v1h-1zm1-43h1v2h-1zm2 25h1v1h-1zm1-43h1v2h-1zm0 77h1v1h-1zm1-107h1v1h-1zm0 75h1v2h-1zm1-42h1v2h-1zm2-39h1v1h-1zm0 65h1v1h-1zm1-43h1v1h-1zm0 81h1v1h-1zm1-41h1v1h-1zm2 9h1v2h-1zm1-42h1v2h-1zm0 80h1v1h-1zm1-35h1v2h-1zm1-42h1v2h-1zm1-1h1v1h-1zm1-29h1v1h-1zm0 70h1v2h-1zm1-44h1v2h-1zm0 80h1v1h-1zm1-39h1v2h-1zm1 24h1v1h-1zm1-30h1v2h-1zm0 57h1v1h-1zm1-97h1v1h-1zm0 81h1v1h-1zm1-38h1v2h-1zm1-40h1v1h-1zm1 12h1v2h-1zm1-33h1v1h-1zm0 75h1v2h-1zm1-45h1v2h-1zm1 42h1v2h-1zm1 16h1v1h-1zm1-38h1v2h-1zm1-38h1v1h-1zm0 81h1v2h-1zm1-40h1v2h-1zm2-13h1v2h-1zm1-36h1v1h-1zm0 78h1v2h-1zm1-45h1v2h-1zm1 42h1v2h-1zm1 5h1v2h-1zm1-42h1v2h-1zm1-35h1v1h-1zm0 80h1v1h-1zm1-42h1v2h-1zm2 3h1v2h-1zm1-39h1v1h-1zm0 80h1v2h-1zm1-44h1v2h-1zm1 42h1v1h-1zm1-10h1v2h-1zm1-42h1v2h-1zm1 45h1v1h-1zm1-42h1v2h-1zm2 18h1v2h-1zm1-42h1v1h-1zm0 81h1v2h-1zm1-42h1v2h-1zm2 16h1v2h-1zm1-41h1v1h-1zm0 78h1v1h-1zm1-107h1v1h-1zm0 73h1v2h-1zm1-42h1v2h-1zm1-7h1v1h-1zm1 41h1v2h-1zm1-44h1v2h-1zm0 81h1v1h-1zm1-40h1v2h-1zm1 27h1v1h-1zm1-26h1v1h-1zm1-41h1v1h-1zm0 80h1v1h-1zm1-36h1v1h-1zm1-42h1v2h-1zm1 7h1v1h-1zm1 41h1v2h-1zm1-44h1v2h-1zm1 42h1v1h-1zm2-15h1v2h-1zm1-39h1v1h-1zm0 81h1v1h-1zm1-39h1v2h-1zm2-20h1v2h-1zm1-35h1v1h-1zm0 77h1v2h-1zm1-45h1v2h-1zm1 42h1v2h-1zm1 11h1v2h-1zm1-41h1v2h-1zm1-37h1v1h-1zm0 81h1v1h-1zm1-41h1v2h-1zm2-4h1v2h-1zm1-39h1v1h-1zm0 80h1v1h-1zm1-44h1v2h-1zm1 41h1v2h-1zm1-3h1v2h-1zm1-42h1v2h-1zm0 73h1v1h-1zm1-28h1v2h-1zm1-42h1v2h-1zm2 11h1v2h-1zm1-40h1v1h-1zm0 80h1v2h-1zm1-43h1v2h-1zm2 24h1v2h-1zm1-42h1v1h-1zm0 77h1v1h-1zm1-32h1v1h-1zm1-42h1v1h-1zm2 26h1v2h-1zm1-43h1v2h-1zm0 81h1v1h-1zm1-41h1v2h-1zm2 8h1v2h-1zm1-41h1v1h-1zm1 44h1v2h-1zm1-42h1v2h-1zm1 0h1v2h-1zm1 42h1v2h-1zm1-44h1v1h-1zm1 41h1v2h-1zm2-8h1v2h-1zm1-40h1v2h-1zm0 81h1v2h-1zm1-38h1v2h-1zm1-39h1v1h-1zm1 13h1v1h-1zm1 42h1v1h-1zm1-45h1v2h-1zm1 42h1v2h-1zm2-24h1v2h-1zm0 65h1v1h-1zm1-102h1v1h-1zm0 81h1v1h-1zm1-41h1v2h-1zm2-11h1v2h-1zm1-37h1v1h-1zm0 79h1v2h-1zm1-45h1v2h-1zm0 73h1v1h-1zm1-31h1v2h-1zm1 3h1v2h-1zm1-41h1v2h-1zm1-36h1v1h-1zm0 80h1v2h-1zm1-41h1v2h-1zm2 4h1v2h-1zm1-40h1v1h-1zm0 81h1v1h-1zm1-44h1v2h-1zm1 41h1v2h-1zm1-11h1v2h-1zm1-42h1v2h-1zm1-32h1v1h-1zm0 77h1v2h-1zm1-42h1v2h-1zm2 20h1v2h-1zm1-42h1v1h-1zm0 81h1v1h-1zm1-42h1v2h-1zm2 15h1v2h-1zm1-42h1v2h-1zm1 45h1v2h-1zm1-42h1v1h-1zm1-7h1v2h-1zm1 42h1v1h-1zm1-44h1v1h-1zm0 80h1v1h-1zm1-39h1v1h-1zm1 26h1v1h-1zm1-27h1v2h-1zm1 40h1v1h-1zm1-37h1v2h-1z"/>
<path fill-opacity=".688" d="m42 67h1v1h-1zm2-1h1v1h-1zm1 42h1v1h-1zm2-27h1v1h-1zm1-38h1v1h-1zm1-17h1v1h-1zm3 12h1v1h-1zm0 78h1v1h-1zm3-1h1v1h-1zm3-41h1v1h-1zm2-48h1v1h-1zm3 94h1v1h-1zm2 20h1v1h-1zm4-113h1v1h-1zm1 22h1v1h-1zm5 52h1v1h-1zm3-72h1v1h-1zm0 69h1v1h-1zm1 36h1v1h-1zm3 13h1v1h-1zm5-115h1v1h-1zm5 93h1v1h-1zm3-54h1v1h-1zm1-35h1v1h-1zm0 77h1v1h-1zm1-43h1v1h-1zm2 48h1v1h-1zm2-78h1v1h-1zm6 79h1v1h-1zm1-8h1v1h-1zm1-42h1v1h-1zm5 57h1v1h-1zm4 12h1v1h-1zm4-110h1v1h-1zm4 68h1v1h-1zm5 6h1v1h-1zm4-14h1v1h-1zm5-54h1v1h-1zm6 47h1v1h-1zm7 62h1v1h-1zm1-28h1v1h-1zm3-32h1v1h-1zm4 24h1v1h-1zm5-16h1v1h-1zm2-1h1v1h-1zm6-33h1v1h-1zm3 41h1v1h-1zm3-47h1v1h-1zm5 88h1v1h-1zm12-63h1v1h-1zm1 42h1v1h-1zm5 27h1v1h-1zm4-110h1v1h-1zm0 76h1v1h-1zm1-42h1v1h-1zm3-22h1v1h-1zm4 14h1v1h-1zm4-33h1v1h-1zm4 67h1v1h-1zm1-41h1v1h-1zm1 42h1v1h-1zm2-35h1v1h-1zm2 76h1v1h-1zm1-35h1v1h-1zm4-14h1v1h-1zm4 53h1v1h-1zm4-99h1v1h-1zm0 79h1v1h-1zm3-45h1v1h-1zm1-37h1v1h-1zm1 105h1v1h-1zm9-61h1v1h-1zm0 63h1v1h-1zm3-82h1v1h-1zm1 43h1v1h-1zm1-42h1v1h-1zm4 26h1v1h-1zm3-34h1v1h-1zm0 78h1v1h-1zm5-78h1v1h-1zm0 78h1v1h-1zm3-44h1v1h-1zm4-26h1v1h-1zm1 42h1v1h-1zm4-24h1v1h-1zm1 41h1v1h-1zm4-87h1v1h-1zm4 107h1v1h-1zm1-105h1v1h-1zm1 37h1v1h-1zm3 45h1v1h-1zm4 20h1v1h-1zm4-53h1v1h-1zm5 49h1v1h-1zm1-34h1v1h-1zm1-42h1v1h-1zm2 35h1v1h-1zm1-42h1v1h-1zm1 41h1v1h-1z"/>
<path fill-opacity=".703" d="m43 34h1v1h-1zm1 106h1v1h-1zm4-18h1v1h-1zm5-48h1v1h-1zm3 69h1v1h-1zm1-105h1v1h-1zm2 14h1v1h-1zm1 30h1v1h-1zm4 26h1v1h-1zm4-56h1v1h-1zm1 38h1v1h-1zm7-31h1v1h-1zm8 34h1v1h-1zm4-30h1v1h-1zm1 42h1v1h-1zm5-53h1v1h-1zm3 90h1v1h-1zm3-65h1v1h-1zm5-36h1v1h-1zm1 37h1v1h-1zm9 8h1v1h-1zm7 8h1v1h-1zm1-41h1v1h-1zm1 94h1v1h-1zm3-92h1v1h-1zm0 78h1v1h-1zm3-73h1v1h-1zm11 7h1v1h-1zm1 42h1v1h-1zm4-83h1v1h-1zm2 49h1v1h-1zm3 41h1v1h-1zm4-43h1v1h-1zm3-29h1v1h-1zm0 79h1v1h-1zm4-58h1v1h-1zm3-13h1v1h-1zm2-2h1v1h-1zm0 79h1v1h-1zm4-71h1v1h-1zm1-28h1v1h-1zm0 70h1v1h-1zm7-8h1v1h-1zm1 38h1v1h-1zm2-78h1v1h-1zm1 12h1v1h-1zm1 42h1v1h-1zm4-22h1v1h-1zm0 62h1v1h-1zm1-101h1v1h-1zm2 7h1v1h-1zm3 19h1v1h-1zm1 42h1v1h-1zm2 31h1v1h-1zm3-92h1v1h-1zm4 68h1v1h-1zm2 21h1v1h-1zm4-54h1v1h-1zm4 16h1v1h-1zm4-49h1v1h-1zm1 41h1v1h-1zm1 37h1v1h-1zm8-101h1v1h-1zm5 17h1v1h-1zm0 79h1v1h-1zm3-59h1v1h-1zm1 42h1v1h-1zm4 35h1v1h-1zm2-65h1v1h-1zm3 37h1v1h-1zm4-45h1v1h-1zm1-35h1v1h-1zm0 77h1v1h-1zm8 25h1v1h-1zm1-106h1v1h-1zm7 66h1v1h-1zm7 0h1v1h-1zm7-66h1v1h-1zm1 106h1v1h-1zm8-25h1v1h-1zm8-34h1v1h-1zm1-38h1v1h-1zm1 103h1v1h-1zm2-35h1v1h-1zm6 17h1v1h-1zm5-96h1v1h-1zm8 101h1v1h-1zm1-37h1v1h-1z"/>
<path fill-opacity=".719" d="m41 34h1v1h-1zm5 87h1v1h-1zm4-69h1v1h-1zm1 22h1v1h-1zm2 69h1v1h-1zm9-61h1v1h-1zm1 39h1v1h-1zm2-55h1v1h-1zm1-32h1v1h-1zm0 74h1v1h-1zm1-42h1v1h-1zm5 55h1v1h-1zm2-62h1v1h-1zm3-3h1v1h-1zm2 0h1v1h-1zm2 65h1v1h-1zm1-28h1v1h-1zm1-41h1v1h-1zm1-24h1v1h-1zm1 24h1v1h-1zm1 11h1v1h-1zm1 42h1v1h-1zm1 33h1v1h-1zm2-17h1v1h-1zm1-36h1v1h-1zm0 61h1v1h-1zm1-100h1v1h-1zm1 39h1v1h-1zm7 59h1v1h-1zm2-67h1v1h-1zm1-25h1v1h-1zm6 89h1v1h-1zm3-89h1v1h-1zm1 34h1v1h-1zm1-39h1v1h-1zm2 74h1v1h-1zm1-17h1v1h-1zm1-42h1v1h-1zm1-30h1v1h-1zm0 72h1v1h-1zm1-42h1v1h-1zm1-9h1v1h-1zm3 41h1v1h-1zm1 27h1v1h-1zm3-92h1v1h-1zm1 26h1v1h-1zm2-24h1v1h-1zm1 29h1v1h-1zm0 76h1v1h-1zm2-15h1v1h-1zm3-94h1v1h-1zm1 25h1v1h-1zm1 15h1v1h-1zm1 42h1v1h-1zm3 12h1v1h-1zm1 24h1v1h-1zm1-102h1v1h-1zm2 9h1v1h-1zm2-13h1v1h-1zm1 36h1v1h-1zm3-2h1v1h-1zm3-21h1v1h-1zm4 69h1v1h-1zm9 0h1v1h-1zm1-21h1v1h-1zm1 35h1v1h-1zm2-77h1v1h-1zm3 76h1v1h-1zm2-13h1v1h-1zm3-29h1v1h-1zm4-28h1v1h-1zm1 42h1v1h-1zm1 15h1v1h-1zm2 3h1v1h-1zm1-40h1v1h-1zm3-47h1v1h-1zm0 76h1v1h-1zm1 29h1v1h-1zm4-102h1v1h-1zm3 39h1v1h-1zm1 41h1v1h-1zm1-41h1v1h-1zm6-27h1v1h-1zm3 35h1v1h-1zm1 34h1v1h-1zm2 16h1v1h-1zm7-16h1v1h-1zm9 0h1v1h-1zm4-69h1v1h-1zm2-17h1v1h-1zm1 33h1v1h-1zm1 42h1v1h-1zm2-30h1v1h-1zm2-54h1v1h-1zm1 26h1v1h-1zm4 65h1v1h-1zm1-3h1v1h-1zm3-42h1v1h-1zm1-20h1v1h-1zm4 69h1v1h-1zm5-69h1v1h-1zm4 69h1v1h-1zm3-91h1v1h-1zm0 69h1v1h-1zm3-69h1v1h-1zm0 69h1v1h-1zm3 22h1v1h-1zm4-69h1v1h-1zm5 69h1v1h-1zm4-69h1v1h-1zm1 20h1v1h-1zm2 0h1v1h-1zm1 42h1v1h-1zm1 3h1v1h-1zm2 0h1v1h-1zm2-65h1v1h-1zm3 28h1v1h-1zm3-12h1v1h-1zm1-33h1v1h-1zm0 75h1v1h-1zm1-42h1v1h-1zm1-16h1v1h-1zm2-4h1v1h-1zm2 73h1v1h-1zm9 0h1v1h-1zm1-26h1v1h-1zm0 52h1v1h-1z"/>
<path fill-opacity=".734" d="m42 65h1v2h-1zm1 42h1v2h-1zm1-40h1v2h-1zm1 42h1v2h-1zm2-27h1v2h-1zm1-38h1v1h-1zm0 77h1v1h-1zm1-41h1v2h-1zm2-8h1v2h-1zm1-33h1v1h-1zm0 75h1v2h-1zm1-39h1v2h-1zm1 41h1v2h-1zm1 0h1v2h-1zm1-42h1v2h-1zm1-35h1v1h-1zm0 75h1v2h-1zm1-42h1v2h-1zm2 8h1v2h-1zm1-36h1v1h-1zm0 77h1v2h-1zm1-38h1v2h-1zm2 26h1v2h-1zm1-42h1v2h-1zm0 72h1v1h-1zm1-32h1v1h-1zm1-42h1v1h-1zm2 23h1v2h-1zm1-38h1v2h-1zm0 77h1v2h-1zm1-37h1v2h-1zm2 11h1v2h-1zm1-41h1v1h-1zm0 75h1v1h-1zm1-104h1v1h-1zm0 68h1v2h-1zm1-42h1v2h-1zm1-2h1v1h-1zm1 41h1v2h-1zm1-39h1v1h-1zm0 76h1v1h-1zm1-35h1v2h-1zm2-4h1v1h-1zm1-41h1v1h-1zm0 77h1v1h-1zm1-39h1v2h-1zm2-29h1v1h-1zm1-29h1v1h-1zm0 71h1v1h-1zm1-40h1v2h-1zm1 42h1v2h-1zm2-20h1v2h-1zm1-39h1v1h-1zm0 77h1v1h-1zm1-41h1v2h-1zm2-14h1v2h-1zm1-32h1v1h-1zm0 74h1v2h-1zm1-40h1v2h-1zm1 42h1v2h-1zm1 6h1v2h-1zm1-41h1v2h-1zm1-37h1v1h-1zm0 76h1v2h-1zm1-41h1v1h-1zm2 1h1v2h-1zm1-35h1v1h-1zm0 76h1v2h-1zm1-39h1v2h-1zm1 41h1v2h-1zm1-8h1v2h-1zm1-42h1v2h-1zm1-34h1v1h-1zm0 74h1v2h-1zm1-42h1v2h-1zm2 16h1v2h-1zm1-36h1v1h-1zm0 77h1v1h-1zm1-38h1v2h-1zm0 59h1v1h-1zm2-41h1v1h-1zm1-42h1v1h-1zm0 74h1v1h-1zm1-35h1v2h-1zm1-41h1v1h-1zm1-9h1v1h-1zm1 40h1v2h-1zm1-38h1v1h-1zm0 77h1v1h-1zm1-36h1v2h-1zm2 2h1v2h-1zm1-41h1v1h-1zm0 76h1v1h-1zm1-37h1v2h-1zm1-41h1v1h-1zm1 5h1v1h-1zm1 41h1v2h-1zm1-39h1v1h-1zm1 41h1v2h-1zm2-13h1v2h-1zm1-40h1v2h-1zm0 77h1v2h-1zm1-39h1v2h-1zm2-21h1v1h-1zm1-31h1v1h-1zm0 73h1v1h-1zm1-40h1v2h-1zm0 72h1v1h-1zm1-30h1v2h-1zm2-29h1v2h-1zm1-37h1v1h-1zm0 76h1v2h-1zm1-41h1v2h-1zm2-6h1v2h-1zm1-33h1v1h-1zm0 75h1v2h-1zm1-39h1v1h-1zm0 67h1v1h-1zm1-26h1v2h-1zm1-2h1v2h-1zm1-41h1v1h-1zm1-36h1v1h-1zm0 75h1v2h-1zm1-42h1v2h-1zm2 10h1v2h-1zm1-36h1v1h-1zm0 77h1v1h-1zm1-39h1v2h-1zm2 25h1v2h-1zm1-42h1v2h-1zm0 73h1v1h-1zm1-105h1v1h-1zm0 72h1v2h-1zm1-42h1v2h-1zm2 25h1v2h-1zm1-38h1v1h-1zm0 77h1v1h-1zm1-37h1v2h-1zm2 10h1v1h-1zm1-42h1v1h-1zm0 75h1v1h-1zm1-36h1v2h-1zm1-41h1v1h-1zm1-2h1v2h-1zm1-25h1v1h-1zm0 67h1v2h-1zm1-40h1v2h-1zm0 76h1v1h-1zm1-34h1v2h-1zm2-6h1v2h-1zm1-41h1v2h-1zm0 77h1v1h-1zm1-101h1v1h-1zm0 62h1v2h-1zm2-28h1v2h-1zm1-29h1v1h-1zm0 71h1v2h-1zm1-39h1v1h-1zm0 73h1v1h-1zm1-31h1v1h-1zm2-22h1v2h-1zm1-39h1v1h-1zm0 77h1v1h-1zm1-40h1v1h-1zm2-13h1v2h-1zm1 42h1v1h-1zm1-40h1v2h-1zm1 42h1v2h-1zm1 4h1v2h-1zm1-41h1v2h-1zm1-36h1v1h-1zm0 75h1v2h-1zm1-41h1v2h-1zm2-49h1v1h-1zm0 51h1v2h-1zm1-35h1v2h-1zm0 77h1v1h-1zm1-39h1v2h-1zm1 41h1v1h-1zm1-10h1v2h-1zm1-42h1v2h-1zm1-33h1v1h-1zm0 73h1v2h-1zm1-42h1v2h-1zm2 18h1v2h-1zm1-37h1v1h-1zm0 77h1v2h-1zm1-37h1v2h-1zm2 16h1v2h-1zm1-42h1v2h-1zm1-30h1v1h-1zm0 70h1v2h-1zm1-42h1v2h-1zm1-7h1v1h-1zm1 40h1v2h-1zm1-39h1v2h-1zm0 77h1v1h-1zm1-36h1v2h-1zm0 52h1v1h-1zm2-51h1v2h-1zm1-41h1v2h-1zm0 77h1v1h-1zm1-103h1v1h-1zm0 65h1v2h-1zm1-41h1v2h-1zm1 6h1v2h-1zm1 42h1v2h-1zm1-40h1v2h-1zm0 75h1v1h-1zm1-33h1v2h-1zm2-15h1v2h-1zm1-39h1v1h-1zm0 77h1v1h-1zm1-99h1v1h-1zm0 59h1v2h-1zm2-20h1v2h-1zm1 42h1v2h-1zm1-39h1v1h-1zm0 71h1v1h-1zm1-29h1v1h-1zm1 10h1v1h-1zm1-40h1v1h-1zm1-38h1v1h-1zm0 77h1v1h-1zm1-42h1v2h-1zm2-4h1v2h-1zm1-34h1v1h-1zm0 76h1v1h-1zm1-40h1v2h-1zm1 42h1v1h-1zm1-3h1v1h-1zm1-42h1v2h-1zm0 69h1v1h-1zm1-104h1v1h-1zm0 75h1v1h-1zm1-43h1v2h-1zm2 12h1v2h-1zm1-37h1v2h-1zm0 77h1v2h-1zm1-38h1v2h-1zm2 23h1v2h-1zm1-42h1v2h-1zm1 40h1v2h-1zm1-42h1v2h-1zm2 27h1v2h-1zm1-39h1v2h-1zm0 77h1v2h-1zm1-36h1v2h-1zm2 8h1v2h-1zm1-42h1v2h-1zm0 76h1v1h-1zm1-36h1v1h-1zm1-42h1v2h-1zm1 0h1v2h-1zm1 41h1v2h-1zm1-39h1v2h-1zm0 76h1v1h-1zm1-34h1v2h-1zm2-8h1v2h-1zm1-41h1v2h-1zm0 78h1v1h-1zm1-39h1v2h-1zm2-27h1v2h-1zm1 42h1v2h-1zm1-40h1v2h-1zm1 42h1v2h-1zm2-23h1v2h-1zm1-39h1v2h-1zm0 77h1v2h-1zm1-40h1v2h-1zm2-12h1v2h-1zm1-32h1v1h-1zm0 75h1v1h-1zm1-40h1v2h-1zm0 69h1v1h-1zm1-27h1v1h-1zm1 3h1v1h-1zm1-42h1v2h-1zm1-36h1v1h-1zm0 76h1v1h-1zm1-42h1v2h-1zm2-48h1v1h-1zm0 52h1v2h-1zm1-35h1v1h-1zm0 76h1v2h-1zm1-38h1v1h-1zm1 40h1v1h-1zm1-10h1v2h-1zm1-42h1v1h-1zm0 71h1v1h-1zm1-31h1v1h-1zm1-43h1v2h-1zm2-39h1v1h-1zm0 59h1v2h-1zm1-37h1v1h-1zm0 77h1v1h-1zm1-38h1v2h-1zm2 15h1v2h-1zm1-42h1v2h-1zm0 75h1v1h-1zm1-35h1v2h-1zm1-42h1v2h-1zm1-6h1v2h-1zm1-24h1v1h-1zm0 65h1v2h-1zm1-39h1v2h-1zm0 77h1v1h-1zm1-36h1v2h-1zm2 0h1v2h-1zm1 35h1v1h-1zm1-38h1v2h-1z"/>
<path fill-opacity=".75" d="m42 26h1v1h-1zm1 9h1v1h-1zm1 104h1v1h-1zm3 6h1v1h-1zm2-66h1v1h-1zm12-34h1v1h-1zm1 100h1v1h-1zm4-39h1v1h-1zm1-42h1v1h-1zm4 28h1v1h-1zm7-62h1v1h-1zm1 28h1v1h-1zm3 37h1v1h-1zm1 34h1v1h-1zm3-68h1v1h-1zm1 42h1v1h-1zm1 34h1v1h-1zm4-14h1v1h-1zm5 18h1v1h-1zm5-66h1v1h-1zm2-49h1v1h-1zm0 50h1v1h-1zm2 68h1v1h-1zm8-20h1v1h-1zm3-18h1v1h-1zm1-42h1v1h-1zm2-4h1v1h-1zm3-5h1v1h-1zm0 75h1v1h-1zm4-73h1v1h-1zm1 37h1v1h-1zm2-36h1v1h-1zm2 4h1v1h-1zm0 73h1v1h-1zm1-31h1v1h-1zm6-39h1v1h-1zm1 42h1v1h-1zm7-56h1v1h-1zm3 26h1v1h-1zm3-2h1v1h-1zm0 67h1v1h-1zm1-103h1v1h-1zm4 82h1v1h-1zm1-36h1v1h-1zm11 17h1v1h-1zm1-42h1v1h-1zm4 36h1v1h-1zm10-30h1v1h-1zm1 42h1v1h-1zm4-26h1v1h-1zm2-13h1v1h-1zm1-31h1v1h-1zm17-11h1v1h-1zm1 22h1v1h-1zm1 97h1v1h-1zm3-10h1v1h-1zm1-35h1v1h-1zm2-49h1v1h-1zm3 45h1v1h-1zm2 50h1v1h-1zm1-16h1v1h-1zm4-99h1v1h-1zm4 58h1v1h-1zm6-20h1v1h-1zm1 42h1v1h-1zm2-30h1v1h-1zm1 37h1v1h-1zm4-4h1v1h-1zm1 28h1v1h-1zm2-27h1v1h-1zm2-4h1v1h-1zm2-61h1v1h-1zm6 87h1v1h-1zm1-104h1v1h-1zm2 17h1v1h-1zm1-23h1v1h-1zm0 61h1v1h-1zm6 8h1v1h-1zm8 31h1v1h-1zm1-100h1v1h-1zm0 61h1v1h-1zm1-38h1v1h-1zm2-17h1v1h-1zm1 104h1v1h-1zm6-87h1v1h-1zm2 61h1v1h-1zm3 7h1v1h-1zm1 24h1v1h-1zm1-28h1v1h-1zm5-33h1v1h-1zm3-12h1v1h-1zm1-34h1v1h-1zm0 72h1v1h-1zm5-18h1v1h-1zm4-58h1v1h-1zm4 99h1v1h-1zm1 16h1v1h-1z"/>
<path fill-opacity=".766" d="m41 33h1v1h-1zm1 31h1v1h-1zm1 42h1v1h-1zm1-37h1v1h-1zm2 53h1v1h-1zm2-77h1v1h-1zm0 75h1v1h-1zm4-80h1v1h-1zm4 36h1v1h-1zm0 66h1v1h-1zm1-29h1v1h-1zm1-42h1v1h-1zm8-36h1v1h-1zm6 87h1v1h-1zm1-19h1v1h-1zm1-42h1v1h-1zm0 73h1v1h-1zm3-80h1v1h-1zm1 41h1v1h-1zm1 37h1v1h-1zm1-32h1v1h-1zm3-46h1v1h-1zm7 68h1v1h-1zm5-54h1v1h-1zm2 5h1v1h-1zm4-31h1v1h-1zm2 9h1v1h-1zm2-8h1v1h-1zm5-6h1v1h-1zm0 72h1v1h-1zm1-42h1v1h-1zm1-16h1v1h-1zm7-18h1v1h-1zm3-4h1v1h-1zm4 118h1v1h-1zm3-94h1v1h-1zm6 38h1v1h-1zm2-5h1v1h-1zm1-35h1v1h-1zm3 88h1v1h-1zm3-56h1v1h-1zm2-5h1v1h-1zm3 36h1v1h-1zm7-63h1v1h-1zm1 29h1v1h-1zm1-34h1v1h-1zm1 99h1v1h-1zm3-7h1v1h-1zm1-33h1v1h-1zm1-42h1v1h-1zm1-12h1v1h-1zm1-23h1v1h-1zm0 60h1v1h-1zm1-36h1v1h-1zm0 75h1v1h-1zm1-34h1v1h-1zm4-62h1v1h-1zm1 25h1v1h-1zm3 3h1v1h-1zm8-25h1v1h-1zm5 13h1v1h-1zm0 75h1v1h-1zm4-11h1v1h-1zm1 30h1v1h-1zm3 2h1v1h-1zm2-69h1v1h-1zm3 44h1v1h-1zm1 26h1v1h-1zm2-31h1v1h-1zm1-42h1v1h-1zm0 69h1v1h-1zm7-18h1v1h-1zm4-63h1v1h-1zm2-30h1v1h-1zm3 93h1v1h-1zm1-24h1v1h-1zm2-5h1v1h-1zm3 7h1v1h-1zm1-37h1v1h-1zm2 59h1v1h-1zm2-72h1v1h-1zm0 75h1v1h-1zm2-74h1v1h-1zm2-15h1v1h-1zm3 86h1v1h-1zm2-78h1v1h-1zm2 7h1v1h-1zm1 22h1v1h-1zm1-32h1v1h-1zm1 37h1v1h-1zm1 41h1v1h-1zm6-38h1v1h-1zm2 5h1v1h-1zm2 23h1v1h-1zm1-42h1v1h-1zm9 66h1v1h-1zm5 0h1v1h-1zm9-66h1v1h-1zm1 42h1v1h-1zm2-23h1v1h-1zm2-5h1v1h-1zm5 35h1v1h-1zm2-38h1v1h-1zm1-37h1v1h-1zm2 10h1v1h-1zm2-7h1v1h-1zm2 78h1v1h-1zm7-72h1v1h-1zm0 75h1v1h-1zm2-3h1v1h-1zm1-17h1v1h-1zm1-42h1v1h-1zm1 37h1v1h-1zm3-7h1v1h-1zm2 5h1v1h-1zm1 24h1v1h-1z"/>
<path fill-opacity=".781" d="m45 111h1v1h-1zm2-27h1v1h-1zm3-33h1v1h-1zm3 91h1v1h-1zm1-24h1v1h-1zm3-78h1v1h-1zm2 11h1v1h-1zm2 69h1v1h-1zm2 2h1v1h-1zm5-71h1v1h-1zm1-23h1v1h-1zm0 59h1v1h-1zm6 11h1v1h-1zm5 49h1v1h-1zm1-25h1v1h-1zm3-32h1v1h-1zm1-39h1v1h-1zm7-3h1v1h-1zm2 3h1v1h-1zm2-13h1v1h-1zm0 72h1v1h-1zm2 5h1v1h-1zm2-35h1v1h-1zm1 36h1v1h-1zm4 1h1v1h-1zm1-36h1v1h-1zm3-9h1v1h-1zm0 68h1v1h-1zm4-113h1v1h-1zm1 22h1v1h-1zm1 40h1v1h-1zm1 33h1v1h-1zm2 14h1v1h-1zm3-85h1v1h-1zm4 71h1v1h-1zm1-23h1v1h-1zm1 32h1v1h-1zm1-101h1v1h-1zm3 2h1v1h-1zm0 67h1v1h-1zm3 23h1v1h-1zm6-86h1v1h-1zm3 86h1v1h-1zm2-3h1v1h-1zm3-47h1v1h-1zm4 45h1v1h-1zm2-5h1v1h-1zm1-42h1v1h-1zm5 52h1v1h-1zm1-12h1v1h-1zm2-75h1v1h-1zm6 87h1v1h-1zm8-21h1v1h-1zm1 21h1v1h-1zm2 6h1v1h-1zm2-77h1v1h-1zm3 86h1v1h-1zm2-15h1v1h-1zm1-35h1v1h-1zm3-36h1v1h-1zm3 23h1v1h-1zm2 46h1v1h-1zm1-41h1v1h-1zm3-28h1v1h-1zm4 71h1v1h-1zm3-14h1v1h-1zm1-42h1v1h-1zm1-15h1v1h-1zm1 33h1v1h-1zm1 40h1v1h-1zm3-18h1v1h-1zm1-42h1v1h-1zm4 28h1v1h-1zm1-36h1v1h-1zm0 74h1v1h-1zm6-78h1v1h-1zm3 83h1v1h-1zm1-30h1v1h-1zm2 41h1v1h-1zm2-61h1v1h-1zm7 59h1v1h-1zm2-67h1v1h-1zm8-38h1v1h-1zm5 106h1v1h-1zm1-23h1v1h-1zm3-18h1v1h-1zm1-42h1v1h-1zm3-9h1v1h-1zm1 41h1v1h-1zm1 28h1v1h-1zm2-62h1v1h-1zm1-29h1v1h-1zm1 24h1v1h-1zm1 0h1v1h-1zm1-24h1v1h-1zm3 91h1v1h-1zm1-28h1v1h-1zm1-41h1v1h-1zm3 9h1v1h-1zm1 42h1v1h-1zm3 18h1v1h-1zm1 23h1v1h-1zm5-106h1v1h-1zm6 34h1v1h-1zm2 4h1v1h-1zm2 67h1v1h-1zm6-93h1v1h-1zm1 34h1v1h-1zm2 61h1v1h-1zm3-11h1v1h-1zm2-77h1v1h-1zm1-6h1v1h-1zm6 78h1v1h-1zm1-38h1v1h-1z"/>
<path fill-opacity=".797" d="m42 63h1v1h-1zm1-27h1v1h-1zm0 68h1v2h-1zm1-34h1v2h-1zm0 68h1v1h-1zm1-26h1v1h-1zm2-27h1v2h-1zm1-39h1v1h-1zm0 72h1v2h-1zm1-41h1v2h-1zm2-7h1v2h-1zm1-29h1v1h-1zm0 71h1v2h-1zm1-35h1v2h-1zm1 42h1v1h-1zm1-1h1v2h-1zm1-41h1v2h-1zm1-36h1v1h-1zm0 71h1v1h-1zm1-43h1v2h-1zm2 9h1v2h-1zm1-32h1v1h-1zm0 73h1v1h-1zm1-34h1v2h-1zm2 26h1v2h-1zm1-42h1v2h-1zm0 69h1v1h-1zm1-102h1v1h-1zm0 68h1v2h-1zm1-42h1v2h-1zm2 23h1v2h-1zm1-33h1v2h-1zm0 73h1v2h-1zm1-32h1v2h-1zm2 11h1v2h-1zm1-42h1v2h-1zm0 71h1v1h-1zm1-101h1v1h-1zm0 64h1v2h-1zm1-41h1v2h-1zm1-2h1v1h-1zm1 40h1v2h-1zm1-34h1v2h-1zm0 72h1v1h-1zm1-30h1v2h-1zm2-5h1v2h-1zm1-41h1v2h-1zm0 73h1v1h-1zm1-99h1v1h-1zm0 60h1v1h-1zm2-30h1v2h-1zm1-25h1v1h-1zm0 67h1v2h-1zm1-35h1v2h-1zm0 70h1v1h-1zm1-28h1v2h-1zm2-20h1v2h-1zm1-39h1v1h-1zm0 72h1v2h-1zm1-94h1v1h-1zm0 54h1v2h-1zm2-15h1v2h-1zm1-27h1v1h-1zm0 70h1v1h-1zm1-35h1v2h-1zm0 66h1v1h-1zm1-24h1v1h-1zm1 5h1v2h-1zm1-40h1v1h-1zm0 62h1v1h-1zm1-100h1v1h-1zm0 72h1v1h-1zm1-89h1v1h-1zm0 47h1v2h-1zm2 1h1v2h-1zm1-30h1v1h-1zm0 72h1v1h-1zm1-34h1v2h-1zm1 40h1v1h-1zm1-8h1v2h-1zm1-41h1v2h-1zm1-35h1v1h-1zm0 69h1v2h-1zm1-42h1v2h-1zm2 17h1v2h-1zm1-32h1v1h-1zm0 72h1v2h-1zm1-32h1v1h-1zm2 17h1v2h-1zm1-42h1v2h-1zm0 70h1v1h-1zm1-35h1v2h-1zm1-42h1v2h-1zm2 32h1v2h-1zm1-34h1v2h-1zm0 73h1v1h-1zm1-32h1v2h-1zm2 3h1v2h-1zm1-42h1v2h-1zm0 72h1v1h-1zm1-38h1v2h-1zm1-40h1v1h-1zm1 4h1v2h-1zm1 42h1v1h-1zm1-35h1v2h-1zm0 71h1v1h-1zm1-29h1v2h-1zm2-13h1v2h-1zm0 54h1v1h-1zm1-95h1v2h-1zm0 73h1v2h-1zm1-40h1v2h-1zm2-21h1v2h-1zm1 42h1v2h-1zm1-35h1v2h-1zm1 42h1v2h-1zm2-28h1v2h-1zm1-39h1v2h-1zm0 73h1v1h-1zm1-42h1v2h-1zm2-5h1v1h-1zm1-30h1v1h-1zm0 72h1v1h-1zm1-35h1v2h-1zm0 64h1v1h-1zm1-23h1v2h-1zm1-1h1v1h-1zm1-42h1v2h-1zm0 65h1v1h-1zm1-101h1v1h-1zm0 71h1v1h-1zm1-42h1v1h-1zm2 9h1v2h-1zm1-31h1v1h-1zm0 72h1v2h-1zm1-33h1v2h-1zm2 25h1v1h-1zm1-43h1v2h-1zm1 35h1v2h-1zm1-42h1v2h-1zm2 25h1v2h-1zm1-33h1v1h-1zm0 73h1v1h-1zm1-32h1v2h-1zm2 9h1v2h-1zm1-42h1v2h-1zm0 72h1v1h-1zm1-37h1v2h-1zm1-41h1v1h-1zm1-2h1v2h-1zm1-22h1v1h-1zm0 63h1v2h-1zm1-34h1v1h-1zm0 72h1v1h-1zm1-30h1v2h-1zm2-7h1v2h-1zm1-41h1v2h-1zm0 73h1v1h-1zm1-39h1v2h-1zm2-28h1v2h-1zm1 42h1v2h-1zm1-35h1v2h-1zm1 42h1v2h-1zm2-21h1v2h-1zm1-40h1v1h-1zm0 73h1v1h-1zm1-41h1v2h-1zm1-30h1v1h-1zm1 17h1v2h-1zm1-28h1v1h-1zm0 70h1v2h-1zm1-34h1v1h-1zm1 41h1v2h-1zm1 5h1v1h-1zm1-41h1v2h-1zm1-38h1v1h-1zm0 72h1v2h-1zm1-88h1v1h-1zm0 46h1v2h-1zm2 3h1v2h-1zm1-31h1v1h-1zm0 72h1v2h-1zm1-34h1v2h-1zm2 32h1v2h-1zm1-42h1v2h-1zm0 67h1v1h-1zm1-102h1v1h-1zm0 70h1v1h-1zm1-42h1v1h-1zm2 18h1v1h-1zm1-33h1v2h-1zm0 73h1v1h-1zm1-33h1v2h-1zm2 17h1v1h-1zm1-42h1v1h-1zm0 70h1v1h-1zm1-102h1v1h-1zm0 66h1v2h-1zm1-41h1v1h-1zm1-7h1v1h-1zm1 39h1v2h-1zm1-33h1v1h-1zm0 72h1v1h-1zm1-31h1v2h-1zm2 1h1v2h-1zm1-42h1v2h-1zm0 73h1v1h-1zm1-100h1v1h-1zm0 61h1v2h-1zm1-40h1v1h-1zm1 6h1v2h-1zm1-24h1v1h-1zm0 65h1v2h-1zm1-34h1v2h-1zm1 42h1v2h-1zm2-15h1v2h-1zm1-40h1v1h-1zm0 73h1v1h-1zm1-41h1v2h-1zm2-19h1v2h-1zm1-27h1v1h-1zm0 69h1v2h-1zm1-35h1v2h-1zm0 68h1v1h-1zm1-26h1v2h-1zm2-30h1v2h-1zm1-38h1v1h-1zm0 72h1v2h-1zm1-41h1v1h-1zm2-5h1v2h-1zm1-29h1v1h-1zm0 71h1v2h-1zm1-34h1v2h-1zm1 41h1v1h-1zm1-3h1v2h-1zm1-42h1v2h-1zm0 66h1v1h-1zm1-101h1v1h-1zm0 70h1v2h-1zm1-42h1v2h-1zm2 11h1v2h-1zm1-32h1v2h-1zm0 73h1v2h-1zm1-33h1v2h-1zm2 23h1v2h-1zm1-42h1v2h-1zm0 69h1v1h-1zm1-102h1v1h-1zm0 68h1v1h-1zm1-42h1v1h-1zm2 26h1v2h-1zm1-33h1v1h-1zm0 72h1v2h-1zm1-31h1v2h-1zm2 7h1v2h-1zm1-41h1v1h-1zm0 71h1v1h-1zm1-37h1v2h-1zm1-41h1v1h-1zm1 0h1v1h-1zm1 41h1v2h-1zm1-35h1v2h-1zm0 72h1v1h-1zm1-30h1v2h-1zm2-7h1v2h-1zm1-41h1v1h-1zm0 73h1v1h-1zm1-40h1v2h-1zm2-26h1v1h-1zm1-26h1v1h-1zm0 68h1v1h-1zm1-35h1v2h-1zm0 69h1v1h-1zm1-27h1v2h-1zm2-23h1v2h-1zm1-40h1v2h-1zm0 73h1v2h-1zm1-41h1v2h-1zm2-11h1v2h-1zm1-28h1v1h-1zm0 70h1v2h-1zm1-35h1v2h-1zm0 66h1v1h-1zm1-24h1v2h-1zm1 3h1v2h-1zm1-41h1v2h-1zm1-37h1v1h-1zm0 71h1v2h-1zm1-42h1v2h-1zm2 5h1v1h-1zm1-31h1v1h-1zm0 72h1v2h-1zm1-34h1v2h-1zm2 30h1v2h-1zm1-42h1v2h-1zm0 68h1v1h-1zm1-102h1v1h-1zm0 69h1v2h-1zm1-42h1v2h-1zm2 19h1v2h-1zm1-32h1v1h-1zm0 73h1v1h-1zm1-33h1v2h-1zm2 15h1v2h-1zm1-42h1v2h-1zm1-31h1v1h-1zm0 65h1v2h-1zm1-41h1v1h-1zm1-6h1v1h-1zm1-21h1v1h-1zm0 61h1v2h-1zm1-34h1v2h-1zm0 73h1v1h-1zm1-31h1v2h-1zm2-1h1v2h-1zm1 31h1v1h-1zm1-39h1v2h-1z"/>
<path fill-opacity=".812" d="m41 32h1v1h-1zm1 30h1v1h-1zm3 51h1v1h-1zm5-63h1v1h-1zm3 29h1v1h-1zm4 32h1v1h-1zm2-61h1v1h-1zm1 27h1v1h-1zm1-30h1v1h-1zm7 3h1v1h-1zm9 2h1v1h-1zm1-21h1v1h-1zm5 96h1v1h-1zm1-39h1v1h-1zm1-38h1v1h-1zm6 40h1v1h-1zm2-10h1v1h-1zm1-30h1v1h-1zm2 58h1v1h-1zm4-26h1v1h-1zm1 32h1v1h-1zm5 29h1v1h-1zm9-52h1v1h-1zm4-57h1v1h-1zm3 55h1v1h-1zm1 39h1v1h-1zm2-5h1v1h-1zm4-72h1v1h-1zm2 46h1v1h-1zm3 26h1v1h-1zm3-95h1v1h-1zm3 9h1v1h-1zm1 35h1v1h-1zm0 66h1v1h-1zm2-15h1v1h-1zm1 21h1v1h-1zm4-74h1v1h-1zm1-28h1v1h-1zm0 70h1v1h-1zm6-44h1v1h-1zm6 44h1v1h-1zm1-42h1v1h-1zm0 67h1v1h-1zm1-101h1v1h-1zm4 18h1v1h-1zm4 78h1v1h-1zm1-100h1v1h-1zm0 63h1v1h-1zm1-41h1v1h-1zm3 7h1v1h-1zm0 70h1v1h-1zm1 16h1v1h-1zm2-50h1v1h-1zm2-68h1v1h-1zm0 58h1v1h-1zm1-37h1v1h-1zm2-15h1v1h-1zm1 101h1v1h-1zm3 9h1v1h-1zm1-96h1v1h-1zm1-22h1v1h-1zm4 49h1v1h-1zm4-33h1v1h-1zm2 7h1v1h-1zm2-5h1v1h-1zm1 39h1v1h-1zm4-46h1v1h-1zm0 68h1v1h-1zm1-42h1v1h-1zm1-14h1v1h-1zm1 32h1v1h-1zm4 26h1v1h-1zm1-42h1v1h-1zm2-9h1v1h-1zm2-27h1v1h-1zm1 28h1v1h-1zm9 76h1v1h-1zm4-82h1v1h-1zm10 23h1v1h-1zm2-49h1v1h-1zm2 116h1v1h-1zm1-21h1v1h-1zm2-44h1v1h-1zm10 25h1v1h-1zm1-42h1v1h-1zm6 44h1v1h-1zm10 22h1v1h-1zm3-66h1v1h-1zm1 42h1v1h-1zm10-25h1v1h-1zm3 65h1v1h-1zm2-116h1v1h-1zm2 49h1v1h-1zm10-23h1v1h-1zm4 82h1v1h-1zm5-5h1v1h-1zm4-71h1v1h-1z"/>
<path fill-opacity=".828" d="m47 144h1v1h-1zm1-97h1v1h-1zm3 22h1v1h-1zm1 42h1v1h-1zm2 9h1v1h-1zm2 21h1v1h-1zm5-23h1v1h-1zm1-31h1v1h-1zm0 57h1v1h-1zm2-31h1v1h-1zm1-42h1v1h-1zm0 66h1v1h-1zm6-42h1v1h-1zm0 51h1v1h-1zm11-48h1v1h-1zm5-63h1v1h-1zm1 33h1v1h-1zm1 42h1v1h-1zm2 35h1v1h-1zm7-28h1v1h-1zm4-45h1v1h-1zm1-22h1v1h-1zm2 65h1v1h-1zm2 8h1v1h-1zm1-7h1v1h-1zm1 23h1v1h-1zm4-58h1v1h-1zm3 42h1v1h-1zm1-14h1v1h-1zm2-10h1v1h-1zm5 0h1v1h-1zm7-66h1v1h-1zm11 81h1v1h-1zm3 3h1v1h-1zm3-91h1v1h-1zm2 54h1v1h-1zm2 39h1v1h-1zm1-41h1v1h-1zm1-37h1v1h-1zm0 69h1v1h-1zm2-60h1v1h-1zm2-2h1v1h-1zm2 75h1v1h-1zm5-73h1v1h-1zm2 75h1v1h-1zm2-2h1v1h-1zm1-18h1v1h-1zm13-46h1v1h-1zm1 42h1v1h-1zm5 19h1v1h-1zm1-41h1v1h-1zm3-39h1v1h-1zm1 100h1v1h-1zm2-18h1v1h-1zm1 20h1v1h-1zm1-29h1v1h-1zm3-39h1v1h-1zm2 69h1v1h-1zm9-51h1v1h-1zm3 42h1v1h-1zm1-100h1v1h-1zm2 16h1v1h-1zm6 9h1v1h-1zm0 70h1v1h-1zm3-73h1v1h-1zm4 67h1v1h-1zm1-30h1v1h-1zm1 30h1v1h-1zm1-95h1v1h-1zm1 22h1v1h-1zm1 13h1v1h-1zm1 42h1v1h-1zm1-32h1v1h-1zm2 50h1v1h-1zm1-38h1v1h-1zm1-39h1v1h-1zm2 4h1v1h-1zm8 17h1v1h-1zm2-40h1v1h-1zm3 96h1v1h-1zm6-94h1v1h-1zm0 57h1v1h-1zm1-31h1v1h-1zm2 68h1v1h-1zm2-61h1v1h-1zm1 32h1v1h-1zm1-41h1v1h-1zm1 0h1v1h-1zm1 41h1v1h-1zm1-32h1v1h-1zm1 42h1v1h-1zm1 19h1v1h-1zm2-68h1v1h-1zm1-26h1v1h-1zm6 94h1v1h-1zm3-96h1v1h-1zm2 40h1v1h-1zm8-17h1v1h-1zm2-4h1v1h-1zm1 39h1v1h-1zm1 38h1v1h-1zm2-50h1v1h-1zm1 32h1v1h-1zm2-55h1v1h-1zm1-22h1v1h-1zm1 95h1v1h-1zm2 0h1v1h-1zm4-67h1v1h-1zm1-6h1v1h-1zm5 50h1v1h-1z"/>
<path fill-opacity=".844" d="m43 37h1v1h-1zm1 100h1v1h-1zm2-14h1v1h-1zm3-47h1v1h-1zm3-34h1v1h-1zm1 99h1v1h-1zm2-21h1v1h-1zm1-41h1v1h-1zm7 44h1v1h-1zm3-20h1v1h-1zm1-42h1v1h-1zm3-7h1v1h-1zm2 69h1v1h-1zm2 9h1v1h-1zm2-78h1v1h-1zm3 7h1v1h-1zm0 69h1v1h-1zm2-7h1v1h-1zm6-23h1v1h-1zm1 35h1v1h-1zm2-12h1v1h-1zm2-73h1v1h-1zm9-6h1v1h-1zm3 29h1v1h-1zm1-28h1v1h-1zm7 5h1v1h-1zm2 1h1v1h-1zm1 94h1v1h-1zm3-78h1v1h-1zm3-17h1v1h-1zm1-20h1v1h-1zm6 1h1v1h-1zm0 60h1v1h-1zm2-36h1v1h-1zm2 10h1v1h-1zm0 68h1v1h-1zm1-26h1v1h-1zm3-54h1v1h-1zm1 30h1v1h-1zm1-33h1v1h-1zm2 54h1v1h-1zm4-18h1v1h-1zm3-36h1v1h-1zm4 71h1v1h-1zm8-33h1v1h-1zm0 56h1v1h-1zm7-115h1v1h-1zm0 56h1v1h-1zm2 11h1v1h-1zm0 50h1v1h-1zm3-83h1v1h-1zm3-11h1v1h-1zm1 41h1v1h-1zm3 30h1v1h-1zm2-67h1v1h-1zm0 70h1v1h-1zm5-57h1v1h-1zm1 42h1v1h-1zm1 12h1v1h-1zm5-57h1v1h-1zm3 52h1v1h-1zm4-47h1v1h-1zm5 52h1v1h-1zm2-49h1v1h-1zm5 48h1v1h-1zm2 1h1v1h-1zm3-25h1v1h-1zm4 30h1v1h-1zm1-28h1v1h-1zm1 23h1v1h-1zm1-22h1v1h-1zm3-51h1v1h-1zm11-12h1v1h-1zm1 100h1v1h-1zm4-22h1v1h-1zm4-73h1v1h-1zm0 69h1v1h-1zm1-31h1v1h-1zm3 59h1v1h-1zm1-31h1v1h-1zm2-59h1v1h-1zm1 28h1v1h-1zm1 41h1v1h-1zm4 17h1v1h-1zm1-100h1v1h-1zm2 14h1v1h-1zm5 97h1v1h-1zm1-16h1v1h-1zm1-99h1v1h-1zm3 0h1v1h-1zm1 99h1v1h-1zm1 16h1v1h-1zm4-61h1v1h-1zm1-36h1v1h-1zm2-14h1v1h-1zm1 100h1v1h-1zm3-47h1v1h-1zm1 30h1v1h-1zm1-41h1v1h-1zm1-28h1v1h-1zm2 59h1v1h-1zm1 31h1v1h-1zm3-59h1v1h-1zm1-38h1v1h-1zm4 73h1v1h-1zm3-1h1v1h-1zm1 23h1v1h-1zm1-100h1v1h-1zm1 25h1v1h-1zm4 30h1v1h-1zm7-3h1v1h-1zm1-31h1v1h-1zm1 42h1v1h-1zm1 22h1v1h-1zm2 5h1v1h-1z"/>
<path fill-opacity=".859" d="m42 60h1v2h-1zm1 42h1v2h-1zm1-30h1v2h-1zm1 42h1v2h-1zm2-27h1v2h-1zm1-39h1v1h-1zm0 68h1v2h-1zm1-42h1v2h-1zm2-48h1v1h-1zm0 41h1v2h-1zm1-24h1v1h-1zm0 66h1v2h-1zm1-29h1v2h-1zm1 41h1v1h-1zm1 0h1v1h-1zm1-41h1v2h-1zm1-38h1v1h-1zm0 67h1v2h-1zm1-42h1v2h-1zm2 8h1v2h-1zm1-27h1v2h-1zm0 68h1v2h-1zm1-28h1v2h-1zm2 26h1v1h-1zm1-42h1v2h-1zm0 64h1v1h-1zm1-99h1v1h-1zm0 65h1v1h-1zm1-42h1v1h-1zm2 23h1v2h-1zm1-28h1v1h-1zm0 68h1v2h-1zm1-27h1v2h-1zm2 10h1v2h-1zm0 41h1v1h-1zm1-83h1v2h-1zm0 67h1v1h-1zm1-98h1v1h-1zm0 61h1v2h-1zm1-41h1v1h-1zm1-3h1v2h-1zm1 41h1v2h-1zm1-29h1v1h-1zm0 67h1v1h-1zm1-26h1v2h-1zm2-4h1v2h-1zm1-42h1v2h-1zm0 69h1v1h-1zm1-96h1v1h-1zm0 56h1v2h-1zm2-29h1v2h-1zm1 41h1v2h-1zm1-29h1v2h-1zm1 42h1v2h-1zm2-20h1v2h-1zm1-40h1v1h-1zm0 68h1v2h-1zm1-41h1v2h-1zm2-14h1v2h-1zm1-24h1v1h-1zm0 66h1v2h-1zm1-30h1v2h-1zm0 63h1v1h-1zm1-21h1v1h-1zm1 5h1v1h-1zm1-40h1v2h-1zm0 59h1v1h-1zm1-97h1v1h-1zm0 67h1v2h-1zm1-42h1v2h-1zm2 1h1v2h-1zm1-25h1v1h-1zm0 67h1v2h-1zm1-29h1v2h-1zm2 33h1v1h-1zm1-42h1v2h-1zm0 63h1v1h-1zm1-99h1v1h-1zm0 66h1v2h-1zm1-42h1v2h-1zm2 16h1v2h-1zm1-27h1v1h-1zm0 68h1v2h-1zm1-28h1v2h-1zm2 18h1v2h-1zm1-42h1v2h-1zm0 66h1v1h-1zm1-99h1v1h-1zm0 62h1v2h-1zm1-41h1v2h-1zm2 31h1v2h-1zm1-29h1v2h-1zm0 69h1v1h-1zm1-27h1v2h-1zm2 2h1v2h-1zm1-42h1v2h-1zm0 68h1v2h-1zm1-39h1v2h-1zm1-39h1v1h-1zm1 4h1v1h-1zm1-20h1v1h-1zm0 61h1v2h-1zm1-29h1v1h-1zm0 66h1v1h-1zm1-24h1v1h-1zm2-14h1v2h-1zm1-40h1v1h-1zm0 68h1v2h-1zm1-41h1v2h-1zm2-20h1v2h-1zm1-23h1v1h-1zm0 65h1v1h-1zm1-30h1v2h-1zm0 64h1v1h-1zm1-22h1v1h-1zm2-28h1v2h-1zm1-40h1v2h-1zm0 68h1v2h-1zm1-41h1v2h-1zm1-25h1v1h-1zm1 19h1v2h-1zm1-25h1v1h-1zm0 67h1v2h-1zm1-29h1v2h-1zm0 60h1v1h-1zm1-19h1v1h-1zm1-2h1v1h-1zm1-41h1v2h-1zm0 61h1v1h-1zm1-98h1v1h-1zm0 66h1v2h-1zm1-42h1v2h-1zm2-39h1v1h-1zm0 49h1v2h-1zm1-27h1v1h-1zm0 68h1v2h-1zm1-28h1v2h-1zm2 24h1v2h-1zm1-42h1v2h-1zm0 65h1v1h-1zm1-99h1v1h-1zm0 64h1v2h-1zm1-42h1v2h-1zm2 24h1v2h-1zm1-28h1v2h-1zm0 69h1v1h-1zm1-27h1v1h-1zm2 9h1v2h-1zm0 41h1v1h-1zm1-83h1v1h-1zm0 67h1v1h-1zm1-98h1v1h-1zm0 60h1v2h-1zm1-41h1v2h-1zm1-1h1v1h-1zm1-19h1v1h-1zm0 59h1v2h-1zm1-29h1v2h-1zm0 68h1v1h-1zm1-26h1v2h-1zm2-6h1v2h-1zm1-41h1v1h-1zm0 68h1v1h-1zm1-40h1v2h-1zm2-27h1v1h-1zm1-22h1v1h-1zm0 63h1v2h-1zm1-29h1v1h-1zm0 65h1v1h-1zm1-23h1v1h-1zm2-22h1v2h-1zm1-40h1v2h-1zm0 69h1v1h-1zm1-42h1v2h-1zm2-12h1v1h-1zm1-24h1v1h-1zm0 66h1v2h-1zm1-30h1v2h-1zm0 62h1v1h-1zm1-20h1v1h-1zm1 4h1v1h-1zm1-41h1v2h-1zm1-38h1v1h-1zm0 68h1v1h-1zm1-42h1v1h-1zm2 2h1v2h-1zm1-26h1v1h-1zm0 68h1v2h-1zm1-29h1v2h-1zm2 31h1v2h-1zm1-41h1v1h-1zm0 63h1v1h-1zm1-99h1v1h-1zm0 65h1v2h-1zm1-42h1v2h-1zm2-34h1v1h-1zm0 52h1v2h-1zm1-28h1v2h-1zm0 69h1v1h-1zm1-28h1v2h-1zm2 16h1v2h-1zm1-42h1v2h-1zm0 66h1v1h-1zm1-37h1v2h-1zm1-41h1v2h-1zm2 33h1v2h-1zm1-29h1v2h-1zm0 68h1v1h-1zm1-26h1v2h-1zm2 1h1v2h-1zm1-42h1v1h-1zm0 68h1v1h-1zm1-97h1v1h-1zm0 58h1v2h-1zm2-34h1v1h-1zm1-21h1v1h-1zm0 62h1v2h-1zm1-30h1v2h-1zm0 67h1v1h-1zm1-25h1v2h-1zm2-14h1v2h-1zm1-41h1v1h-1zm0 69h1v1h-1zm1-41h1v2h-1zm2-19h1v1h-1zm1 41h1v2h-1zm1-29h1v2h-1zm1 41h1v2h-1zm2-29h1v2h-1zm0 57h1v1h-1zm1-96h1v1h-1zm0 68h1v1h-1zm1-42h1v2h-1zm2-4h1v2h-1zm1-25h1v1h-1zm0 67h1v1h-1zm1-29h1v2h-1zm1 40h1v2h-1zm1-3h1v2h-1zm1-41h1v2h-1zm1-37h1v1h-1zm0 67h1v1h-1zm1-43h1v2h-1zm1-16h1v1h-1zm1 27h1v2h-1zm1-27h1v2h-1zm0 69h1v1h-1zm1-29h1v2h-1zm2 23h1v2h-1zm1-42h1v2h-1zm1 30h1v2h-1zm1-42h1v2h-1zm1-9h1v1h-1zm1 35h1v2h-1zm1-28h1v1h-1zm0 68h1v2h-1zm1-27h1v2h-1zm0 49h1v1h-1zm2-41h1v2h-1zm1-42h1v2h-1zm0 67h1v1h-1zm1-38h1v2h-1zm1-40h1v1h-1zm1 0h1v1h-1zm1 40h1v2h-1zm1-29h1v2h-1zm0 67h1v1h-1zm1-25h1v2h-1zm2-8h1v2h-1zm0 49h1v1h-1zm1-90h1v2h-1zm0 68h1v2h-1zm1-40h1v2h-1zm1-35h1v1h-1zm1 9h1v2h-1zm1 42h1v2h-1zm1-30h1v2h-1zm0 65h1v1h-1zm1-23h1v2h-1zm2-22h1v1h-1zm1-41h1v2h-1zm0 69h1v1h-1zm1-41h1v1h-1zm2-12h1v2h-1zm1-24h1v1h-1zm0 67h1v1h-1zm1-30h1v2h-1zm1 41h1v2h-1zm1 3h1v2h-1zm1-40h1v2h-1zm1-38h1v1h-1zm0 67h1v2h-1zm1-42h1v2h-1zm2 4h1v2h-1zm1-26h1v1h-1zm0 68h1v1h-1zm1-29h1v2h-1zm0 57h1v1h-1zm2-27h1v1h-1zm1-42h1v2h-1zm1 29h1v2h-1zm1-41h1v1h-1zm2 19h1v2h-1zm1-28h1v1h-1zm0 69h1v1h-1zm1-28h1v2h-1zm2 14h1v2h-1zm1-42h1v2h-1zm0 67h1v1h-1zm1-99h1v1h-1zm0 62h1v2h-1zm1-41h1v1h-1zm2-24h1v1h-1zm0 58h1v1h-1zm1-29h1v1h-1zm0 68h1v1h-1zm1-26h1v1h-1zm2-1h1v2h-1zm1-42h1v2h-1zm0 68h1v1h-1zm1-39h1v2h-1z"/>
<path fill-opacity=".875" d="m41 31h1v1h-1zm2 7h1v1h-1zm1 98h1v1h-1zm2-12h1v1h-1zm1-35h1v1h-1zm1-40h1v1h-1zm1-22h1v1h-1zm5 95h1v1h-1zm2 18h1v1h-1zm1-97h1v1h-1zm1-17h1v1h-1zm2 1h1v1h-1zm3 97h1v1h-1zm1-9h1v1h-1zm2-14h1v1h-1zm1-42h1v1h-1zm2-30h1v1h-1zm3 95h1v1h-1zm1-16h1v1h-1zm5-76h1v1h-1zm0 58h1v1h-1zm2 15h1v1h-1zm3 20h1v1h-1zm4-89h1v1h-1zm1 98h1v1h-1zm8-93h1v1h-1zm1 37h1v1h-1zm1 41h1v1h-1zm5-70h1v1h-1zm3 93h1v1h-1zm2-24h1v1h-1zm1-41h1v1h-1zm1-37h1v1h-1zm2 9h1v1h-1zm1-21h1v1h-1zm8 21h1v1h-1zm2 77h1v1h-1zm9-59h1v1h-1zm1 42h1v1h-1zm2-13h1v1h-1zm3-47h1v1h-1zm2 53h1v1h-1zm2 14h1v1h-1zm2 27h1v1h-1zm2-70h1v1h-1zm6 48h1v1h-1zm3-95h1v1h-1zm1 23h1v1h-1zm1 26h1v1h-1zm8-26h1v1h-1zm3 49h1v1h-1zm3-33h1v1h-1zm5 64h1v1h-1zm3 17h1v1h-1zm1-88h1v1h-1zm3-1h1v1h-1zm2 14h1v1h-1zm1 42h1v1h-1zm1 11h1v1h-1zm2-6h1v1h-1zm3-54h1v1h-1zm5 20h1v1h-1zm1-39h1v1h-1zm0 66h1v1h-1zm1-42h1v1h-1zm3-22h1v1h-1zm2 77h1v1h-1zm2-48h1v1h-1zm6 69h1v1h-1zm1-21h1v1h-1zm3-89h1v1h-1zm3-4h1v1h-1zm0 56h1v1h-1zm3 37h1v1h-1zm2-63h1v1h-1zm1 27h1v1h-1zm2-34h1v1h-1zm1 41h1v1h-1zm3 29h1v1h-1zm2-70h1v1h-1zm0 67h1v1h-1zm1-41h1v1h-1zm2-19h1v1h-1zm1-22h1v1h-1zm1 98h1v1h-1zm6-88h1v1h-1zm3 92h1v1h-1zm4-99h1v1h-1zm0 65h1v1h-1zm5-16h1v1h-1zm0 53h1v1h-1zm3-9h1v1h-1zm1-98h1v1h-1zm4 20h1v1h-1zm6-6h1v1h-1zm1 0h1v1h-1zm10-14h1v1h-1zm4 54h1v1h-1zm0 53h1v1h-1zm2-68h1v1h-1zm1-27h1v1h-1zm2-7h1v1h-1zm0 65h1v1h-1zm4 34h1v1h-1zm3-92h1v1h-1zm5 68h1v1h-1zm1 20h1v1h-1zm1-98h1v1h-1zm1 22h1v1h-1zm2 19h1v1h-1zm1-26h1v1h-1zm0 67h1v1h-1zm5-26h1v1h-1zm1-41h1v1h-1zm2 34h1v1h-1zm1-27h1v1h-1zm1 42h1v1h-1zm1 21h1v1h-1z"/>
<path fill-opacity=".891" d="m43 101h1v1h-1zm1-27h1v1h-1zm3 69h1v1h-1zm6-61h1v1h-1zm0 58h1v1h-1zm2-18h1v1h-1zm3-56h1v1h-1zm2 8h1v1h-1zm6-36h1v1h-1zm3 44h1v1h-1zm1-26h1v1h-1zm4 10h1v1h-1zm1 27h1v1h-1zm1-41h1v1h-1zm3 11h1v1h-1zm2 61h1v1h-1zm1 22h1v1h-1zm2-61h1v1h-1zm1-36h1v1h-1zm1 7h1v1h-1zm4 68h1v1h-1zm2-72h1v1h-1zm1-24h1v1h-1zm1 21h1v1h-1zm1 14h1v1h-1zm4 61h1v1h-1zm1-39h1v1h-1zm6 1h1v1h-1zm1 38h1v1h-1zm3-20h1v1h-1zm1-42h1v1h-1zm3-9h1v1h-1zm1 41h1v1h-1zm3 39h1v1h-1zm2-78h1v1h-1zm2 31h1v1h-1zm1-26h1v1h-1zm3 44h1v1h-1zm1-42h1v1h-1zm2-13h1v1h-1zm1 4h1v1h-1zm1 41h1v1h-1zm2 53h1v1h-1zm3-92h1v1h-1zm3 5h1v1h-1zm10-16h1v1h-1zm2 79h1v1h-1zm7-73h1v1h-1zm4 23h1v1h-1zm0 62h1v1h-1zm1-35h1v1h-1zm1-42h1v1h-1zm3 65h1v1h-1zm2 1h1v1h-1zm2 6h1v1h-1zm1-38h1v1h-1zm5 14h1v1h-1zm1 18h1v1h-1zm3-94h1v1h-1zm1 19h1v1h-1zm6 43h1v1h-1zm0 52h1v1h-1zm5-38h1v1h-1zm1-27h1v1h-1zm1 41h1v1h-1zm1 4h1v1h-1zm1 17h1v1h-1zm6-54h1v1h-1zm0 55h1v1h-1zm7-63h1v1h-1zm1 41h1v1h-1zm13 7h1v1h-1zm2-78h1v1h-1zm3 19h1v1h-1zm0 64h1v1h-1zm1-22h1v1h-1zm2 35h1v1h-1zm3-96h1v1h-1zm4 68h1v1h-1zm1 7h1v1h-1zm2-76h1v1h-1zm0 66h1v1h-1zm1-42h1v1h-1zm2-4h1v1h-1zm1 42h1v1h-1zm4-30h1v1h-1zm0 59h1v1h-1zm5-22h1v1h-1zm3-3h1v1h-1zm1-42h1v1h-1zm6 27h1v1h-1zm4-66h1v1h-1zm3 0h1v1h-1zm4 66h1v1h-1zm5 0h1v1h-1zm1-27h1v1h-1zm1 42h1v1h-1zm3 3h1v1h-1zm5 22h1v1h-1zm4-29h1v1h-1zm1-42h1v1h-1zm2 4h1v1h-1zm1-24h1v1h-1zm0 66h1v1h-1zm2 10h1v1h-1zm5-75h1v1h-1zm3 96h1v1h-1zm1-21h1v1h-1zm1-14h1v1h-1zm1-42h1v1h-1zm0 64h1v1h-1zm3-83h1v1h-1zm2 78h1v1h-1zm5-40h1v1h-1z"/>
<path fill-opacity=".906" d="m42 59h1v1h-1zm3 57h1v1h-1zm3-1h1v1h-1zm2-66h1v1h-1zm7 59h1v1h-1zm2-59h1v1h-1zm3 41h1v1h-1zm0 53h1v1h-1zm6-94h1v1h-1zm2 73h1v1h-1zm5-88h1v1h-1zm4 94h1v1h-1zm4-69h1v1h-1zm8 34h1v1h-1zm0 51h1v1h-1zm1-26h1v1h-1zm1-41h1v1h-1zm3 28h1v1h-1zm1 33h1v1h-1zm3 3h1v1h-1zm1-95h1v1h-1zm0 65h1v1h-1zm4-64h1v1h-1zm8 31h1v1h-1zm3 46h1v1h-1zm3-28h1v1h-1zm3-65h1v1h-1zm2 71h1v1h-1zm1 22h1v1h-1zm3-92h1v1h-1zm4 99h1v1h-1zm2-7h1v1h-1zm1 21h1v1h-1zm1-24h1v1h-1zm1-92h1v1h-1zm3 10h1v1h-1zm1 36h1v1h-1zm0 61h1v1h-1zm2-12h1v1h-1zm3-97h1v1h-1zm2 40h1v1h-1zm1 42h1v1h-1zm1-26h1v1h-1zm0 57h1v1h-1zm3-1h1v1h-1zm1-96h1v1h-1zm1 22h1v1h-1zm3 51h1v1h-1zm2 8h1v1h-1zm3-86h1v1h-1zm4 19h1v1h-1zm7-7h1v1h-1zm1-17h1v1h-1zm1 31h1v1h-1zm3 36h1v1h-1zm1 24h1v1h-1zm1-40h1v1h-1zm3-47h1v1h-1zm0 61h1v1h-1zm1 36h1v1h-1zm5-58h1v1h-1zm1-27h1v1h-1zm2-7h1v1h-1zm7 7h1v1h-1zm1 22h1v1h-1zm1 42h1v1h-1zm3 5h1v1h-1zm1 19h1v1h-1zm1-97h1v1h-1zm0 63h1v1h-1zm1-42h1v1h-1zm1-12h1v1h-1zm2 5h1v1h-1zm1 41h1v1h-1zm2 16h1v1h-1zm1-42h1v1h-1zm3-20h1v1h-1zm2 77h1v1h-1zm8-91h1v1h-1zm2 112h1v1h-1zm2-51h1v1h-1zm9-8h1v1h-1zm8 33h1v1h-1zm3-95h1v1h-1zm3 25h1v1h-1zm2 73h1v1h-1zm3-25h1v1h-1zm3-69h1v1h-1zm3 94h1v1h-1zm1-17h1v1h-1zm2-16h1v1h-1zm3 0h1v1h-1zm2 16h1v1h-1zm1 17h1v1h-1zm3-94h1v1h-1zm2 27h1v1h-1zm4 67h1v1h-1zm2-73h1v1h-1zm3-25h1v1h-1zm2 54h1v1h-1zm1 41h1v1h-1zm3-76h1v1h-1zm5 43h1v1h-1zm13-53h1v1h-1zm7 68h1v1h-1zm1-42h1v1h-1zm0 65h1v1h-1z"/>
<path fill-opacity=".922" d="m42 58h1v1h-1zm1-19h1v1h-1zm0 60h1v2h-1zm1-24h1v2h-1zm0 60h1v1h-1zm1-18h1v1h-1zm2-27h1v2h-1zm1-40h1v1h-1zm0 64h1v1h-1zm1-42h1v2h-1zm2-7h1v2h-1zm1-21h1v2h-1zm0 63h1v2h-1zm1-24h1v2h-1zm1 40h1v2h-1zm1 0h1v1h-1zm1-41h1v2h-1zm0 57h1v1h-1zm1-95h1v1h-1zm0 62h1v2h-1zm1-42h1v2h-1zm1-16h1v1h-1zm1 24h1v2h-1zm1-22h1v2h-1zm0 64h1v2h-1zm1-23h1v2h-1zm2 25h1v2h-1zm1-42h1v2h-1zm0 61h1v1h-1zm1-96h1v1h-1zm0 60h1v2h-1zm1-42h1v2h-1zm1-9h1v1h-1zm1 32h1v2h-1zm1-23h1v1h-1zm0 64h1v1h-1zm1-23h1v2h-1zm2 11h1v2h-1zm1-42h1v2h-1zm0 63h1v1h-1zm1-39h1v2h-1zm1-40h1v1h-1zm1-2h1v1h-1zm1-16h1v1h-1zm0 55h1v2h-1zm1-24h1v2h-1zm0 63h1v1h-1zm1-21h1v2h-1zm2-5h1v2h-1zm1-41h1v1h-1zm0 64h1v1h-1zm1-93h1v1h-1zm0 52h1v2h-1zm2-28h1v1h-1zm1-18h1v1h-1zm0 59h1v2h-1zm1-25h1v2h-1zm0 62h1v1h-1zm1-20h1v2h-1zm2-19h1v2h-1zm1-41h1v1h-1zm0 64h1v1h-1zm1-42h1v2h-1zm2-13h1v1h-1zm1-20h1v1h-1zm0 62h1v1h-1zm1-25h1v2h-1zm1 41h1v2h-1zm2-34h1v2h-1zm1-39h1v1h-1zm0 63h1v1h-1zm1-42h1v2h-1zm2 1h1v2h-1zm1-21h1v1h-1zm0 63h1v2h-1zm1-24h1v2h-1zm2 32h1v2h-1zm1-41h1v2h-1zm0 59h1v1h-1zm1-96h1v1h-1zm0 61h1v2h-1zm1-41h1v1h-1zm2 16h1v1h-1zm1-23h1v1h-1zm0 64h1v2h-1zm1-23h1v2h-1zm2 17h1v2h-1zm0 35h1v1h-1zm1-77h1v2h-1zm0 62h1v1h-1zm1-96h1v1h-1zm0 59h1v1h-1zm1-41h1v1h-1zm2 30h1v2h-1zm1-23h1v1h-1zm0 64h1v1h-1zm1-22h1v1h-1zm0 43h1v1h-1zm2-41h1v2h-1zm1-42h1v2h-1zm0 63h1v2h-1zm1-39h1v2h-1zm2-35h1v1h-1zm1-17h1v1h-1zm0 57h1v2h-1zm1-24h1v2h-1zm0 62h1v1h-1zm1-20h1v2h-1zm1 15h1v1h-1zm1-28h1v2h-1zm1-41h1v1h-1zm0 64h1v1h-1zm1-41h1v2h-1zm2-21h1v2h-1zm1-18h1v1h-1zm0 60h1v2h-1zm1-24h1v2h-1zm1 41h1v2h-1zm1 8h1v1h-1zm1-36h1v2h-1zm1-40h1v2h-1zm0 64h1v2h-1zm1-42h1v2h-1zm2-5h1v1h-1zm1-21h1v1h-1zm0 63h1v1h-1zm1-24h1v1h-1zm1 40h1v1h-1zm1-2h1v2h-1zm1-41h1v2h-1zm1-37h1v1h-1zm0 62h1v2h-1zm1-42h1v1h-1zm2 9h1v2h-1zm1-22h1v1h-1zm0 64h1v1h-1zm1-24h1v2h-1zm0 52h1v1h-1zm2-28h1v2h-1zm1-41h1v2h-1zm0 60h1v1h-1zm1-36h1v2h-1zm1-41h1v1h-1zm2-27h1v1h-1zm0 51h1v2h-1zm1-23h1v1h-1zm0 64h1v1h-1zm1-23h1v2h-1zm2 9h1v2h-1zm1-42h1v2h-1zm0 63h1v1h-1zm1-95h1v1h-1zm0 56h1v2h-1zm1-40h1v2h-1zm1-1h1v1h-1zm1 40h1v2h-1zm1-24h1v1h-1zm0 63h1v1h-1zm1-21h1v2h-1zm2-6h1v2h-1zm1-42h1v2h-1zm0 64h1v1h-1zm1-41h1v2h-1zm1-34h1v1h-1zm1 7h1v2h-1zm1 42h1v1h-1zm1-25h1v2h-1zm0 61h1v1h-1zm1-19h1v2h-1zm2-21h1v2h-1zm1-41h1v2h-1zm0 64h1v2h-1zm1-88h1v1h-1zm0 47h1v1h-1zm1-27h1v1h-1zm1-22h1v1h-1zm0 36h1v2h-1zm1-19h1v1h-1zm0 61h1v2h-1zm1-24h1v2h-1zm0 58h1v1h-1zm1-17h1v1h-1zm2-36h1v2h-1zm1-39h1v1h-1zm0 63h1v2h-1zm1-42h1v2h-1zm1-19h1v1h-1zm1 22h1v1h-1zm1-22h1v2h-1zm0 64h1v1h-1zm1-24h1v2h-1zm2 31h1v1h-1zm1-42h1v2h-1zm0 59h1v1h-1zm1-95h1v1h-1zm0 61h1v1h-1zm1-42h1v1h-1zm1-12h1v1h-1zm1 29h1v2h-1zm1-22h1v1h-1zm0 64h1v1h-1zm1-23h1v2h-1zm2 16h1v1h-1zm0 35h1v1h-1zm1-77h1v1h-1zm0 62h1v1h-1zm1-96h1v1h-1zm0 58h1v2h-1zm1-41h1v2h-1zm2 32h1v2h-1zm1-24h1v2h-1zm0 64h1v1h-1zm1-22h1v2h-1zm2 1h1v2h-1zm1-42h1v2h-1zm0 64h1v1h-1zm1-94h1v1h-1zm0 54h1v2h-1zm2-34h1v2h-1zm1 41h1v2h-1zm1-24h1v2h-1zm0 62h1v1h-1zm1-20h1v2h-1zm2-14h1v1h-1zm1-42h1v2h-1zm0 64h1v2h-1zm1-90h1v1h-1zm0 49h1v2h-1zm2-19h1v2h-1zm1-19h1v1h-1zm0 61h1v2h-1zm1-25h1v2h-1zm0 60h1v1h-1zm1-18h1v1h-1zm2-29h1v2h-1zm0 53h1v1h-1zm1-93h1v1h-1zm0 63h1v2h-1zm1-85h1v1h-1zm0 43h1v2h-1zm2-4h1v2h-1zm1-21h1v2h-1zm0 63h1v2h-1zm1-24h1v2h-1zm0 56h1v1h-1zm1-16h1v1h-1zm1-2h1v1h-1zm1-41h1v2h-1zm0 57h1v1h-1zm1-95h1v1h-1zm0 62h1v2h-1zm1-42h1v2h-1zm2 11h1v2h-1zm1-22h1v1h-1zm0 63h1v2h-1zm1-23h1v2h-1zm2 23h1v1h-1zm1-42h1v2h-1zm0 61h1v1h-1zm1-96h1v1h-1zm0 59h1v2h-1zm1-41h1v2h-1zm2 26h1v2h-1zm1-24h1v2h-1zm0 64h1v2h-1zm1-22h1v2h-1zm2 8h1v1h-1zm1-43h1v2h-1zm0 63h1v2h-1zm1-94h1v1h-1zm0 56h1v1h-1zm1-40h1v1h-1zm1 0h1v1h-1zm1 39h1v2h-1zm1-24h1v2h-1zm0 63h1v2h-1zm1-20h1v1h-1zm2-8h1v2h-1zm1-42h1v2h-1zm0 64h1v2h-1zm1-40h1v2h-1zm2-26h1v1h-1zm1-18h1v1h-1zm0 59h1v2h-1zm1-24h1v2h-1zm0 61h1v1h-1zm1-19h1v1h-1zm2-23h1v2h-1zm1-40h1v1h-1zm0 64h1v1h-1zm1-42h1v2h-1zm2-11h1v2h-1zm1-20h1v1h-1zm0 62h1v2h-1zm1-24h1v2h-1zm0 57h1v1h-1zm1-16h1v1h-1zm1 2h1v1h-1zm1-40h1v2h-1zm0 56h1v1h-1zm1-94h1v1h-1zm0 62h1v2h-1zm1-42h1v2h-1zm2-39h1v1h-1zm0 43h1v2h-1zm1-21h1v1h-1zm0 63h1v2h-1zm1-23h1v1h-1zm0 53h1v1h-1zm2-24h1v2h-1zm1-42h1v2h-1zm0 60h1v1h-1zm1-96h1v1h-1zm0 61h1v2h-1zm1-42h1v2h-1zm2-30h1v1h-1zm0 49h1v2h-1zm1-23h1v2h-1zm0 64h1v2h-1zm1-23h1v2h-1zm2 15h1v2h-1zm0 36h1v1h-1zm1-78h1v2h-1zm0 62h1v1h-1zm1-38h1v2h-1zm1-41h1v2h-1zm2-20h1v1h-1zm0 54h1v2h-1zm1-24h1v2h-1zm0 64h1v1h-1zm1-22h1v2h-1zm2 0h1v1h-1zm1-42h1v1h-1zm0 63h1v1h-1zm1-40h1v2h-1z"/>
<path fill-opacity=".938" d="m41 30h1v1h-1zm7 21h1v1h-1zm2-3h1v1h-1zm3 91h1v1h-1zm3-55h1v1h-1zm1-39h1v1h-1zm8 31h1v1h-1zm4-46h1v1h-1zm1 28h1v1h-1zm1 42h1v1h-1zm0 45h1v1h-1zm3-16h1v1h-1zm1-94h1v1h-1zm2 13h1v1h-1zm5 55h1v1h-1zm1-42h1v1h-1zm0 62h1v1h-1zm2-75h1v1h-1zm1 6h1v1h-1zm6 0h1v1h-1zm2-6h1v1h-1zm1-22h1v1h-1zm0 35h1v1h-1zm1 42h1v1h-1zm1 34h1v1h-1zm6-89h1v1h-1zm3 93h1v1h-1zm1-16h1v1h-1zm4-99h1v1h-1zm0 34h1v1h-1zm2 16h1v1h-1zm1-21h1v1h-1zm1 89h1v1h-1zm1-19h1v1h-1zm3-31h1v1h-1zm1-41h1v1h-1zm3 9h1v1h-1zm0 62h1v1h-1zm1-20h1v1h-1zm1 21h1v1h-1zm3-39h1v1h-1zm8-29h1v1h-1zm5 78h1v1h-1zm3-44h1v1h-1zm0 51h1v1h-1zm4-77h1v1h-1zm1 42h1v1h-1zm1-22h1v1h-1zm3-2h1v1h-1zm2-20h1v1h-1zm3-11h1v1h-1zm1 41h1v1h-1zm4-54h1v1h-1zm1 17h1v1h-1zm3 65h1v1h-1zm8-33h1v1h-1zm1-22h1v1h-1zm0 61h1v1h-1zm8-89h1v1h-1zm0 58h1v1h-1zm6-22h1v1h-1zm5 48h1v1h-1zm2 18h1v1h-1zm1-93h1v1h-1zm3-20h1v1h-1zm0 42h1v1h-1zm1 42h1v1h-1zm5-10h1v1h-1zm3-72h1v1h-1zm1 89h1v1h-1zm3-5h1v1h-1zm1-42h1v1h-1zm0 60h1v1h-1zm1-38h1v1h-1zm2-45h1v1h-1zm1-16h1v1h-1zm2 114h1v1h-1zm5-98h1v1h-1zm2-12h1v1h-1zm4 62h1v1h-1zm5 2h1v1h-1zm1-22h1v1h-1zm1 41h1v1h-1zm1 6h1v1h-1zm8 0h1v1h-1zm6-97h1v1h-1zm2 115h1v1h-1zm1-18h1v1h-1zm1-9h1v1h-1zm5-35h1v1h-1zm3 44h1v1h-1zm1-16h1v1h-1zm1-42h1v1h-1zm1 22h1v1h-1zm1-40h1v1h-1zm1 0h1v1h-1zm1-15h1v1h-1zm2 75h1v1h-1zm1 16h1v1h-1zm3-44h1v1h-1zm5 35h1v1h-1zm1 9h1v1h-1zm1 18h1v1h-1zm1-28h1v1h-1zm1-87h1v1h-1zm13 62h1v1h-1zm3-12h1v1h-1zm3-30h1v1h-1zm7-12h1v1h-1zm2 12h1v1h-1zm2 77h1v1h-1zm3-20h1v1h-1zm0 41h1v1h-1z"/>
<path fill-opacity=".953" d="m42 57h1v1h-1zm1-17h1v1h-1zm2 78h1v1h-1zm2-26h1v1h-1zm0 50h1v1h-1zm1-29h1v1h-1zm1-42h1v1h-1zm2-7h1v1h-1zm1 42h1v1h-1zm3 18h1v1h-1zm10 10h1v1h-1zm1-36h1v1h-1zm4 22h1v1h-1zm6-70h1v1h-1zm2 37h1v1h-1zm9-49h1v1h-1zm0 57h1v1h-1zm1-22h1v1h-1zm0 59h1v1h-1zm1-17h1v1h-1zm0 32h1v1h-1zm3-31h1v1h-1zm4-73h1v1h-1zm1 38h1v1h-1zm2 44h1v1h-1zm2-16h1v1h-1zm1-42h1v1h-1zm2-40h1v1h-1zm0 41h1v1h-1zm1 42h1v1h-1zm4 26h1v1h-1zm1-94h1v1h-1zm2 6h1v1h-1zm1-19h1v1h-1zm4 85h1v1h-1zm1-42h1v1h-1zm1-35h1v1h-1zm3-5h1v1h-1zm6 1h1v1h-1zm2 18h1v1h-1zm5 48h1v1h-1zm2-21h1v1h-1zm10-30h1v1h-1zm2-2h1v1h-1zm1 93h1v1h-1zm1-14h1v1h-1zm2 13h1v1h-1zm1-33h1v1h-1zm2-57h1v1h-1zm1-20h1v1h-1zm1 86h1v1h-1zm2 11h1v1h-1zm1-8h1v1h-1zm4-69h1v1h-1zm1 32h1v1h-1zm1-21h1v1h-1zm1 42h1v1h-1zm0 44h1v1h-1zm1-20h1v1h-1zm2-57h1v1h-1zm0 60h1v1h-1zm3-80h1v1h-1zm1-14h1v1h-1zm5 88h1v1h-1zm1-91h1v1h-1zm4 43h1v1h-1zm1 73h1v1h-1zm2-4h1v1h-1zm9-56h1v1h-1zm6 54h1v1h-1zm2-21h1v1h-1zm1-41h1v1h-1zm2-53h1v1h-1zm0 33h1v1h-1zm3-3h1v1h-1zm1 88h1v1h-1zm8-81h1v1h-1zm1 42h1v1h-1zm1 20h1v1h-1zm1-19h1v1h-1zm1 19h1v1h-1zm1-40h1v1h-1zm3 7h1v1h-1zm1 38h1v1h-1zm2-5h1v1h-1zm4-77h1v1h-1zm2-7h1v1h-1zm5 9h1v1h-1zm2-2h1v1h-1zm3 38h1v1h-1zm4-42h1v1h-1zm1 18h1v1h-1zm1-14h1v1h-1zm1 25h1v1h-1zm1-20h1v1h-1zm1 41h1v1h-1zm2 53h1v1h-1zm1-14h1v1h-1zm2-78h1v1h-1zm12 12h1v1h-1zm4-7h1v1h-1zm3-5h1v1h-1zm2 78h1v1h-1zm1 14h1v1h-1zm2-53h1v1h-1zm1-41h1v1h-1zm1 20h1v1h-1zm1-25h1v1h-1zm1 14h1v1h-1zm1-18h1v1h-1zm3 81h1v1h-1zm1-39h1v1h-1zm3-38h1v1h-1zm2 2h1v1h-1zm2 75h1v1h-1zm3-84h1v1h-1zm0 59h1v1h-1zm1-74h1v1h-1zm2 51h1v1h-1zm2 21h1v1h-1zm1 27h1v1h-1zm3-33h1v1h-1zm3-7h1v1h-1zm2 61h1v1h-1zm3-83h1v1h-1z"/>
<path fill-opacity=".969" d="m43 98h1v1h-1zm1-21h1v1h-1zm0 57h1v1h-1zm2-9h1v1h-1zm10 13h1v1h-1zm4-110h1v1h-1zm1 24h1v1h-1zm0 61h1v1h-1zm1 29h1v1h-1zm1-17h1v1h-1zm1 22h1v1h-1zm2-107h1v1h-1zm3 39h1v1h-1zm3 46h1v1h-1zm3-35h1v1h-1zm4 36h1v1h-1zm1-18h1v1h-1zm1 17h1v1h-1zm3-43h1v1h-1zm6 43h1v1h-1zm1 18h1v1h-1zm9-55h1v1h-1zm0 52h1v1h-1zm1-92h1v1h-1zm1-21h1v1h-1zm3 22h1v1h-1zm1 40h1v1h-1zm2 32h1v1h-1zm1-41h1v1h-1zm3-33h1v1h-1zm2 70h1v1h-1zm1-20h1v1h-1zm3 34h1v1h-1zm3-84h1v2h-1zm5 60h1v1h-1zm0 39h1v1h-1zm3-99h1v2h-1zm2-11h1v1h-1zm0 55h1v1h-1zm1-21h1v1h-1zm1 42h1v1h-1zm3 7h1v1h-1zm1-89h1v1h-1zm1 17h1v2h-1zm1-21h1v1h-1zm1 73h1v1h-1zm2 48h1v1h-1zm3-96h1v1h-1zm0 61h1v1h-1zm1-42h1v1h-1zm1-23h1v1h-1zm7-2h1v1h-1zm2 2h1v1h-1zm1 25h1v1h-1zm4 75h1v1h-1zm2-50h1v1h-1zm2-50h1v1h-1zm5 63h1v1h-1zm2-75h1v1h-1zm1 14h1v1h-1zm5 76h1v1h-1zm9 0h1v1h-1zm1-30h1v1h-1zm1-41h1v1h-1zm0 61h1v1h-1zm3-54h1v1h-1zm2 21h1v1h-1zm0 55h1v1h-1zm2-12h1v2h-1zm2-17h1v1h-1zm1-42h1v1h-1zm4 24h1v1h-1zm1 35h1v1h-1zm3-83h1v1h-1zm3 34h1v1h-1zm3 49h1v1h-1zm3-88h1v1h-1zm1 15h1v1h-1zm2 32h1v1h-1zm1 40h1v1h-1zm3 22h1v1h-1zm1-82h1v1h-1zm1-31h1v1h-1zm7 111h1v1h-1zm1-87h1v1h-1zm1 20h1v1h-1zm1-30h1v1h-1zm1-21h1v1h-1zm0 32h1v1h-1zm2 77h1v1h-1zm3 6h1v1h-1zm3-94h1v1h-1zm5 76h1v1h-1zm1-40h1v1h-1zm1 21h1v1h-1zm2-57h1v1h-1zm6 28h1v1h-1zm1-36h1v1h-1zm2 8h1v2h-1zm1-16h1v1h-1zm1 29h1v1h-1zm0 61h1v1h-1zm1-19h1v1h-1zm0 43h1v1h-1zm11-43h1v1h-1zm0 43h1v1h-1zm1-24h1v1h-1zm1-90h1v1h-1zm1 16h1v2h-1zm2-8h1v1h-1zm1 36h1v1h-1zm6-28h1v1h-1zm2 57h1v1h-1zm2 19h1v1h-1zm3-76h1v1h-1zm2 0h1v1h-1zm3 94h1v1h-1zm3-6h1v1h-1zm2-77h1v1h-1zm3-1h1v1h-1zm1 87h1v1h-1zm3-14h1v1h-1zm4-97h1v1h-1zm1 31h1v1h-1zm1 42h1v1h-1zm1 19h1v2h-1zm2-1h1v1h-1zm1-40h1v1h-1z"/>
<path fill-opacity=".984" d="m41 29h1v1h-1zm1 26h1v2h-1zm1-14h1v1h-1zm0 55h1v2h-1zm1-18h1v2h-1zm0 55h1v1h-1zm1-14h1v2h-1zm0 28h1v1h-1zm1-21h1v1h-1zm1-33h1v2h-1zm0 48h1v1h-1zm1-89h1v2h-1zm0 59h1v2h-1zm1-83h1v1h-1zm0 41h1v2h-1zm1-23h1v2h-1zm1 16h1v2h-1zm1-16h1v2h-1zm0 58h1v2h-1zm1-19h1v3h-1zm0 53h1v1h-1zm1-13h1v2h-1zm1 0h1v2h-1zm1-40h1v2h-1zm1-39h1v2h-1zm0 58h1v2h-1zm1-42h1v2h-1zm1-16h1v2h-1zm1 23h1v3h-1zm1-16h1v1h-1zm0 58h1v2h-1zm1-18h1v2h-1zm1 33h1v1h-1zm1-8h1v2h-1zm1-41h1v2h-1zm0 56h1v1h-1zm1-92h1v1h-1zm0 55h1v2h-1zm1-70h1v1h-1zm0 29h1v2h-1zm1-9h1v2h-1zm1-15h1v1h-1zm0 46h1v2h-1zm1-18h1v2h-1zm0 59h1v2h-1zm1-17h1v2h-1zm1 25h1v1h-1zm1-15h1v3h-1zm1-42h1v3h-1zm0 58h1v2h-1zm1-91h1v1h-1zm0 52h1v2h-1zm1-40h1v2h-1zm1-2h1v2h-1zm1-12h1v1h-1zm0 51h1v2h-1zm1-19h1v3h-1zm0 59h1v1h-1zm1-16h1v2h-1zm0 37h1v1h-1zm1-20h1v1h-1zm1-22h1v2h-1zm0 41h1v1h-1zm1-83h1v2h-1zm0 59h1v2h-1zm1-89h1v1h-1zm0 48h1v2h-1zm1-34h1v2h-1zm1-20h1v1h-1zm0 26h1v2h-1zm1-13h1v1h-1zm0 54h1v2h-1zm1-19h1v2h-1zm0 57h1v1h-1zm1-15h1v2h-1zm1 10h1v1h-1zm1-30h1v3h-1zm1-41h1v2h-1zm0 59h1v2h-1zm1-85h1v1h-1zm0 43h1v3h-1zm1-25h1v1h-1zm1 12h1v2h-1zm1-15h1v1h-1zm0 57h1v2h-1zm1-19h1v2h-1zm0 54h1v1h-1zm1-14h1v2h-1zm1 4h1v1h-1zm1-37h1v2h-1zm0 50h1v1h-1zm1-90h1v1h-1zm0 58h1v2h-1zm1-42h1v2h-1zm1-18h1v1h-1zm1 19h1v2h-1zm1-16h1v1h-1zm0 58h1v2h-1zm1-18h1v2h-1zm0 50h1v1h-1zm1-14h1v1h-1zm1-4h1v1h-1zm1-41h1v2h-1zm0 54h1v1h-1zm1-92h1v1h-1zm0 56h1v3h-1zm1-41h1v2h-1zm2 16h1v2h-1zm1-18h1v2h-1zm0 59h1v2h-1zm1-17h1v2h-1zm0 45h1v1h-1zm1-17h1v2h-1zm1-11h1v2h-1zm1-42h1v2h-1zm0 57h1v1h-1zm1-92h1v1h-1zm0 54h1v2h-1zm1-41h1v2h-1zm2-18h1v1h-1zm0 48h1v3h-1zm1-18h1v2h-1zm0 59h1v2h-1zm1-17h1v2h-1zm1 21h1v2h-1zm1-18h1v2h-1zm1-43h1v2h-1zm0 59h1v2h-1zm1-90h1v1h-1zm0 50h1v2h-1zm2-35h1v2h-1zm1-12h1v1h-1zm0 52h1v2h-1zm1-18h1v2h-1zm0 57h1v2h-1zm1-15h1v2h-1zm1 13h1v2h-1zm1-26h1v2h-1zm0 44h1v1h-1zm1-86h1v2h-1zm0 59h1v2h-1zm1-41h1v2h-1zm2-20h1v2h-1zm1-15h1v2h-1zm0 56h1v2h-1zm1-19h1v3h-1zm0 56h1v1h-1zm1-15h1v2h-1zm1 7h1v2h-1zm1-34h1v2h-1zm0 49h1v1h-1zm1-89h1v1h-1zm0 58h1v2h-1zm1-82h1v1h-1zm0 40h1v2h-1zm2-5h1v2h-1zm1-16h1v2h-1zm0 58h1v2h-1zm1-19h1v2h-1zm0 52h1v1h-1zm1-12h1v2h-1zm1-2h1v2h-1zm1-40h1v2h-1zm0 53h1v1h-1zm1-91h1v1h-1zm0 57h1v2h-1zm1-42h1v2h-1zm2 9h1v2h-1zm1-17h1v2h-1zm0 59h1v2h-1zm1-18h1v2h-1zm0 48h1v1h-1zm1-16h1v1h-1zm1-8h1v2h-1zm1-42h1v3h-1zm0 56h1v2h-1zm1-92h1v1h-1zm0 55h1v2h-1zm1-69h1v1h-1zm0 28h1v2h-1zm2-23h1v1h-1zm0 47h1v2h-1zm1-18h1v2h-1zm0 59h1v2h-1zm1-17h1v2h-1zm1 24h1v1h-1zm1-15h1v2h-1zm1-42h1v2h-1zm0 58h1v1h-1zm1-91h1v1h-1zm0 51h1v3h-1zm1-39h1v1h-1zm1-1h1v1h-1zm1-12h1v1h-1zm0 51h1v2h-1zm1-19h1v2h-1zm0 58h1v2h-1zm1-16h1v2h-1zm1 17h1v1h-1zm1-23h1v2h-1zm0 42h1v1h-1zm1-84h1v2h-1zm0 59h1v2h-1zm1-88h1v1h-1zm0 47h1v3h-1zm1-33h1v2h-1zm1-20h1v1h-1zm0 27h1v2h-1zm1-14h1v1h-1zm0 55h1v2h-1zm1-19h1v2h-1zm0 56h1v2h-1zm1-15h1v2h-1zm1 10h1v1h-1zm1-30h1v2h-1zm1-41h1v1h-1zm0 59h1v1h-1zm1-85h1v1h-1zm0 43h1v2h-1zm1-26h1v2h-1zm1 13h1v2h-1zm1-15h1v2h-1zm0 57h1v3h-1zm1-18h1v2h-1zm0 53h1v1h-1zm1-13h1v2h-1zm2-35h1v2h-1zm0 51h1v1h-1zm1-91h1v2h-1zm0 58h1v2h-1zm1-79h1v1h-1zm0 37h1v2h-1zm1-18h1v2h-1zm1 21h1v2h-1zm1-17h1v2h-1zm0 59h1v2h-1zm1-18h1v2h-1zm0 49h1v1h-1zm1-14h1v1h-1zm1-5h1v2h-1zm0 26h1v1h-1zm1-67h1v2h-1zm0 55h1v1h-1zm1-92h1v1h-1zm0 56h1v2h-1zm1-42h1v2h-1zm1-11h1v2h-1zm1-16h1v1h-1zm0 44h1v2h-1zm1-17h1v2h-1zm0 59h1v2h-1zm1-18h1v3h-1zm1 28h1v1h-1zm1-12h1v2h-1zm1-42h1v2h-1zm0 57h1v2h-1zm1-91h1v1h-1zm0 53h1v2h-1zm1-40h1v1h-1zm1-5h1v2h-1zm1-13h1v1h-1zm0 49h1v2h-1zm1-18h1v2h-1zm0 59h1v1h-1zm1-17h1v2h-1zm1 20h1v1h-1zm1-19h1v2h-1zm1-42h1v2h-1zm0 58h1v2h-1zm1-40h1v2h-1zm1-36h1v1h-1zm1 3h1v2h-1zm1-13h1v1h-1zm0 53h1v2h-1zm1-19h1v3h-1zm0 58h1v1h-1zm1-16h1v2h-1zm1 13h1v1h-1zm1-27h1v2h-1zm1-41h1v1h-1zm0 59h1v2h-1zm1-87h1v1h-1zm0 45h1v2h-1zm2-19h1v2h-1zm1-14h1v1h-1zm0 56h1v2h-1zm1-19h1v2h-1zm0 55h1v1h-1zm1-14h1v2h-1zm0 27h1v1h-1zm1-21h1v1h-1zm1-35h1v3h-1zm1-40h1v2h-1zm0 59h1v2h-1zm1-42h1v2h-1zm2-5h1v3h-1zm1-16h1v2h-1zm0 58h1v3h-1zm1-18h1v2h-1zm0 52h1v1h-1zm1-13h1v1h-1zm1-2h1v1h-1zm1-40h1v2h-1zm0 53h1v1h-1zm1-92h1v2h-1zm0 57h1v2h-1zm1-42h1v2h-1zm2 11h1v2h-1zm1-17h1v2h-1zm0 59h1v2h-1zm1-18h1v2h-1zm0 47h1v1h-1zm1-16h1v2h-1zm1-9h1v2h-1zm1-41h1v2h-1zm0 56h1v1h-1zm1-92h1v1h-1zm0 54h1v3h-1zm1-68h1v1h-1zm0 27h1v2h-1zm2 26h1v2h-1zm1-18h1v2h-1zm0 59h1v1h-1zm1-17h1v2h-1zm1 23h1v2h-1zm1-16h1v2h-1zm1-42h1v2h-1zm0 58h1v2h-1zm1-91h1v1h-1zm0 52h1v2h-1zm1-40h1v2h-1zm1 0h1v2h-1zm1-12h1v1h-1zm0 51h1v3h-1zm1-18h1v2h-1zm0 58h1v2h-1zm1-16h1v2h-1zm1 16h1v2h-1zm1-23h1v2h-1zm1-42h1v2h-1zm0 59h1v1h-1zm1-41h1v2h-1zm2-26h1v2h-1zm1-13h1v1h-1zm0 54h1v3h-1zm1-18h1v2h-1zm0 56h1v1h-1zm1-15h1v2h-1zm1 9h1v1h-1zm1-31h1v2h-1zm0 47h1v1h-1zm1-88h1v2h-1zm0 59h1v2h-1zm1-42h1v2h-1zm2-11h1v2h-1zm1-15h1v2h-1zm0 57h1v2h-1zm1-19h1v3h-1zm0 54h1v1h-1zm1-13h1v1h-1zm1 2h1v1h-1zm1-39h1v2h-1zm0 52h1v1h-1zm1-91h1v1h-1zm0 57h1v3h-1zm1-78h1v1h-1zm0 37h1v2h-1zm2 3h1v3h-1zm1-16h1v2h-1zm0 59h1v2h-1zm1-19h1v2h-1zm1 35h1v1h-1zm1-6h1v2h-1zm0 27h1v1h-1zm1-68h1v2h-1zm0 55h1v1h-1zm1-92h1v1h-1zm0 56h1v2h-1zm1-42h1v2h-1zm1-9h1v1h-1zm1-17h1v1h-1zm0 45h1v2h-1zm1-17h1v1h-1zm0 59h1v2h-1zm1-18h1v2h-1zm1 27h1v1h-1zm1-13h1v2h-1zm1-42h1v3h-1zm0 58h1v1h-1zm1-92h1v1h-1zm0 53h1v2h-1zm1-40h1v2h-1zm1-3h1v1h-1zm1 36h1v2h-1zm1-18h1v2h-1zm0 58h1v2h-1zm1-16h1v2h-1zm2-1h1v2h-1zm1-42h1v2h-1zm0 59h1v1h-1zm1-41h1v2h-1z"/>
<path d="m41 27h1v2h-1zm1 0h1v28h-1zm1 15h1v54h-1zm1 38h1v53h-1zm1 41h1v26h-1zm1 6h1v21h-1zm1-32h1v46h-1zm1-41h1v57h-1zm1-25h1v40h-1zm1-3h1v20h-1zm1 1h1v35h-1zm1 21h1v56h-1zm1 40h1v50h-1zm1 39h1v21h-1zm1 0h1v21h-1zm1-40h1v51h-1zm1-39h1v56h-1zm1-21h1v35h-1zm1-1h1v20h-1zm1 3h1v40h-1zm1 25h1v57h-1zm1 41h1v47h-1zm1 32h1v21h-1zm1-7h1v27h-1zm1-41h1v54h-1zm1-37h1v54h-1zm1-15h1v28h-1zm1-1h1v20h-1zm1 6h1v45h-1zm1 29h1v57h-1zm1 42h1v42h-1zm1 24h1v21h-1zm1-13h1v33h-1zm1-42h1v55h-1zm1-35h1v51h-1zm1-11h1v22h-1zm1 0h1v20h-1zm1 9h1v50h-1zm1 34h1v56h-1zm1 42h1v35h-1zm1 16h1v21h-1zm1-21h1v39h-1zm1-42h1v57h-1zm1-31h1v47h-1zm1-7h1v20h-1zm1 1h1v25h-1zm1 13h1v53h-1zm1 36h1v55h-1zm1 42h1v29h-1zm1 9h1v21h-1zm1-28h1v44h-1zm1-42h1v57h-1zm1-27h1v42h-1zm1-4h1v21h-1zm1 1h1v32h-1zm1 18h1v56h-1zm1 39h1v52h-1zm1 40h1v24h-1zm1 3h1v21h-1zm1-36h1v48h-1zm1-41h1v57h-1zm1-22h1v37h-1zm1-2h1v21h-1zm1 2h1v38h-1zm1 23h1v57h-1zm1 41h1v48h-1zm1 35h1v21h-1zm1-4h1v25h-1zm1-40h1v52h-1zm1-39h1v55h-1zm1-17h1v31h-1zm1-1h1v21h-1zm1 4h1v44h-1zm1 28h1v57h-1zm1 42h1v43h-1zm1 28h1v20h-1zm1-11h1v30h-1zm1-42h1v55h-1zm1-36h1v53h-1zm1-13h1v25h-1zm1 0h1v21h-1zm1 8h1v47h-1zm1 31h1v57h-1zm1 42h1v39h-1zm1 21h1v20h-1zm1-18h1v36h-1zm1-43h1v57h-1zm1-32h1v49h-1zm1-9h1v21h-1zm1 0h1v23h-1zm1 12h1v51h-1zm1 35h1v55h-1zm1 42h1v32h-1zm1 13h1v20h-1zm1-26h1v42h-1zm1-42h1v57h-1zm1-29h1v45h-1zm1-5h1v21h-1zm1 1h1v29h-1zm1 16h1v54h-1zm1 38h1v53h-1zm1 40h1v26h-1zm1 7h1v20h-1zm1-34h1v47h-1zm1-41h1v57h-1zm1-24h1v39h-1zm1-3h1v21h-1zm1 1h1v36h-1zm1 22h1v56h-1zm1 39h1v50h-1zm1 40h1v20h-1zm1-2h1v22h-1zm1-40h1v51h-1zm1-39h1v56h-1zm1-20h1v34h-1zm1-1h1v21h-1zm1 3h1v41h-1zm1 26h1v57h-1zm1 41h1v46h-1zm1 31h1v21h-1zm1-7h1v27h-1zm1-41h1v53h-1zm1-38h1v54h-1zm1-14h1v27h-1zm1-1h1v21h-1zm1 6h1v46h-1zm1 30h1v57h-1zm1 42h1v41h-1zm1 23h1v21h-1zm1-14h1v34h-1zm1-42h1v56h-1zm1-34h1v50h-1zm1-11h1v22h-1zm1 0h1v21h-1zm1 10h1v50h-1zm1 33h1v56h-1zm1 42h1v36h-1zm1 16h1v21h-1zm1-22h1v40h-1zm1-42h1v57h-1zm1-30h1v46h-1zm1-7h1v20h-1zm1 1h1v26h-1zm1 13h1v54h-1zm1 37h1v54h-1zm1 41h1v29h-1zm1 9h1v21h-1zm1-29h1v45h-1zm1-42h1v58h-1zm1-26h1v42h-1zm1-4h1v20h-1zm1 1h1v32h-1zm1 19h1v55h-1zm1 39h1v51h-1zm1 40h1v23h-1zm1 2h1v21h-1zm1-37h1v49h-1zm1-40h1v56h-1zm1-22h1v36h-1zm1-2h1v20h-1zm1 2h1v39h-1zm1 24h1v57h-1zm1 41h1v47h-1zm1 34h1v21h-1zm1-4h1v24h-1zm1-41h1v53h-1zm1-38h1v55h-1zm1-17h1v30h-1zm1-1h1v20h-1zm1 5h1v43h-1zm1 28h1v57h-1zm1 42h1v43h-1zm1 26h1v21h-1zm1-11h1v31h-1zm1-42h1v55h-1zm1-35h1v52h-1zm1-13h1v25h-1zm1 0h1v20h-1zm1 8h1v48h-1zm1 32h1v57h-1zm1 42h1v38h-1zm1 19h1v21h-1zm1-18h1v37h-1zm1-42h1v56h-1zm1-33h1v49h-1zm1-8h1v21h-1zm1 0h1v24h-1zm1 12h1v52h-1zm1 36h1v55h-1zm1 41h1v32h-1zm1 12h1v21h-1zm1-26h1v43h-1zm1-42h1v58h-1zm1-28h1v44h-1zm1-5h1v21h-1zm1 1h1v29h-1zm1 16h1v55h-1zm1 38h1v53h-1zm1 41h1v25h-1zm1 5h1v21h-1zm1-33h1v47h-1zm1-41h1v57h-1zm1-25h1v40h-1zm1-2h1v21h-1zm1 1h1v36h-1zm1 22h1v56h-1zm1 40h1v50h-1zm1 38h1v21h-1zm1-2h1v23h-1zm1-39h1v51h-1zm1-39h1v55h-1zm1-20h1v33h-1zm1-1h1v21h-1zm1 3h1v42h-1zm1 27h1v57h-1zm1 41h1v45h-1zm1 31h1v20h-1zm1-9h1v28h-1zm1-41h1v54h-1zm1-37h1v53h-1zm1-14h1v26h-1zm1-1h1v21h-1zm1 6h1v47h-1zm1 31h1v57h-1zm1 42h1v40h-1zm1 23h1v20h-1zm1-16h1v35h-1zm1-42h1v56h-1zm1-34h1v51h-1zm1-10h1v21h-1zm1 0h1v21h-1zm1 10h1v50h-1zm1 34h1v56h-1zm1 42h1v35h-1zm1 16h1v20h-1zm1-23h1v40h-1zm1-42h1v57h-1zm1-31h1v47h-1zm1-6h1v21h-1zm1 0h1v27h-1zm1 15h1v53h-1zm1 37h1v54h-1zm1 41h1v28h-1zm1 8h1v21h-1zm1-30h1v45h-1zm1-41h1v57h-1zm1-27h1v42h-1zm1-3h1v21h-1zm1 1h1v33h-1zm1 20h1v55h-1zm1 39h1v51h-1zm1 39h1v23h-1zm1 2h1v21h-1zm1-38h1v50h-1zm1-40h1v56h-1zm1-21h1v36h-1zm1-2h1v21h-1zm1 2h1v39h-1zm1 25h1v57h-1zm1 40h1v48h-1zm1 34h1v21h-1zm1-5h1v25h-1zm1-41h1v53h-1zm1-38h1v55h-1zm1-16h1v29h-1zm1-1h1v21h-1zm1 5h1v44h-1zm1 28h1v58h-1zm1 42h1v43h-1zm1 26h1v21h-1zm1-12h1v32h-1zm1-41h1v55h-1zm1-36h1v52h-1zm1-12h1v24h-1zm1 0h1v21h-1zm1 8h1v49h-1zm1 33h1v56h-1zm1 42h1v37h-1zm1 18h1v21h-1zm1-19h1v38h-1zm1-42h1v57h-1zm1-8h1v24h-1z"/>
</g>
</g>
<g id="plotx"><use href="#plot"/><g mask="url(#mx)"><use href="#plot" x="1"/></g></g>
</defs>
<use href="#plotx"/><g mask="url(#my)"><use href="#plotx" y="1"/></g>
<g id="yticks" transform="scale(.86 1)">
<text class="tk" x="142.6 183" y="160.8 160.8">20</text>
<text class="tk" style="stroke:#262626;stroke-width:.5px" x="143.7 183" y="310.8 310.8">10</text>
<text class="tk" x="183" y="460.8">0</text>
<text class="tk" style="stroke:#262626;stroke-width:.35px" x="120.1 143.7 183" y="615.8 610.8 610.8">-10</text>
<text class="tk" style="stroke:#fff;stroke-width:.2px" x="120.1 142.6 183" y="770.8 765.8 765.8">-20</text>
<rect x="145.6" y="302.5" width="12.8" height="9.8" fill="#fff"/>
<rect x="167.8" y="302.5" width="12" height="9.8" fill="#fff"/>
<rect x="145.6" y="602.5" width="12.9" height="9.8" fill="#fff"/>
<rect x="167.7" y="602.5" width="12.1" height="9.8" fill="#fff"/>
</g>
<g id="xticks" transform="scale(.86 1)">
<text class="tk" x="224" y="895.8">0</text>
<text class="tk" style="stroke:#fff;stroke-width:.6px" x="613.6 654.6" y="895.8 895.8">50</text>
<text class="tk" style="stroke:#262626;stroke-width:.3px" x="998.9 1038.5 1079.1" y="895.8 895.8 895.8">100</text>
<text class="tk" style="stroke:#fff;stroke-width:.13px" x="1406.3 1445.3 1486.2" y="895.8 895.8 895.8">150</text>
<text class="tk" x="1817.8 1858.4 1899" y="895.8 895.8 895.8">200</text>
<rect x="1000.8" y="887.5" width="12.9" height="9.8" fill="#fff"/>
<rect x="1022.9" y="887.5" width="12.1" height="9.8" fill="#fff"/>
<rect x="1408.3" y="887.5" width="13.2" height="9.8" fill="#fff"/>
<rect x="1430.1" y="887.5" width="12.3" height="9.8" fill="#fff"/>
</g>
<text id="xlabel" class="xl" transform="scale(.93 1)" x="711 754.7 776.8 840.7 878.5 899.2 920.4 960.2 997.7 1034.8 1076.6 1120.9 1162.5 1201.1" y="981.6">Time (seconds)</text>
<rect x="835" y="987.2" width="30" height="12" fill="#fff"/><rect x="1110" y="987.2" width="30" height="12" fill="#fff"/>
<text id="ylabel" class="yl" transform="translate(73.3,448.5) rotate(-90) scale(.93 1)" x="-202.6 -151.8 -135.1 -94.7 -71.9 -28.4 -3 38.9 78.6 123.3 160.7" y="0">Disturbance</text>
</svg>
</body></html>
